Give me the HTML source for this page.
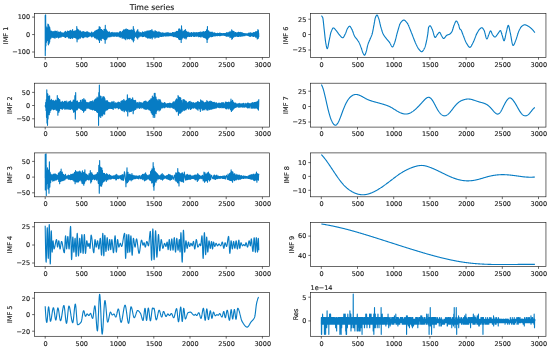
<!DOCTYPE html>
<html lang="en"><head><meta charset="utf-8"><title>Time series</title>
<style>html,body{margin:0;padding:0;background:#fff}body{width:550px;height:351px;overflow:hidden}svg{display:block;filter:blur(0.3px)}text{font-family:"DejaVu Sans","Liberation Sans",sans-serif;fill:#1c1c1c;stroke:#1c1c1c;stroke-width:0.15px}.t{font-size:6.5px}.ti{font-size:7.8px}.sp{fill:none;stroke:#1a1a1a;stroke-width:0.65}.tk{stroke:#1a1a1a;stroke-width:0.65;fill:none}.ln{fill:none;stroke:#077cc4;stroke-width:1.12;stroke-linejoin:round;stroke-linecap:butt}</style></head><body>
<svg width="550" height="351" viewBox="0 0 550 351">
<rect width="550" height="351" fill="#fff"/>
<g>
<clipPath id="c0"><rect x="34.4" y="13.5" width="235.2" height="43.9"/></clipPath>
<polyline class="ln" clip-path="url(#c0)" points="45.2,15.3 45.27,55.6 45.34,43.32 45.42,20 45.49,50 45.56,21.17 45.63,14.91 45.71,25.69 45.78,36.09 45.85,45.11 45.92,45.82 46,34.73 46.07,26.15 46.14,31.48 46.21,41.77 46.29,37.43 46.36,27.45 46.43,35.02 46.5,42.16 46.58,29.27 46.65,32.44 46.72,40.73 46.79,29.2 46.87,34.83 46.94,38.16 47.01,27.7 47.08,39.25 47.15,31.37 47.23,34.73 47.3,36.62 47.37,30.42 47.44,39.32 47.52,27.69 47.59,40.47 47.66,30.53 47.73,33.53 47.81,40.27 47.88,24.16 47.95,38.65 48.02,39.41 48.1,24.49 48.17,34.89 48.24,44.14 48.31,32.28 48.39,24.67 48.46,36.23 48.53,44.87 48.6,32.57 48.68,25.02 48.75,38.15 48.82,40.44 48.89,27.72 48.96,33.19 49.04,42.4 49.11,28.6 49.18,33.47 49.25,43.17 49.33,26.86 49.4,35.19 49.47,41.54 49.54,27.67 49.62,35.53 49.69,41.74 49.76,27.61 49.83,37.1 49.91,38.13 49.98,29.12 50.05,39.36 50.12,32.45 50.2,32.98 50.27,38.39 50.34,32.21 50.41,32.55 50.49,37.13 50.56,36.26 50.63,32.21 50.7,31.13 50.77,34.99 50.85,38.29 50.92,36.14 50.99,31.49 51.06,32.66 51.14,37.64 51.21,34.54 51.28,31 51.35,37.29 51.43,34.83 51.5,31.28 51.57,36.89 51.64,35.46 51.72,31.77 51.79,35.69 51.86,36.71 51.93,32.67 52.01,32.64 52.08,36.47 52.15,36.6 52.22,33.84 52.3,31.98 52.37,32.94 52.44,35.15 52.51,36.88 52.58,37.37 52.66,35.64 52.73,33.35 52.8,31.57 52.87,33.05 52.95,36.8 53.02,36.68 53.09,32.53 53.16,33.71 53.24,37.19 53.31,32.42 53.38,33.83 53.45,37.2 53.53,32.23 53.6,33.61 53.67,37.59 53.74,33.73 53.82,31.65 53.89,36.1 53.96,36.69 54.03,32.47 54.11,32.72 54.18,37.04 54.25,35.7 54.32,31.72 54.39,33.68 54.47,37.83 54.54,35.62 54.61,31.65 54.68,32.83 54.76,36.95 54.83,37.16 54.9,33.15 54.97,30.96 55.05,34.53 55.12,38.07 55.19,35.82 55.26,31.98 55.34,32.47 55.41,36.69 55.48,37.06 55.55,33.8 55.63,31.34 55.7,34.02 55.77,36.81 55.84,36.25 55.92,32.97 55.99,32.38 56.06,35.12 56.13,36.88 56.2,34.54 56.28,31.75 56.35,34.54 56.42,37.28 56.49,33.85 56.57,32.18 56.64,37.33 56.71,34.98 56.78,31.61 56.86,37.44 56.93,33.49 57,33.28 57.07,37.15 57.15,31.18 57.22,36.91 57.29,33.22 57.36,34.81 57.44,35.14 57.51,33.32 57.58,36.11 57.65,33.12 57.73,36.31 57.8,33.11 57.87,36.31 57.94,33.13 58.01,36.27 58.09,32.88 58.16,35.97 58.23,32.84 58.3,36.49 58.38,32.23 58.45,37.83 58.52,32.45 58.59,33.65 58.67,37.85 58.74,34.63 58.81,31.89 58.88,32.59 58.96,35.43 59.03,37.47 59.1,37.13 59.17,36.24 59.25,34.32 59.32,32.94 59.39,32.53 59.46,33.01 59.54,33.68 59.61,34.9 59.68,36.07 59.75,37.18 59.82,36.54 59.9,34.56 59.97,32.61 60.04,32.35 60.11,35.03 60.19,37.07 60.26,34.44 60.33,31.93 60.4,35.48 60.48,36.52 60.55,32.07 60.62,34.57 60.69,36.96 60.77,32.16 60.84,34.32 60.91,37.02 60.98,32.99 61.06,32.39 61.13,35.83 61.2,36.97 61.27,35.11 61.35,33.59 61.42,32.72 61.49,33.02 61.56,33.55 61.63,34.42 61.71,35.53 61.78,36.28 61.85,36.2 61.92,35.38 62,33.59 62.07,32.94 62.14,35.42 62.21,35.48 62.29,32.84 62.36,35.41 62.43,34.9 62.5,33.18 62.58,36.07 62.65,34.15 62.72,33.53 62.79,36.18 62.87,33.88 62.94,33.52 63.01,36.29 63.08,33.73 63.16,33.64 63.23,36.45 63.3,33.34 63.37,33.91 63.44,36.06 63.52,33.74 63.59,33.66 63.66,36.1 63.73,34.67 63.81,32.77 63.88,35.53 63.95,35.72 64.02,32.98 64.1,34.77 64.17,35.89 64.24,32.71 64.31,35.78 64.39,34.28 64.46,33.83 64.53,36.03 64.6,32.43 64.68,37.03 64.75,32.42 64.82,36.94 64.89,32.54 64.97,36.04 65.04,33.54 65.11,34.74 65.18,35.12 65.25,33.14 65.33,36.87 65.4,31.36 65.47,37.54 65.54,32.65 65.62,34.46 65.69,36.46 65.76,31.73 65.83,36.08 65.91,35.7 65.98,32.28 66.05,34.87 66.12,36.91 66.2,33.8 66.27,32.63 66.34,35.22 66.41,36.29 66.49,34.01 66.56,32.73 66.63,35.65 66.7,36.02 66.78,32.56 66.85,34.51 66.92,36.51 66.99,32.43 67.06,35.3 67.14,36.08 67.21,31.87 67.28,36.44 67.35,35.4 67.43,31.04 67.5,36.6 67.57,36.1 67.64,31.66 67.72,35.64 67.79,36.14 67.86,32.27 67.93,36.63 68.01,33.62 68.08,34.4 68.15,35.66 68.22,32.89 68.3,36.98 68.37,31.58 68.44,37.97 68.51,31.8 68.59,36.13 68.66,35.44 68.73,31.54 68.8,37.24 68.87,35.15 68.95,31.21 69.02,36.44 69.09,36.44 69.16,31.44 69.24,36.62 69.31,35.51 69.38,31.92 69.45,37.97 69.53,32.7 69.6,34 69.67,37.32 69.74,31.05 69.82,35.23 69.89,37.63 69.96,32.21 70.03,32.06 70.11,36.97 70.18,38.21 70.25,33.36 70.32,30.25 70.4,34.79 70.47,38.4 70.54,34.23 70.61,30.55 70.68,35.93 70.76,37.71 70.83,32.02 70.9,32.72 70.97,37.74 71.05,34.71 71.12,30.95 71.19,36.41 71.26,36.04 71.34,31.71 71.41,35.84 71.48,35.91 71.55,32.2 71.63,35.3 71.7,36.29 71.77,31.87 71.84,33.72 71.92,37.62 71.99,35.11 72.06,30.55 72.13,33.1 72.21,38.22 72.28,36.75 72.35,30.73 72.42,31.92 72.49,38.32 72.57,35.66 72.64,29.62 72.71,35.07 72.78,38.06 72.86,31.95 72.93,33.27 73,37.26 73.07,33.01 73.15,33.92 73.22,36.49 73.29,31.53 73.36,36.6 73.44,33.48 73.51,34.27 73.58,35.9 73.65,32.22 73.73,37.08 73.8,32.01 73.87,35.37 73.94,36 74.02,31.53 74.09,36.29 74.16,36.72 74.23,31 74.3,33.16 74.38,37.41 74.45,36.48 74.52,32.38 74.59,31.63 74.67,33.96 74.74,36.76 74.81,37.31 74.88,36.04 74.96,33.71 75.03,31.23 75.1,31.04 75.17,33.61 75.25,37.01 75.32,37.36 75.39,34.37 75.46,31.42 75.54,34.17 75.61,37.82 75.68,33.65 75.75,31.99 75.83,37.54 75.9,35.15 75.97,30.81 76.04,37.68 76.11,36.06 76.19,30.26 76.26,36.28 76.33,38.2 76.4,30.84 76.48,31.9 76.55,37.23 76.62,37.28 76.69,33.17 76.77,26.55 76.84,29.57 76.91,34.92 76.98,39.37 77.06,41.82 77.13,40 77.2,37.13 77.27,33.46 77.35,30.22 77.42,29.06 77.49,29.68 77.56,32.67 77.64,36.81 77.71,38.94 77.78,37.71 77.85,34.2 77.92,31.44 78,32.7 78.07,37.08 78.14,37.84 78.21,31.65 78.29,31.63 78.36,38.9 78.43,36.09 78.5,29.78 78.58,34.44 78.65,39.04 78.72,34.52 78.79,29.98 78.87,32.81 78.94,37.64 79.01,38.72 79.08,35.82 79.16,32.37 79.23,31.39 79.3,32.89 79.37,35.24 79.45,36.74 79.52,36.49 79.59,34.26 79.66,32.33 79.73,32.74 79.81,34.91 79.88,37.44 79.95,36.51 80.02,33.4 80.1,30.82 80.17,32.43 80.24,36.41 80.31,38.24 80.39,34.9 80.46,31.02 80.53,33.55 80.6,37.39 80.68,34.46 80.75,31.88 80.82,36.8 80.89,35.3 80.97,31.97 81.04,35.86 81.11,35.5 81.18,32.52 81.26,34.92 81.33,36.35 81.4,33.82 81.47,32.35 81.54,34.76 81.62,36.74 81.69,35.27 81.76,32.66 81.83,32.35 81.91,34.83 81.98,37.02 82.05,36.55 82.12,34.76 82.2,32.62 82.27,31.87 82.34,32.2 82.41,33.4 82.49,35.31 82.56,37.22 82.63,37.62 82.7,36.93 82.78,34.97 82.85,32.36 82.92,31.7 82.99,32.5 83.07,35.92 83.14,37.55 83.21,35.85 83.28,31.98 83.35,31.82 83.43,35.55 83.5,37.75 83.57,33.91 83.64,31.62 83.72,35.64 83.79,36.5 83.86,32.49 83.93,34.22 84.01,36.45 84.08,32.86 84.15,34.37 84.22,36.23 84.3,32.48 84.37,35.73 84.44,35.03 84.51,32.25 84.59,37 84.66,34.07 84.73,32.23 84.8,36.44 84.88,36.08 84.95,33.04 85.02,32.22 85.09,34.77 85.16,36.24 85.24,35.18 85.31,32.82 85.38,33.86 85.45,36.28 85.53,33.9 85.6,33.53 85.67,36.43 85.74,32.79 85.82,35.09 85.89,35.23 85.96,32.39 86.03,36.97 86.11,32.39 86.18,34.86 86.25,35.92 86.32,31.9 86.4,36.99 86.47,32.49 86.54,35.03 86.61,35.44 86.69,32.58 86.76,36.15 86.83,34.4 86.9,33.01 86.97,35.61 87.05,36.79 87.12,34.58 87.19,32.47 87.26,31.95 87.34,33.32 87.41,35.15 87.48,36.46 87.55,37.3 87.63,36.04 87.7,33.75 87.77,31.9 87.84,33.07 87.92,36.28 87.99,35.96 88.06,32.36 88.13,35.28 88.21,35.55 88.28,32.42 88.35,36.78 88.42,32.69 88.5,36.38 88.57,32.79 88.64,35.99 88.71,33.18 88.78,35.94 88.86,33.31 88.93,35.92 89,33.19 89.07,35.94 89.15,33.06 89.22,35.96 89.29,32.9 89.36,36.13 89.44,33.2 89.51,35.18 89.58,35.09 89.65,33.11 89.73,35.67 89.8,35.17 89.87,33.04 89.94,34.62 90.02,35.71 90.09,33.89 90.16,33.76 90.23,35.8 90.31,34.3 90.38,33.65 90.45,35.75 90.52,34.19 90.59,33.84 90.67,35.75 90.74,34.04 90.81,33.6 90.88,35.98 90.96,34.49 91.03,33.04 91.1,35.89 91.17,34.76 91.25,33.05 91.32,36.61 91.39,32.24 91.46,36.45 91.54,32.34 91.61,36.54 91.68,32.33 91.75,36.89 91.83,32.18 91.9,36.91 91.97,32.5 92.04,35.73 92.12,35.16 92.19,32.71 92.26,35.08 92.33,36.11 92.4,34.55 92.48,33.16 92.55,33.73 92.62,35.56 92.69,35.92 92.77,33.76 92.84,33.05 92.91,35.41 92.98,36.16 93.06,33.43 93.13,33.27 93.2,35.75 93.27,35.83 93.35,33.34 93.42,33.51 93.49,35.98 93.56,35.26 93.64,32.58 93.71,35.62 93.78,34.76 93.85,33.46 93.93,36 94,32.77 94.07,36.47 94.14,32.54 94.21,36.85 94.29,32.23 94.36,37.29 94.43,31.76 94.5,37.06 94.58,31.74 94.65,37.47 94.72,31.84 94.79,37.1 94.87,31.83 94.94,37.84 95.01,31.61 95.08,36.48 95.16,35.14 95.23,30.93 95.3,35.97 95.37,37.99 95.45,33.89 95.52,30.98 95.59,33.71 95.66,37.31 95.74,35.68 95.81,32.75 95.88,33.44 95.95,37.15 96.02,35.5 96.1,31.27 96.17,33.85 96.24,37.95 96.31,36.37 96.39,32.28 96.46,30.34 96.53,32.2 96.6,35.59 96.68,37.83 96.75,39.07 96.82,37.47 96.89,34.34 96.97,30.19 97.04,31.67 97.11,37.58 97.18,36.94 97.26,29.96 97.33,38.03 97.4,33.17 97.47,34.64 97.55,35.06 97.62,33.64 97.69,35.72 97.76,32.99 97.83,36.88 97.91,30.87 97.98,39.28 98.05,29.83 98.12,36.74 98.2,36.97 98.27,29.35 98.34,38.8 98.41,34.88 98.49,30.8 98.56,39.88 98.63,31.18 98.7,35.22 98.78,36.33 98.85,30.4 98.92,39.25 98.99,30.51 99.07,36.67 99.14,35.49 99.21,26.55 99.28,39.31 99.36,32.82 99.43,30.9 99.5,42.55 99.57,32.68 99.64,30.59 99.72,39.62 99.79,34.71 99.86,28.64 99.93,37.34 100.01,39.75 100.08,31.47 100.15,27.31 100.22,33.94 100.3,39.26 100.37,39.06 100.44,34.53 100.51,29.66 100.59,29.3 100.66,33.25 100.73,37.47 100.8,38.06 100.88,36.4 100.95,32.14 101.02,29.8 101.09,31.29 101.17,36.5 101.24,40.53 101.31,37.43 101.38,31.34 101.45,29.54 101.53,36.72 101.6,38.38 101.67,29.46 101.74,36.21 101.82,36.54 101.89,30.01 101.96,38.51 102.03,31.93 102.11,34.14 102.18,37.69 102.25,31.36 102.32,34.25 102.4,37.82 102.47,34.26 102.54,30.51 102.61,33.51 102.69,37.36 102.76,38.12 102.83,34.13 102.9,31.39 102.98,33.14 103.05,37.26 103.12,35.86 103.19,32.21 103.26,34.5 103.34,37 103.41,32.4 103.48,34.25 103.55,37.73 103.63,31.81 103.7,32.78 103.77,38.67 103.84,37.28 103.92,32.6 103.99,29.23 104.06,30.14 104.13,31.43 104.21,34.8 104.28,38.14 104.35,39.46 104.42,39.25 104.5,36.84 104.57,34.37 104.64,31.55 104.71,29.49 104.79,32.26 104.86,38.98 104.93,39.8 105,30.33 105.07,29.83 105.15,43.27 105.22,35.89 105.29,25.38 105.36,38.83 105.44,33.45 105.51,32.63 105.58,37.92 105.65,30.46 105.73,38.91 105.8,28.95 105.87,39.71 105.94,30.14 106.02,38.43 106.09,31.82 106.16,34.69 106.23,37.21 106.31,29.7 106.38,38.21 106.45,33.27 106.52,32.39 106.6,38.14 106.67,30.46 106.74,38.92 106.81,30.82 106.88,37.96 106.96,30.86 107.03,37.63 107.1,31.74 107.17,37.86 107.25,31.49 107.32,37.27 107.39,31.77 107.46,36.64 107.54,33.16 107.61,34.49 107.68,36.64 107.75,31.71 107.83,36.12 107.9,35.58 107.97,32.07 108.04,35.06 108.12,36.83 108.19,33.16 108.26,33.07 108.33,36.62 108.41,34.06 108.48,33.42 108.55,36.39 108.62,32.6 108.69,36.62 108.77,32.77 108.84,36.64 108.91,32.62 108.98,36.62 109.06,31.96 109.13,36.93 109.2,31.96 109.27,36.97 109.35,31.89 109.42,36.85 109.49,32.11 109.56,36.57 109.64,33.73 109.71,33.97 109.78,36.29 109.85,32.55 109.93,35.97 110,34.74 110.07,33.09 110.14,36.2 110.22,34.1 110.29,33.34 110.36,36.3 110.43,33.86 110.5,33.61 110.58,36.29 110.65,33.49 110.72,33.65 110.79,36.66 110.87,33.84 110.94,33.29 111.01,36.31 111.08,34.48 111.16,32.83 111.23,35.94 111.3,34.45 111.37,33.34 111.45,36.03 111.52,33.49 111.59,34.13 111.66,36.22 111.74,32.6 111.81,35.04 111.88,36.03 111.95,32.56 112.03,35.08 112.1,36.13 112.17,32.29 112.24,35.62 112.31,34.5 112.39,33.96 112.46,35.36 112.53,33.57 112.6,35.59 112.68,33.4 112.75,35.67 112.82,33.36 112.89,35.92 112.97,33.45 113.04,35.62 113.11,33.51 113.18,35.76 113.26,33.32 113.33,36.02 113.4,32.93 113.47,36.19 113.55,33.34 113.62,35.12 113.69,34.92 113.76,33.17 113.84,36 113.91,34.24 113.98,32.97 114.05,35.7 114.12,35.76 114.2,33.44 114.27,33.01 114.34,35.04 114.41,36.12 114.49,34.76 114.56,32.93 114.63,34.41 114.7,36.06 114.78,33.53 114.85,34.06 114.92,36.07 114.99,32.79 115.07,35.65 115.14,34.36 115.21,33.78 115.28,36 115.36,32.84 115.43,35.71 115.5,34.86 115.57,33.2 115.65,35.96 115.72,34.07 115.79,33.94 115.86,35.63 115.93,33.32 116.01,35.62 116.08,33.5 116.15,35.61 116.22,33.32 116.3,35.75 116.37,33.46 116.44,35.44 116.51,34.56 116.59,33.05 116.66,36.35 116.73,34.63 116.8,32.68 116.88,33.54 116.95,35.31 117.02,36.34 117.09,36.52 117.17,36.08 117.24,34.87 117.31,33.75 117.38,32.86 117.46,33.02 117.53,33.33 117.6,34.3 117.67,35.16 117.74,35.84 117.82,35.72 117.89,35.21 117.96,34.06 118.03,33.27 118.11,34.8 118.18,35.69 118.25,33.41 118.32,34.72 118.4,35.41 118.47,33.18 118.54,35.86 118.61,33.49 118.69,35 118.76,35.05 118.83,33.08 118.9,36.15 118.98,33.77 119.05,33.63 119.12,36.63 119.19,33.76 119.27,32.9 119.34,36.65 119.41,34.68 119.48,32.1 119.55,36.4 119.63,35.56 119.7,32.07 119.77,35.93 119.84,35.87 119.92,31.97 119.99,35.74 120.06,36.87 120.13,32.44 120.21,32.33 120.28,36.14 120.35,37.25 120.42,34.74 120.5,31.51 120.57,32.27 120.64,36.04 120.71,37.08 120.79,33.25 120.86,33.01 120.93,36.9 121,34.26 121.08,33.27 121.15,36.24 121.22,33.81 121.29,32.95 121.36,36.32 121.44,35.67 121.51,32.6 121.58,32.78 121.65,34.72 121.73,36.41 121.8,36.18 121.87,34.37 121.94,32.13 122.02,32.55 122.09,36.13 122.16,38.27 122.23,34.54 122.31,31.26 122.38,33.87 122.45,37.97 122.52,34.23 122.6,31.27 122.67,37.4 122.74,34.09 122.81,32.76 122.89,36.91 122.96,31.39 123.03,37.5 123.1,31.94 123.17,37.25 123.25,31.43 123.32,37.58 123.39,31.58 123.46,38.01 123.54,30.06 123.61,37.19 123.68,36 123.75,29.93 123.83,35.16 123.9,38.3 123.97,33.03 124.04,30.67 124.12,36.78 124.19,37.37 124.26,30.17 124.33,35.26 124.41,37.51 124.48,30.31 124.55,37.25 124.62,35.07 124.7,31.05 124.77,38.37 124.84,32.78 124.91,31.22 124.98,38.88 125.06,35.04 125.13,29.59 125.2,33.41 125.27,38.52 125.35,38.3 125.42,34.76 125.49,31.07 125.56,30.1 125.64,31.85 125.71,35.71 125.78,39.64 125.85,36.27 125.93,30.86 126,33.86 126.07,37.29 126.14,28.73 126.22,37.13 126.29,31.35 126.36,36.96 126.43,31.94 126.51,37.19 126.58,31.77 126.65,37.75 126.72,30.96 126.79,37.44 126.87,32.54 126.94,33.59 127.01,38.21 127.08,29.86 127.16,36.03 127.23,37.16 127.3,29.6 127.37,36.28 127.45,37.38 127.52,29.8 127.59,34.16 127.66,38.9 127.74,33.94 127.81,29.62 127.88,33.88 127.95,37.53 128.03,36.89 128.1,33.96 128.17,31.51 128.24,32.52 128.32,35.33 128.39,38.37 128.46,38.17 128.53,34.72 128.6,30.85 128.68,30.31 128.75,32.55 128.82,36.55 128.89,38.53 128.97,38.55 129.04,35 129.11,31.26 129.18,30.26 129.26,32.97 129.33,38.04 129.4,38.97 129.47,33.17 129.55,30.35 129.62,37.64 129.69,35.04 129.76,32.11 129.84,37.13 129.91,31.62 129.98,37.38 130.05,31.01 130.13,37.97 130.2,31.33 130.27,37.53 130.34,33.47 130.41,32.62 130.49,37.83 130.56,34.33 130.63,30.29 130.7,35.02 130.78,38.53 130.85,34.45 130.92,30.01 130.99,35.64 131.07,38.17 131.14,30.66 131.21,34.23 131.28,38.59 131.36,29.7 131.43,33.89 131.5,38.97 131.57,32.75 131.65,30.11 131.72,36.82 131.79,37.77 131.86,32.99 131.94,30.91 132.01,35.92 132.08,38.99 132.15,31.8 132.22,30.95 132.3,39.87 132.37,30.24 132.44,36.23 132.51,33.88 132.59,34.66 132.66,34.43 132.73,34.65 132.8,34.44 132.88,34.68 132.95,34.41 133.02,34.06 133.09,36.2 133.17,31.13 133.24,39.9 133.31,26.55 133.38,41.82 133.46,29.08 133.53,36.28 133.6,36.21 133.67,28.87 133.75,40.12 133.82,31.43 133.89,31.9 133.96,40.45 134.03,32.96 134.11,29.64 134.18,37.58 134.25,37.85 134.32,31.31 134.4,31.43 134.47,37.74 134.54,35.9 134.61,31.19 134.69,35.07 134.76,37.08 134.83,32.78 134.9,33.82 134.98,36.57 135.05,33.62 135.12,33.62 135.19,36.56 135.27,33.17 135.34,35.1 135.41,34.77 135.48,33.9 135.56,35.43 135.63,33.7 135.7,35.64 135.77,33.44 135.84,35.67 135.92,33.25 135.99,36.2 136.06,32.67 136.13,36.16 136.21,32.88 136.28,36.3 136.35,32.92 136.42,36.41 136.5,32.87 136.57,36.36 136.64,31.8 136.71,37.67 136.79,31.25 136.86,37.22 136.93,32.67 137,34.18 137.08,36.38 137.15,30.63 137.22,37.75 137.29,31.11 137.37,36.32 137.44,33.38 137.51,34.93 137.58,34.88 137.65,33.22 137.73,38.91 137.8,29.45 137.87,36.38 137.94,34.86 138.02,31.59 138.09,36.85 138.16,34.84 138.23,32.11 138.31,36.32 138.38,35.23 138.45,32.16 138.52,35.36 138.6,36.2 138.67,32.61 138.74,33.39 138.81,37.19 138.89,34.34 138.96,31.98 139.03,36.18 139.1,35.09 139.18,31.94 139.25,36.72 139.32,33.28 139.39,34.89 139.46,34.72 139.54,34.23 139.61,34.8 139.68,34.27 139.75,34.78 139.83,34.23 139.9,34.8 139.97,34.21 140.04,34.84 140.12,34.19 140.19,35.11 140.26,33.33 140.33,36.03 140.41,32.59 140.48,35.59 140.55,35.39 140.62,32.72 140.7,33.67 140.77,35.67 140.84,36.31 140.91,35.98 140.99,35.21 141.06,34.17 141.13,33.61 141.2,33.13 141.27,33.43 141.35,34.02 141.42,34.9 141.49,35.88 141.56,35.88 141.64,33.64 141.71,32.94 141.78,35.69 141.85,35.61 141.93,33.09 142,34.33 142.07,35.71 142.14,34.29 142.22,32.87 142.29,34.78 142.36,36.58 142.43,34.66 142.51,31.93 142.58,33.91 142.65,36.46 142.72,35.86 142.8,32.36 142.87,32.79 142.94,35.64 143.01,36.17 143.08,33.99 143.16,32.82 143.23,34.99 143.3,36.26 143.37,33.04 143.45,33.79 143.52,36.52 143.59,32.36 143.66,35.77 143.74,34.48 143.81,33.42 143.88,36.23 143.95,32.46 144.03,36.27 144.1,32.92 144.17,35.96 144.24,33.23 144.32,35.87 144.39,33.01 144.46,35.83 144.53,32.8 144.61,35.89 144.68,33.33 144.75,34.88 144.82,35.83 144.89,31.63 144.97,35.98 145.04,36.18 145.11,32.6 145.18,32.78 145.26,35.96 145.33,35.92 145.4,32.5 145.47,34.31 145.55,36.81 145.62,31.78 145.69,35.48 145.76,35.56 145.84,31.97 145.91,36.99 145.98,34.06 146.05,31.94 146.13,36.84 146.2,36.09 146.27,32.16 146.34,33.42 146.42,37 146.49,34.26 146.56,32.89 146.63,36.4 146.7,33.67 146.78,33.89 146.85,36.66 146.92,31.07 146.99,37.49 147.07,31.58 147.14,36.01 147.21,35.2 147.28,31.6 147.36,37.45 147.43,35.98 147.5,31.48 147.57,31.39 147.65,34.9 147.72,37.41 147.79,38.07 147.86,36.24 147.94,33.32 148.01,30.9 148.08,32.54 148.15,37.26 148.23,36.25 148.3,31.31 148.37,35.42 148.44,35.61 148.51,32.36 148.59,36.49 148.66,32.79 148.73,34.84 148.8,36.14 148.88,31.1 148.95,38.01 149.02,33.23 149.09,32.23 149.17,37.78 149.24,32.95 149.31,32.18 149.38,37.83 149.46,32.65 149.53,33.71 149.6,37.14 149.67,31.1 149.75,35.36 149.82,36.46 149.89,30.66 149.96,36.84 150.04,36.26 150.11,30.92 150.18,34.85 150.25,38.17 150.32,33.94 150.4,30.74 150.47,34.33 150.54,38.23 150.61,35.3 150.69,30.82 150.76,34.97 150.83,37.8 150.9,30.64 150.98,36.05 151.05,35.25 151.12,32.16 151.19,37.73 151.27,31.22 151.34,36.76 151.41,33.47 151.48,33.16 151.56,37 151.63,32.7 151.7,32.87 151.77,36.47 151.85,35.22 151.92,29.45 151.99,35.26 152.06,35.85 152.13,32.09 152.21,38.91 152.28,32.01 152.35,37.03 152.42,32.04 152.5,36.99 152.57,31.44 152.64,37.17 152.71,31.37 152.79,37.12 152.86,31.82 152.93,37.14 153,31.23 153.08,37.04 153.15,31.38 153.22,36.98 153.29,32.12 153.37,35.11 153.44,35.73 153.51,32.17 153.58,36.13 153.66,34.97 153.73,32.32 153.8,36.89 153.87,33.09 153.94,34.67 154.02,35.45 154.09,32.81 154.16,36.55 154.23,32.24 154.31,36.81 154.38,31.98 154.45,36.66 154.52,32.48 154.6,36.03 154.67,33.74 154.74,34.19 154.81,36.09 154.89,31.8 154.96,38.14 155.03,30.66 155.1,37.41 155.18,32.58 155.25,34.1 155.32,37.18 155.39,30.94 155.47,35.9 155.54,36.69 155.61,32.28 155.68,33.28 155.75,36.94 155.83,36.22 155.9,32.98 155.97,32.25 156.04,34.71 156.12,37.09 156.19,34.93 156.26,31.89 156.33,35.14 156.41,36.47 156.48,31.63 156.55,36.64 156.62,33.18 156.7,34.87 156.77,35.04 156.84,33.44 156.91,36.39 156.99,32.21 157.06,37.21 157.13,32.09 157.2,36.38 157.28,33.91 157.35,33.51 157.42,36.68 157.49,32.77 157.56,33.87 157.64,36.99 157.71,34.3 157.78,32.21 157.85,35.27 157.93,36.43 158,33.01 158.07,33.48 158.14,37.02 158.22,32.7 158.29,35.29 158.36,34.74 158.43,33.79 158.51,35.57 158.58,33.01 158.65,36.3 158.72,31.76 158.8,37.5 158.87,33 158.94,33.09 159.01,37.1 159.09,36.34 159.16,33.67 159.23,31.98 159.3,32.23 159.37,33.85 159.45,35.6 159.52,36.25 159.59,35.92 159.66,34.15 159.74,33.21 159.81,34.13 159.88,36.05 159.95,34.95 160.03,32.84 160.1,34.78 160.17,36.29 160.24,33.77 160.32,32.61 160.39,34.75 160.46,36.39 160.53,35.74 160.61,34.47 160.68,33.38 160.75,33.35 160.82,33.44 160.9,34.25 160.97,35.19 161.04,36.02 161.11,34.92 161.18,33.15 161.26,34.07 161.33,36.34 161.4,33.79 161.47,33.45 161.55,36.38 161.62,33.64 161.69,33.86 161.76,36.29 161.84,33.33 161.91,33.68 161.98,36.5 162.05,33.99 162.13,32.85 162.2,35.86 162.27,35.13 162.34,33.31 162.42,34.83 162.49,35.49 162.56,33.65 162.63,34.81 162.71,35.21 162.78,33.28 162.85,35.94 162.92,32.82 162.99,36.01 163.07,33.3 163.14,35.44 163.21,34.14 163.28,33.97 163.36,36.2 163.43,33.2 163.5,34.36 163.57,35.94 163.65,34.53 163.72,33.41 163.79,34.01 163.86,35.22 163.94,35.54 164.01,34.67 164.08,33.33 164.15,33.4 164.23,35.06 164.3,35.86 164.37,34.59 164.44,33.28 164.52,34.49 164.59,35.59 164.66,34.08 164.73,33.67 164.8,35.3 164.88,34.83 164.95,33.53 165.02,34.56 165.09,35.7 165.17,34.96 165.24,33.61 165.31,33.09 165.38,33.52 165.46,34.45 165.53,35.24 165.6,35.9 165.67,36.1 165.75,35.48 165.82,34.66 165.89,33.72 165.96,33.09 166.04,33.43 166.11,33.78 166.18,34.48 166.25,35 166.33,35.59 166.4,35.45 166.47,34.8 166.54,33.42 166.61,32.84 166.69,34.63 166.76,35.86 166.83,34.61 166.9,33.15 166.98,35.37 167.05,34.77 167.12,33.4 167.19,35.81 167.27,33.16 167.34,35.76 167.41,33.1 167.48,35.84 167.56,33.31 167.63,35.65 167.7,33.06 167.77,35.75 167.85,32.9 167.92,35.15 167.99,35.08 168.06,33.1 168.14,34.97 168.21,35.69 168.28,33.92 168.35,32.85 168.42,34.53 168.5,35.92 168.57,35.49 168.64,33.73 168.71,33.02 168.79,34.1 168.86,35.54 168.93,35.55 169,33.69 169.08,33.3 169.15,35.41 169.22,35.53 169.29,33.36 169.37,34.18 169.44,35.6 169.51,33.85 169.58,33.91 169.66,35.61 169.73,33.85 169.8,34.34 169.87,35.32 169.95,33.43 170.02,35.34 170.09,34.32 170.16,33.98 170.23,35.52 170.31,33.7 170.38,34.87 170.45,35.06 170.52,33.52 170.6,35.41 170.67,34.49 170.74,33.67 170.81,35.81 170.89,33.16 170.96,35.47 171.03,34.05 171.1,34.6 171.18,34.79 171.25,34.01 171.32,35.4 171.39,33.52 171.47,35.55 171.54,34.08 171.61,33.93 171.68,35.48 171.76,33.94 171.83,33.96 171.9,35.83 171.97,34.1 172.04,33.84 172.12,35.93 172.19,33.51 172.26,34.6 172.33,35.63 172.41,32.62 172.48,35.98 172.55,34.75 172.62,32.84 172.7,35.78 172.77,35.85 172.84,33.54 172.91,32.58 172.99,33.65 173.06,34.78 173.13,35.89 173.2,36.16 173.28,36.37 173.35,35.52 173.42,34.28 173.49,33.13 173.57,32.62 173.64,32.69 173.71,33.8 173.78,35.45 173.85,36.57 173.93,34.85 174,32.82 174.07,34.75 174.14,35.9 174.22,33.14 174.29,35.16 174.36,34.89 174.43,33.56 174.51,35.94 174.58,33.03 174.65,36.13 174.72,32.58 174.8,36.21 174.87,32.44 174.94,36.54 175.01,32.27 175.09,36.75 175.16,32.16 175.23,36.5 175.3,32.71 175.38,36.2 175.45,33.9 175.52,33.53 175.59,36.81 175.66,33.12 175.74,33.16 175.81,36.47 175.88,35.98 175.95,33.08 176.03,32.38 176.1,34.32 176.17,36.84 176.24,36.83 176.32,35.26 176.39,32.29 176.46,31.39 176.53,32.62 176.61,36.06 176.68,37.29 176.75,34.64 176.82,31.79 176.9,34.76 176.97,37.19 177.04,31.6 177.11,35.62 177.19,35.56 177.26,32.14 177.33,37.25 177.4,31.77 177.47,37.49 177.55,31.35 177.62,37.33 177.69,31.85 177.76,36.83 177.84,32.18 177.91,36.54 177.98,32.23 178.05,36.77 178.13,32.15 178.2,36.91 178.27,32.19 178.34,36.87 178.42,31.89 178.49,37.93 178.56,30.87 178.63,38.85 178.71,28.94 178.78,38.89 178.85,29.72 178.92,36.91 179,34.6 179.07,32.37 179.14,38.35 179.21,29.33 179.28,39.61 179.36,28.99 179.43,39.02 179.5,31.63 179.57,34.33 179.65,38.13 179.72,28.93 179.79,37.06 179.86,38.05 179.94,30.18 180.01,32.51 180.08,39.37 180.15,33.55 180.23,29.81 180.3,38.68 180.37,33.61 180.44,32.21 180.52,37.99 180.59,30.55 180.66,37.75 180.73,31.18 180.81,36.84 180.88,33.12 180.95,34.26 181.02,36.82 181.09,30.33 181.17,42.55 181.24,34.62 181.31,29.99 181.38,38.63 181.46,35.93 181.53,25.82 181.6,37.76 181.67,35.82 181.75,30.12 181.82,39.25 181.89,29.12 181.96,38.85 182.04,29.98 182.11,38.27 182.18,30.98 182.25,38.02 182.33,31.69 182.4,37.89 182.47,32 182.54,37.43 182.62,31.99 182.69,37.18 182.76,32.22 182.83,37.34 182.9,31.98 182.98,36.83 183.05,32.95 183.12,35.03 183.19,35.89 183.27,31.65 183.34,36.34 183.41,35.72 183.48,31.93 183.56,34.08 183.63,37.29 183.7,35.5 183.77,31.8 183.85,32.24 183.92,36.63 183.99,37.56 184.06,33.53 184.14,30.54 184.21,34.76 184.28,38.21 184.35,34.76 184.43,30.9 184.5,34.05 184.57,37.68 184.64,34.84 184.71,30.72 184.79,35.05 184.86,38.04 184.93,31.81 185,32.54 185.08,37.72 185.15,31.92 185.22,34.05 185.29,37.2 185.37,29.45 185.44,36.16 185.51,35.14 185.58,31.92 185.66,36 185.73,35.96 185.8,32.45 185.87,31.97 185.95,35.09 186.02,38.91 186.09,36.87 186.16,34.32 186.24,31.22 186.31,31.3 186.38,36.09 186.45,38 186.52,32.59 186.6,32.19 186.67,37.54 186.74,31.8 186.81,34.94 186.89,35.46 186.96,32.7 187.03,36.5 187.1,32.31 187.18,36.48 187.25,32.5 187.32,36.24 187.39,32.43 187.47,36.15 187.54,33.05 187.61,35.46 187.68,34.5 187.76,33.23 187.83,36.42 187.9,33.91 187.97,32.41 188.05,35.46 188.12,36.33 188.19,34.43 188.26,32.13 188.33,32.94 188.41,35.29 188.48,36.28 188.55,35.68 188.62,34.14 188.7,32.99 188.77,33.37 188.84,35.05 188.91,36.09 188.99,35.25 189.06,33.15 189.13,32.77 189.2,35.59 189.28,36.27 189.35,33.09 189.42,33.64 189.49,36.39 189.57,33.23 189.64,34.41 189.71,35.64 189.78,32.94 189.86,35.67 189.93,33.84 190,34.63 190.07,35.03 190.14,33.31 190.22,35.94 190.29,33.54 190.36,34.05 190.43,36.09 190.51,33.48 190.58,33.36 190.65,35.75 190.72,35.62 190.8,33.27 190.87,32.91 190.94,35.32 191.01,36.21 191.09,33.5 191.16,32.93 191.23,35.8 191.3,35.66 191.38,32.94 191.45,34.3 191.52,36.38 191.59,33.23 191.67,34.49 191.74,35.68 191.81,32.47 191.88,36.1 191.95,32.61 192.03,35.97 192.1,32.94 192.17,35.9 192.24,33.15 192.32,35.52 192.39,33.49 192.46,35.22 192.53,34.22 192.61,34.2 192.68,35.5 192.75,33.52 192.82,34.03 192.9,35.53 192.97,34.97 193.04,33.73 193.11,33.65 193.19,34.7 193.26,35.74 193.33,35.76 193.4,34.64 193.48,32.96 193.55,32.71 193.62,34.63 193.69,36.45 193.76,34.86 193.84,32.43 193.91,35.18 193.98,35.61 194.05,33.1 194.13,35.91 194.2,33.77 194.27,34.86 194.34,34.55 194.42,34.25 194.49,35.15 194.56,33.49 194.63,36.12 194.71,32.87 194.78,36.47 194.85,33.43 194.92,34.35 195,36 195.07,32.82 195.14,35.5 195.21,34.74 195.29,33.58 195.36,35.83 195.43,33.58 195.5,35.57 195.57,33.57 195.65,35.29 195.72,34.03 195.79,34.84 195.86,34.71 195.94,33.82 196.01,35.77 196.08,32.66 196.15,36.09 196.23,33.93 196.3,33.97 196.37,35.69 196.44,33.29 196.52,35.22 196.59,34.57 196.66,33.66 196.73,36.2 196.81,32.73 196.88,35.26 196.95,35.25 197.02,32.66 197.1,36.2 197.17,34.65 197.24,32.7 197.31,36.04 197.38,35.24 197.46,33.01 197.53,35.14 197.6,35.48 197.67,33.13 197.75,35.09 197.82,35.04 197.89,33.33 197.96,35.8 198.04,33.39 198.11,35.67 198.18,33.88 198.25,34.93 198.33,34.73 198.4,33.76 198.47,36.1 198.54,32.65 198.62,36.62 198.69,33.35 198.76,34.04 198.83,36.7 198.91,32.59 198.98,35.24 199.05,35.47 199.12,32.96 199.19,35.86 199.27,32.94 199.34,35.94 199.41,32.61 199.48,36.53 199.56,32.19 199.63,36.39 199.7,32.49 199.77,36.37 199.85,33.47 199.92,34.32 199.99,36.36 200.06,33.11 200.14,33.43 200.21,35.68 200.28,36.37 200.35,34.47 200.43,32.54 200.5,32.97 200.57,35.16 200.64,36.93 200.72,36.23 200.79,33.65 200.86,31.91 200.93,33.1 201,35.55 201.08,36.97 201.15,35.72 201.22,32.91 201.29,32.21 201.37,34.42 201.44,36.36 201.51,35.73 201.58,33.53 201.66,32.69 201.73,34.3 201.8,35.91 201.87,35.71 201.95,34.05 202.02,32.99 202.09,33.82 202.16,35.81 202.24,35.77 202.31,34 202.38,32.47 202.45,34.21 202.53,36.22 202.6,35.86 202.67,32.99 202.74,32.58 202.81,35.26 202.89,36.84 202.96,34.14 203.03,31.59 203.1,35.32 203.18,37.06 203.25,32.31 203.32,33.29 203.39,37.05 203.47,33.58 203.54,32.55 203.61,37.21 203.68,34.18 203.76,31.74 203.83,36.97 203.9,34.12 203.97,32.64 204.05,37.56 204.12,31.85 204.19,37.19 204.26,32.31 204.34,35.93 204.41,33.47 204.48,35.02 204.55,34.83 204.62,33.14 204.7,36.66 204.77,32.61 204.84,34.88 204.91,36.78 204.99,32.84 205.06,32.11 205.13,35.39 205.2,37.98 205.28,36.37 205.35,32.37 205.42,31.58 205.49,35.03 205.57,37.89 205.64,33.62 205.71,31.71 205.78,37.42 205.86,34.28 205.93,32.63 206,37.76 206.07,31.36 206.15,37.83 206.22,31.52 206.29,38.17 206.36,31.18 206.43,38.89 206.51,30.06 206.58,38.73 206.65,29.88 206.72,39.22 206.8,30.54 206.87,36.3 206.94,36.7 207.01,29.38 207.09,42.55 207.16,36.07 207.23,29.57 207.3,36.6 207.38,36.15 207.45,26.55 207.52,37.25 207.59,34.95 207.67,30.7 207.74,39.36 207.81,32.27 207.88,32.65 207.96,38.24 208.03,33.26 208.1,31.44 208.17,37.05 208.24,37.06 208.32,31.49 208.39,32.42 208.46,38.01 208.53,35.13 208.61,30.87 208.68,36.21 208.75,35.82 208.82,31.34 208.9,36.16 208.97,36.11 209.04,31.81 209.11,35.09 209.19,36.67 209.26,32.15 209.33,33.5 209.4,37.2 209.48,33.63 209.55,32.43 209.62,36.85 209.69,34.01 209.77,33 209.84,36.6 209.91,33 209.98,34.47 210.05,36.05 210.13,31.96 210.2,35.53 210.27,35.72 210.34,32.5 210.42,34.06 210.49,35.83 210.56,35.43 210.63,34.23 210.71,33.11 210.78,32.63 210.85,33.48 210.92,35.05 211,36.61 211.07,36.61 211.14,34.9 211.21,32.82 211.29,32.37 211.36,35.29 211.43,36.71 211.5,33.42 211.58,32.67 211.65,36.48 211.72,34.34 211.79,32.69 211.86,36.54 211.94,33.64 212.01,33.77 212.08,36.51 212.15,32.03 212.23,36.2 212.3,33.73 212.37,34.37 212.44,35.57 212.52,32.96 212.59,36.22 212.66,32.68 212.73,36.33 212.81,32.85 212.88,35.92 212.95,32.93 213.02,35.65 213.1,33.31 213.17,35.76 213.24,33.68 213.31,34.45 213.39,35.94 213.46,34.11 213.53,33.19 213.6,34.59 213.67,35.75 213.75,34.77 213.82,33.41 213.89,34.42 213.96,35.74 214.04,34.14 214.11,33.41 214.18,35.65 214.25,34.94 214.33,33.14 214.4,35.19 214.47,35.48 214.54,32.85 214.62,34.88 214.69,35.89 214.76,32.95 214.83,35.02 214.91,35.19 214.98,33.34 215.05,35.94 215.12,33.35 215.2,35.14 215.27,34.57 215.34,33.98 215.41,35.65 215.48,33.61 215.56,35.02 215.63,34.95 215.7,33.35 215.77,35.54 215.85,34.22 215.92,34.06 215.99,35.5 216.06,33.81 216.14,34.39 216.21,35.58 216.28,33.77 216.35,34.41 216.43,35.41 216.5,34.06 216.57,33.78 216.64,35.25 216.72,35.33 216.79,34.02 216.86,33.65 216.93,34.32 217.01,35.41 217.08,35.66 217.15,34.77 217.22,33.57 217.29,33.35 217.37,34.6 217.44,35.74 217.51,35.08 217.58,33.49 217.66,33.95 217.73,35.6 217.8,34.88 217.87,33.43 217.95,34.74 218.02,35.54 218.09,33.74 218.16,34.23 218.24,35.49 218.31,33.91 218.38,34.39 218.45,35.26 218.53,33.72 218.6,34.69 218.67,35.11 218.74,33.64 218.82,34.73 218.89,35.2 218.96,33.85 219.03,34 219.1,35.42 219.18,34.99 219.25,33.38 219.32,34.09 219.39,35.65 219.47,34.2 219.54,33.81 219.61,35.78 219.68,33.11 219.76,35.52 219.83,33.24 219.9,35.75 219.97,33.29 220.05,35.62 220.12,33.29 220.19,35.6 220.26,33.31 220.34,35.6 220.41,33.46 220.48,34.65 220.55,35.39 220.63,34.15 220.7,33.51 220.77,34.13 220.84,35.15 220.91,35.44 220.99,34.78 221.06,33.55 221.13,34.31 221.2,35.32 221.28,33.63 221.35,35.01 221.42,34.22 221.49,34.69 221.57,34.49 221.64,34.4 221.71,34.91 221.78,33.57 221.86,35.09 221.93,34.77 222,33.58 222.07,34.1 222.15,35.04 222.22,35.24 222.29,34.88 222.36,34.32 222.44,33.86 222.51,33.81 222.58,34.39 222.65,34.81 222.72,34.89 222.8,34.39 222.87,33.82 222.94,34.81 223.01,35.07 223.09,33.48 223.16,34.85 223.23,34.75 223.3,33.9 223.38,35.23 223.45,33.56 223.52,35.26 223.59,33.7 223.67,35.12 223.74,33.93 223.81,35.08 223.88,33.86 223.96,35.06 224.03,33.88 224.1,35.29 224.17,33.75 224.25,35.02 224.32,34.56 224.39,33.88 224.46,35.23 224.53,34.28 224.61,33.91 224.68,35.37 224.75,34.48 224.82,33.48 224.9,35.18 224.97,35.19 225.04,33.73 225.11,33.68 225.19,35.07 225.26,35.49 225.33,34.53 225.4,33.53 225.48,34.15 225.55,35.5 225.62,34.77 225.69,33.59 225.77,35.42 225.84,34.41 225.91,34.06 225.98,35.48 226.06,33.34 226.13,36.12 226.2,33.01 226.27,35.82 226.34,33.94 226.42,33.69 226.49,36.21 226.56,33.8 226.63,32.86 226.71,35.27 226.78,36.14 226.85,34.71 226.92,32.72 227,33.55 227.07,35.58 227.14,35.93 227.21,33.49 227.29,33.51 227.36,36 227.43,34.91 227.5,33.12 227.58,35.29 227.65,35.44 227.72,32.97 227.79,34.92 227.87,35.85 227.94,33.15 228.01,34.17 228.08,36.12 228.15,33.86 228.23,33.73 228.3,35.99 228.37,33.86 228.44,33.89 228.52,36.19 228.59,33.41 228.66,34.34 228.73,35.89 228.81,32.38 228.88,35.95 228.95,33.83 229.02,34.52 229.1,35.03 229.17,33.94 229.24,35.18 229.31,33.92 229.39,35.15 229.46,34.06 229.53,35.12 229.6,34 229.68,35.32 229.75,33.69 229.82,36.1 229.89,32.38 229.96,37.59 230.04,31.27 230.11,36.57 230.18,33.6 230.25,33.87 230.33,36.43 230.4,32.39 230.47,37.24 230.54,32.07 230.62,36.56 230.69,32.87 230.76,36.04 230.83,34.22 230.91,33.21 230.98,36.98 231.05,33.8 231.12,32.47 231.2,35.49 231.27,36.82 231.34,34.05 231.41,31.92 231.49,34.17 231.56,37.45 231.63,35.61 231.7,29.75 231.77,33.5 231.85,39.35 231.92,33.96 231.99,31.01 232.06,37.69 232.14,35.18 232.21,30.49 232.28,37.89 232.35,33.65 232.43,32.45 232.5,38.53 232.57,31.9 232.64,34.4 232.72,37.51 232.79,31.52 232.86,34.6 232.93,37.41 233.01,33.17 233.08,32.69 233.15,36.07 233.22,35.78 233.3,32.74 233.37,33.14 233.44,36.95 233.51,35.8 233.58,31.26 233.66,34.72 233.73,36.91 233.8,32.32 233.87,34.54 233.95,36.75 234.02,31.58 234.09,36.51 234.16,34.07 234.24,33.8 234.31,35.84 234.38,33.03 234.45,35.75 234.53,33.19 234.6,35.88 234.67,33.22 234.74,35.95 234.82,33.04 234.89,36.14 234.96,32.77 235.03,35.9 235.11,32.76 235.18,35.97 235.25,32.89 235.32,36.14 235.39,32.77 235.47,36.29 235.54,32.47 235.61,36.31 235.68,32.66 235.76,36.36 235.83,32.82 235.9,36.26 235.97,32.79 236.05,36.14 236.12,33.14 236.19,35.82 236.26,33.35 236.34,35.59 236.41,33.18 236.48,35.69 236.55,33.17 236.63,35.09 236.7,34.88 236.77,33.19 236.84,35.96 236.92,33.34 236.99,35.12 237.06,34.71 237.13,33.63 237.2,35.8 237.28,33.11 237.35,35.35 237.42,35.15 237.49,32.74 237.57,34.75 237.64,36.4 237.71,35.6 237.78,33.8 237.86,32.51 237.93,32.48 238,33.45 238.07,35.46 238.15,36.46 238.22,34.05 238.29,32.41 238.36,36.39 238.44,34.03 238.51,33.42 238.58,36.37 238.65,32.32 238.73,35.67 238.8,34.79 238.87,33.38 238.94,35.5 239.01,34.88 239.09,32.91 239.16,34.6 239.23,36.2 239.3,34.37 239.38,32.5 239.45,34.86 239.52,35.78 239.59,33.69 239.67,33.81 239.74,35.86 239.81,34.07 239.88,33.49 239.96,35.69 240.03,34.16 240.1,33.17 240.17,36.01 240.25,34.8 240.32,32.39 240.39,35.28 240.46,35.95 240.54,32.74 240.61,33.91 240.68,36.32 240.75,34.03 240.82,32.93 240.9,35.87 240.97,35.26 241.04,32.94 241.11,33.88 241.19,36.14 241.26,35.57 241.33,33.61 241.4,32.67 241.48,34.03 241.55,35.89 241.62,35.8 241.69,33.49 241.77,33.16 241.84,35.39 241.91,35.91 241.98,33.22 242.06,33.39 242.13,35.76 242.2,35.22 242.27,33.07 242.35,33.75 242.42,35.86 242.49,35.61 242.56,33.94 242.63,32.93 242.71,33.46 242.78,34.91 242.85,35.65 242.92,35.95 243,35.4 243.07,34.7 243.14,33.99 243.21,33.66 243.29,33.75 243.36,33.85 243.43,34.5 243.5,35.42 243.58,35.67 243.65,34.02 243.72,33.54 243.79,35.68 243.87,33.88 243.94,34.58 244.01,34.74 244.08,34.39 244.16,34.7 244.23,34.39 244.3,34.72 244.37,34.35 244.44,34.74 244.52,34.32 244.59,34.83 244.66,34.07 244.73,35.38 244.81,33.44 244.88,35.81 244.95,33.56 245.02,34.95 245.1,34.62 245.17,34.15 245.24,35.13 245.31,33.79 245.39,35.23 245.46,34.04 245.53,34.53 245.6,35.09 245.68,33.83 245.75,34.85 245.82,34.95 245.89,33.97 245.97,34.75 246.04,34.94 246.11,33.88 246.18,34.75 246.25,34.9 246.33,33.91 246.4,35.04 246.47,34.42 246.54,34.1 246.62,35.14 246.69,34.44 246.76,33.99 246.83,34.66 246.91,35.1 246.98,34.9 247.05,34.35 247.12,34.03 247.2,34.09 247.27,34.53 247.34,35.05 247.41,35.1 247.49,34.18 247.56,33.75 247.63,35.01 247.7,35.36 247.78,33.75 247.85,34.02 247.92,35.56 247.99,35.11 248.06,33.69 248.14,33.35 248.21,34.42 248.28,35.34 248.35,35.51 248.43,35.24 248.5,34.47 248.57,33.89 248.64,33.71 248.72,34.63 248.79,35.55 248.86,34.95 248.93,33.15 249.01,34.18 249.08,36.07 249.15,34.33 249.22,33.53 249.3,35.63 249.37,34.6 249.44,33.78 249.51,35.45 249.59,34.4 249.66,33.46 249.73,36.14 249.8,33.46 249.87,34.38 249.95,35.75 250.02,32.77 250.09,36.04 250.16,33.72 250.24,34.84 250.31,34.79 250.38,33.85 250.45,35.7 250.53,33.14 250.6,36.36 250.67,32.86 250.74,35.48 250.82,34.88 250.89,33.26 250.96,34.95 251.03,35.72 251.11,34.48 251.18,33.35 251.25,34 251.32,35.51 251.4,35.28 251.47,33.35 251.54,34.57 251.61,35.55 251.68,33.22 251.76,35.61 251.83,33.86 251.9,34.82 251.97,34.87 252.05,33.51 252.12,35.88 252.19,33.47 252.26,34.73 252.34,35.77 252.41,33.39 252.48,33.71 252.55,35.77 252.63,35.67 252.7,33.95 252.77,33 252.84,34.13 252.92,36.15 252.99,35.8 253.06,33.12 253.13,33.39 253.21,36.29 253.28,34.3 253.35,32.96 253.42,36.45 253.49,33.2 253.57,34.85 253.64,35.6 253.71,32.47 253.78,36.24 253.86,34.69 253.93,32.65 254,35.68 254.07,35.85 254.15,33.21 254.22,33.17 254.29,35.63 254.36,35.83 254.44,34.11 254.51,32.6 254.58,34.4 254.65,36.03 254.73,35.04 254.8,32.98 254.87,34.24 254.94,36.28 255.02,34.08 255.09,33.03 255.16,36.15 255.23,33.99 255.3,33.71 255.38,36.37 255.45,32.37 255.52,36.89 255.59,31.92 255.67,36.99 255.74,31.96 255.81,37.02 255.88,32.25 255.96,37.26 256.03,31.78 256.1,37.14 256.17,31.58 256.25,36.95 256.32,31.92 256.39,36.17 256.46,34.05 256.54,32.92 256.61,36.87 256.68,33.23 256.75,32.28 256.83,36.36 256.9,36.7 256.97,33.4 257.04,31.96 257.11,33.66 257.19,35.65 257.26,38.91 257.33,35.37 257.4,32.35 257.48,31.04 257.55,36.36 257.62,37.96 257.69,31.1 257.77,34.51 257.84,36.99 257.91,29.45 257.98,38.53 258.06,29.99 258.13,38.38 258.2,30.62 258.27,37.78 258.35,30.35 258.42,37.51 258.49,31.61 258.56,36.54 258.64,33.8 258.71,33.41 258.78,36.94"/>
<rect class="sp" x="34.4" y="13.5" width="235.2" height="43.9"/>
<path class="tk" d="M45.2 57.4v2.3M81.4 57.4v2.3M117.6 57.4v2.3M153.8 57.4v2.3M190 57.4v2.3M226.2 57.4v2.3M262.4 57.4v2.3M34.4 17.1h-2.3M34.4 34.55h-2.3M34.4 52h-2.3"/>
<text class="t" x="45.55" y="66.74" text-anchor="middle">0</text>
<text class="t" x="81.75" y="66.74" text-anchor="middle">500</text>
<text class="t" x="117.95" y="66.74" text-anchor="middle">1000</text>
<text class="t" x="154.15" y="66.74" text-anchor="middle">1500</text>
<text class="t" x="190.35" y="66.74" text-anchor="middle">2000</text>
<text class="t" x="226.55" y="66.74" text-anchor="middle">2500</text>
<text class="t" x="262.75" y="66.74" text-anchor="middle">3000</text>
<text class="t" x="30.1" y="19.47" text-anchor="end">100</text>
<text class="t" x="30.1" y="36.92" text-anchor="end">0</text>
<text class="t" x="30.1" y="54.37" text-anchor="end">−100</text>
<text class="t" text-anchor="middle" transform="translate(7.97 35.45) rotate(-90)">IMF 1</text>
<text class="ti" x="152" y="9.6" text-anchor="middle">Time series</text>
</g>
<g>
<clipPath id="c1"><rect x="34.4" y="83.2" width="235.2" height="43.9"/></clipPath>
<polyline class="ln" clip-path="url(#c1)" points="45.2,105.23 45.27,105.64 45.34,106.25 45.42,106.86 45.49,107.13 45.56,106.46 45.63,104.63 45.71,102.5 45.78,102.34 45.85,103.22 45.92,106.59 46,110.47 46.07,110.39 46.14,107.66 46.21,102.96 46.29,99.66 46.36,100.3 46.43,106.76 46.5,116.41 46.58,117.56 46.65,108.39 46.72,95.82 46.79,89.73 46.87,99.14 46.94,112.97 47.01,123.07 47.08,119.25 47.15,105 47.23,95.82 47.3,93.43 47.37,101.6 47.44,109.81 47.52,125.36 47.59,114.46 47.66,105.83 47.73,97.66 47.81,94 47.88,98.89 47.95,109.42 48.02,118.93 48.1,116.77 48.17,108.69 48.24,99.22 48.31,97.28 48.39,99.16 48.46,104.86 48.53,110.09 48.6,113.76 48.68,112.56 48.75,106.89 48.82,99.11 48.89,96.3 48.96,96.28 49.04,102.06 49.11,109.23 49.18,113.59 49.25,114.75 49.33,113.28 49.4,106.93 49.47,100.35 49.54,97.1 49.62,95.79 49.69,99.56 49.76,104.74 49.83,109.43 49.91,112.52 49.98,111.38 50.05,110.3 50.12,106.81 50.2,103.63 50.27,102.04 50.34,100.64 50.41,101.32 50.49,102.57 50.56,104.62 50.63,106.71 50.7,108.5 50.77,109.51 50.85,110.44 50.92,109.68 50.99,108.62 51.06,107.42 51.14,105.35 51.21,103.05 51.28,101.25 51.35,99.33 51.43,100.2 51.5,100.27 51.57,100.89 51.64,103.27 51.72,105.54 51.79,107.53 51.86,108.71 51.93,109.25 52.01,108.65 52.08,108.08 52.15,107.18 52.22,104.87 52.3,102.16 52.37,100.85 52.44,100.94 52.51,102.5 52.58,104.65 52.66,107.24 52.73,108.97 52.8,109 52.87,108.23 52.95,106.18 53.02,102.89 53.09,100.51 53.16,100.2 53.24,101.57 53.31,104.97 53.38,107.79 53.45,109.61 53.53,109.5 53.6,108.19 53.67,106.14 53.74,103.67 53.82,101.88 53.89,101.11 53.96,101.26 54.03,103.31 54.11,106.13 54.18,108.58 54.25,109.33 54.32,109.17 54.39,107.73 54.47,105.47 54.54,102.8 54.61,101.38 54.68,101.53 54.76,103.19 54.83,106.29 54.9,108.71 54.97,109.26 55.05,107.92 55.12,105.64 55.19,102.44 55.26,100.8 55.34,102.38 55.41,104.91 55.48,107.89 55.55,108.96 55.63,108.61 55.7,106.33 55.77,102.86 55.84,100.02 55.92,100.51 55.99,103.61 56.06,107.36 56.13,109.72 56.2,110.28 56.28,108.23 56.35,105.44 56.42,102.56 56.49,100.96 56.57,101.02 56.64,103.16 56.71,105.99 56.78,108.64 56.86,109.73 56.93,110.13 57,108.8 57.07,106.39 57.15,103.14 57.22,99.8 57.29,95.55 57.36,97.76 57.44,99.54 57.51,102.68 57.58,105.83 57.65,108.83 57.73,110.2 57.8,111.18 57.87,115.18 57.94,110.21 58.01,110.18 58.09,108 58.16,105.96 58.23,103.08 58.3,100.79 58.38,98.32 58.45,98.83 58.52,99.42 58.59,99.93 58.67,103.3 58.74,106.38 58.81,109.17 58.88,111.31 58.96,112.09 59.03,109.46 59.1,105.94 59.17,102.32 59.25,99.67 59.32,100.68 59.39,103.81 59.46,107.81 59.54,110.44 59.61,110.27 59.68,106.46 59.75,102.55 59.82,99.75 59.9,102.04 59.97,105.77 60.04,108.51 60.11,107.99 60.19,106.72 60.26,104.55 60.33,102.49 60.4,102.39 60.48,104.15 60.55,106.56 60.62,108.4 60.69,108.1 60.77,107.01 60.84,105.11 60.91,103.19 60.98,102.08 61.06,103.03 61.13,104.43 61.2,106.43 61.27,107.68 61.35,108.41 61.42,107.9 61.49,106.03 61.56,104.07 61.63,102.57 61.71,102.48 61.78,103.72 61.85,105.91 61.92,108.07 62,109.16 62.07,107.72 62.14,105.34 62.21,102.32 62.29,101.32 62.36,103.2 62.43,106.54 62.5,109.18 62.58,108.2 62.65,105.29 62.72,101.84 62.79,101.91 62.87,105.75 62.94,108.64 63.01,108.04 63.08,104.01 63.16,102.04 63.23,104.62 63.3,108.13 63.37,107.99 63.44,104.33 63.52,102.42 63.59,105.45 63.66,107.97 63.73,106.63 63.81,103.31 63.88,103.43 63.95,106.76 64.02,107.46 64.1,105.17 64.17,103.03 64.24,104.57 64.31,107.54 64.39,107.72 64.46,104.4 64.53,101.41 64.6,104 64.68,108.15 64.75,109.15 64.82,105.78 64.89,102.16 64.97,101.89 65.04,105.6 65.11,109.08 65.18,108.87 65.25,105.57 65.33,101.62 65.4,101.36 65.47,104.96 65.54,108.63 65.62,108.85 65.69,106.66 65.76,103.16 65.83,102.59 65.91,104.31 65.98,106.91 66.05,107.98 66.12,106.82 66.2,104.48 66.27,102.24 66.34,102.82 66.41,105.99 66.49,108.77 66.56,109.01 66.63,106.48 66.7,103.16 66.78,101.06 66.85,102.49 66.92,105.98 66.99,108.46 67.06,108.85 67.14,107.1 67.21,104.8 67.28,103.07 67.35,103.08 67.43,103.92 67.5,106.09 67.57,108.14 67.64,108.92 67.72,107.53 67.79,105.11 67.86,103.06 67.93,102.74 68.01,103.73 68.08,105.92 68.15,107.48 68.22,107.89 68.3,106.38 68.37,103.48 68.44,102.11 68.51,103.98 68.59,107.5 68.66,108.99 68.73,106.24 68.8,101.96 68.87,102.56 68.95,107.36 69.02,109.33 69.09,105.07 69.16,101.6 69.24,105 69.31,108.78 69.38,106.5 69.45,102.44 69.53,104.38 69.6,107.86 69.67,106.62 69.74,102.94 69.82,103.93 69.89,108.57 69.96,108.15 70.03,102.85 70.11,101.18 70.18,106.53 70.25,109.43 70.32,107.48 70.4,102.45 70.47,100.71 70.54,104.66 70.61,108.35 70.68,109.21 70.76,106.95 70.83,104.07 70.9,102.53 70.97,102.34 71.05,104.19 71.12,106.18 71.19,107.7 71.26,108.66 71.34,107.98 71.41,106.41 71.48,104.32 71.55,102.74 71.63,102.32 71.7,103.52 71.77,105.18 71.84,107.18 71.92,108.61 71.99,108.07 72.06,106.39 72.13,103.8 72.21,101.97 72.28,102.56 72.35,104.78 72.42,108.06 72.49,109.21 72.57,108.29 72.64,104.86 72.71,102.04 72.78,101.82 72.86,104.11 72.93,107.54 73,110.09 73.07,108.69 73.15,105.76 73.22,102.03 73.29,100.1 73.36,101.01 73.44,105.01 73.51,109.01 73.58,112.17 73.65,111.29 73.73,108.94 73.8,105.4 73.87,102.82 73.94,101.17 74.02,100.36 74.09,100.87 74.16,103.14 74.23,105.7 74.3,108.3 74.38,110.75 74.45,111.16 74.52,111.75 74.59,110.04 74.67,106.92 74.74,103.29 74.81,99.4 74.88,96.09 74.96,95.62 75.03,96.86 75.1,101.93 75.17,108.63 75.25,114.36 75.32,119.11 75.39,116.1 75.46,110.32 75.54,102.68 75.61,97.24 75.68,92.64 75.75,101.21 75.83,106.51 75.9,110.35 75.97,110.33 76.04,107.85 76.11,103.67 76.19,100.95 76.26,101.61 76.33,105.65 76.4,109 76.48,109.72 76.55,106.34 76.62,102.39 76.69,101.96 76.77,104.46 76.84,108.18 76.91,108.99 76.98,106.44 77.06,102.48 77.13,101.16 77.2,105.51 77.27,109.81 77.35,108.64 77.42,103.75 77.49,101.02 77.56,104.84 77.64,108.66 77.71,107.72 77.78,103.57 77.85,102.91 77.92,105.48 78,107.68 78.07,106.69 78.14,103.95 78.21,102.84 78.29,105.87 78.36,107.94 78.43,106.7 78.5,103.54 78.58,103.26 78.65,105.79 78.72,107.5 78.79,106.84 78.87,103.78 78.94,102.64 79.01,104.64 79.08,107.78 79.16,107.98 79.23,105.84 79.3,103.21 79.37,102.59 79.45,104.88 79.52,107.02 79.59,108.07 79.66,106.9 79.73,104.46 79.81,102.45 79.88,102.95 79.95,104.9 80.02,107.14 80.1,108.24 80.17,108.46 80.24,106.6 80.31,103.85 80.39,101 80.46,100.31 80.53,102.69 80.6,105.22 80.68,107.93 80.75,108.93 80.82,109.49 80.89,108.43 80.97,106.32 81.04,104.12 81.11,102.81 81.18,102.38 81.26,102.26 81.33,103.51 81.4,105.6 81.47,107.58 81.54,109.26 81.62,109.33 81.69,108.45 81.76,106.35 81.83,103.35 81.91,101.52 81.98,99.96 82.05,101.14 82.12,103.97 82.2,107.61 82.27,110.33 82.34,110.38 82.41,108.99 82.49,106.16 82.56,102.39 82.63,99.48 82.7,100.66 82.78,102.92 82.85,107.03 82.92,110.5 82.99,110.42 83.07,108.59 83.14,104.9 83.21,102.55 83.28,100.82 83.35,101.18 83.43,105.49 83.5,109.55 83.57,112.27 83.64,109.57 83.72,106.51 83.79,101.92 83.86,98.45 83.93,100.56 84.01,103.72 84.08,107.8 84.15,111.27 84.22,110.76 84.3,107.65 84.37,103.05 84.44,101.21 84.51,100.89 84.59,104.14 84.66,107.13 84.73,108.48 84.8,108.62 84.88,106.17 84.95,102.66 85.02,99.93 85.09,101.81 85.16,106.25 85.24,109.97 85.31,110.36 85.38,106.29 85.45,102.09 85.53,100.63 85.6,104.24 85.67,108.82 85.74,109.98 85.82,106.15 85.89,102.37 85.96,102.88 86.03,105.91 86.11,108.19 86.18,107.18 86.25,103.48 86.32,102.21 86.4,105.3 86.47,108.09 86.54,107.21 86.61,104.36 86.69,103.46 86.76,105.1 86.83,107.11 86.9,107.36 86.97,104.73 87.05,102.83 87.12,104.2 87.19,107.67 87.26,108.24 87.34,105.29 87.41,102.52 87.48,103.63 87.55,106.54 87.63,107.8 87.7,106.45 87.77,104.22 87.84,103 87.92,104.6 87.99,106.89 88.06,108.04 88.13,106.82 88.21,104.51 88.28,102.89 88.35,103.13 88.42,105.4 88.5,107.42 88.57,108.13 88.64,107 88.71,104.79 88.78,102.92 88.86,102.9 88.93,104.58 89,106.81 89.07,107.36 89.15,107.04 89.22,105.42 89.29,103.66 89.36,103.08 89.44,104.63 89.51,107.4 89.58,108.57 89.65,106.63 89.73,102.86 89.8,102.15 89.87,105.07 89.94,108.5 90.02,108.37 90.09,104.08 90.16,101.67 90.23,105.13 90.31,109.28 90.38,107.22 90.45,102.42 90.52,103.04 90.59,107.08 90.67,107.59 90.74,104.78 90.81,102.97 90.88,105.67 90.96,108.71 91.03,106.21 91.1,101.68 91.17,103.48 91.25,108.92 91.32,108.76 91.39,102.97 91.46,101.56 91.54,105.83 91.61,109.36 91.68,107.44 91.75,102.8 91.83,101.72 91.9,105.56 91.97,108.39 92.04,108.25 92.12,104.69 92.19,102.16 92.26,102.2 92.33,105.83 92.4,109.57 92.48,109.91 92.55,107.1 92.62,102.63 92.69,100.7 92.77,101.2 92.84,104.47 92.91,108.44 92.98,109.69 93.06,108.96 93.13,106.54 93.2,103.08 93.27,101.94 93.35,102.42 93.42,104.13 93.49,106.7 93.56,108.27 93.64,108.57 93.71,106.55 93.78,104.13 93.85,102.03 93.93,101.85 94,104.6 94.07,107.76 94.14,109.82 94.21,108.68 94.29,105.38 94.36,101.34 94.43,100.06 94.5,102.87 94.58,108.04 94.65,110.32 94.72,109.95 94.79,104.6 94.87,100.39 94.94,100.63 95.01,105.46 95.08,109.8 95.16,110 95.23,105.44 95.3,99.31 95.37,100.21 95.45,106.67 95.52,110.53 95.59,108.73 95.66,102.52 95.74,98.92 95.81,104.54 95.88,110.14 95.95,110.2 96.02,102.73 96.1,98.69 96.17,105.29 96.24,110.27 96.31,107.65 96.39,101.45 96.46,101.05 96.53,107.67 96.6,111.56 96.68,105.52 96.75,99.43 96.82,102.13 96.89,111.22 96.97,111.05 97.04,101.5 97.11,97.05 97.18,105.09 97.26,112.39 97.33,110.57 97.4,101.51 97.47,98.31 97.55,104.6 97.62,110.55 97.69,110.7 97.76,104.59 97.83,98.82 97.91,100.5 97.98,106.98 98.05,112.08 98.12,110.81 98.2,104.56 98.27,97.8 98.34,98.12 98.41,103.98 98.49,112.67 98.56,125.36 98.63,112.02 98.7,101.36 98.78,92.62 98.85,92.95 98.92,101.76 98.99,111.56 99.07,116.84 99.14,113.56 99.21,106.6 99.28,98.25 99.36,85.07 99.43,98.13 99.5,106.39 99.57,113.77 99.64,115.97 99.72,110.8 99.79,102.18 99.86,97.34 99.93,96.95 100.01,103.84 100.08,110.19 100.15,113.69 100.22,110.67 100.3,105.23 100.37,100.1 100.44,96.11 100.51,100.16 100.59,107.2 100.66,114.03 100.73,117.49 100.8,111.93 100.88,105.14 100.95,97.68 101.02,96.56 101.09,96.4 101.17,102.33 101.24,108.69 101.31,113.43 101.38,115.07 101.45,114.13 101.53,108.44 101.6,103.74 101.67,99.93 101.74,99.4 101.82,99.76 101.89,102.3 101.96,106.45 102.03,110.59 102.11,115.1 102.18,115.99 102.25,111.27 102.32,104.91 102.4,99.9 102.47,97.69 102.54,98.39 102.61,102.53 102.69,109.89 102.76,114.03 102.83,115.09 102.9,108.85 102.98,101.65 103.05,96.63 103.12,99.3 103.19,105.94 103.26,113.45 103.34,113.69 103.41,107.67 103.48,99.63 103.55,98.77 103.63,102.8 103.7,110.61 103.77,113.57 103.84,109.25 103.92,101.08 103.99,96.71 104.06,101.9 104.13,110.59 104.21,113.65 104.28,109.07 104.35,101.66 104.42,97.58 104.5,101.06 104.57,108.52 104.64,114.29 104.71,111.35 104.79,103.79 104.86,98.57 104.93,99.4 105,105.37 105.07,110.55 105.15,111.19 105.22,106.63 105.29,102.5 105.36,100.62 105.44,103.81 105.51,107.99 105.58,109.77 105.65,107.47 105.73,103.39 105.8,101.25 105.87,103.5 105.94,107.69 106.02,110.22 106.09,108.72 106.16,103.88 106.23,101.39 106.31,102.01 106.38,105.83 106.45,108.64 106.52,109.54 106.6,106.66 106.67,102.88 106.74,100.53 106.81,102.57 106.88,106.47 106.96,109.87 107.03,109.82 107.1,106.98 107.17,102.63 107.25,100.45 107.32,101.29 107.39,106.05 107.46,109.79 107.54,109.76 107.61,107.53 107.68,103.21 107.75,101.25 107.83,102.02 107.9,105.59 107.97,108.51 108.04,108.96 108.12,106.7 108.19,103.51 108.26,102.39 108.33,103.41 108.41,106.03 108.48,108.41 108.55,108.49 108.62,106.11 108.69,103.28 108.77,102.52 108.84,103.56 108.91,105.87 108.98,107.93 109.06,108.36 109.13,107.15 109.2,104.73 109.27,102.93 109.35,102.61 109.42,103.97 109.49,105.99 109.56,107.38 109.64,107.9 109.71,106.74 109.78,105.1 109.85,103.55 109.93,102.99 110,104.46 110.07,106.44 110.14,108.54 110.22,108.22 110.29,105.65 110.36,103.45 110.43,102.73 110.5,104.74 110.58,107.5 110.65,108.28 110.72,106.2 110.79,103.78 110.87,103.67 110.94,105.19 111.01,107.08 111.08,108 111.16,105.72 111.23,103.1 111.3,102.65 111.37,105.18 111.45,108.18 111.52,108.55 111.59,106.57 111.66,103.43 111.74,101.71 111.81,103.07 111.88,105.86 111.95,108.19 112.03,108.49 112.1,107.89 112.17,105.38 112.24,103.38 112.31,101.82 112.39,102.28 112.46,104.59 112.53,106.95 112.6,108.6 112.68,108.55 112.75,106.79 112.82,104.11 112.89,102.35 112.97,102.99 113.04,104.77 113.11,106.77 113.18,109.36 113.26,107.06 113.33,105.07 113.4,103.31 113.47,103.19 113.55,105.22 113.62,107.51 113.69,108.05 113.76,106.31 113.84,103.74 113.91,101.36 113.98,104.01 114.05,106.31 114.12,107.6 114.2,107.71 114.27,105.69 114.34,103.86 114.41,103.12 114.49,104.22 114.56,105.96 114.63,107.26 114.7,107.63 114.78,106.3 114.85,104.54 114.92,103.04 114.99,103.19 115.07,105.11 115.14,107.07 115.21,108.15 115.28,106.79 115.36,104.7 115.43,102.86 115.5,103.63 115.57,105.65 115.65,107.3 115.72,106.74 115.79,105.56 115.86,104.41 115.93,104.09 116.01,105.23 116.08,107.06 116.15,107.66 116.22,106.14 116.3,103.84 116.37,103.1 116.44,103.97 116.51,105.94 116.59,107.78 116.66,107.57 116.73,106.49 116.8,105.04 116.88,104.01 116.95,103.42 117.02,104.16 117.09,105.03 117.17,105.96 117.24,106.88 117.31,107.25 117.38,107.47 117.46,107.03 117.53,106.41 117.6,105.07 117.67,103.9 117.74,102.84 117.82,102.3 117.89,102.45 117.96,103.38 118.03,104.98 118.11,106.71 118.18,107.96 118.25,108.85 118.32,108.88 118.4,107.74 118.47,105.99 118.54,103.95 118.61,102.4 118.69,102.03 118.76,102.69 118.83,103.68 118.9,105.74 118.98,107.56 119.05,108.44 119.12,108 119.19,107.7 119.27,106.55 119.34,105.5 119.41,104.37 119.48,103.83 119.55,103.19 119.63,102.64 119.7,103.04 119.77,103.78 119.84,104.35 119.92,105.17 119.99,105.87 120.06,106.45 120.13,107.25 120.21,107.97 120.28,108.16 120.35,108.37 120.42,108.86 120.5,108.42 120.57,108.08 120.64,107.12 120.71,105.89 120.79,104.6 120.86,103.49 120.93,102.44 121,101.36 121.08,102.08 121.15,103 121.22,104.99 121.29,107.57 121.36,109.9 121.44,110.25 121.51,108.26 121.58,104.81 121.65,101.81 121.73,100.99 121.8,102.82 121.87,107.32 121.94,109.96 122.02,109.22 122.09,104.6 122.16,100.51 122.23,100.9 122.31,106.26 122.38,110.69 122.45,109.34 122.52,104.07 122.6,100.93 122.67,103.17 122.74,107.46 122.81,108.91 122.89,106.4 122.96,102.89 123.03,102.63 123.1,106.12 123.17,109.45 123.25,107.48 123.32,102.91 123.39,101.2 123.46,105.47 123.54,110.03 123.61,109.23 123.68,102.84 123.75,99.55 123.83,103.66 123.9,110.27 123.97,111.16 124.04,104.76 124.12,99.78 124.19,100.79 124.26,107.58 124.33,111.74 124.41,109.13 124.48,103.54 124.55,101.07 124.62,102.71 124.7,106.48 124.77,109.78 124.84,108.51 124.91,105.38 124.98,102.28 125.06,100.94 125.13,103.99 125.2,108 125.27,110.24 125.35,108.69 125.42,105.11 125.49,101.34 125.56,101.41 125.64,103.45 125.71,107.07 125.78,109.89 125.85,109.64 125.93,107.38 126,103.42 126.07,100.95 126.14,101.29 126.22,103.23 126.29,107.41 126.36,109.88 126.43,111.15 126.51,108.51 126.58,104.22 126.65,100.37 126.72,100.35 126.79,101.41 126.87,105.24 126.94,108.98 127.01,110.39 127.08,110.36 127.16,108.06 127.23,103.95 127.3,99.47 127.37,94.82 127.45,99.77 127.52,103.48 127.59,108.08 127.66,111.84 127.74,115.91 127.81,111.14 127.88,107.18 127.95,102.74 128.03,99.66 128.1,99.33 128.17,100.73 128.24,103.64 128.32,107.07 128.39,109.1 128.46,109.86 128.53,109.88 128.6,107.68 128.68,104.86 128.75,101.54 128.82,98.41 128.89,99.24 128.97,100.98 129.04,105.01 129.11,109.12 129.18,111.56 129.26,112 129.33,109.67 129.4,106.04 129.47,101.14 129.55,98.21 129.62,99.62 129.69,102.21 129.76,107.59 129.84,111.01 129.91,111.22 129.98,108.34 130.05,102.74 130.13,98.2 130.2,100.39 130.27,105.84 130.34,110.91 130.41,111.54 130.49,106.3 130.56,101.32 130.63,99.77 130.7,104.18 130.78,107.99 130.85,108.96 130.92,107.16 130.99,103.09 131.07,101.17 131.14,101.68 131.21,106.22 131.28,109.52 131.36,111.32 131.43,108.55 131.5,104.38 131.57,101.49 131.65,99.31 131.72,100.81 131.79,104.08 131.86,106.53 131.94,108.05 132.01,109.06 132.08,110.22 132.15,110.34 132.22,108.88 132.3,106.79 132.37,104.63 132.44,102.52 132.51,100.5 132.59,99.35 132.66,97.73 132.73,98.87 132.8,99.78 132.88,101.98 132.95,105.1 133.02,108.48 133.09,110.63 133.17,113.73 133.24,112.42 133.31,109.59 133.38,105.49 133.46,101.99 133.53,100.26 133.6,100.54 133.67,103.46 133.75,108.02 133.82,110.69 133.89,110.49 133.96,107.01 134.03,103.07 134.11,100.58 134.18,102.16 134.25,105.67 134.32,109.25 134.4,109.89 134.47,107 134.54,103.59 134.61,102 134.69,102.69 134.76,105.85 134.83,109.02 134.9,109.27 134.98,106.88 135.05,102.91 135.12,100.43 135.19,101.77 135.27,105.85 135.34,109.19 135.41,109.52 135.48,107.41 135.56,103.88 135.63,100.92 135.7,101.62 135.77,104.29 135.84,107.71 135.92,109.27 135.99,108.49 136.06,106.51 136.13,104.16 136.21,102.67 136.28,103.23 136.35,104.61 136.42,106.31 136.5,107.3 136.57,107.4 136.64,106.58 136.71,105.32 136.79,103.82 136.86,103.16 136.93,103.11 137,104.58 137.08,106.39 137.15,107.7 137.22,108.15 137.29,107.63 137.37,106.35 137.44,104.73 137.51,103.05 137.58,102.64 137.65,102.71 137.73,103.89 137.8,105.58 137.87,106.71 137.94,107.25 138.02,107.21 138.09,106.73 138.16,106.05 138.23,105.09 138.31,104.17 138.38,103.76 138.45,103.76 138.52,104.28 138.6,105.48 138.67,106.7 138.74,107.72 138.81,107.84 138.89,106.58 138.96,104.28 139.03,102.44 139.1,102.13 139.18,104.49 139.25,106.93 139.32,108.49 139.39,107.48 139.46,104.99 139.54,103.32 139.61,103.45 139.68,105.56 139.75,106.95 139.83,106.96 139.9,105.25 139.97,102.81 140.04,103.56 140.12,106.13 140.19,107.85 140.26,106.93 140.33,104.4 140.41,102.5 140.48,104.1 140.55,106.24 140.62,107.51 140.7,106.71 140.77,105.01 140.84,103.46 140.91,103.05 140.99,104.83 141.06,106.31 141.13,107.01 141.2,106.85 141.27,106.1 141.35,104.76 141.42,103.12 141.49,102.7 141.56,103.48 141.64,104.62 141.71,106.24 141.78,107.19 141.85,108.09 141.93,107.74 142,106.74 142.07,105.53 142.14,104.1 142.22,103.09 142.29,103.19 142.36,103.53 142.43,104.7 142.51,105.87 142.58,106.91 142.65,107.47 142.72,107.05 142.8,106.41 142.87,105.36 142.94,104.19 143.01,103.3 143.08,103.27 143.16,104.28 143.23,105.96 143.3,107.62 143.37,108.06 143.45,108.05 143.52,105.87 143.59,103.41 143.66,102.02 143.74,102.46 143.81,104.54 143.88,107.32 143.95,108.67 144.03,108.58 144.1,106.17 144.17,102.99 144.24,101.35 144.32,103.06 144.39,105.45 144.46,107.18 144.53,107.52 144.61,107 144.68,104.45 144.75,102.1 144.82,101.55 144.89,104.53 144.97,107.75 145.04,109.25 145.11,108.37 145.18,105.36 145.26,102.29 145.33,101.36 145.4,103.21 145.47,106.15 145.55,108.28 145.62,109.27 145.69,108.08 145.76,105.14 145.84,102.16 145.91,100.98 145.98,101.72 146.05,104.54 146.13,106.98 146.2,108.22 146.27,107.64 146.34,106.92 146.42,105.1 146.49,102.71 146.56,102.16 146.63,102.89 146.7,105.21 146.78,108 146.85,109.44 146.92,108.51 146.99,105.84 147.07,103.01 147.14,101.97 147.21,103.24 147.28,105.6 147.36,107.82 147.43,108.35 147.5,106.91 147.57,104.68 147.65,103.1 147.72,102.61 147.79,104.9 147.86,107.33 147.94,108.35 148.01,107.37 148.08,104.55 148.15,102.13 148.23,101.99 148.3,105.12 148.37,107.82 148.44,109.16 148.51,106.63 148.59,103.24 148.66,101.25 148.73,103.97 148.8,107.77 148.88,109.25 148.95,106.87 149.02,101.89 149.09,100.86 149.17,105.49 149.24,110.07 149.31,108.56 149.38,103.6 149.46,100.25 149.53,104 149.6,108.7 149.67,109.43 149.75,104.72 149.82,100.26 149.89,102.23 149.96,107.16 150.04,109.4 150.11,107.73 150.18,103.63 150.25,100.22 150.32,101.71 150.4,105.96 150.47,109.96 150.54,110.71 150.61,108.51 150.69,105.03 150.76,100.75 150.83,99.71 150.9,98.89 150.98,102.32 151.05,105.65 151.12,108.85 151.19,111.7 151.27,112.76 151.34,110.46 151.41,108.42 151.48,104.86 151.56,101.18 151.63,98.92 151.7,98.88 151.77,101.89 151.85,104.44 151.92,107.83 151.99,111.9 152.06,114.07 152.13,110.54 152.21,105.89 152.28,99.94 152.35,96.18 152.42,98.27 152.5,103.79 152.57,111.06 152.64,114.56 152.71,112.51 152.79,106.94 152.86,101.69 152.93,99.05 153,99.81 153.08,104.36 153.15,108.6 153.22,117.36 153.29,110.96 153.37,107.13 153.44,102.22 153.51,97.4 153.58,97.4 153.66,100.32 153.73,106.37 153.8,112.15 153.87,114.91 153.94,115.14 154.02,111.48 154.09,106.33 154.16,101.12 154.23,96.58 154.31,93.36 154.38,95.36 154.45,99.76 154.52,104.58 154.6,109.67 154.67,115.13 154.74,117.36 154.81,113.97 154.89,110.53 154.96,103.6 155.03,97 155.1,93.36 155.18,98.82 155.25,105.62 155.32,111.93 155.39,113.24 155.47,108.2 155.54,101.03 155.61,99.77 155.68,103.95 155.75,110.5 155.83,111.95 155.9,103.64 155.97,97.13 156.04,103.17 156.12,113.58 156.19,110.31 156.26,99.58 156.33,99.05 156.41,109.32 156.48,111.3 156.55,103.06 156.62,99.91 156.7,107.15 156.77,110.81 156.84,104 156.91,100.69 156.99,106.65 157.06,110.54 157.13,105.08 157.2,99.91 157.28,104.79 157.35,109.27 157.42,107.26 157.49,101.85 157.56,101.65 157.64,107.22 157.71,109.64 157.78,106.63 157.85,101.25 157.93,101.02 158,105.59 158.07,108.65 158.14,108.47 158.22,105.55 158.29,102.02 158.36,101.44 158.43,104.27 158.51,108.02 158.58,109.75 158.65,108.68 158.72,104.61 158.8,99.73 158.87,99.38 158.94,102.81 159.01,107.74 159.09,110.93 159.16,109.42 159.23,105.85 159.3,101.04 159.37,99.9 159.45,103.07 159.52,108.28 159.59,110.03 159.66,107.32 159.74,103.17 159.81,102.23 159.88,104.74 159.95,108.1 160.03,109.3 160.1,104.87 160.17,99.88 160.24,102.08 160.32,107 160.39,109.99 160.46,107.61 160.53,103.32 160.61,100.91 160.68,101.33 160.75,105.82 160.82,107.91 160.9,108.74 160.97,107.15 161.04,105.48 161.11,103.61 161.18,102.71 161.26,102.63 161.33,103.52 161.4,104.73 161.47,105.92 161.55,106.85 161.62,107.42 161.69,107.61 161.76,107.31 161.84,106.52 161.91,105.6 161.98,104.4 162.05,103.45 162.13,103.31 162.2,103.53 162.27,104.48 162.34,106.04 162.42,107.49 162.49,107.95 162.56,107 162.63,105.28 162.71,103.4 162.78,103.12 162.85,104.21 162.92,106.27 162.99,106.96 163.07,106.56 163.14,105.34 163.21,103.45 163.28,103.7 163.36,105.19 163.43,106.6 163.5,106.89 163.57,106.12 163.65,104.38 163.72,103.21 163.79,103.66 163.86,105.79 163.94,107.81 164.01,107.61 164.08,106.22 164.15,103.94 164.23,102.77 164.3,103.6 164.37,105.79 164.44,107.39 164.52,107.71 164.59,106.17 164.66,103.77 164.73,102.58 164.8,103.29 164.88,105.67 164.95,107.46 165.02,107.57 165.09,106.37 165.17,104.23 165.24,103.06 165.31,103.66 165.38,105.18 165.46,106.44 165.53,106.75 165.6,106.41 165.67,105.54 165.75,104.52 165.82,104.13 165.89,104.31 165.96,105.44 166.04,106.24 166.11,106.8 166.18,106.48 166.25,105.69 166.33,104.62 166.4,103.98 166.47,104.17 166.54,105.08 166.61,106.04 166.69,106.5 166.76,106.42 166.83,105.95 166.9,104.91 166.98,103.77 167.05,103.89 167.12,104.92 167.19,106.51 167.27,107.33 167.34,106.54 167.41,105.12 167.48,103.6 167.56,103.93 167.63,105.51 167.7,106.78 167.77,106.81 167.85,105.6 167.92,104.37 167.99,104.48 168.06,105.34 168.14,106.21 168.21,106.54 168.28,105.94 168.35,104.4 168.42,103.49 168.5,104.3 168.57,105.96 168.64,107.16 168.71,106.88 168.79,105.96 168.86,104.47 168.93,103.56 169,103.95 169.08,105.04 169.15,106.09 169.22,106.78 169.29,107.18 169.37,106.72 169.44,105.72 169.51,104.65 169.58,103.41 169.66,103.06 169.73,103.37 169.8,104.34 169.87,105.55 169.95,106.51 170.02,107.17 170.09,107.81 170.16,107.48 170.23,106.44 170.31,105.29 170.38,104.19 170.45,103.61 170.52,103.39 170.6,104.32 170.67,105.52 170.74,106.44 170.81,106.93 170.89,106.71 170.96,105.88 171.03,104.71 171.1,104.14 171.18,103.9 171.25,105.18 171.32,106.58 171.39,107.16 171.47,106.5 171.54,104.88 171.61,103.8 171.68,104.01 171.76,105.72 171.83,106.92 171.9,106.73 171.97,105.23 172.04,103.47 172.12,103.78 172.19,106.01 172.26,107.37 172.33,106.85 172.41,104.81 172.48,103.41 172.55,104.39 172.62,106.36 172.7,107.65 172.77,107.08 172.84,104.45 172.91,102.19 172.99,102.76 173.06,105.69 173.13,108.05 173.2,108.5 173.28,106.71 173.35,104.23 173.42,101.91 173.49,102.13 173.57,104.16 173.64,106.55 173.71,107.85 173.78,108.13 173.85,107.15 173.93,105.73 174,104.35 174.07,103.31 174.14,103.5 174.22,103.98 174.29,105.31 174.36,107.04 174.43,108.22 174.51,108.21 174.58,106.99 174.65,104.93 174.72,102.78 174.8,101.6 174.87,102.9 174.94,105.93 175.01,108.61 175.09,109.55 175.16,107.27 175.23,103.68 175.3,101.05 175.38,102.07 175.45,106.56 175.52,109.43 175.59,109.33 175.66,104.67 175.74,100.31 175.81,101.21 175.88,106.46 175.95,110.46 176.03,109.34 176.1,103.45 176.17,99.26 176.24,102.13 176.32,108.08 176.39,111.7 176.46,108.06 176.53,102 176.61,98.9 176.68,103.53 176.75,109.69 176.82,110.49 176.9,107.01 176.97,101.74 177.04,99.67 177.11,103.58 177.19,108.71 177.26,110.47 177.33,107.92 177.4,104.2 177.47,100.24 177.55,101.03 177.62,104.45 177.69,109.11 177.76,111.4 177.84,110.46 177.91,106.35 177.98,101.23 178.05,95.55 178.13,100.23 178.2,103.6 178.27,106.76 178.34,110.15 178.42,115.18 178.49,111.62 178.56,107.68 178.63,102.58 178.71,99.08 178.78,96.93 178.85,99.18 178.92,104.48 179,109.72 179.07,113.54 179.14,112.97 179.21,107.18 179.28,100.46 179.36,97.45 179.43,100.94 179.5,106.61 179.57,111.31 179.65,111.74 179.72,105.52 179.79,99 179.86,99.8 179.94,105.79 180.01,112.88 180.08,111.13 180.15,104.21 180.23,97.6 180.3,100.33 180.37,106.99 180.44,113.09 180.52,111.75 180.59,105.34 180.66,99.85 180.73,98.13 180.81,101.71 180.88,107.84 180.95,112.28 181.02,112.63 181.09,109.48 181.17,106.11 181.24,103.22 181.31,101.56 181.38,101.21 181.46,100.63 181.53,102.18 181.6,103.22 181.67,104.73 181.75,105.99 181.82,107.31 181.89,108.46 181.96,109.29 182.04,110.69 182.11,110.31 182.18,111.47 182.25,110.66 182.33,110.86 182.4,109.51 182.47,108.43 182.54,107.27 182.62,105.17 182.69,103.49 182.76,102 182.83,101.05 182.9,99.89 182.98,100.98 183.05,102.16 183.12,104.45 183.19,106.78 183.27,108.31 183.34,109.82 183.41,109.04 183.48,107.38 183.56,104.34 183.63,101.33 183.7,99.46 183.77,102.12 183.85,106.02 183.92,109.69 183.99,110.58 184.06,108.57 184.14,103.43 184.21,99.75 184.28,101.05 184.35,105.53 184.43,109.89 184.5,110.31 184.57,106.12 184.64,100.9 184.71,100.63 184.79,105.19 184.86,109.84 184.93,109.54 185,104.89 185.08,101.1 185.15,102.49 185.22,107.25 185.29,109.58 185.37,107.28 185.44,102.43 185.51,101.16 185.58,105.26 185.66,109.33 185.73,108.32 185.8,104.46 185.87,101.46 185.95,102.73 186.02,107.44 186.09,109.8 186.16,107.17 186.24,103.24 186.31,101.27 186.38,103.85 186.45,107.47 186.52,108.52 186.6,106.6 186.67,104.03 186.74,102.86 186.81,104.22 186.89,106.8 186.96,108.1 187.03,106.83 187.1,104.51 187.18,102.88 187.25,103.57 187.32,106.16 187.39,107.98 187.47,107.17 187.54,105.09 187.61,103.25 187.68,103.84 187.76,105.66 187.83,107.45 187.9,107.69 187.97,105.64 188.05,103.38 188.12,102.66 188.19,104.46 188.26,107.56 188.33,108.98 188.41,107.94 188.48,105.09 188.55,102.46 188.62,102.16 188.7,103.55 188.77,105.96 188.84,107.83 188.91,109.14 188.99,108.52 189.06,106.44 189.13,104.49 189.2,102.95 189.28,101.5 189.35,102.18 189.42,103.58 189.49,105.12 189.57,106.85 189.64,108.02 189.71,107.8 189.78,107.74 189.86,107.01 189.93,105.97 190,104.89 190.07,103.98 190.14,101.36 190.22,103.17 190.29,103.78 190.36,105.15 190.43,106.46 190.51,107.71 190.58,109.36 190.65,107.13 190.72,105.85 190.8,104.25 190.87,103.06 190.94,103.29 191.01,104.62 191.09,106.4 191.16,107.63 191.23,107.78 191.3,105.83 191.38,103.18 191.45,102.38 191.52,103.98 191.59,107.16 191.67,108.81 191.74,107.03 191.81,103.53 191.88,102.31 191.95,104.49 192.03,108 192.1,108.35 192.17,105.37 192.24,102.8 192.32,104.08 192.39,106.54 192.46,107.2 192.53,105.64 192.61,103.58 192.68,103.97 192.75,106.34 192.82,107.46 192.9,105.84 192.97,103.85 193.04,103.65 193.11,105.98 193.19,107.54 193.26,107.19 193.33,104.11 193.4,102.63 193.48,103.84 193.55,106.7 193.62,108.29 193.69,107.63 193.76,105.23 193.84,103.04 193.91,103.06 193.98,104.18 194.05,105.9 194.13,107.12 194.2,107.11 194.27,106.7 194.34,106.07 194.42,104.95 194.49,103.96 194.56,103.3 194.63,103.52 194.71,103.89 194.78,105.03 194.85,106.27 194.92,107.45 195,107.81 195.07,108.05 195.14,107.47 195.21,106.56 195.29,105.45 195.36,104.26 195.43,103.54 195.5,102.72 195.57,102.84 195.65,103.72 195.72,104.76 195.79,106.01 195.86,107.05 195.94,108.33 196.01,108.61 196.08,107.9 196.15,107.07 196.23,105.65 196.3,104.21 196.37,103.29 196.44,102.63 196.52,102.9 196.59,103.5 196.66,104.39 196.73,105.38 196.81,106.3 196.88,107.5 196.95,108.41 197.02,109.15 197.1,108.54 197.17,107.99 197.24,106.44 197.31,104.73 197.38,103.43 197.46,101.66 197.53,101.73 197.6,101.71 197.67,103.02 197.75,104.43 197.82,106.67 197.89,108.8 197.96,110 198.04,110.19 198.11,108.64 198.18,106.19 198.25,103.94 198.33,101.85 198.4,101.96 198.47,102.73 198.54,104.84 198.62,106.95 198.69,107.97 198.76,107.93 198.83,107.28 198.91,105.09 198.98,103.22 199.05,102.33 199.12,103.78 199.19,105.96 199.27,107.65 199.34,108.54 199.41,107.04 199.48,104.28 199.56,102.7 199.63,103.11 199.7,105.3 199.77,108.3 199.85,109.17 199.92,107.27 199.99,104.18 200.06,102.24 200.14,102.86 200.21,105.3 200.28,107.94 200.35,111.55 200.43,107.99 200.5,105.33 200.57,103.3 200.64,99.91 200.72,102.92 200.79,104.69 200.86,106.49 200.93,108.08 201,108.46 201.08,108.46 201.15,108.06 201.22,106.65 201.29,105.27 201.37,103.63 201.44,102.47 201.51,101.39 201.58,100.94 201.66,100.98 201.73,100.72 201.8,102.18 201.87,103.28 201.95,104.46 202.02,105.97 202.09,107.41 202.16,109.26 202.24,110.25 202.31,110.12 202.38,109.65 202.45,108.42 202.53,107.34 202.6,106.36 202.67,104.96 202.74,103.58 202.81,102.17 202.89,100.97 202.96,101.55 203.03,102.68 203.1,105.3 203.18,107.71 203.25,109.63 203.32,110.02 203.39,108.87 203.47,106.67 203.54,103.83 203.61,102.3 203.68,102.38 203.76,103 203.83,104.9 203.9,106.73 203.97,108.39 204.05,109.25 204.12,108.49 204.19,106.6 204.26,104.6 204.34,103.21 204.41,102.7 204.48,102.97 204.55,103.37 204.62,104.45 204.7,106.14 204.77,107.89 204.84,109.47 204.91,109.97 204.99,109.4 205.06,108.64 205.13,107.93 205.2,106.3 205.28,105.03 205.35,103.88 205.42,103.05 205.49,102.74 205.57,102.21 205.64,102.66 205.71,103.56 205.78,104.79 205.86,106.28 205.93,107.56 206,108.53 206.07,108.5 206.15,107.21 206.22,105.03 206.29,102.92 206.36,102.12 206.43,103.35 206.51,106.18 206.58,108.48 206.65,109.54 206.72,106.56 206.8,102.59 206.87,100.46 206.94,103.47 207.01,107.84 207.09,110.27 207.16,108.75 207.23,104.26 207.3,101.31 207.38,101.38 207.45,104.74 207.52,108.23 207.59,110.05 207.67,107.73 207.74,105.03 207.81,102.61 207.88,102.15 207.96,103.57 208.03,105.65 208.1,107.36 208.17,108.19 208.24,107.9 208.32,106.44 208.39,104.86 208.46,103.16 208.53,102.21 208.61,102.3 208.68,103.49 208.75,105.68 208.82,108.05 208.9,110 208.97,109.37 209.04,108.08 209.11,106.1 209.19,103.48 209.26,101.44 209.33,101.34 209.4,102.43 209.48,105.59 209.55,108.17 209.62,109.34 209.69,108.83 209.77,105.48 209.84,102.81 209.91,102.91 209.98,104.43 210.05,106.97 210.13,109.23 210.2,107.98 210.27,103.76 210.34,101.85 210.42,104.08 210.49,108 210.56,109.14 210.63,104.64 210.71,101.16 210.78,104.78 210.85,108.67 210.92,107.01 211,101.99 211.07,103.21 211.14,108.68 211.21,107.48 211.29,102.25 211.36,103.68 211.43,108.95 211.5,106.86 211.58,101.62 211.65,104.47 211.72,109.15 211.79,106.38 211.86,101.79 211.94,104.51 212.01,108.59 212.08,107.37 212.15,102.58 212.23,102.75 212.3,106.95 212.37,108.61 212.44,106.23 212.52,103.28 212.59,103.18 212.66,105.36 212.73,107.02 212.81,107.6 212.88,106.21 212.95,103.82 213.02,102.25 213.1,103.05 213.17,104.95 213.24,107.4 213.31,108.58 213.39,108.02 213.46,106.9 213.53,104.88 213.6,103.03 213.67,102.5 213.75,102.64 213.82,104.67 213.89,106.81 213.96,108.06 214.04,108.02 214.11,107.01 214.18,104.77 214.25,102.54 214.33,102.2 214.4,104.14 214.47,106.52 214.54,108.32 214.62,107.64 214.69,106.17 214.76,104.04 214.83,102.8 214.91,103.52 214.98,105.63 215.05,106.99 215.12,107.33 215.2,106.29 215.27,104.87 215.34,103.99 215.41,103.72 215.48,104.83 215.56,106.31 215.63,107.81 215.7,108.14 215.77,106.83 215.85,105.07 215.92,103.69 215.99,102.7 216.06,103.14 216.14,104.59 216.21,106.2 216.28,107.25 216.35,107.95 216.43,107.25 216.5,106.21 216.57,104.51 216.64,102.92 216.72,103.01 216.79,103.93 216.86,105.85 216.93,107.14 217.01,107.56 217.08,106.67 217.15,104.92 217.22,103.88 217.29,103.77 217.37,105.07 217.44,106.41 217.51,106.88 217.58,106.19 217.66,104.9 217.73,104.14 217.8,104.29 217.87,105.65 217.95,106.7 218.02,106.97 218.09,105.87 218.16,104.59 218.24,103.58 218.31,104.01 218.38,105.59 218.45,106.86 218.53,107.36 218.6,107.11 218.67,105.67 218.74,104.19 218.82,103.04 218.89,103.09 218.96,103.84 219.03,105.09 219.1,106.41 219.18,107.11 219.25,107.49 219.32,107.81 219.39,107.07 219.47,106.45 219.54,105.61 219.61,104.61 219.68,103.66 219.76,103.2 219.83,103.37 219.9,103.16 219.97,103.58 220.05,104.42 220.12,104.92 220.19,105.68 220.26,106.33 220.34,106.86 220.41,107.23 220.48,107.66 220.55,107.26 220.63,107.33 220.7,106.93 220.77,106.2 220.84,105.58 220.91,104.82 220.99,104.16 221.06,103.65 221.13,103.13 221.2,103.95 221.28,104.7 221.35,105.69 221.42,106.42 221.49,107.01 221.57,107.19 221.64,106.29 221.71,104.67 221.78,102.81 221.86,102.78 221.93,104.84 222,106.93 222.07,107.95 222.15,106.94 222.22,104.11 222.29,102.68 222.36,104.12 222.44,106.65 222.51,107.53 222.58,106.04 222.65,103.95 222.72,103.8 222.8,105.63 222.87,107.23 222.94,106.71 223.01,104.54 223.09,103.25 223.16,104.72 223.23,107.46 223.3,107.7 223.38,105.75 223.45,102.96 223.52,102.68 223.59,105.12 223.67,107.22 223.74,107.72 223.81,106.35 223.88,104.68 223.96,103.98 224.03,103.94 224.1,105.07 224.17,106.59 224.25,107.29 224.32,107.3 224.39,106.17 224.46,104.92 224.53,103.9 224.61,103.89 224.68,104.23 224.75,105.08 224.82,106.51 224.9,107.47 224.97,107.97 225.04,107.72 225.11,106.4 225.19,104.65 225.26,103.28 225.33,102.15 225.4,102.75 225.48,103.65 225.55,105.6 225.62,107.15 225.69,108.42 225.77,108.59 225.84,107.34 225.91,105.78 225.98,103.78 226.06,102.37 226.13,102.34 226.2,103.46 226.27,105.52 226.34,107.74 226.42,108.97 226.49,108.57 226.56,106.86 226.63,104.21 226.71,102.39 226.78,102.71 226.85,103.59 226.92,106.02 227,107.76 227.07,108.25 227.14,107.26 227.21,105.08 227.29,103.05 227.36,102.6 227.43,103.88 227.5,105.89 227.58,107.43 227.65,107.95 227.72,107.11 227.79,105.32 227.87,103.74 227.94,102.68 228.01,103.23 228.08,104.89 228.15,107.22 228.23,109.02 228.3,108.74 228.37,107.79 228.44,105.39 228.52,103.11 228.59,102 228.66,102.58 228.73,104.07 228.81,106.06 228.88,107.57 228.95,107.85 229.02,107.7 229.1,106.1 229.17,104.3 229.24,103.05 229.31,102.83 229.39,104.12 229.46,105.76 229.53,107.46 229.6,108.27 229.68,107.73 229.75,106.52 229.82,104.65 229.89,103.12 229.96,102.41 230.04,102.02 230.11,103.71 230.18,105.68 230.25,107.57 230.33,108.5 230.4,109.71 230.47,109.5 230.54,108 230.62,106.77 230.69,105.39 230.76,103.92 230.83,102.88 230.91,101.33 230.98,99.18 231.05,101.79 231.12,102.7 231.2,104.63 231.27,106.91 231.34,109.09 231.41,111.55 231.49,109.22 231.56,105.96 231.63,102.62 231.7,101.69 231.77,103.34 231.85,107.32 231.92,109.38 231.99,106.75 232.06,101.72 232.14,102.08 232.21,107.86 232.28,109.48 232.35,104.42 232.43,100.31 232.5,105.82 232.57,110.28 232.64,105.7 232.72,100.88 232.79,104.63 232.86,109.19 232.93,107.07 233.01,102.02 233.08,102.9 233.15,107.68 233.22,108.89 233.3,105.18 233.37,102.23 233.44,103.34 233.51,107.17 233.58,108.92 233.66,107 233.73,103.75 233.8,102.32 233.87,103.06 233.95,106.06 234.02,108.22 234.09,108.35 234.16,106.61 234.24,104.77 234.31,103.47 234.38,103.74 234.45,104.27 234.53,105.86 234.6,107.41 234.67,107.73 234.74,107.47 234.82,105.86 234.89,104.4 234.96,103.22 235.03,103.57 235.11,104.48 235.18,105.48 235.25,106.43 235.32,107.25 235.39,107.46 235.47,107.02 235.54,105.9 235.61,104.51 235.68,103.04 235.76,103.12 235.83,103.47 235.9,104.3 235.97,105.48 236.05,106.27 236.12,106.96 236.19,107.04 236.26,106.71 236.34,106.44 236.41,105.65 236.48,104.88 236.55,104.2 236.63,104.01 236.7,103.97 236.77,104.24 236.84,104.7 236.92,105.47 236.99,106.12 237.06,106.54 237.13,106.81 237.2,106.9 237.28,106.8 237.35,106.61 237.42,106.37 237.49,106.06 237.57,105.72 237.64,105.25 237.71,104.75 237.78,104.51 237.86,104.05 237.93,103.99 238,103.6 238.07,103.81 238.15,104.16 238.22,104.12 238.29,104.4 238.36,104.72 238.44,104.92 238.51,105.48 238.58,106.14 238.65,106.89 238.73,107.18 238.8,107.49 238.87,107.33 238.94,106.96 239.01,106.3 239.09,105.29 239.16,104.32 239.23,103.43 239.3,103.51 239.38,103.78 239.45,104.94 239.52,106.1 239.59,106.76 239.67,107.04 239.74,106.53 239.81,105.76 239.88,104.82 239.96,104.25 240.03,104.18 240.1,104.73 240.17,105.79 240.25,106.62 240.32,106.81 240.39,106.47 240.46,105.42 240.54,104.27 240.61,103.77 240.68,104.3 240.75,105.62 240.82,106.68 240.9,106.99 240.97,106.21 241.04,105.03 241.11,104.4 241.19,104.67 241.26,105.33 241.33,106.17 241.4,106.75 241.48,106.26 241.55,105.11 241.62,103.98 241.69,103.89 241.77,104.88 241.84,106.19 241.91,106.93 241.98,106.94 242.06,106.19 242.13,105.07 242.2,104.14 242.27,103.7 242.35,103.73 242.42,104.63 242.49,105.55 242.56,106.32 242.63,106.82 242.71,107.04 242.78,107.11 242.85,106.61 242.92,106.3 243,105.79 243.07,105.23 243.14,104.5 243.21,104.01 243.29,103.42 243.36,103.3 243.43,103.57 243.5,103.7 243.58,103.76 243.65,104.21 243.72,104.99 243.79,105.57 243.87,106.13 243.94,106.48 244.01,106.88 244.08,107.33 244.16,107.42 244.23,107.26 244.3,107.12 244.37,106.71 244.44,106.3 244.52,105.79 244.59,105.38 244.66,105.01 244.73,104.74 244.81,104.51 244.88,104.26 244.95,103.66 245.02,103.55 245.1,103.29 245.17,103.78 245.24,103.88 245.31,104.48 245.39,105.14 245.46,105.85 245.53,106.56 245.6,106.98 245.68,106.92 245.75,106.88 245.82,106.34 245.89,105.66 245.97,104.78 246.04,103.81 246.11,104.04 246.18,104.76 246.25,106.05 246.33,107.02 246.4,106.75 246.47,105.25 246.54,103.73 246.62,104.24 246.69,105.92 246.76,107.24 246.83,106.27 246.91,104.17 246.98,103.87 247.05,105.75 247.12,107.09 247.2,106.18 247.27,103.93 247.34,103.61 247.41,106.13 247.49,107.56 247.56,106.09 247.63,103.16 247.7,103.52 247.78,106.67 247.85,108.08 247.92,106.05 247.99,102.9 248.06,103.17 248.14,106.04 248.21,107.67 248.28,106.69 248.35,104.6 248.43,103.48 248.5,104.66 248.57,106.21 248.64,107.08 248.72,106.83 248.79,105.39 248.86,104.2 248.93,103.66 249.01,104 249.08,105.42 249.15,106.76 249.22,107.28 249.3,107.93 249.37,107.6 249.44,107.05 249.51,106.11 249.59,105.5 249.66,104.87 249.73,104.34 249.8,104.09 249.87,103.7 249.95,103.62 250.02,103.56 250.09,103.46 250.16,103.66 250.24,103.46 250.31,103.73 250.38,104.23 250.45,104.73 250.53,105.32 250.6,105.79 250.67,106.28 250.74,106.44 250.82,106.9 250.89,107.29 250.96,107.89 251.03,108.08 251.11,108.24 251.18,107.99 251.25,107.54 251.32,106.51 251.4,105.54 251.47,104.35 251.54,103.39 251.61,103.03 251.68,103.37 251.76,103.67 251.83,104.81 251.9,106.06 251.97,107 252.05,107.83 252.12,107.49 252.19,107.1 252.26,105.74 252.34,104.23 252.41,102.99 252.48,102.46 252.55,103.07 252.63,104.31 252.7,105.83 252.77,107.08 252.84,108.11 252.92,108.11 252.99,106.9 253.06,105.53 253.13,104.02 253.21,103.09 253.28,102.96 253.35,104.43 253.42,106.38 253.49,107.81 253.57,107.26 253.64,106.13 253.71,104.4 253.78,103.64 253.86,104.26 253.93,106.24 254,108.04 254.07,107.24 254.15,104.65 254.22,102.46 254.29,102.88 254.36,106.3 254.44,108.25 254.51,107.44 254.58,104.58 254.65,102.44 254.73,103.54 254.8,106.1 254.87,107.89 254.94,107.8 255.02,105.44 255.09,103.15 255.16,102.95 255.23,104.15 255.3,106.8 255.38,107.91 255.45,107.9 255.52,106.37 255.59,104.08 255.67,103.06 255.74,102.3 255.81,103.8 255.88,105.68 255.96,107.17 256.03,108.12 256.1,107.79 256.17,106.84 256.25,105.31 256.32,103.62 256.39,102.16 256.46,102.47 256.54,103.28 256.61,105.14 256.68,106.64 256.75,107.54 256.83,107.88 256.9,107.25 256.97,106.14 257.04,104.56 257.11,102.63 257.19,101.77 257.26,102.42 257.33,103.91 257.4,106.03 257.48,107.66 257.55,108.84 257.62,108.71 257.69,107.5 257.77,106.1 257.84,103.92 257.91,102.56 257.98,101.15 258.06,101.86 258.13,103.24 258.2,105.05 258.27,106.56 258.35,107.52 258.42,110.09 258.49,107.53 258.56,106.97 258.64,105.84 258.71,103.85 258.78,99.18"/>
<rect class="sp" x="34.4" y="83.2" width="235.2" height="43.9"/>
<path class="tk" d="M45.2 127.1v2.3M81.4 127.1v2.3M117.6 127.1v2.3M153.8 127.1v2.3M190 127.1v2.3M226.2 127.1v2.3M262.4 127.1v2.3M34.4 92.4h-2.3M34.4 105.5h-2.3M34.4 118.8h-2.3"/>
<text class="t" x="45.55" y="136.44" text-anchor="middle">0</text>
<text class="t" x="81.75" y="136.44" text-anchor="middle">500</text>
<text class="t" x="117.95" y="136.44" text-anchor="middle">1000</text>
<text class="t" x="154.15" y="136.44" text-anchor="middle">1500</text>
<text class="t" x="190.35" y="136.44" text-anchor="middle">2000</text>
<text class="t" x="226.55" y="136.44" text-anchor="middle">2500</text>
<text class="t" x="262.75" y="136.44" text-anchor="middle">3000</text>
<text class="t" x="30.1" y="94.77" text-anchor="end">50</text>
<text class="t" x="30.1" y="107.87" text-anchor="end">0</text>
<text class="t" x="30.1" y="121.17" text-anchor="end">−50</text>
<text class="t" text-anchor="middle" transform="translate(12.1 105.15) rotate(-90)">IMF 2</text>
</g>
<g>
<clipPath id="c2"><rect x="34.4" y="152.9" width="235.2" height="43.9"/></clipPath>
<polyline class="ln" clip-path="url(#c2)" points="45.2,178.02 45.27,154.2 45.34,190 45.42,161.31 45.49,159.54 45.56,171.42 45.63,179.87 45.71,183.42 45.78,184.08 45.85,180.71 45.92,174.83 46,170.12 46.07,153.91 46.14,173.56 46.21,165 46.29,195.4 46.36,184.45 46.43,185.11 46.5,178.87 46.58,173.9 46.65,171.8 46.72,170.88 46.79,173.39 46.87,177.53 46.94,182.09 47.01,183.55 47.08,183.24 47.15,181.57 47.23,178.53 47.3,175.14 47.37,172.05 47.44,169.23 47.52,167.78 47.59,170.91 47.66,173.64 47.73,178.6 47.81,183.83 47.88,186.24 47.95,188.05 48.02,188.96 48.1,185.88 48.17,181 48.24,176.68 48.31,173.48 48.39,171.58 48.46,170.28 48.53,170.03 48.6,171.02 48.68,173.36 48.75,177.56 48.82,182.1 48.89,186.26 48.96,193.18 49.04,186.96 49.11,183.58 49.18,178.7 49.25,174.56 49.33,172.42 49.4,161.91 49.47,170.21 49.54,172.48 49.62,177.1 49.69,183.01 49.76,186.56 49.83,187.11 49.91,183.99 49.98,179.33 50.05,175.08 50.12,172.29 50.2,172.57 50.27,173.84 50.34,175.18 50.41,177.38 50.49,179.74 50.56,182.51 50.63,182.67 50.7,180.82 50.77,179.71 50.85,177.45 50.92,175.78 50.99,174.34 51.06,174.24 51.14,174.24 51.21,175.06 51.28,176.32 51.35,177.1 51.43,178.02 51.5,179.22 51.57,179.73 51.64,179.78 51.72,179.9 51.79,179.4 51.86,178.83 51.93,177.9 52.01,177.01 52.08,176.2 52.15,175.85 52.22,175.27 52.3,175.06 52.37,175.03 52.44,175.33 52.51,176.2 52.58,177.45 52.66,179.19 52.73,180.56 52.8,181.16 52.87,181.08 52.95,179.64 53.02,178.15 53.09,176.31 53.16,174.73 53.24,174.07 53.31,174.43 53.38,175.66 53.45,177.75 53.53,179.46 53.6,180.52 53.67,179.67 53.74,178.06 53.82,175.64 53.89,174.45 53.96,174.69 54.03,176.36 54.11,179.11 54.18,180.81 54.25,179.57 54.32,177.45 54.39,174.67 54.47,174.05 54.54,175.61 54.61,178.13 54.68,179.98 54.76,179.9 54.83,177.95 54.9,175.64 54.97,174.3 55.05,175.64 55.12,177.57 55.19,179.29 55.26,179.44 55.34,178.46 55.41,176.23 55.48,174.17 55.55,174.24 55.63,176.21 55.7,178.41 55.77,180.1 55.84,179.6 55.92,178.52 55.99,176.5 56.06,174.74 56.13,174.57 56.2,175.41 56.28,177.14 56.35,178.71 56.42,179.88 56.49,179.34 56.57,178.38 56.64,177.13 56.71,176.24 56.78,175.38 56.86,175.52 56.93,176.21 57,177.33 57.07,178.29 57.15,179 57.22,179.11 57.29,178.38 57.36,177.58 57.44,176.61 57.51,175.72 57.58,175.31 57.65,175.54 57.73,176.48 57.8,177.51 57.87,178.54 57.94,179.2 58.01,179.25 58.09,178.72 58.16,177.84 58.23,176.09 58.3,174.25 58.38,173.67 58.45,173.17 58.52,174.88 58.59,177.1 58.67,178.92 58.74,180.66 58.81,181.43 58.88,180.35 58.96,179.04 59.03,177.04 59.1,174.62 59.17,172.69 59.25,172.76 59.32,174.17 59.39,175.82 59.46,177.36 59.54,178.85 59.61,180.56 59.68,183.73 59.75,181.58 59.82,180.32 59.9,178.06 59.97,175.24 60.04,172.35 60.11,171.57 60.19,171.68 60.26,171.62 60.33,174.81 60.4,177.46 60.48,179.48 60.55,180.62 60.62,181.37 60.69,181.15 60.77,179.93 60.84,178.79 60.91,176.96 60.98,175.18 61.06,173.98 61.13,169.18 61.2,173.63 61.27,174.03 61.35,175.62 61.42,177.14 61.49,178.51 61.56,179.64 61.63,180.82 61.71,180.59 61.78,180.74 61.85,180.17 61.92,178.79 62,177.2 62.07,175.08 62.14,174.15 62.21,172.31 62.29,172.05 62.36,173.36 62.43,173.87 62.5,175.66 62.58,177.23 62.65,178.6 62.72,179.4 62.79,180.47 62.87,180.75 62.94,179.93 63.01,179.59 63.08,178.44 63.16,177.15 63.23,175.93 63.3,174.8 63.37,174.57 63.44,174.33 63.52,174.53 63.59,175.71 63.66,177.16 63.73,178.53 63.81,180.04 63.88,180.24 63.95,179.95 64.02,179.15 64.1,178.33 64.17,177.18 64.24,176.12 64.31,175.4 64.39,175.43 64.46,175.54 64.53,175.9 64.6,176.74 64.68,177.69 64.75,178.61 64.82,179.29 64.89,179.88 64.97,179.63 65.04,178.91 65.11,177.95 65.18,176.84 65.25,175.7 65.33,174.75 65.4,174.49 65.47,174.36 65.54,174.9 65.62,175.68 65.69,176.48 65.76,177.4 65.83,177.93 65.91,178.44 65.98,178.64 66.05,178.65 66.12,178.55 66.2,178.56 66.27,178.44 66.34,178.34 66.41,178.05 66.49,177.72 66.56,177.35 66.63,176.97 66.7,176.66 66.78,176.39 66.85,176.17 66.92,175.95 66.99,175.91 67.06,175.98 67.14,175.9 67.21,175.88 67.28,175.83 67.35,176.11 67.43,176.57 67.5,177.08 67.57,177.59 67.64,178.12 67.72,178.43 67.79,178.58 67.86,178.76 67.93,178.6 68.01,178.32 68.08,178.14 68.15,177.55 68.22,176.72 68.3,176 68.37,175.12 68.44,175.11 68.51,175.67 68.59,176.78 68.66,178.09 68.73,179.12 68.8,179.53 68.87,178.79 68.95,177.53 69.02,176.3 69.09,175.52 69.16,175.8 69.24,176.81 69.31,178.24 69.38,179.09 69.45,178.79 69.53,177.74 69.6,176.28 69.67,175.57 69.74,176 69.82,177.31 69.89,178.68 69.96,179.25 70.03,178.25 70.11,176.72 70.18,175.61 70.25,175.48 70.32,176.59 70.4,178.41 70.47,179.6 70.54,179.24 70.61,177.75 70.68,175.85 70.76,174.41 70.83,175.17 70.9,176.76 70.97,178.39 71.05,179.37 71.12,179.51 71.19,178.25 71.26,176.79 71.34,175.36 71.41,174.92 71.48,175.28 71.55,176.63 71.63,177.92 71.7,178.84 71.77,179.36 71.84,179.44 71.92,178.7 71.99,177.25 72.06,175.91 72.13,174.33 72.21,174.17 72.28,174.79 72.35,175.43 72.42,176.98 72.49,178.38 72.57,179.58 72.64,179.73 72.71,179.83 72.78,179.89 72.86,178.75 72.93,177.79 73,176.7 73.07,175.79 73.15,174.88 73.22,174.37 73.29,173.77 73.36,173.94 73.44,175.16 73.51,176.03 73.58,177.57 73.65,178.99 73.73,179.85 73.8,180.83 73.87,180.92 73.94,181.23 74.02,180.36 74.09,179.73 74.16,178.22 74.23,177.15 74.3,175.91 74.38,174.95 74.45,173.33 74.52,172.31 74.59,173.14 74.67,173.28 74.74,174.88 74.81,176.95 74.88,179.31 74.96,181.31 75.03,181.85 75.1,183.73 75.17,181.76 75.25,179.4 75.32,177.38 75.39,175.29 75.46,174.04 75.54,170.64 75.61,174.08 75.68,175.26 75.75,177.46 75.83,179.42 75.9,181.21 75.97,181.6 76.04,180.57 76.11,177.84 76.19,174.7 76.26,172.25 76.33,171.94 76.4,174.23 76.48,177.24 76.55,180.57 76.62,182.02 76.69,181.89 76.77,179.24 76.84,175.55 76.91,172.69 76.98,171.79 77.06,174.04 77.13,177.36 77.2,180.41 77.27,181.52 77.35,181.07 77.42,178.28 77.49,174.89 77.56,172.61 77.64,172.34 77.71,174.74 77.78,178.32 77.85,180.85 77.92,182.13 78,180.78 78.07,177.77 78.14,174.51 78.21,172.68 78.29,171.74 78.36,174.76 78.43,177.73 78.5,180.4 78.58,181.26 78.65,181.68 78.72,179.2 78.79,176.55 78.87,173.8 78.94,171.95 79.01,173.01 79.08,175.17 79.16,177.37 79.23,178.88 79.3,180.38 79.37,180.77 79.45,180.14 79.52,178.32 79.59,175.57 79.66,172.65 79.73,170.95 79.81,172.43 79.88,173.69 79.95,176.84 80.02,178.69 80.1,179.63 80.17,179.81 80.24,179.44 80.31,178.94 80.39,177.61 80.46,175.24 80.53,172.91 80.6,172.38 80.68,171.98 80.75,173.94 80.82,176.42 80.89,178.66 80.97,179.88 81.04,180.99 81.11,180.24 81.18,179.17 81.26,178.03 81.33,176.4 81.4,174.78 81.47,173.84 81.54,173.28 81.62,174.25 81.69,175.66 81.76,177.95 81.83,180.17 81.91,182.12 81.98,183.27 82.05,181.66 82.12,180.23 82.2,177.46 82.27,174.43 82.34,171.63 82.41,171.21 82.49,170.91 82.56,173.09 82.63,175.73 82.7,178.45 82.78,181.51 82.85,183.55 82.92,183.79 82.99,182.04 83.07,180.29 83.14,177.38 83.21,174.92 83.28,172.82 83.35,173.12 83.43,172.86 83.5,174.74 83.57,176.89 83.64,179.12 83.72,180.57 83.79,185.18 83.86,180.84 83.93,179.07 84.01,176.87 84.08,174.2 84.15,173.18 84.22,172.4 84.3,174.37 84.37,177.32 84.44,181.18 84.51,183.3 84.59,182.76 84.66,180.07 84.73,176.53 84.8,173.69 84.88,169.91 84.95,174.2 85.02,176.86 85.09,179.03 85.16,180.5 85.24,179.94 85.31,178.3 85.38,175.5 85.45,174.19 85.53,173.73 85.6,176.19 85.67,179.06 85.74,180.92 85.82,180.73 85.89,178.44 85.96,175.74 86.03,174.32 86.11,174.34 86.18,176.2 86.25,178.4 86.32,180.13 86.4,179.7 86.47,178.59 86.54,177.01 86.61,175.32 86.69,174.35 86.76,175.08 86.83,176.3 86.9,177.66 86.97,178.92 87.05,179.08 87.12,179.35 87.19,178.81 87.26,178.01 87.34,177.06 87.41,176.26 87.48,175.49 87.55,175.6 87.63,175.37 87.7,175.75 87.77,176.12 87.84,176.64 87.92,177.34 87.99,177.93 88.06,178.41 88.13,178.96 88.21,179.28 88.28,179.6 88.35,180 88.42,179.79 88.5,179.61 88.57,179.02 88.64,178.33 88.71,177.56 88.78,176.66 88.86,175.57 88.93,174.81 89,174.44 89.07,173.77 89.15,173.62 89.22,174.43 89.29,174.93 89.36,175.68 89.44,176.73 89.51,177.69 89.58,178.63 89.65,179.23 89.73,179.49 89.8,179.83 89.87,179.81 89.94,179 90.02,177.85 90.09,176.37 90.16,174.72 90.23,173.96 90.31,170.64 90.38,174.03 90.45,175.73 90.52,177.37 90.59,178.96 90.67,179.81 90.74,183 90.81,179.72 90.88,178.68 90.96,177.02 91.03,175.16 91.1,173.69 91.17,172.85 91.25,174.11 91.32,175.85 91.39,178.4 91.46,180.27 91.54,181.76 91.61,180.83 91.68,179.74 91.75,177.28 91.83,174.63 91.9,172.93 91.97,173.63 92.04,174.95 92.12,176.96 92.19,178.32 92.26,178.95 92.33,179.44 92.4,179.25 92.48,177.82 92.55,176.01 92.62,174.78 92.69,174.49 92.77,174.96 92.84,176.78 92.91,178.17 92.98,178.85 93.06,179.11 93.13,178.51 93.2,177.58 93.27,176.55 93.35,175.96 93.42,175.82 93.49,176.13 93.56,177.05 93.64,177.84 93.71,178.53 93.78,178.43 93.85,178.16 93.93,177.43 94,176.46 94.07,175.53 94.14,175.09 94.21,175.92 94.29,177.39 94.36,178.8 94.43,179.74 94.5,179.37 94.58,178.25 94.65,176.58 94.72,175.22 94.79,175.26 94.87,176.11 94.94,177.23 95.01,178.36 95.08,179.29 95.16,179.02 95.23,178.2 95.3,176.5 95.37,175.45 95.45,175.13 95.52,175.65 95.59,176.97 95.66,178.2 95.74,179.16 95.81,179.06 95.88,178.83 95.95,177.74 96.02,176.27 96.1,175.05 96.17,174.29 96.24,174.55 96.31,175.75 96.39,176.92 96.46,178.14 96.53,178.97 96.6,179.99 96.68,180.19 96.75,179.89 96.82,178.91 96.89,178.5 96.97,177.46 97.04,176.44 97.11,175.34 97.18,174.11 97.26,173.43 97.33,173.23 97.4,172.52 97.47,172.75 97.55,173.82 97.62,174.28 97.69,174.95 97.76,176.2 97.83,177.14 97.91,178.38 97.98,179.89 98.05,180.94 98.12,181.52 98.2,182.21 98.27,182.88 98.34,183.37 98.41,181.75 98.49,181.21 98.56,179.24 98.63,176.15 98.7,171.88 98.78,167.95 98.85,165.28 98.92,166.33 98.99,168.2 99.07,174.35 99.14,181.2 99.21,186.89 99.28,193.18 99.36,187.96 99.43,183.4 99.5,174.71 99.57,167.45 99.64,160.45 99.72,168.38 99.79,174.46 99.86,181.23 99.93,185.51 100.01,185.26 100.08,181.17 100.15,174.23 100.22,168.75 100.3,167.32 100.37,172.28 100.44,180.37 100.51,185.94 100.59,185.52 100.66,180.67 100.73,172.3 100.8,167.25 100.88,169.77 100.95,176.45 101.02,182.63 101.09,183.18 101.17,180.51 101.24,175.89 101.31,170.78 101.38,169.27 101.45,174.42 101.53,181.33 101.6,186.19 101.67,183.66 101.74,177.13 101.82,170.2 101.89,168.18 101.96,173.07 102.03,180.72 102.11,184.47 102.18,183.77 102.25,177.94 102.32,172.51 102.4,170.3 102.47,174.35 102.54,179.57 102.61,182.77 102.69,182.02 102.76,177.35 102.83,173.45 102.9,173 102.98,175.49 103.05,179.31 103.12,181.38 103.19,179.93 103.26,176.63 103.34,173.97 103.41,173.6 103.48,176.43 103.55,179.51 103.63,181.66 103.7,179.79 103.77,176.53 103.84,174.09 103.92,173.38 103.99,175.64 104.06,178.96 104.13,181.15 104.21,181.15 104.28,178.47 104.35,175.69 104.42,173.79 104.5,173.62 104.57,175.7 104.64,178.13 104.71,180.36 104.79,180.39 104.86,179.66 104.93,177.86 105,176.23 105.07,174.92 105.15,175.05 105.22,175.33 105.29,176.64 105.36,178.2 105.44,179.42 105.51,179.79 105.58,179.67 105.65,178.63 105.73,177.21 105.8,175.71 105.87,174.92 105.94,174.2 106.02,174.78 106.09,176.29 106.16,178.5 106.23,180.04 106.31,181.48 106.38,181.05 106.45,179.1 106.52,176.78 106.6,174.58 106.67,174.2 106.74,173.66 106.81,175.66 106.88,177.61 106.96,179.37 107.03,179.47 107.1,179.04 107.17,178.36 107.25,177.04 107.32,175.45 107.39,174.48 107.46,174.67 107.54,175.76 107.61,177.4 107.68,178.9 107.75,179.95 107.83,180.01 107.9,178.98 107.97,177.94 108.04,176.81 108.12,175.86 108.19,175.29 108.26,175.5 108.33,175.84 108.41,176.53 108.48,177.33 108.55,178.02 108.62,178.51 108.69,178.91 108.77,179 108.84,178.95 108.91,178.3 108.98,177.6 109.06,176.75 109.13,175.66 109.2,175.12 109.27,174.55 109.35,174.67 109.42,174.91 109.49,176.06 109.56,176.87 109.64,177.82 109.71,178.6 109.78,179.06 109.85,179.03 109.93,179.03 110,178.54 110.07,178.18 110.14,177.58 110.22,176.89 110.29,176.33 110.36,175.44 110.43,175.48 110.5,175.45 110.58,176.15 110.65,176.8 110.72,177.66 110.79,178.68 110.87,179.06 110.94,179.28 111.01,178.8 111.08,178.24 111.16,177.55 111.23,176.81 111.3,176.37 111.37,176.13 111.45,176.02 111.52,176.47 111.59,176.98 111.66,177.73 111.74,178.31 111.81,178.42 111.88,178.36 111.95,177.89 112.03,177.28 112.1,176.72 112.17,176.25 112.24,176.35 112.31,176.57 112.39,177.24 112.46,177.76 112.53,178.13 112.6,178.12 112.68,177.81 112.75,177.25 112.82,176.61 112.89,176.07 112.97,176.23 113.04,176.85 113.11,177.78 113.18,178.45 113.26,178.57 113.33,178.01 113.4,177.17 113.47,176.18 113.55,175.91 113.62,176.47 113.69,177.15 113.76,177.77 113.84,178.18 113.91,178.05 113.98,177.62 114.05,176.75 114.12,175.97 114.2,175.93 114.27,176.69 114.34,177.79 114.41,178.54 114.49,178.52 114.56,177.97 114.63,176.79 114.7,176.16 114.78,176.21 114.85,176.92 114.92,177.96 114.99,178.76 115.07,178.71 115.14,177.33 115.21,175.9 115.28,175.04 115.36,176.42 115.43,178.18 115.5,178.99 115.57,178.78 115.65,177.13 115.72,175.9 115.79,175.86 115.86,176.95 115.93,178.31 116.01,180.09 116.08,178.05 116.15,176.27 116.22,174.9 116.3,175.75 116.37,177.71 116.44,179.49 116.51,179.26 116.59,177.68 116.66,175.76 116.73,174.27 116.8,176.19 116.88,177.69 116.95,178.7 117.02,178.65 117.09,177.89 117.17,176.81 117.24,176.11 117.31,175.93 117.38,176.67 117.46,177.47 117.53,178.19 117.6,178.39 117.67,178.4 117.74,177.94 117.82,177.17 117.89,176.41 117.96,175.76 118.03,175.47 118.11,175.63 118.18,176.28 118.25,176.98 118.32,177.65 118.4,178.15 118.47,178.46 118.54,178.49 118.61,178.57 118.69,178.24 118.76,178.13 118.83,177.82 118.9,177.56 118.98,177.31 119.05,176.99 119.12,176.64 119.19,176.37 119.27,176.14 119.34,176.06 119.41,176.01 119.48,175.94 119.55,176.05 119.63,176.44 119.7,176.76 119.77,177.1 119.84,177.46 119.92,177.85 119.99,178.13 120.06,178.35 120.13,178.51 120.21,178.51 120.28,178.26 120.35,178.07 120.42,177.71 120.5,177.07 120.57,176.41 120.64,175.57 120.71,175.52 120.79,175.55 120.86,175.52 120.93,176.49 121,177.43 121.08,178.45 121.15,178.97 121.22,179.58 121.29,179.43 121.36,178.46 121.44,177.56 121.51,176.57 121.58,176.01 121.65,175.44 121.73,175.16 121.8,175.81 121.87,176.34 121.94,177.55 122.02,178.63 122.09,179.32 122.16,180.03 122.23,179.68 122.31,179.02 122.38,178.07 122.45,176.99 122.52,175.79 122.6,175.36 122.67,174.64 122.74,174.55 122.81,174.78 122.89,175.3 122.96,176.11 123.03,177.18 123.1,178.13 123.17,178.93 123.25,180.03 123.32,180.52 123.39,180.1 123.46,180.07 123.54,179.94 123.61,179.69 123.68,179.23 123.75,178.83 123.83,178.18 123.9,177.72 123.97,176.96 124.04,176.06 124.12,175.04 124.19,174.19 124.26,173.3 124.33,173.13 124.41,171.8 124.48,172.11 124.55,171.93 124.62,172.39 124.7,172.83 124.77,173.19 124.84,173.5 124.91,174.29 124.98,174.45 125.06,175.33 125.13,175.73 125.2,176.55 125.27,177.39 125.35,178.18 125.42,178.94 125.49,179.5 125.56,179.81 125.64,180.79 125.71,181.33 125.78,181.74 125.85,182.83 125.93,186.64 126,183.33 126.07,183.4 126.14,183.94 126.22,183.16 126.29,183.26 126.36,181.99 126.43,180.06 126.51,178.72 126.58,177.07 126.65,175.31 126.72,173.2 126.79,171.54 126.87,171.7 126.94,169.5 127.01,167.73 127.08,171.47 127.16,172.13 127.23,174.38 127.3,176.99 127.37,179.62 127.45,181.37 127.52,182.77 127.59,182.25 127.66,181.89 127.74,179.4 127.81,176.44 127.88,173.79 127.95,172.93 128.03,172.37 128.1,175.06 128.17,177.91 128.24,180.17 128.32,181.47 128.39,180.83 128.46,177.87 128.53,175.64 128.6,174.66 128.68,175.22 128.75,176.82 128.82,178.34 128.89,179.32 128.97,179.22 129.04,177.91 129.11,175.91 129.18,174.48 129.26,174.97 129.33,176.42 129.4,178.4 129.47,179.91 129.55,179.77 129.62,178.86 129.69,176.99 129.76,175.45 129.84,174.17 129.91,175 129.98,176.02 130.05,177.88 130.13,179.09 130.2,179.43 130.27,179.65 130.34,178.58 130.41,177.5 130.49,176.5 130.56,175.47 130.63,174.91 130.7,174.88 130.78,175.22 130.85,176.23 130.92,177.37 130.99,178.54 131.07,179.27 131.14,179.87 131.21,180.82 131.28,179.81 131.36,179.39 131.43,178.49 131.5,177.83 131.57,177.02 131.65,176.31 131.72,175.76 131.79,175.3 131.86,175.15 131.94,173.55 132.01,175 132.08,175.45 132.15,176.15 132.22,177.08 132.3,178.06 132.37,178.85 132.44,179.59 132.51,179.47 132.59,179.77 132.66,178.89 132.73,178.11 132.8,177.13 132.88,176.05 132.95,175.39 133.02,175.24 133.09,175.67 133.17,176.37 133.24,177.23 133.31,178.02 133.38,178.67 133.46,178.88 133.53,178.54 133.6,177.79 133.67,176.98 133.75,176.13 133.82,175.85 133.89,176.1 133.96,176.54 134.03,177.39 134.11,178.17 134.18,178.55 134.25,178.33 134.32,177.87 134.4,177.19 134.47,176.29 134.54,175.74 134.61,175.97 134.69,176.72 134.76,177.67 134.83,178.63 134.9,178.85 134.98,178.27 135.05,177.42 135.12,176.18 135.19,175.88 135.27,176.07 135.34,176.88 135.41,177.85 135.48,178.37 135.56,178.06 135.63,177.59 135.7,176.86 135.77,176.24 135.84,176.35 135.92,176.93 135.99,177.93 136.06,178.37 136.13,178.33 136.21,177.42 136.28,176.33 136.35,175.9 136.42,176.42 136.5,177.5 136.57,178.17 136.64,178.15 136.71,177.62 136.79,176.87 136.86,176.47 136.93,176.45 137,177.19 137.08,177.79 137.15,178.06 137.22,177.84 137.29,177.32 137.37,176.56 137.44,176.33 137.51,176.39 137.58,177.12 137.65,177.82 137.73,178.23 137.8,178.49 137.87,177.96 137.94,177.4 138.02,176.62 138.09,176.2 138.16,175.85 138.23,176.01 138.31,176.46 138.38,177.13 138.45,177.71 138.52,178.19 138.6,178.57 138.67,178.81 138.74,178.86 138.81,178.61 138.89,178.2 138.96,177.63 139.03,177.19 139.1,176.71 139.18,176.47 139.25,176.28 139.32,176.23 139.39,176.19 139.46,175.8 139.54,175.72 139.61,175.6 139.68,175.64 139.75,176.14 139.83,176.32 139.9,176.74 139.97,177.16 140.04,177.49 140.12,177.86 140.19,178.23 140.26,178.6 140.33,178.61 140.41,178.6 140.48,178.63 140.55,178.27 140.62,178.5 140.7,178.62 140.77,178.41 140.84,178.35 140.91,177.94 140.99,177.44 141.06,176.87 141.13,176.29 141.2,176.01 141.27,175.66 141.35,175.63 141.42,175.69 141.49,175.72 141.56,176.25 141.64,176.82 141.71,177.4 141.78,177.91 141.85,178.43 141.93,179 142,179 142.07,178.66 142.14,178.11 142.22,177.13 142.29,175.79 142.36,174.63 142.43,174.28 142.51,174.93 142.58,175.89 142.65,177.57 142.72,178.76 142.8,179.42 142.87,179.76 142.94,179.08 143.01,177.73 143.08,175.93 143.16,174.6 143.23,174.29 143.3,175.25 143.37,176.41 143.45,177.72 143.52,178.36 143.59,178.92 143.66,179.03 143.74,178.24 143.81,177.22 143.88,175.69 143.95,174.77 144.03,174.84 144.1,175.33 144.17,176.71 144.24,178.13 144.32,178.97 144.39,180.82 144.46,179.3 144.53,178.48 144.61,176.92 144.68,174.81 144.75,173.78 144.82,173.9 144.89,174.29 144.97,176.46 145.04,178.3 145.11,179.57 145.18,180.28 145.26,180.31 145.33,178.86 145.4,177.56 145.47,175.79 145.55,174.11 145.62,172.82 145.69,174 145.76,175.2 145.84,176.79 145.91,178.35 145.98,179.37 146.05,180.02 146.13,179.71 146.2,179.1 146.27,178.3 146.34,177.1 146.42,175.9 146.49,174.8 146.56,174.73 146.63,174.83 146.7,175.11 146.78,176.16 146.85,177.28 146.92,178.2 146.99,179 147.07,179.32 147.14,179.24 147.21,179.08 147.28,178.7 147.36,177.87 147.43,177.34 147.5,176.81 147.57,176.49 147.65,176.13 147.72,175.65 147.79,175.68 147.86,175.81 147.94,176.24 148.01,176.79 148.08,177.37 148.15,177.84 148.23,178.37 148.3,178.73 148.37,178.87 148.44,178.66 148.51,178.49 148.59,177.97 148.66,177.32 148.73,176.56 148.8,175.53 148.88,175.12 148.95,174.98 149.02,175.56 149.09,176.09 149.17,177.24 149.24,178.17 149.31,179.04 149.38,179.57 149.46,179.46 149.53,178.48 149.6,177.54 149.67,176.17 149.75,174.89 149.82,174.87 149.89,175 149.96,175.8 150.04,177.35 150.11,179 150.18,180.24 150.25,180.7 150.32,180.02 150.4,178.27 150.47,175.47 150.54,173.03 150.61,171.61 150.69,172.34 150.76,175.31 150.83,177.84 150.9,179 150.98,179.55 151.05,180 151.12,179.02 151.19,176.17 151.27,172.53 151.34,170.62 151.41,171.93 151.48,175.15 151.56,178.85 151.63,181.18 151.7,182.86 151.77,180.82 151.85,177.28 151.92,172.29 151.99,168.92 152.06,170.88 152.13,175.57 152.21,179.41 152.28,180.86 152.35,181.24 152.42,178.87 152.5,175.24 152.57,172.42 152.64,172.66 152.71,175.79 152.79,180.11 152.86,182.71 152.93,182.05 153,178.1 153.08,170.37 153.15,162.64 153.22,170.27 153.29,178.87 153.37,185.25 153.44,186.6 153.51,182.05 153.58,173.18 153.66,166.66 153.73,166.86 153.8,174.66 153.87,181.71 153.94,190.27 154.02,183.33 154.09,178.57 154.16,171.84 154.23,168.36 154.31,169.82 154.38,175.67 154.45,181.39 154.52,185.23 154.6,183.15 154.67,180.08 154.74,174.86 154.81,170.97 154.89,171.19 154.96,172.89 155.03,177.13 155.1,180.1 155.18,181.84 155.25,181.41 155.32,179.64 155.39,177.15 155.47,174.12 155.54,172.25 155.61,172.11 155.68,173.84 155.75,176.34 155.83,179.13 155.9,180.98 155.97,182.09 156.04,182.13 156.12,179.89 156.19,177.91 156.26,175.69 156.33,173.71 156.41,173.13 156.48,172.75 156.55,174.41 156.62,175.63 156.7,177.23 156.77,178.6 156.84,179.71 156.91,180.13 156.99,179.88 157.06,179.42 157.13,178.86 157.2,177.6 157.28,176.12 157.35,174.72 157.42,174.21 157.49,173.88 157.56,175.01 157.64,176.05 157.71,177.21 157.78,178.05 157.85,178.58 157.93,178.59 158,178.65 158.07,178.18 158.14,177.38 158.22,176.31 158.29,175.13 158.36,174.96 158.43,175.67 158.51,177.08 158.58,178.31 158.65,178.91 158.72,178.75 158.8,177.98 158.87,176.57 158.94,175.51 159.01,175.68 159.09,176.78 159.16,178.14 159.23,178.7 159.3,178.22 159.37,177.12 159.45,175.9 159.52,176.1 159.59,177.14 159.66,178.26 159.74,178.33 159.81,177.57 159.88,176.41 159.95,176.04 160.03,176.94 160.1,178.2 160.17,178.63 160.24,177.51 160.32,176.03 160.39,176.07 160.46,177.25 160.53,178.51 160.61,178.68 160.68,177.12 160.75,174.96 160.82,175.13 160.9,177.63 160.97,179.46 161.04,179.15 161.11,176.92 161.18,174.45 161.26,175.02 161.33,177.38 161.4,179.19 161.47,179.27 161.55,177.64 161.62,175.89 161.69,175.21 161.76,176.44 161.84,177.98 161.91,179.24 161.98,179.19 162.05,177.56 162.13,175.55 162.2,173.55 162.27,175.03 162.34,177.35 162.42,178.77 162.49,180.09 162.56,178.5 162.63,177.43 162.71,176.27 162.78,175.32 162.85,175.38 162.92,176.44 162.99,177.62 163.07,178.6 163.14,179.28 163.21,179.01 163.28,178.04 163.36,176.96 163.43,175.56 163.5,174.93 163.57,174.99 163.65,175.85 163.72,176.78 163.79,177.68 163.86,178.17 163.94,178.69 164.01,178.39 164.08,178.11 164.15,177.82 164.23,177.3 164.3,176.66 164.37,176.28 164.44,175.98 164.52,176.03 164.59,176.22 164.66,176.65 164.73,177.09 164.8,177.5 164.88,177.85 164.95,178.14 165.02,178.16 165.09,178.18 165.17,177.97 165.24,177.66 165.31,177.29 165.38,176.84 165.46,176.48 165.53,176.24 165.6,176.34 165.67,176.7 165.75,177.16 165.82,177.6 165.89,177.98 165.96,178.04 166.04,178.01 166.11,177.59 166.18,176.96 166.25,176.35 166.33,175.94 166.4,176.13 166.47,177.14 166.54,178.07 166.61,178.81 166.69,178.45 166.76,177.66 166.83,176.48 166.9,175.47 166.98,175.96 167.05,176.98 167.12,178.26 167.19,178.72 167.27,178.63 167.34,177.38 167.41,175.85 167.48,175.48 167.56,175.96 167.63,177.45 167.7,178.8 167.77,179.01 167.85,178.33 167.92,177.09 167.99,175.85 168.06,175.08 168.14,175.88 168.21,177.19 168.28,178.48 168.35,179.43 168.42,178.93 168.5,178.06 168.57,176.56 168.64,175.3 168.71,174.27 168.79,175.8 168.86,176.98 168.93,178.46 169,179.27 169.08,179.24 169.15,178.84 169.22,177.3 169.29,175.56 169.37,174.75 169.44,174.91 169.51,175.83 169.58,177.5 169.66,178.8 169.73,180 169.8,179.47 169.87,178.53 169.95,177.04 170.02,175.72 170.09,174.9 170.16,174.96 170.23,175.91 170.31,177.3 170.38,178.69 170.45,179.67 170.52,180.09 170.6,178.64 170.67,177.89 170.74,176.95 170.81,176.36 170.89,175.79 170.96,175.68 171.03,175.79 171.1,176.53 171.18,177.26 171.25,178.07 171.32,178.69 171.39,179.28 171.47,179.45 171.54,179.14 171.61,178.52 171.68,177.93 171.76,177.27 171.83,176.66 171.9,176.03 171.97,175.64 172.04,175.79 172.12,175.53 172.19,175.71 172.26,175.89 172.33,176.3 172.41,176.45 172.48,176.83 172.55,177.11 172.62,177.44 172.7,177.76 172.77,178.03 172.84,178.46 172.91,178.5 172.99,178.72 173.06,179.17 173.13,179.09 173.2,179.3 173.28,178.89 173.35,178.74 173.42,178.65 173.49,178.32 173.57,178.05 173.64,177.7 173.71,177.43 173.78,177.18 173.85,176.97 173.93,176.71 174,176.59 174.07,176.13 174.14,175.9 174.22,175.73 174.29,175.39 174.36,175.33 174.43,175.05 174.51,175.15 174.58,175.28 174.65,175.49 174.72,175.73 174.8,176.5 174.87,177.22 174.94,178.1 175.01,178.73 175.09,179.73 175.16,180.02 175.23,180.26 175.3,180.17 175.38,179.47 175.45,178.67 175.52,177.76 175.59,176.57 175.66,174.91 175.74,173.44 175.81,172.86 175.88,173.36 175.95,175.43 176.03,178.13 176.1,180.66 176.17,181.33 176.24,181.21 176.32,179.1 176.39,176.32 176.46,174.31 176.53,173.02 176.61,174.07 176.68,176.91 176.75,179.79 176.82,180.74 176.9,180.13 176.97,178.02 177.04,175.26 177.11,173.39 177.19,173.34 177.26,175.82 177.33,179.25 177.4,181.46 177.47,182.78 177.55,180.39 177.62,176.12 177.69,172.19 177.76,168.45 177.84,173.07 177.91,175.92 177.98,179.72 178.05,182.57 178.13,182.91 178.2,181.12 178.27,179.15 178.34,176.06 178.42,173.7 178.49,172.22 178.56,172.97 178.63,173.26 178.71,175.69 178.78,178.04 178.85,180.74 178.92,181.85 179,185.91 179.07,181.63 179.14,179.79 179.21,177.62 179.28,175.49 179.36,173.64 179.43,172.85 179.5,173.09 179.57,174.9 179.65,176.85 179.72,178.7 179.79,180.07 179.86,180.5 179.94,180.02 180.01,178.3 180.08,176.37 180.15,174.63 180.23,174.38 180.3,174.98 180.37,176.9 180.44,179.35 180.52,180.69 180.59,180.1 180.66,178.17 180.73,175.29 180.81,173.62 180.88,174.14 180.95,176.87 181.02,180.63 181.09,181.36 181.17,179.94 181.24,176.64 181.31,174.15 181.38,174.33 181.46,176.57 181.53,178.84 181.6,180.08 181.67,179.76 181.75,176.85 181.82,173.78 181.89,173.16 181.96,175.58 182.04,179.43 182.11,181.8 182.18,180.52 182.25,177.85 182.33,174.45 182.4,172.72 182.47,174.34 182.54,176.79 182.62,179.77 182.69,181.14 182.76,180.57 182.83,178.88 182.9,176.34 182.98,174.43 183.05,174.03 183.12,174.09 183.19,175.36 183.27,177.1 183.34,178.83 183.41,179.82 183.48,180.75 183.56,182.27 183.63,179.72 183.7,179.23 183.77,178.23 183.85,177.32 183.92,176.55 183.99,175.78 184.06,175.3 184.14,174.51 184.21,174.54 184.28,173.67 184.35,172.09 184.43,173.59 184.5,173.73 184.57,174.33 184.64,174.42 184.71,175.02 184.79,175.29 184.86,176.07 184.93,176.65 185,177.22 185.08,177.68 185.15,177.99 185.22,178.45 185.29,178.87 185.37,178.96 185.44,179.36 185.51,179.54 185.58,180.14 185.66,179.92 185.73,179.27 185.8,179.06 185.87,178.35 185.95,177.4 186.02,176.52 186.09,175.73 186.16,175.21 186.24,175.03 186.31,174.9 186.38,175.68 186.45,176.27 186.52,177.17 186.6,177.89 186.67,178.71 186.74,179.54 186.81,179.89 186.89,179.78 186.96,178.87 187.03,177.67 187.1,176.53 187.18,175.24 187.25,174.65 187.32,174.24 187.39,174.73 187.47,175.84 187.54,176.88 187.61,177.68 187.68,178.3 187.76,178.8 187.83,179.25 187.9,179.45 187.97,178.74 188.05,177.76 188.12,176.8 188.19,176 188.26,175.1 188.33,175.39 188.41,175.33 188.48,175.95 188.55,176.85 188.62,177.66 188.7,178.44 188.77,179.09 188.84,179.11 188.91,179.04 188.99,178.52 189.06,177.82 189.13,177.04 189.2,176.16 189.28,175.58 189.35,175.09 189.42,175.09 189.49,175.88 189.57,176.47 189.64,177.26 189.71,178.04 189.78,178.52 189.86,178.99 189.93,179.36 190,179.05 190.07,178.22 190.14,177.61 190.22,176.69 190.29,176.04 190.36,175.46 190.43,175 190.51,175.37 190.58,176.21 190.65,176.96 190.72,177.78 190.8,178.59 190.87,179.07 190.94,178.82 191.01,178.64 191.09,177.95 191.16,177.11 191.23,176.37 191.3,176.18 191.38,176.26 191.45,176.52 191.52,177.05 191.59,177.69 191.67,178.3 191.74,178.46 191.81,178.49 191.88,177.73 191.95,176.72 192.03,175.89 192.1,175.9 192.17,176.24 192.24,177.15 192.32,177.89 192.39,178.24 192.46,178.35 192.53,177.85 192.61,177.19 192.68,176.71 192.75,176.45 192.82,176.33 192.9,176.92 192.97,177.59 193.04,178.28 193.11,178.34 193.19,178.31 193.26,177.66 193.33,176.85 193.4,176.07 193.48,175.75 193.55,176.28 193.62,176.94 193.69,177.72 193.76,178.41 193.84,178.73 193.91,178.53 193.98,177.74 194.05,176.75 194.13,175.92 194.2,175.58 194.27,176 194.34,176.88 194.42,177.96 194.49,178.97 194.56,178.91 194.63,178.45 194.71,177.39 194.78,176 194.85,175.1 194.92,175.25 195,176.35 195.07,177.84 195.14,178.96 195.21,179.68 195.29,179.17 195.36,177.55 195.43,175.95 195.5,175.06 195.57,175.16 195.65,176.37 195.72,178.15 195.79,179.83 195.86,179.77 195.94,178.92 196.01,177.33 196.08,176.06 196.15,175.23 196.23,175.48 196.3,176.41 196.37,177.77 196.44,178.65 196.52,179.15 196.59,178.74 196.66,178.15 196.73,176.91 196.81,175.78 196.88,174.93 196.95,174.9 197.02,175.92 197.1,177.09 197.17,178.62 197.24,180.04 197.31,181.55 197.38,179.48 197.46,178.68 197.53,177.34 197.6,176.27 197.67,175.76 197.75,173.55 197.82,175.46 197.89,176.19 197.96,176.91 198.04,177.91 198.11,179.02 198.18,179.59 198.25,180.23 198.33,179.99 198.4,179.17 198.47,177.78 198.54,176.65 198.62,175.7 198.69,174.75 198.76,174.76 198.83,175.16 198.91,176.07 198.98,176.91 199.05,177.72 199.12,178.46 199.19,178.72 199.27,178.71 199.34,178.69 199.41,177.99 199.48,177.18 199.56,176.29 199.63,175.68 199.7,175.45 199.77,175.92 199.85,176.82 199.92,177.62 199.99,178.2 200.06,178.65 200.14,178.43 200.21,177.95 200.28,177.27 200.35,176.69 200.43,176.35 200.5,176.41 200.57,176.64 200.64,177.13 200.72,177.66 200.79,178.06 200.86,178.07 200.93,178.01 201,177.7 201.08,177.23 201.15,176.65 201.22,176.23 201.29,176.15 201.37,176.38 201.44,176.73 201.51,177.24 201.58,177.74 201.66,178.15 201.73,178.58 201.8,178.47 201.87,178.28 201.95,177.96 202.02,177.57 202.09,177.07 202.16,176.43 202.24,176.12 202.31,175.76 202.38,175.37 202.45,175.22 202.53,175.37 202.6,175.7 202.67,176.12 202.74,176.8 202.81,177.48 202.89,178.15 202.96,178.94 203.03,179.53 203.1,179.99 203.18,180.16 203.25,180.84 203.32,180.4 203.39,180.05 203.47,179.25 203.54,178.41 203.61,177.66 203.68,176.88 203.76,176.24 203.83,175.84 203.9,174.97 203.97,172.09 204.05,174.25 204.12,174.46 204.19,175.07 204.26,176.43 204.34,177.72 204.41,179.37 204.48,180.39 204.55,182.27 204.62,181.96 204.7,180.83 204.77,179 204.84,176.51 204.91,174.63 204.99,172.87 205.06,172.86 205.13,173.93 205.2,176.53 205.28,179.26 205.35,181.15 205.42,180.78 205.49,179.46 205.57,177.11 205.64,175.11 205.71,174.76 205.78,175.22 205.86,177.26 205.93,179.06 206,180.01 206.07,179.01 206.15,176.78 206.22,174.69 206.29,174.15 206.36,176.4 206.43,179.07 206.51,180.6 206.58,179.49 206.65,176.82 206.72,174.79 206.8,174.69 206.87,176.55 206.94,179.27 207.01,180.79 207.09,179.84 207.16,176.6 207.23,173.32 207.3,172.78 207.38,175.69 207.45,179.1 207.52,182.27 207.59,180.76 207.67,178.04 207.74,175.37 207.81,173.83 207.88,174.85 207.96,176.61 208.03,178.56 208.1,180.03 208.17,179.36 208.24,178.41 208.32,176.49 208.39,175.17 208.46,172.09 208.53,175.39 208.61,177.14 208.68,178.56 208.75,179.55 208.82,179.43 208.9,178.76 208.97,177.16 209.04,175.23 209.11,174.01 209.19,173.85 209.26,174.64 209.33,176.97 209.4,178.76 209.48,180.2 209.55,180.9 209.62,180.05 209.69,179.12 209.77,177.36 209.84,175.87 209.91,174.26 209.98,174.22 210.05,174.41 210.13,174.76 210.2,175.94 210.27,177.29 210.34,178.27 210.42,179.2 210.49,179.16 210.56,179.59 210.63,179.27 210.71,179.13 210.78,178.75 210.85,178.3 210.92,177.8 211,177.32 211.07,176.79 211.14,176.25 211.21,175.88 211.29,175.71 211.36,175.48 211.43,175.28 211.5,175.61 211.58,175.74 211.65,175.65 211.72,175.84 211.79,175.99 211.86,176.17 211.94,176.42 212.01,176.45 212.08,176.66 212.15,176.95 212.23,177.13 212.3,177.33 212.37,177.53 212.44,177.74 212.52,178 212.59,178.09 212.66,178.26 212.73,178.55 212.81,178.59 212.88,178.59 212.95,178.58 213.02,178.57 213.1,178.74 213.17,178.46 213.24,178.22 213.31,178.01 213.39,177.66 213.46,177.21 213.53,176.65 213.6,176.01 213.67,175.53 213.75,175.51 213.82,175.34 213.89,175.97 213.96,176.73 214.04,177.75 214.11,178.56 214.18,178.97 214.25,178.98 214.33,178.38 214.4,177.1 214.47,175.9 214.54,175.11 214.62,175.71 214.69,176.74 214.76,178.19 214.83,178.88 214.91,178.8 214.98,177.77 215.05,176.58 215.12,175.83 215.2,175.9 215.27,177.02 215.34,177.97 215.41,179.36 215.48,178.23 215.56,177.32 215.63,176.39 215.7,176.08 215.77,176.63 215.85,177.5 215.92,178.19 215.99,178.41 216.06,177.87 216.14,176.64 216.21,175.62 216.28,175.9 216.35,176.94 216.43,178.1 216.5,178.78 216.57,178.42 216.64,177.43 216.72,176.46 216.79,175 216.86,176.36 216.93,177.2 217.01,177.92 217.08,178.37 217.15,178.11 217.22,177.51 217.29,176.72 217.37,176.07 217.44,176.28 217.51,176.77 217.58,177.75 217.66,178.62 217.73,178.68 217.8,178.15 217.87,177.22 217.95,176.2 218.02,176.03 218.09,176.22 218.16,176.88 218.24,177.65 218.31,178.24 218.38,178.27 218.45,177.85 218.53,177.41 218.6,176.88 218.67,176.42 218.74,176.33 218.82,176.71 218.89,177.12 218.96,177.64 219.03,178.13 219.1,178.17 219.18,178.08 219.25,177.61 219.32,177.19 219.39,176.79 219.47,176.62 219.54,176.46 219.61,176.58 219.68,177.03 219.76,177.6 219.83,178.05 219.9,178.43 219.97,178.45 220.05,177.98 220.12,177.56 220.19,176.97 220.26,176.58 220.34,176.42 220.41,176.35 220.48,176.63 220.55,177.12 220.63,177.56 220.7,178 220.77,178.11 220.84,178.12 220.91,177.92 220.99,177.47 221.06,177.07 221.13,176.78 221.2,176.53 221.28,176.58 221.35,176.7 221.42,177.07 221.49,177.39 221.57,177.59 221.64,177.76 221.71,177.82 221.78,177.94 221.86,177.81 221.93,177.46 222,177.03 222.07,176.57 222.15,176.32 222.22,176.22 222.29,176.44 222.36,176.77 222.44,177.29 222.51,177.76 222.58,178.27 222.65,178.48 222.72,178.26 222.8,177.93 222.87,177.47 222.94,176.88 223.01,176.54 223.09,176.16 223.16,176.31 223.23,176.63 223.3,177.27 223.38,177.86 223.45,178.19 223.52,178.37 223.59,178 223.67,177.61 223.74,176.91 223.81,176.44 223.88,176.19 223.96,176.23 224.03,176.78 224.1,177.44 224.17,177.92 224.25,178.25 224.32,178.35 224.39,178.1 224.46,177.52 224.53,176.93 224.61,176.4 224.68,175.89 224.75,176.05 224.82,176.28 224.9,176.61 224.97,177.29 225.04,177.97 225.11,178.56 225.19,178.85 225.26,179.08 225.33,178.91 225.4,178.77 225.48,178.41 225.55,177.84 225.62,177.47 225.69,177.09 225.77,176.67 225.84,176.35 225.91,176.24 225.98,176.39 226.06,176.11 226.13,175.86 226.2,175.88 226.27,175.65 226.34,175.62 226.42,175.3 226.49,175.33 226.56,175.8 226.63,175.8 226.71,176.3 226.78,176.61 226.85,177.03 226.92,177.38 227,177.67 227.07,177.83 227.14,178.33 227.21,178.65 227.29,179.11 227.36,179.24 227.43,179.42 227.5,179.34 227.58,178.93 227.65,178.55 227.72,177.83 227.79,176.94 227.87,175.83 227.94,175.21 228.01,174.07 228.08,174.4 228.15,174.62 228.23,175.61 228.3,176.92 228.37,178.26 228.44,179.12 228.52,179.53 228.59,179.59 228.66,178.55 228.73,177.37 228.81,175.79 228.88,175.17 228.95,174.86 229.02,176.14 229.1,177.42 229.17,178.66 229.24,179.46 229.31,179.22 229.39,177.7 229.46,174.67 229.53,173.45 229.6,173.87 229.68,176.9 229.75,179.23 229.82,180.51 229.89,179.49 229.96,176.74 230.04,173.23 230.11,173.15 230.18,175.39 230.25,178.52 230.33,180.54 230.4,179.59 230.47,177.41 230.54,174.09 230.62,172.46 230.69,175.29 230.76,178.41 230.83,180.21 230.91,180.31 230.98,177.84 231.05,173.8 231.12,169.91 231.2,173.2 231.27,177.74 231.34,180.44 231.41,180.81 231.49,179.71 231.56,175.95 231.63,172.36 231.7,171.67 231.77,173.96 231.85,178.1 231.92,180.26 231.99,179.98 232.06,179.11 232.14,176.92 232.21,173.44 232.28,171.89 232.35,173.35 232.43,177 232.5,180.12 232.57,182.27 232.64,180.57 232.72,178.09 232.79,174.86 232.86,172.05 232.93,173.07 233.01,175.6 233.08,178.35 233.15,180.17 233.22,179.92 233.3,178.75 233.37,176.99 233.44,175.34 233.51,174.84 233.58,175.14 233.66,176.93 233.73,178.52 233.8,179.31 233.87,179.48 233.95,178.51 234.02,176.68 234.09,174.61 234.16,173.81 234.24,174.46 234.31,176.44 234.38,178.7 234.45,180.25 234.53,180.69 234.6,179.42 234.67,177.57 234.74,175.39 234.82,174 234.89,173.89 234.96,175.17 235.03,176.56 235.11,178.44 235.18,179.94 235.25,179.88 235.32,179.78 235.39,178.62 235.47,177.59 235.54,176.59 235.61,175.76 235.68,175.4 235.76,175.18 235.83,175.56 235.9,176.18 235.97,177.14 236.05,178.16 236.12,178.84 236.19,179.78 236.26,179.89 236.34,179.74 236.41,179.37 236.48,178.28 236.55,177.26 236.63,176.13 236.7,175.32 236.77,174.63 236.84,174.36 236.92,175.06 236.99,175.66 237.06,176.31 237.13,177.15 237.2,177.74 237.28,178.31 237.35,178.76 237.42,179.04 237.49,179.14 237.57,178.67 237.64,178.33 237.71,177.94 237.78,177.3 237.86,176.8 237.93,176.22 238,175.96 238.07,175.58 238.15,175.14 238.22,175.28 238.29,175.85 238.36,176.29 238.44,177.29 238.51,178.12 238.58,178.62 238.65,179.27 238.73,179.66 238.8,179.11 238.87,178.59 238.94,178.15 239.01,177.67 239.09,177.19 239.16,176.64 239.23,175.9 239.3,175.17 239.38,175.18 239.45,175.33 239.52,175.64 239.59,175.96 239.67,176.74 239.74,177.43 239.81,178.03 239.88,178.51 239.96,178.89 240.03,179.22 240.1,179.3 240.17,178.82 240.25,178.23 240.32,177.74 240.39,177.01 240.46,176.47 240.54,176.13 240.61,176 240.68,175.68 240.75,175.95 240.82,176.52 240.9,177.13 240.97,177.76 241.04,178.22 241.11,178.65 241.19,178.63 241.26,178.44 241.33,177.71 241.4,176.91 241.48,176.08 241.55,175.56 241.62,175.88 241.69,176.59 241.77,177.47 241.84,178.22 241.91,178.37 241.98,178.13 242.06,177.45 242.13,176.63 242.2,176.31 242.27,176.39 242.35,177.17 242.42,177.8 242.49,178.19 242.56,177.71 242.63,177.02 242.71,176.46 242.78,176.55 242.85,177.34 242.92,178.1 243,178.1 243.07,177.37 243.14,176.24 243.21,176.11 243.29,177.15 243.36,178.26 243.43,178.45 243.5,177.41 243.58,176.14 243.65,176.06 243.72,177.14 243.79,178.2 243.87,178.39 243.94,177.52 244.01,176.13 244.08,176.07 244.16,176.92 244.23,178.04 244.3,178.12 244.37,177.65 244.44,176.95 244.52,176.41 244.59,176.62 244.66,177.4 244.73,178.02 244.81,178.04 244.88,177.52 244.95,176.74 245.02,176.45 245.1,176.67 245.17,177.39 245.24,177.92 245.31,178.04 245.39,177.72 245.46,176.83 245.53,176.31 245.6,176.28 245.68,177.01 245.75,177.77 245.82,178.18 245.89,178.04 245.97,177.51 246.04,176.93 246.11,176.54 246.18,176.6 246.25,176.95 246.33,177.5 246.4,177.95 246.47,178.04 246.54,177.83 246.62,177.43 246.69,176.88 246.76,176.45 246.83,176.46 246.91,176.58 246.98,176.94 247.05,177.45 247.12,177.91 247.2,178.19 247.27,178.19 247.34,178.17 247.41,177.8 247.49,177.32 247.56,176.93 247.63,176.61 247.7,176.45 247.78,176.37 247.85,176.24 247.92,176.57 247.99,177.11 248.06,177.68 248.14,178.1 248.21,178.48 248.28,178.47 248.35,178.44 248.43,177.93 248.5,177.4 248.57,176.63 248.64,175.9 248.72,175.91 248.79,175.73 248.86,176.57 248.93,177.36 249.01,178.09 249.08,178.51 249.15,178.53 249.22,178.03 249.3,177.06 249.37,175.77 249.44,175.46 249.51,175.94 249.59,177.17 249.66,178.33 249.73,178.68 249.8,178.43 249.87,177.4 249.95,176.05 250.02,175.18 250.09,175.9 250.16,177.37 250.24,178.31 250.31,178.68 250.38,178.09 250.45,176.96 250.53,175.8 250.6,175.6 250.67,176.31 250.74,177.69 250.82,178.64 250.89,179.17 250.96,178.34 251.03,176.73 251.11,175.04 251.18,174.47 251.25,175.35 251.32,177.31 251.4,178.63 251.47,179.2 251.54,179.21 251.61,178.03 251.68,176.49 251.76,175.28 251.83,175.06 251.9,175.9 251.97,176.91 252.05,177.94 252.12,178.82 252.19,179.12 252.26,178.7 252.34,177.73 252.41,176.28 252.48,175.28 252.55,174.78 252.63,175.4 252.7,176.65 252.77,177.71 252.84,178.48 252.92,179.2 252.99,179.08 253.06,178.34 253.13,176.92 253.21,174.93 253.28,174.14 253.35,174.36 253.42,175.01 253.49,176.85 253.57,178.73 253.64,180 253.71,180.28 253.78,180.01 253.86,178.72 253.93,177.02 254,175.38 254.07,174.73 254.15,174.91 254.22,175.07 254.29,175.95 254.36,177.15 254.44,178.46 254.51,179.9 254.58,180.14 254.65,180.68 254.73,180.25 254.8,179.34 254.87,177.96 254.94,176.61 255.02,175.28 255.09,174.69 255.16,174.01 255.23,173.98 255.3,174.56 255.38,175.15 255.45,175.9 255.52,177 255.59,177.79 255.67,178.62 255.74,179.01 255.81,179.86 255.88,180.17 255.96,179.89 256.03,179.51 256.1,178.87 256.17,177.53 256.25,175.99 256.32,174.78 256.39,174.52 256.46,172.09 256.54,174.43 256.61,175.62 256.68,176.89 256.75,178.21 256.83,179.48 256.9,182.27 256.97,180.5 257.04,179.7 257.11,177.59 257.19,175.52 257.26,174.04 257.33,173.54 257.4,175.06 257.48,176.9 257.55,178.37 257.62,179.46 257.69,179.44 257.77,179.04 257.84,177.26 257.91,175.54 257.98,174.86 258.06,175.03 258.13,176.33 258.2,177.94 258.27,179.34 258.35,180.29 258.42,180.1 258.49,177.94 258.56,175.71 258.64,174.32 258.71,174.02 258.78,175.03"/>
<rect class="sp" x="34.4" y="152.9" width="235.2" height="43.9"/>
<path class="tk" d="M45.2 196.8v2.3M81.4 196.8v2.3M117.6 196.8v2.3M153.8 196.8v2.3M190 196.8v2.3M226.2 196.8v2.3M262.4 196.8v2.3M34.4 161.4h-2.3M34.4 177.1h-2.3M34.4 192.8h-2.3"/>
<text class="t" x="45.55" y="206.14" text-anchor="middle">0</text>
<text class="t" x="81.75" y="206.14" text-anchor="middle">500</text>
<text class="t" x="117.95" y="206.14" text-anchor="middle">1000</text>
<text class="t" x="154.15" y="206.14" text-anchor="middle">1500</text>
<text class="t" x="190.35" y="206.14" text-anchor="middle">2000</text>
<text class="t" x="226.55" y="206.14" text-anchor="middle">2500</text>
<text class="t" x="262.75" y="206.14" text-anchor="middle">3000</text>
<text class="t" x="30.1" y="163.77" text-anchor="end">50</text>
<text class="t" x="30.1" y="179.47" text-anchor="end">0</text>
<text class="t" x="30.1" y="195.17" text-anchor="end">−50</text>
<text class="t" text-anchor="middle" transform="translate(12.1 174.85) rotate(-90)">IMF 3</text>
</g>
<g>
<clipPath id="c3"><rect x="34.4" y="222.65" width="235.2" height="43.9"/></clipPath>
<polyline class="ln" clip-path="url(#c3)" points="45.2,225.76 45.27,230.73 45.34,235.41 45.42,239.77 45.49,243.81 45.56,247.51 45.63,250.83 45.71,253.77 45.78,256.29 45.85,258.39 45.92,260.05 46,261.23 46.07,261.93 46.14,262.12 46.21,261.61 46.29,260.37 46.36,258.51 46.43,256.14 46.5,253.37 46.58,250.32 46.65,247.08 46.72,243.76 46.79,240.49 46.87,237.36 46.94,234.48 47.01,231.98 47.08,229.94 47.15,228.49 47.23,227.73 47.3,227.78 47.37,228.7 47.44,230.37 47.52,232.65 47.59,235.39 47.66,238.46 47.73,241.73 47.81,245.05 47.88,248.28 47.95,251.29 48.02,253.94 48.1,256.08 48.17,257.59 48.24,258.32 48.31,258.12 48.39,256.98 48.46,255.03 48.53,252.44 48.6,249.36 48.68,245.93 48.75,242.31 48.82,238.66 48.89,235.12 48.96,231.85 49.04,229 49.11,226.73 49.18,225.19 49.25,224.52 49.33,224.92 49.4,226.4 49.47,228.79 49.54,231.91 49.62,235.57 49.69,239.62 49.76,243.85 49.83,248.11 49.91,252.2 49.98,255.95 50.05,259.19 50.12,261.73 50.2,263.39 50.27,264.01 50.34,263.53 50.41,262.17 50.49,260.06 50.56,257.36 50.63,254.22 50.7,250.79 50.77,247.21 50.85,243.64 50.92,240.23 50.99,237.13 51.06,234.48 51.14,232.44 51.21,231.16 51.28,230.78 51.35,231.29 51.43,232.51 51.5,234.29 51.57,236.5 51.64,238.98 51.72,241.6 51.79,244.2 51.86,246.66 51.93,248.82 52.01,250.54 52.08,251.68 52.15,252.09 52.22,251.88 52.3,251.27 52.37,250.36 52.44,249.22 52.51,247.92 52.58,246.54 52.66,245.15 52.73,243.84 52.8,242.67 52.87,241.73 52.95,241.08 53.02,240.81 53.09,240.9 53.16,241.22 53.24,241.72 53.31,242.37 53.38,243.13 53.45,243.96 53.53,244.84 53.6,245.72 53.67,246.56 53.74,247.33 53.82,247.99 53.89,248.51 53.96,248.84 54.03,248.96 54.11,248.94 54.18,248.87 54.25,248.76 54.32,248.61 54.39,248.42 54.47,248.21 54.54,247.96 54.61,247.68 54.68,247.38 54.76,247.05 54.83,246.71 54.9,246.35 54.97,245.97 55.05,245.58 55.12,245.19 55.19,244.79 55.26,244.38 55.34,243.97 55.41,243.57 55.48,243.17 55.55,242.77 55.63,242.39 55.7,242.02 55.77,241.66 55.84,241.33 55.92,241.01 55.99,240.72 56.06,240.45 56.13,240.22 56.2,240.01 56.28,239.84 56.35,239.71 56.42,239.61 56.49,239.56 56.57,239.57 56.64,239.76 56.71,240.15 56.78,240.68 56.86,241.34 56.93,242.08 57,242.87 57.07,243.69 57.15,244.48 57.22,245.23 57.29,245.9 57.36,246.44 57.44,246.84 57.51,247.05 57.58,247.06 57.65,246.94 57.73,246.72 57.8,246.4 57.87,246.02 57.94,245.57 58.01,245.08 58.09,244.56 58.16,244.02 58.23,243.47 58.3,242.95 58.38,242.44 58.45,241.98 58.52,241.58 58.59,241.25 58.67,241 58.74,240.85 58.81,240.81 58.88,240.92 58.96,241.17 59.03,241.54 59.1,242.02 59.17,242.58 59.25,243.2 59.32,243.87 59.39,244.56 59.46,245.27 59.54,245.96 59.61,246.63 59.68,247.25 59.75,247.8 59.82,248.26 59.9,248.63 59.97,248.86 60.04,248.96 60.11,248.92 60.19,248.78 60.26,248.56 60.33,248.27 60.4,247.91 60.48,247.49 60.55,247.03 60.62,246.53 60.69,246.01 60.77,245.47 60.84,244.93 60.91,244.39 60.98,243.87 61.06,243.37 61.13,242.91 61.2,242.49 61.27,242.13 61.35,241.83 61.42,241.61 61.49,241.48 61.56,241.44 61.63,241.46 61.71,241.54 61.78,241.65 61.85,241.8 61.92,241.99 62,242.21 62.07,242.47 62.14,242.75 62.21,243.06 62.29,243.4 62.36,243.75 62.43,244.13 62.5,244.52 62.58,244.93 62.65,245.35 62.72,245.78 62.79,246.22 62.87,246.66 62.94,247.1 63.01,247.55 63.08,247.99 63.16,248.42 63.23,248.85 63.3,249.27 63.37,249.68 63.44,250.07 63.52,250.44 63.59,250.8 63.66,251.13 63.73,251.44 63.81,251.72 63.88,251.97 63.95,252.19 64.02,252.37 64.1,252.52 64.17,252.63 64.24,252.7 64.31,252.72 64.39,252.56 64.46,252.09 64.53,251.37 64.6,250.43 64.68,249.3 64.75,248.03 64.82,246.66 64.89,245.22 64.97,243.76 65.04,242.31 65.11,240.91 65.18,239.6 65.25,238.42 65.33,237.42 65.4,236.62 65.47,236.07 65.54,235.81 65.62,235.89 65.69,236.33 65.76,237.08 65.83,238.09 65.91,239.29 65.98,240.62 66.05,242.03 66.12,243.45 66.2,244.82 66.27,246.1 66.34,247.2 66.41,248.09 66.49,248.69 66.56,248.95 66.63,248.88 66.7,248.57 66.78,248.07 66.85,247.39 66.92,246.58 66.99,245.66 67.06,244.65 67.14,243.59 67.21,242.51 67.28,241.43 67.35,240.39 67.43,239.4 67.5,238.51 67.57,237.74 67.64,237.12 67.72,236.68 67.79,236.45 67.86,236.45 67.93,236.69 68.01,237.13 68.08,237.75 68.15,238.53 68.22,239.42 68.3,240.4 68.37,241.45 68.44,242.52 68.51,243.61 68.59,244.67 68.66,245.67 68.73,246.59 68.8,247.4 68.87,248.08 68.95,248.58 69.02,248.88 69.09,248.95 69.16,248.75 69.24,248.26 69.31,247.53 69.38,246.58 69.45,245.44 69.53,244.15 69.6,242.73 69.67,241.21 69.74,239.63 69.82,238.01 69.89,236.38 69.96,234.78 70.03,233.23 70.11,231.76 70.18,230.42 70.25,229.21 70.32,228.18 70.4,227.36 70.47,226.77 70.54,226.44 70.61,226.47 70.68,227.34 70.76,229.04 70.83,231.42 70.9,234.33 70.97,237.61 71.05,241.13 71.12,244.72 71.19,248.24 71.26,251.54 71.34,254.46 71.41,256.87 71.48,258.6 71.55,259.51 71.63,259.55 71.7,259.11 71.77,258.29 71.84,257.16 71.92,255.76 71.99,254.15 72.06,252.38 72.13,250.49 72.21,248.55 72.28,246.6 72.35,244.7 72.42,242.89 72.49,241.24 72.57,239.79 72.64,238.59 72.71,237.71 72.78,237.18 72.86,237.06 72.93,237.38 73,238.09 73.07,239.12 73.15,240.4 73.22,241.86 73.29,243.44 73.36,245.06 73.44,246.67 73.51,248.18 73.58,249.54 73.65,250.68 73.73,251.52 73.8,252 73.87,252.07 73.94,251.85 74.02,251.39 74.09,250.73 74.16,249.9 74.23,248.93 74.3,247.86 74.38,246.72 74.45,245.54 74.52,244.35 74.59,243.18 74.67,242.06 74.74,241.03 74.81,240.12 74.88,239.36 74.96,238.78 75.03,238.42 75.1,238.3 75.17,238.6 75.25,239.38 75.32,240.56 75.39,242.06 75.46,243.8 75.54,245.68 75.61,247.64 75.68,249.59 75.75,251.45 75.83,253.13 75.9,254.56 75.97,255.64 76.04,256.31 76.11,256.47 76.19,256.09 76.26,255.23 76.33,253.95 76.4,252.34 76.48,250.46 76.55,248.39 76.62,246.21 76.69,243.98 76.77,241.78 76.84,239.68 76.91,237.76 76.98,236.1 77.06,234.75 77.13,233.8 77.2,233.33 77.27,233.37 77.35,233.84 77.42,234.67 77.49,235.82 77.56,237.24 77.64,238.86 77.71,240.64 77.78,242.53 77.85,244.48 77.92,246.43 78,248.32 78.07,250.12 78.14,251.76 78.21,253.2 78.29,254.37 78.36,255.24 78.43,255.75 78.5,255.84 78.58,255.58 78.65,255.01 78.72,254.19 78.79,253.15 78.87,251.94 78.94,250.59 79.01,249.14 79.08,247.63 79.16,246.12 79.23,244.62 79.3,243.2 79.37,241.88 79.45,240.71 79.52,239.72 79.59,238.97 79.66,238.48 79.73,238.3 79.81,238.5 79.88,239.1 79.95,240.01 80.02,241.18 80.1,242.54 80.17,244.03 80.24,245.58 80.31,247.13 80.39,248.61 80.46,249.96 80.53,251.11 80.6,252 80.68,252.55 80.75,252.72 80.82,252.45 80.89,251.8 80.97,250.83 81.04,249.58 81.11,248.13 81.18,246.52 81.26,244.81 81.33,243.06 81.4,241.33 81.47,239.68 81.54,238.17 81.62,236.84 81.69,235.76 81.76,234.99 81.83,234.59 81.91,234.59 81.98,234.95 82.05,235.63 82.12,236.57 82.2,237.73 82.27,239.07 82.34,240.55 82.41,242.12 82.49,243.73 82.56,245.36 82.63,246.94 82.7,248.45 82.78,249.83 82.85,251.04 82.92,252.04 82.99,252.79 83.07,253.23 83.14,253.34 83.21,253.08 83.28,252.51 83.35,251.65 83.43,250.55 83.5,249.26 83.57,247.82 83.64,246.28 83.72,244.67 83.79,243.05 83.86,241.44 83.93,239.91 84.01,238.48 84.08,237.21 84.15,236.14 84.22,235.31 84.3,234.76 84.37,234.54 84.44,234.72 84.51,235.3 84.59,236.24 84.66,237.47 84.73,238.94 84.8,240.57 84.88,242.32 84.95,244.12 85.02,245.92 85.09,247.65 85.16,249.26 85.24,250.68 85.31,251.86 85.38,252.73 85.45,253.24 85.53,253.34 85.6,253.15 85.67,252.74 85.74,252.15 85.82,251.41 85.89,250.54 85.96,249.57 86.03,248.54 86.11,247.46 86.18,246.38 86.25,245.31 86.32,244.29 86.4,243.35 86.47,242.52 86.54,241.82 86.61,241.28 86.69,240.93 86.76,240.81 86.83,240.86 86.9,241.01 86.97,241.25 87.05,241.57 87.12,241.94 87.19,242.36 87.26,242.82 87.34,243.3 87.41,243.79 87.48,244.27 87.55,244.74 87.63,245.18 87.7,245.57 87.77,245.9 87.84,246.17 87.92,246.36 87.99,246.45 88.06,246.43 88.13,246.33 88.21,246.15 88.28,245.91 88.35,245.62 88.42,245.31 88.5,244.97 88.57,244.63 88.64,244.31 88.71,244 88.78,243.74 88.86,243.53 88.93,243.38 89,243.32 89.07,243.37 89.15,243.55 89.22,243.85 89.29,244.25 89.36,244.71 89.44,245.22 89.51,245.76 89.58,246.3 89.65,246.82 89.73,247.3 89.8,247.71 89.87,248.04 89.94,248.25 90.02,248.33 90.09,248.19 90.16,247.76 90.23,247.09 90.31,246.22 90.38,245.19 90.45,244.03 90.52,242.81 90.59,241.54 90.67,240.29 90.74,239.08 90.81,237.96 90.88,236.98 90.96,236.17 91.03,235.57 91.1,235.23 91.17,235.17 91.25,235.24 91.32,235.38 91.39,235.59 91.46,235.87 91.54,236.2 91.61,236.59 91.68,237.04 91.75,237.53 91.83,238.06 91.9,238.63 91.97,239.24 92.04,239.88 92.12,240.54 92.19,241.22 92.26,241.92 92.33,242.63 92.4,243.35 92.48,244.08 92.55,244.8 92.62,245.52 92.69,246.22 92.77,246.92 92.84,247.59 92.91,248.25 92.98,248.87 93.06,249.47 93.13,250.03 93.2,250.55 93.27,251.02 93.35,251.44 93.42,251.82 93.49,252.13 93.56,252.38 93.64,252.57 93.71,252.68 93.78,252.72 93.85,252.59 93.93,252.24 94,251.67 94.07,250.94 94.14,250.06 94.21,249.08 94.29,248.01 94.36,246.89 94.43,245.75 94.5,244.62 94.58,243.54 94.65,242.52 94.72,241.61 94.79,240.82 94.87,240.2 94.94,239.77 95.01,239.57 95.08,239.6 95.16,239.8 95.23,240.14 95.3,240.61 95.37,241.18 95.45,241.82 95.52,242.51 95.59,243.23 95.66,243.95 95.74,244.65 95.81,245.31 95.88,245.9 95.95,246.39 96.02,246.77 96.1,247 96.17,247.08 96.24,247.02 96.31,246.87 96.39,246.64 96.46,246.34 96.53,245.97 96.6,245.57 96.68,245.12 96.75,244.65 96.82,244.16 96.89,243.66 96.97,243.18 97.04,242.71 97.11,242.27 97.18,241.86 97.26,241.51 97.33,241.22 97.4,240.99 97.47,240.85 97.55,240.81 97.62,240.89 97.69,241.12 97.76,241.47 97.83,241.93 97.91,242.48 97.98,243.09 98.05,243.75 98.12,244.45 98.2,245.15 98.27,245.85 98.34,246.52 98.41,247.15 98.49,247.71 98.56,248.19 98.63,248.57 98.7,248.83 98.78,248.95 98.85,248.92 98.92,248.75 98.99,248.46 99.07,248.06 99.14,247.56 99.21,246.98 99.28,246.34 99.36,245.64 99.43,244.9 99.5,244.15 99.57,243.38 99.64,242.61 99.72,241.87 99.79,241.16 99.86,240.49 99.93,239.89 100.01,239.36 100.08,238.93 100.15,238.6 100.22,238.38 100.3,238.3 100.37,238.44 100.44,238.89 100.51,239.6 100.59,240.53 100.66,241.64 100.73,242.91 100.8,244.27 100.88,245.71 100.95,247.17 101.02,248.62 101.09,250.03 101.17,251.34 101.24,252.53 101.31,253.54 101.38,254.36 101.45,254.92 101.53,255.2 101.6,255.15 101.67,254.69 101.74,253.88 101.82,252.76 101.89,251.38 101.96,249.8 102.03,248.07 102.11,246.23 102.18,244.34 102.25,242.44 102.32,240.6 102.4,238.85 102.47,237.26 102.54,235.86 102.61,234.72 102.69,233.88 102.76,233.39 102.83,233.32 102.9,233.84 102.98,234.94 103.05,236.51 103.12,238.45 103.19,240.66 103.26,243.04 103.34,245.48 103.41,247.88 103.48,250.14 103.55,252.16 103.63,253.83 103.7,255.06 103.77,255.75 103.84,255.79 103.92,255.23 103.99,254.15 104.06,252.66 104.13,250.84 104.21,248.79 104.28,246.59 104.35,244.36 104.42,242.17 104.5,240.12 104.57,238.31 104.64,236.83 104.71,235.77 104.79,235.22 104.86,235.23 104.93,235.64 105,236.36 105.07,237.36 105.15,238.57 105.22,239.95 105.29,241.44 105.36,242.99 105.44,244.56 105.51,246.08 105.58,247.51 105.65,248.8 105.73,249.89 105.8,250.73 105.87,251.27 105.94,251.47 106.02,251.33 106.09,250.96 106.16,250.37 106.23,249.6 106.31,248.68 106.38,247.65 106.45,246.53 106.52,245.36 106.6,244.16 106.67,242.98 106.74,241.84 106.81,240.78 106.88,239.82 106.96,239 107.03,238.35 107.1,237.9 107.17,237.69 107.25,237.73 107.32,238.01 107.39,238.48 107.46,239.13 107.54,239.93 107.61,240.84 107.68,241.83 107.75,242.89 107.83,243.97 107.9,245.05 107.97,246.1 108.04,247.09 108.12,248 108.19,248.79 108.26,249.43 108.33,249.9 108.41,250.16 108.48,250.2 108.55,250.03 108.62,249.67 108.69,249.16 108.77,248.53 108.84,247.78 108.91,246.96 108.98,246.07 109.06,245.16 109.13,244.24 109.2,243.33 109.27,242.47 109.35,241.67 109.42,240.97 109.49,240.38 109.56,239.93 109.64,239.65 109.71,239.56 109.78,239.72 109.85,240.14 109.93,240.79 110,241.62 110.07,242.57 110.14,243.61 110.22,244.7 110.29,245.77 110.36,246.8 110.43,247.73 110.5,248.51 110.58,249.12 110.65,249.49 110.72,249.58 110.79,249.42 110.87,249.05 110.94,248.5 111.01,247.8 111.08,246.99 111.16,246.1 111.23,245.16 111.3,244.19 111.37,243.24 111.45,242.33 111.52,241.5 111.59,240.78 111.66,240.2 111.74,239.78 111.81,239.57 111.88,239.58 111.95,239.74 112.03,240.04 112.1,240.46 112.17,240.98 112.24,241.59 112.31,242.29 112.39,243.04 112.46,243.85 112.53,244.69 112.6,245.56 112.68,246.44 112.75,247.31 112.82,248.16 112.89,248.98 112.97,249.76 113.04,250.47 113.11,251.11 113.18,251.66 113.26,252.12 113.33,252.45 113.4,252.66 113.47,252.72 113.55,252.61 113.62,252.31 113.69,251.85 113.76,251.25 113.84,250.52 113.91,249.68 113.98,248.75 114.05,247.74 114.12,246.68 114.2,245.58 114.27,244.45 114.34,243.33 114.41,242.21 114.49,241.14 114.56,240.11 114.63,239.15 114.7,238.27 114.78,237.5 114.85,236.85 114.92,236.34 114.99,235.99 115.07,235.81 115.14,235.84 115.21,236.17 115.28,236.76 115.36,237.58 115.43,238.6 115.5,239.77 115.57,241.05 115.65,242.41 115.72,243.82 115.79,245.22 115.86,246.6 115.93,247.9 116.01,249.09 116.08,250.13 116.15,250.99 116.22,251.63 116.3,252 116.37,252.09 116.44,251.91 116.51,251.51 116.59,250.94 116.66,250.2 116.73,249.34 116.8,248.37 116.88,247.34 116.95,246.27 117.02,245.18 117.09,244.12 117.17,243.1 117.24,242.15 117.31,241.31 117.38,240.6 117.46,240.05 117.53,239.69 117.6,239.56 117.67,239.62 117.74,239.81 117.82,240.13 117.89,240.54 117.96,241.04 118.03,241.6 118.11,242.21 118.18,242.84 118.25,243.49 118.32,244.14 118.4,244.76 118.47,245.35 118.54,245.87 118.61,246.33 118.69,246.69 118.76,246.94 118.83,247.07 118.9,247.07 118.98,247.01 119.05,246.92 119.12,246.78 119.19,246.6 119.27,246.4 119.34,246.18 119.41,245.93 119.48,245.68 119.55,245.41 119.63,245.14 119.7,244.87 119.77,244.6 119.84,244.35 119.92,244.11 119.99,243.9 120.06,243.71 120.13,243.55 120.21,243.43 120.28,243.35 120.35,243.32 120.42,243.34 120.5,243.41 120.57,243.54 120.64,243.71 120.71,243.91 120.79,244.14 120.86,244.39 120.93,244.66 121,244.93 121.08,245.2 121.15,245.46 121.22,245.71 121.29,245.93 121.36,246.12 121.44,246.28 121.51,246.39 121.58,246.44 121.65,246.45 121.73,246.4 121.8,246.31 121.87,246.19 121.94,246.02 122.02,245.82 122.09,245.58 122.16,245.32 122.23,245.02 122.31,244.7 122.38,244.35 122.45,243.98 122.52,243.59 122.6,243.18 122.67,242.76 122.74,242.32 122.81,241.87 122.89,241.41 122.96,240.94 123.03,240.47 123.1,240 123.17,239.52 123.25,239.05 123.32,238.58 123.39,238.12 123.46,237.66 123.54,237.22 123.61,236.78 123.68,236.37 123.75,235.97 123.83,235.58 123.9,235.22 123.97,234.89 124.04,234.58 124.12,234.3 124.19,234.04 124.26,233.82 124.33,233.64 124.41,233.49 124.48,233.38 124.55,233.31 124.62,233.29 124.7,233.62 124.77,234.63 124.84,236.2 124.91,238.22 124.98,240.58 125.06,243.17 125.13,245.86 125.2,248.56 125.27,251.14 125.35,253.49 125.42,255.5 125.49,257.06 125.56,258.05 125.64,258.36 125.71,258.03 125.78,257.2 125.85,255.93 125.93,254.31 126,252.41 126.07,250.3 126.14,248.07 126.22,245.78 126.29,243.51 126.36,241.35 126.43,239.35 126.51,237.6 126.58,236.18 126.65,235.16 126.72,234.61 126.79,234.61 126.87,235.13 126.94,236.1 127.01,237.43 127.08,239.05 127.16,240.86 127.23,242.79 127.3,244.75 127.37,246.67 127.45,248.46 127.52,250.04 127.59,251.32 127.66,252.23 127.74,252.69 127.81,252.61 127.88,252.01 127.95,250.99 128.03,249.61 128.1,247.96 128.17,246.13 128.24,244.19 128.32,242.22 128.39,240.32 128.46,238.56 128.53,237.02 128.6,235.78 128.68,234.93 128.75,234.55 128.82,234.7 128.89,235.34 128.97,236.39 129.04,237.76 129.11,239.38 129.18,241.17 129.26,243.05 129.33,244.94 129.4,246.77 129.47,248.44 129.55,249.89 129.62,251.04 129.69,251.8 129.76,252.09 129.84,251.93 129.91,251.4 129.98,250.58 130.05,249.5 130.13,248.23 130.2,246.81 130.27,245.29 130.34,243.72 130.41,242.17 130.49,240.67 130.56,239.28 130.63,238.06 130.7,237.05 130.78,236.3 130.85,235.88 130.92,235.82 130.99,236.13 131.07,236.77 131.14,237.69 131.21,238.85 131.28,240.21 131.36,241.71 131.43,243.32 131.5,244.98 131.57,246.66 131.65,248.31 131.72,249.89 131.79,251.34 131.86,252.63 131.94,253.71 132.01,254.53 132.08,255.05 132.15,255.23 132.22,255.06 132.3,254.59 132.37,253.86 132.44,252.91 132.51,251.78 132.59,250.51 132.66,249.13 132.73,247.69 132.8,246.23 132.88,244.78 132.95,243.38 133.02,242.08 133.09,240.91 133.17,239.9 133.24,239.11 133.31,238.57 133.38,238.32 133.46,238.33 133.53,238.44 133.6,238.65 133.67,238.94 133.75,239.29 133.82,239.71 133.89,240.17 133.96,240.68 134.03,241.22 134.11,241.79 134.18,242.37 134.25,242.95 134.32,243.53 134.4,244.1 134.47,244.64 134.54,245.16 134.61,245.63 134.69,246.05 134.76,246.41 134.83,246.7 134.9,246.92 134.98,247.05 135.05,247.08 135.12,247 135.19,246.83 135.27,246.56 135.34,246.22 135.41,245.81 135.48,245.34 135.56,244.83 135.63,244.28 135.7,243.71 135.77,243.12 135.84,242.53 135.92,241.95 135.99,241.4 136.06,240.87 136.13,240.38 136.21,239.95 136.28,239.57 136.35,239.28 136.42,239.06 136.5,238.95 136.57,238.93 136.64,239 136.71,239.13 136.79,239.32 136.86,239.57 136.93,239.87 137,240.23 137.08,240.62 137.15,241.06 137.22,241.54 137.29,242.05 137.37,242.59 137.44,243.15 137.51,243.74 137.58,244.34 137.65,244.95 137.73,245.57 137.8,246.19 137.87,246.82 137.94,247.44 138.02,248.05 138.09,248.64 138.16,249.22 138.23,249.78 138.31,250.32 138.38,250.82 138.45,251.29 138.52,251.73 138.6,252.12 138.67,252.46 138.74,252.76 138.81,253 138.89,253.18 138.96,253.29 139.03,253.35 139.1,253.33 139.18,253.25 139.25,253.11 139.32,252.91 139.39,252.67 139.46,252.37 139.54,252.04 139.61,251.66 139.68,251.24 139.75,250.8 139.83,250.32 139.9,249.82 139.97,249.3 140.04,248.76 140.12,248.21 140.19,247.65 140.26,247.08 140.33,246.51 140.41,245.94 140.48,245.38 140.55,244.82 140.62,244.28 140.7,243.76 140.77,243.26 140.84,242.78 140.91,242.33 140.99,241.91 141.06,241.53 141.13,241.19 141.2,240.89 141.27,240.64 141.35,240.44 141.42,240.29 141.49,240.21 141.56,240.18 141.64,240.22 141.71,240.33 141.78,240.49 141.85,240.7 141.93,240.95 142,241.23 142.07,241.55 142.14,241.88 142.22,242.24 142.29,242.6 142.36,242.96 142.43,243.31 142.51,243.66 142.58,243.99 142.65,244.29 142.72,244.56 142.8,244.79 142.87,244.97 142.94,245.11 143.01,245.18 143.08,245.19 143.16,245.13 143.23,245.01 143.3,244.83 143.37,244.61 143.45,244.36 143.52,244.1 143.59,243.83 143.66,243.56 143.74,243.31 143.81,243.09 143.88,242.91 143.95,242.77 144.03,242.7 144.1,242.7 144.17,242.78 144.24,242.94 144.32,243.15 144.39,243.42 144.46,243.73 144.53,244.08 144.61,244.44 144.68,244.82 144.75,245.2 144.82,245.57 144.89,245.92 144.97,246.25 145.04,246.53 145.11,246.77 145.18,246.94 145.26,247.05 145.33,247.08 145.4,247.03 145.47,246.91 145.55,246.72 145.62,246.49 145.69,246.2 145.76,245.88 145.84,245.53 145.91,245.15 145.98,244.75 146.05,244.35 146.13,243.94 146.2,243.54 146.27,243.15 146.34,242.78 146.42,242.45 146.49,242.15 146.56,241.89 146.63,241.68 146.7,241.53 146.78,241.45 146.85,241.44 146.92,241.48 146.99,241.57 147.07,241.7 147.14,241.87 147.21,242.07 147.28,242.3 147.36,242.54 147.43,242.81 147.5,243.09 147.57,243.38 147.65,243.67 147.72,243.96 147.79,244.25 147.86,244.52 147.94,244.78 148.01,245.03 148.08,245.25 148.15,245.44 148.23,245.59 148.3,245.71 148.37,245.79 148.44,245.82 148.51,245.78 148.59,245.61 148.66,245.33 148.73,244.96 148.8,244.49 148.88,243.95 148.95,243.33 149.02,242.65 149.09,241.93 149.17,241.16 149.24,240.36 149.31,239.54 149.38,238.71 149.46,237.88 149.53,237.06 149.6,236.25 149.67,235.48 149.75,234.74 149.82,234.05 149.89,233.42 149.96,232.86 150.04,232.37 150.11,231.97 150.18,231.67 150.25,231.48 150.32,231.41 150.4,231.63 150.47,232.37 150.54,233.55 150.61,235.13 150.69,237.02 150.76,239.16 150.83,241.48 150.9,243.92 150.98,246.42 151.05,248.89 151.12,251.29 151.19,253.53 151.27,255.56 151.34,257.31 151.41,258.71 151.48,259.69 151.56,260.19 151.63,260.14 151.7,259.51 151.77,258.37 151.85,256.78 151.92,254.83 151.99,252.59 152.06,250.12 152.13,247.49 152.21,244.79 152.28,242.09 152.35,239.45 152.42,236.95 152.5,234.66 152.57,232.65 152.64,231.01 152.71,229.78 152.79,229.06 152.86,228.92 152.93,229.36 153,230.33 153.08,231.75 153.15,233.55 153.22,235.67 153.29,238.03 153.37,240.56 153.44,243.19 153.51,245.85 153.58,248.46 153.66,250.96 153.73,253.28 153.8,255.34 153.87,257.08 153.94,258.42 154.02,259.29 154.09,259.62 154.16,259.45 154.23,258.91 154.31,258.05 154.38,256.9 154.45,255.51 154.52,253.9 154.6,252.12 154.67,250.21 154.74,248.2 154.81,246.14 154.89,244.06 154.96,242 155.03,240 155.1,238.1 155.18,236.34 155.25,234.75 155.32,233.37 155.39,232.25 155.47,231.42 155.54,230.92 155.61,230.78 155.68,231.11 155.75,231.9 155.83,233.08 155.9,234.6 155.97,236.39 156.04,238.39 156.12,240.55 156.19,242.79 156.26,245.07 156.33,247.32 156.41,249.48 156.48,251.48 156.55,253.28 156.62,254.79 156.7,255.98 156.77,256.77 156.84,257.1 156.91,257.02 156.99,256.68 157.06,256.13 157.13,255.37 157.2,254.43 157.28,253.35 157.35,252.13 157.42,250.81 157.49,249.41 157.56,247.95 157.64,246.46 157.71,244.96 157.78,243.47 157.85,242.01 157.93,240.62 158,239.32 158.07,238.12 158.14,237.06 158.22,236.15 158.29,235.42 158.36,234.9 158.43,234.6 158.51,234.56 158.58,234.81 158.65,235.34 158.72,236.11 158.8,237.08 158.87,238.21 158.94,239.47 159.01,240.81 159.09,242.21 159.16,243.62 159.23,245.01 159.3,246.33 159.37,247.55 159.45,248.63 159.52,249.54 159.59,250.24 159.66,250.68 159.74,250.84 159.81,250.76 159.88,250.55 159.95,250.2 160.03,249.75 160.1,249.19 160.17,248.56 160.24,247.86 160.32,247.11 160.39,246.32 160.46,245.51 160.53,244.7 160.61,243.9 160.68,243.12 160.75,242.38 160.82,241.69 160.9,241.07 160.97,240.54 161.04,240.11 161.11,239.79 161.18,239.6 161.26,239.56 161.33,239.63 161.4,239.79 161.47,240.04 161.55,240.36 161.62,240.75 161.69,241.19 161.76,241.68 161.84,242.21 161.91,242.76 161.98,243.34 162.05,243.92 162.13,244.5 162.2,245.08 162.27,245.64 162.34,246.16 162.42,246.66 162.49,247.1 162.56,247.5 162.63,247.82 162.71,248.08 162.78,248.25 162.85,248.33 162.92,248.32 162.99,248.26 163.07,248.16 163.14,248.02 163.21,247.84 163.28,247.63 163.36,247.39 163.43,247.14 163.5,246.86 163.57,246.57 163.65,246.26 163.72,245.95 163.79,245.64 163.86,245.34 163.94,245.04 164.01,244.75 164.08,244.47 164.15,244.22 164.23,243.98 164.3,243.78 164.37,243.61 164.44,243.47 164.52,243.38 164.59,243.32 164.66,243.32 164.73,243.38 164.8,243.49 164.88,243.64 164.95,243.83 165.02,244.05 165.09,244.3 165.17,244.56 165.24,244.83 165.31,245.1 165.38,245.36 165.46,245.62 165.53,245.85 165.6,246.05 165.67,246.22 165.75,246.35 165.82,246.43 165.89,246.45 165.96,246.4 166.04,246.27 166.11,246.07 166.18,245.82 166.25,245.52 166.33,245.19 166.4,244.83 166.47,244.46 166.54,244.08 166.61,243.7 166.69,243.34 166.76,243.01 166.83,242.71 166.9,242.45 166.98,242.25 167.05,242.12 167.12,242.06 167.19,242.14 167.27,242.42 167.34,242.87 167.41,243.46 167.48,244.16 167.56,244.93 167.63,245.73 167.7,246.55 167.77,247.33 167.85,248.04 167.92,248.66 167.99,249.15 168.06,249.47 168.14,249.59 168.21,249.48 168.28,249.15 168.35,248.64 168.42,247.97 168.5,247.18 168.57,246.31 168.64,245.37 168.71,244.41 168.79,243.45 168.86,242.53 168.93,241.68 169,240.93 169.08,240.31 169.15,239.86 169.22,239.6 169.29,239.57 169.37,239.75 169.44,240.1 169.51,240.61 169.58,241.25 169.66,242 169.73,242.82 169.8,243.71 169.87,244.62 169.95,245.54 170.02,246.45 170.09,247.31 170.16,248.1 170.23,248.81 170.31,249.39 170.38,249.84 170.45,250.12 170.52,250.21 170.6,250.09 170.67,249.77 170.74,249.28 170.81,248.65 170.89,247.89 170.96,247.04 171.03,246.12 171.1,245.16 171.18,244.18 171.25,243.22 171.32,242.29 171.39,241.42 171.47,240.64 171.54,239.98 171.61,239.46 171.68,239.1 171.76,238.94 171.83,238.99 171.9,239.25 171.97,239.68 172.04,240.28 172.12,241 172.19,241.82 172.26,242.72 172.33,243.67 172.41,244.65 172.48,245.62 172.55,246.56 172.62,247.45 172.7,248.26 172.77,248.96 172.84,249.53 172.91,249.95 172.99,250.18 173.06,250.19 173.13,249.98 173.2,249.55 173.28,248.94 173.35,248.18 173.42,247.3 173.49,246.32 173.57,245.28 173.64,244.21 173.71,243.12 173.78,242.06 173.85,241.05 173.93,240.12 174,239.3 174.07,238.61 174.14,238.09 174.22,237.77 174.29,237.68 174.36,237.84 174.43,238.26 174.51,238.89 174.58,239.71 174.65,240.69 174.72,241.78 174.8,242.95 174.87,244.18 174.94,245.43 175.01,246.66 175.09,247.85 175.16,248.95 175.23,249.94 175.3,250.78 175.38,251.44 175.45,251.89 175.52,252.09 175.59,252.01 175.66,251.69 175.74,251.14 175.81,250.41 175.88,249.52 175.95,248.51 176.03,247.41 176.1,246.25 176.17,245.06 176.24,243.87 176.32,242.72 176.39,241.63 176.46,240.65 176.53,239.79 176.61,239.1 176.68,238.61 176.75,238.34 176.82,238.33 176.9,238.54 176.97,238.95 177.04,239.54 177.11,240.26 177.19,241.11 177.26,242.04 177.33,243.03 177.4,244.05 177.47,245.08 177.55,246.09 177.62,247.04 177.69,247.93 177.76,248.7 177.84,249.35 177.91,249.83 177.98,250.13 178.05,250.21 178.13,250.08 178.2,249.77 178.27,249.29 178.34,248.68 178.42,247.95 178.49,247.14 178.56,246.27 178.63,245.36 178.71,244.44 178.78,243.53 178.85,242.66 178.92,241.84 179,241.12 179.07,240.5 179.14,240.02 179.21,239.7 179.28,239.56 179.36,239.78 179.43,240.57 179.5,241.82 179.57,243.39 179.65,245.15 179.72,246.95 179.79,248.67 179.86,250.17 179.94,251.32 180.01,251.98 180.08,252.02 180.15,251.35 180.23,250.07 180.3,248.31 180.37,246.21 180.44,243.89 180.52,241.49 180.59,239.14 180.66,236.97 180.73,235.11 180.81,233.69 180.88,232.84 180.95,232.69 181.02,233.14 181.09,234.09 181.17,235.47 181.24,237.22 181.31,239.26 181.38,241.53 181.46,243.96 181.53,246.49 181.6,249.04 181.67,251.54 181.75,253.93 181.82,256.15 181.89,258.11 181.96,259.76 182.04,261.02 182.11,261.83 182.18,262.13 182.25,261.83 182.33,260.96 182.4,259.6 182.47,257.82 182.54,255.7 182.62,253.31 182.69,250.72 182.76,248 182.83,245.23 182.9,242.49 182.98,239.85 183.05,237.38 183.12,235.15 183.19,233.25 183.27,231.74 183.34,230.69 183.41,230.19 183.48,230.25 183.56,230.72 183.63,231.55 183.7,232.68 183.77,234.07 183.85,235.66 183.92,237.4 183.99,239.24 184.06,241.14 184.14,243.03 184.21,244.87 184.28,246.61 184.35,248.19 184.43,249.58 184.5,250.71 184.57,251.53 184.64,252 184.71,252.08 184.79,251.9 184.86,251.53 184.93,250.99 185,250.32 185.08,249.53 185.15,248.66 185.22,247.72 185.29,246.76 185.37,245.78 185.44,244.82 185.51,243.91 185.58,243.06 185.66,242.32 185.73,241.69 185.8,241.21 185.87,240.91 185.95,240.81 186.02,240.89 186.09,241.09 186.16,241.42 186.24,241.84 186.31,242.34 186.38,242.91 186.45,243.52 186.52,244.16 186.6,244.81 186.67,245.45 186.74,246.08 186.81,246.65 186.89,247.18 186.96,247.62 187.03,247.97 187.1,248.21 187.18,248.33 187.25,248.3 187.32,248.16 187.39,247.92 187.47,247.59 187.54,247.19 187.61,246.74 187.68,246.24 187.76,245.71 187.83,245.17 187.9,244.63 187.97,244.11 188.05,243.61 188.12,243.16 188.19,242.77 188.26,242.45 188.33,242.22 188.41,242.09 188.48,242.07 188.55,242.14 188.62,242.29 188.7,242.5 188.77,242.77 188.84,243.07 188.91,243.41 188.99,243.78 189.06,244.15 189.13,244.53 189.2,244.91 189.28,245.26 189.35,245.59 189.42,245.88 189.49,246.12 189.57,246.3 189.64,246.41 189.71,246.45 189.78,246.42 189.86,246.33 189.93,246.19 190,246.01 190.07,245.8 190.14,245.57 190.22,245.31 190.29,245.04 190.36,244.77 190.43,244.5 190.51,244.25 190.58,244.01 190.65,243.79 190.72,243.61 190.8,243.46 190.87,243.36 190.94,243.32 191.01,243.33 191.09,243.39 191.16,243.49 191.23,243.62 191.3,243.78 191.38,243.96 191.45,244.16 191.52,244.37 191.59,244.59 191.67,244.81 191.74,245.02 191.81,245.21 191.88,245.39 191.95,245.55 192.03,245.68 192.1,245.77 192.17,245.82 192.24,245.82 192.32,245.74 192.39,245.59 192.46,245.38 192.53,245.11 192.61,244.8 192.68,244.46 192.75,244.09 192.82,243.72 192.9,243.34 192.97,242.97 193.04,242.61 193.11,242.29 193.19,242 193.26,241.76 193.33,241.58 193.4,241.47 193.48,241.44 193.55,241.52 193.62,241.74 193.69,242.08 193.76,242.51 193.84,243.02 193.91,243.59 193.98,244.2 194.05,244.84 194.13,245.49 194.2,246.14 194.27,246.75 194.34,247.33 194.42,247.84 194.49,248.28 194.56,248.62 194.63,248.85 194.71,248.96 194.78,248.93 194.85,248.79 194.92,248.56 195,248.25 195.07,247.86 195.14,247.41 195.21,246.91 195.29,246.36 195.36,245.78 195.43,245.17 195.5,244.55 195.57,243.92 195.65,243.3 195.72,242.7 195.79,242.11 195.86,241.57 195.94,241.07 196.01,240.62 196.08,240.24 196.15,239.93 196.23,239.71 196.3,239.58 196.37,239.56 196.44,239.64 196.52,239.81 196.59,240.06 196.66,240.38 196.73,240.76 196.81,241.2 196.88,241.68 196.95,242.18 197.02,242.71 197.1,243.25 197.17,243.8 197.24,244.33 197.31,244.84 197.38,245.33 197.46,245.77 197.53,246.17 197.6,246.51 197.67,246.78 197.75,246.97 197.82,247.07 197.89,247.08 197.96,247.05 198.04,247 198.11,246.92 198.18,246.83 198.25,246.72 198.33,246.59 198.4,246.45 198.47,246.29 198.54,246.13 198.62,245.96 198.69,245.78 198.76,245.6 198.83,245.42 198.91,245.24 198.98,245.06 199.05,244.89 199.12,244.73 199.19,244.57 199.27,244.43 199.34,244.3 199.41,244.19 199.48,244.1 199.56,244.02 199.63,243.97 199.7,243.95 199.77,243.95 199.85,244.02 199.92,244.15 199.99,244.33 200.06,244.53 200.14,244.76 200.21,244.99 200.28,245.22 200.35,245.42 200.43,245.6 200.5,245.73 200.57,245.81 200.64,245.81 200.72,245.67 200.79,245.39 200.86,244.98 200.93,244.47 201,243.87 201.08,243.19 201.15,242.47 201.22,241.7 201.29,240.91 201.37,240.13 201.44,239.35 201.51,238.61 201.58,237.92 201.66,237.3 201.73,236.76 201.8,236.32 201.87,236.01 201.95,235.83 202.02,235.82 202.09,236.27 202.16,237.17 202.24,238.46 202.31,240.07 202.38,241.93 202.45,243.96 202.53,246.1 202.6,248.26 202.67,250.39 202.74,252.41 202.81,254.25 202.89,255.83 202.96,257.09 203.03,257.95 203.1,258.35 203.18,258.22 203.25,257.64 203.32,256.65 203.39,255.32 203.47,253.7 203.54,251.85 203.61,249.83 203.68,247.69 203.76,245.5 203.83,243.3 203.9,241.16 203.97,239.14 204.05,237.3 204.12,235.68 204.19,234.35 204.26,233.37 204.34,232.79 204.41,232.67 204.48,232.99 204.55,233.68 204.62,234.7 204.7,235.99 204.77,237.5 204.84,239.19 204.91,240.99 204.99,242.87 205.06,244.77 205.13,246.64 205.2,248.42 205.28,250.08 205.35,251.55 205.42,252.79 205.49,253.75 205.57,254.37 205.64,254.6 205.71,254.37 205.78,253.66 205.86,252.56 205.93,251.15 206,249.5 206.07,247.69 206.15,245.8 206.22,243.91 206.29,242.11 206.36,240.46 206.43,239.05 206.51,237.96 206.58,237.27 206.65,237.05 206.72,237.26 206.8,237.78 206.87,238.58 206.94,239.61 207.01,240.81 207.09,242.14 207.16,243.55 207.23,244.99 207.3,246.42 207.38,247.79 207.45,249.05 207.52,250.16 207.59,251.06 207.67,251.7 207.74,252.05 207.81,252.07 207.88,251.86 207.96,251.46 208.03,250.9 208.1,250.21 208.17,249.4 208.24,248.52 208.32,247.58 208.39,246.61 208.46,245.63 208.53,244.68 208.61,243.78 208.68,242.94 208.75,242.21 208.82,241.61 208.9,241.16 208.97,240.88 209.04,240.81 209.11,240.91 209.19,241.14 209.26,241.48 209.33,241.91 209.4,242.42 209.48,243 209.55,243.62 209.62,244.26 209.69,244.91 209.77,245.55 209.84,246.17 209.91,246.74 209.98,247.25 210.05,247.68 210.13,248.02 210.2,248.24 210.27,248.33 210.34,248.28 210.42,248.11 210.49,247.83 210.56,247.46 210.63,247.01 210.71,246.5 210.78,245.94 210.85,245.36 210.92,244.76 211,244.17 211.07,243.6 211.14,243.06 211.21,242.57 211.29,242.15 211.36,241.81 211.43,241.57 211.5,241.45 211.58,241.47 211.65,241.69 211.72,242.1 211.79,242.66 211.86,243.33 211.94,244.08 212.01,244.88 212.08,245.7 212.15,246.49 212.23,247.22 212.3,247.87 212.37,248.4 212.44,248.77 212.52,248.95 212.59,248.91 212.66,248.68 212.73,248.28 212.81,247.76 212.88,247.13 212.95,246.43 213.02,245.69 213.1,244.95 213.17,244.23 213.24,243.56 213.31,242.98 213.39,242.52 213.46,242.2 213.53,242.07 213.6,242.09 213.67,242.2 213.75,242.38 213.82,242.61 213.89,242.9 213.96,243.22 214.04,243.57 214.11,243.94 214.18,244.32 214.25,244.7 214.33,245.06 214.4,245.41 214.47,245.72 214.54,245.99 214.62,246.21 214.69,246.36 214.76,246.44 214.83,246.44 214.91,246.38 214.98,246.27 215.05,246.12 215.12,245.92 215.2,245.7 215.27,245.46 215.34,245.19 215.41,244.92 215.48,244.65 215.56,244.39 215.63,244.14 215.7,243.91 215.77,243.7 215.85,243.54 215.92,243.41 215.99,243.34 216.06,243.32 216.14,243.34 216.21,243.39 216.28,243.48 216.35,243.58 216.43,243.71 216.5,243.85 216.57,244.01 216.64,244.18 216.72,244.35 216.79,244.53 216.86,244.71 216.93,244.89 217.01,245.07 217.08,245.23 217.15,245.38 217.22,245.51 217.29,245.63 217.37,245.72 217.44,245.78 217.51,245.82 217.58,245.82 217.66,245.8 217.73,245.75 217.8,245.69 217.87,245.61 217.95,245.51 218.02,245.4 218.09,245.28 218.16,245.15 218.24,245.02 218.31,244.88 218.38,244.75 218.45,244.61 218.53,244.49 218.6,244.37 218.67,244.26 218.74,244.16 218.82,244.08 218.89,244.01 218.96,243.97 219.03,243.95 219.1,243.95 219.18,243.97 219.25,244.01 219.32,244.07 219.39,244.15 219.47,244.24 219.54,244.34 219.61,244.44 219.68,244.56 219.76,244.68 219.83,244.8 219.9,244.93 219.97,245.05 220.05,245.18 220.12,245.29 220.19,245.4 220.26,245.51 220.34,245.6 220.41,245.68 220.48,245.74 220.55,245.79 220.63,245.82 220.7,245.82 220.77,245.8 220.84,245.73 220.91,245.63 220.99,245.49 221.06,245.33 221.13,245.14 221.2,244.94 221.28,244.71 221.35,244.48 221.42,244.23 221.49,243.98 221.57,243.73 221.64,243.48 221.71,243.24 221.78,243.02 221.86,242.8 221.93,242.61 222,242.44 222.07,242.29 222.15,242.18 222.22,242.1 222.29,242.07 222.36,242.08 222.44,242.17 222.51,242.33 222.58,242.56 222.65,242.85 222.72,243.18 222.8,243.56 222.87,243.96 222.94,244.39 223.01,244.84 223.09,245.29 223.16,245.74 223.23,246.18 223.3,246.6 223.38,247 223.45,247.36 223.52,247.67 223.59,247.93 223.67,248.14 223.74,248.27 223.81,248.33 223.88,248.3 223.96,248.16 224.03,247.93 224.1,247.63 224.17,247.27 224.25,246.85 224.32,246.4 224.39,245.92 224.46,245.44 224.53,244.95 224.61,244.48 224.68,244.04 224.75,243.64 224.82,243.29 224.9,243.01 224.97,242.81 225.04,242.7 225.11,242.7 225.19,242.75 225.26,242.84 225.33,242.97 225.4,243.14 225.48,243.34 225.55,243.56 225.62,243.8 225.69,244.06 225.77,244.33 225.84,244.6 225.91,244.87 225.98,245.13 226.06,245.39 226.13,245.63 226.2,245.84 226.27,246.04 226.34,246.2 226.42,246.32 226.49,246.41 226.56,246.45 226.63,246.43 226.71,246.34 226.78,246.18 226.85,245.96 226.92,245.68 227,245.35 227.07,244.97 227.14,244.55 227.21,244.1 227.29,243.62 227.36,243.11 227.43,242.59 227.5,242.06 227.58,241.52 227.65,240.97 227.72,240.44 227.79,239.91 227.87,239.4 227.94,238.91 228.01,238.45 228.08,238.02 228.15,237.63 228.23,237.28 228.3,236.99 228.37,236.75 228.44,236.57 228.52,236.46 228.59,236.42 228.66,236.58 228.73,237.04 228.81,237.77 228.88,238.71 228.95,239.84 229.02,241.1 229.1,242.48 229.17,243.92 229.24,245.38 229.31,246.83 229.39,248.23 229.46,249.54 229.53,250.71 229.6,251.72 229.68,252.52 229.75,253.07 229.82,253.33 229.89,253.29 229.96,253.02 230.04,252.54 230.11,251.89 230.18,251.1 230.25,250.19 230.33,249.19 230.4,248.14 230.47,247.06 230.54,245.98 230.62,244.93 230.69,243.93 230.76,243.03 230.83,242.24 230.91,241.59 230.98,241.13 231.05,240.86 231.12,240.82 231.2,240.95 231.27,241.22 231.34,241.61 231.41,242.1 231.49,242.67 231.56,243.3 231.63,243.97 231.7,244.67 231.77,245.38 231.85,246.07 231.92,246.73 231.99,247.34 232.06,247.88 232.14,248.33 232.21,248.67 232.28,248.89 232.35,248.96 232.43,248.88 232.5,248.67 232.57,248.35 232.64,247.92 232.72,247.42 232.79,246.85 232.86,246.24 232.93,245.6 233.01,244.95 233.08,244.31 233.15,243.69 233.22,243.11 233.3,242.59 233.37,242.14 233.44,241.79 233.51,241.55 233.58,241.44 233.66,241.47 233.73,241.63 233.8,241.89 233.87,242.25 233.95,242.69 234.02,243.2 234.09,243.75 234.16,244.33 234.24,244.92 234.31,245.51 234.38,246.09 234.45,246.64 234.53,247.13 234.6,247.56 234.67,247.91 234.74,248.17 234.82,248.31 234.89,248.32 234.96,248.19 235.03,247.94 235.11,247.58 235.18,247.12 235.25,246.59 235.32,246.01 235.39,245.38 235.47,244.74 235.54,244.09 235.61,243.45 235.68,242.84 235.76,242.28 235.83,241.79 235.9,241.38 235.97,241.07 236.05,240.87 236.12,240.81 236.19,240.9 236.26,241.13 236.34,241.49 236.41,241.95 236.48,242.5 236.55,243.12 236.63,243.78 236.7,244.48 236.77,245.18 236.84,245.88 236.92,246.55 236.99,247.17 237.06,247.73 237.13,248.21 237.2,248.59 237.28,248.84 237.35,248.95 237.42,248.92 237.49,248.78 237.57,248.54 237.64,248.2 237.71,247.79 237.78,247.31 237.86,246.78 237.93,246.2 238,245.59 238.07,244.97 238.15,244.34 238.22,243.71 238.29,243.09 238.36,242.51 238.44,241.96 238.51,241.47 238.58,241.04 238.65,240.68 238.73,240.41 238.8,240.24 238.87,240.18 238.94,240.33 239.01,240.75 239.09,241.39 239.16,242.19 239.23,243.11 239.3,244.09 239.38,245.08 239.45,246.02 239.52,246.87 239.59,247.57 239.67,248.07 239.74,248.32 239.81,248.31 239.88,248.18 239.96,247.97 240.03,247.68 240.1,247.32 240.17,246.91 240.25,246.46 240.32,245.99 240.39,245.5 240.46,245.01 240.54,244.54 240.61,244.09 240.68,243.69 240.75,243.33 240.82,243.04 240.9,242.83 240.97,242.71 241.04,242.69 241.11,242.73 241.19,242.8 241.26,242.91 241.33,243.05 241.4,243.21 241.48,243.39 241.55,243.59 241.62,243.8 241.69,244.03 241.77,244.25 241.84,244.48 241.91,244.7 241.98,244.91 242.06,245.11 242.13,245.3 242.2,245.46 242.27,245.6 242.35,245.71 242.42,245.78 242.49,245.82 242.56,245.82 242.63,245.8 242.71,245.75 242.78,245.69 242.85,245.61 242.92,245.52 243,245.42 243.07,245.31 243.14,245.21 243.21,245.1 243.29,244.99 243.36,244.89 243.43,244.8 243.5,244.72 243.58,244.65 243.65,244.61 243.72,244.58 243.79,244.57 243.87,244.59 243.94,244.63 244.01,244.69 244.08,244.76 244.16,244.85 244.23,244.94 244.3,245.05 244.37,245.15 244.44,245.26 244.52,245.37 244.59,245.47 244.66,245.57 244.73,245.65 244.81,245.72 244.88,245.78 244.95,245.81 245.02,245.82 245.1,245.78 245.17,245.66 245.24,245.46 245.31,245.21 245.39,244.91 245.46,244.59 245.53,244.25 245.6,243.92 245.68,243.59 245.75,243.3 245.82,243.05 245.89,242.85 245.97,242.73 246.04,242.69 246.11,242.72 246.18,242.81 246.25,242.95 246.33,243.13 246.4,243.35 246.47,243.6 246.54,243.87 246.62,244.17 246.69,244.47 246.76,244.79 246.83,245.1 246.91,245.42 246.98,245.72 247.05,246.01 247.12,246.27 247.2,246.51 247.27,246.71 247.34,246.88 247.41,247 247.49,247.06 247.56,247.07 247.63,247.02 247.7,246.89 247.78,246.71 247.85,246.48 247.92,246.2 247.99,245.88 248.06,245.53 248.14,245.15 248.21,244.75 248.28,244.34 248.35,243.92 248.43,243.51 248.5,243.1 248.57,242.7 248.64,242.33 248.72,241.98 248.79,241.66 248.86,241.38 248.93,241.16 249.01,240.98 249.08,240.86 249.15,240.81 249.22,240.84 249.3,240.96 249.37,241.16 249.44,241.42 249.51,241.75 249.59,242.11 249.66,242.52 249.73,242.94 249.8,243.37 249.87,243.8 249.95,244.22 250.02,244.62 250.09,244.97 250.16,245.28 250.24,245.53 250.31,245.71 250.38,245.81 250.45,245.79 250.53,245.55 250.6,245.08 250.67,244.45 250.74,243.7 250.82,242.88 250.89,242.03 250.96,241.2 251.03,240.43 251.11,239.78 251.18,239.28 251.25,238.99 251.32,238.94 251.4,239.06 251.47,239.31 251.54,239.68 251.61,240.15 251.68,240.71 251.76,241.35 251.83,242.06 251.9,242.82 251.97,243.62 252.05,244.44 252.12,245.27 252.19,246.1 252.26,246.92 252.34,247.71 252.41,248.46 252.48,249.16 252.55,249.79 252.63,250.34 252.7,250.79 252.77,251.14 252.84,251.37 252.92,251.46 252.99,251.38 253.06,251.04 253.13,250.48 253.21,249.74 253.28,248.85 253.35,247.83 253.42,246.72 253.49,245.56 253.57,244.37 253.64,243.18 253.71,242.03 253.78,240.95 253.86,239.97 253.93,239.13 254,238.45 254.07,237.96 254.15,237.71 254.22,237.71 254.29,237.98 254.36,238.5 254.44,239.21 254.51,240.1 254.58,241.12 254.65,242.26 254.73,243.46 254.8,244.7 254.87,245.94 254.94,247.16 255.02,248.32 255.09,249.38 255.16,250.31 255.23,251.08 255.3,251.66 255.38,252 255.45,252.08 255.52,251.7 255.59,250.85 255.67,249.62 255.74,248.11 255.81,246.43 255.88,244.65 255.96,242.89 256.03,241.24 256.1,239.8 256.17,238.66 256.25,237.92 256.32,237.67 256.39,237.83 256.46,238.24 256.54,238.87 256.61,239.69 256.68,240.66 256.75,241.74 256.83,242.92 256.9,244.15 256.97,245.39 257.04,246.63 257.11,247.81 257.19,248.92 257.26,249.91 257.33,250.76 257.4,251.43 257.48,251.88 257.55,252.09 257.62,251.89 257.69,251.05 257.77,249.71 257.84,248 257.91,246.09 257.98,244.1 258.06,242.2 258.13,240.52 258.2,239.23 258.27,238.45 258.35,238.35 258.42,238.99 258.49,240.3 258.56,242.17 258.64,244.52 258.71,247.23 258.78,250.21"/>
<rect class="sp" x="34.4" y="222.65" width="235.2" height="43.9"/>
<path class="tk" d="M45.2 266.55v2.3M81.4 266.55v2.3M117.6 266.55v2.3M153.8 266.55v2.3M190 266.55v2.3M226.2 266.55v2.3M262.4 266.55v2.3M34.4 226.8h-2.3M34.4 245h-2.3M34.4 263h-2.3"/>
<text class="t" x="45.55" y="275.89" text-anchor="middle">0</text>
<text class="t" x="81.75" y="275.89" text-anchor="middle">500</text>
<text class="t" x="117.95" y="275.89" text-anchor="middle">1000</text>
<text class="t" x="154.15" y="275.89" text-anchor="middle">1500</text>
<text class="t" x="190.35" y="275.89" text-anchor="middle">2000</text>
<text class="t" x="226.55" y="275.89" text-anchor="middle">2500</text>
<text class="t" x="262.75" y="275.89" text-anchor="middle">3000</text>
<text class="t" x="30.1" y="229.17" text-anchor="end">25</text>
<text class="t" x="30.1" y="247.37" text-anchor="end">0</text>
<text class="t" x="30.1" y="265.37" text-anchor="end">−25</text>
<text class="t" text-anchor="middle" transform="translate(12.1 244.6) rotate(-90)">IMF 4</text>
</g>
<g>
<clipPath id="c4"><rect x="34.4" y="292.4" width="235.2" height="43.9"/></clipPath>
<polyline class="ln" clip-path="url(#c4)" points="45.2,306.25 45.27,307.59 45.34,308.89 45.42,310.13 45.49,311.33 45.56,312.46 45.63,313.55 45.71,314.58 45.78,315.55 45.85,316.46 45.92,317.31 46,318.1 46.07,318.83 46.14,319.5 46.21,320.1 46.29,320.63 46.36,321.1 46.43,321.5 46.5,321.83 46.58,322.08 46.65,322.27 46.72,322.38 46.79,322.42 46.87,322.35 46.94,322.14 47.01,321.8 47.08,321.36 47.15,320.81 47.23,320.17 47.3,319.45 47.37,318.67 47.44,317.84 47.52,316.96 47.59,316.05 47.66,315.13 47.73,314.2 47.81,313.28 47.88,312.37 47.95,311.49 48.02,310.66 48.1,309.88 48.17,309.16 48.24,308.52 48.31,307.97 48.39,307.53 48.46,307.19 48.53,306.98 48.6,306.91 48.68,306.97 48.75,307.15 48.82,307.44 48.89,307.82 48.96,308.3 49.04,308.85 49.11,309.47 49.18,310.15 49.25,310.88 49.33,311.65 49.4,312.44 49.47,313.26 49.54,314.09 49.62,314.91 49.69,315.73 49.76,316.53 49.83,317.3 49.91,318.02 49.98,318.7 50.05,319.32 50.12,319.88 50.2,320.35 50.27,320.74 50.34,321.02 50.41,321.2 50.49,321.26 50.56,321.24 50.63,321.17 50.7,321.05 50.77,320.89 50.85,320.68 50.92,320.44 50.99,320.17 51.06,319.86 51.14,319.52 51.21,319.15 51.28,318.76 51.35,318.34 51.43,317.91 51.5,317.45 51.57,316.98 51.64,316.5 51.72,316.01 51.79,315.51 51.86,315.01 51.93,314.5 52.01,313.99 52.08,313.49 52.15,312.99 52.22,312.5 52.3,312.02 52.37,311.55 52.44,311.09 52.51,310.66 52.58,310.24 52.66,309.85 52.73,309.48 52.8,309.14 52.87,308.83 52.95,308.56 53.02,308.32 53.09,308.11 53.16,307.95 53.24,307.83 53.31,307.76 53.38,307.74 53.45,307.77 53.53,307.86 53.6,308.01 53.67,308.21 53.74,308.46 53.82,308.76 53.89,309.09 53.96,309.47 54.03,309.88 54.11,310.32 54.18,310.78 54.25,311.27 54.32,311.78 54.39,312.3 54.47,312.84 54.54,313.38 54.61,313.92 54.68,314.47 54.76,315.01 54.83,315.54 54.9,316.07 54.97,316.57 55.05,317.06 55.12,317.53 55.19,317.97 55.26,318.38 55.34,318.75 55.41,319.09 55.48,319.39 55.55,319.64 55.63,319.84 55.7,319.99 55.77,320.08 55.84,320.11 55.92,320.06 55.99,319.93 56.06,319.72 56.13,319.43 56.2,319.08 56.28,318.67 56.35,318.2 56.42,317.69 56.49,317.14 56.57,316.55 56.64,315.94 56.71,315.3 56.78,314.66 56.86,314 56.93,313.35 57,312.71 57.07,312.07 57.15,311.46 57.22,310.87 57.29,310.32 57.36,309.81 57.44,309.34 57.51,308.93 57.58,308.58 57.65,308.29 57.73,308.08 57.8,307.95 57.87,307.9 57.94,307.93 58.01,308.01 58.09,308.14 58.16,308.32 58.23,308.54 58.3,308.8 58.38,309.1 58.45,309.43 58.52,309.8 58.59,310.2 58.67,310.62 58.74,311.06 58.81,311.53 58.88,312.01 58.96,312.5 59.03,313.01 59.1,313.52 59.17,314.03 59.25,314.55 59.32,315.07 59.39,315.58 59.46,316.09 59.54,316.58 59.61,317.06 59.68,317.52 59.75,317.97 59.82,318.39 59.9,318.79 59.97,319.15 60.04,319.49 60.11,319.79 60.19,320.05 60.26,320.27 60.33,320.45 60.4,320.58 60.48,320.66 60.55,320.69 60.62,320.67 60.69,320.6 60.77,320.5 60.84,320.36 60.91,320.19 60.98,319.98 61.06,319.74 61.13,319.47 61.2,319.17 61.27,318.85 61.35,318.5 61.42,318.13 61.49,317.74 61.56,317.33 61.63,316.9 61.71,316.46 61.78,316 61.85,315.53 61.92,315.06 62,314.57 62.07,314.09 62.14,313.59 62.21,313.1 62.29,312.6 62.36,312.11 62.43,311.62 62.5,311.14 62.58,310.66 62.65,310.19 62.72,309.74 62.79,309.3 62.87,308.87 62.94,308.46 63.01,308.07 63.08,307.7 63.16,307.35 63.23,307.02 63.3,306.73 63.37,306.46 63.44,306.21 63.52,306.01 63.59,305.83 63.66,305.69 63.73,305.59 63.81,305.53 63.88,305.51 63.95,305.55 64.02,305.67 64.1,305.86 64.17,306.12 64.24,306.44 64.31,306.83 64.39,307.27 64.46,307.76 64.53,308.29 64.6,308.87 64.68,309.48 64.75,310.13 64.82,310.8 64.89,311.5 64.97,312.21 65.04,312.94 65.11,313.68 65.18,314.42 65.25,315.16 65.33,315.9 65.4,316.62 65.47,317.34 65.54,318.03 65.62,318.71 65.69,319.35 65.76,319.97 65.83,320.54 65.91,321.08 65.98,321.57 66.05,322.01 66.12,322.39 66.2,322.72 66.27,322.98 66.34,323.17 66.41,323.29 66.49,323.33 66.56,323.28 66.63,323.16 66.7,322.95 66.78,322.67 66.85,322.32 66.92,321.91 66.99,321.44 67.06,320.91 67.14,320.34 67.21,319.73 67.28,319.08 67.35,318.4 67.43,317.69 67.5,316.96 67.57,316.22 67.64,315.47 67.72,314.71 67.79,313.95 67.86,313.19 67.93,312.45 68.01,311.72 68.08,311.01 68.15,310.33 68.22,309.68 68.3,309.07 68.37,308.5 68.44,307.98 68.51,307.51 68.59,307.09 68.66,306.74 68.73,306.46 68.8,306.26 68.87,306.13 68.95,306.08 69.02,306.1 69.09,306.16 69.16,306.25 69.24,306.37 69.31,306.52 69.38,306.7 69.45,306.91 69.53,307.15 69.6,307.41 69.67,307.7 69.74,308.01 69.82,308.34 69.89,308.69 69.96,309.06 70.03,309.45 70.11,309.85 70.18,310.26 70.25,310.69 70.32,311.13 70.4,311.58 70.47,312.04 70.54,312.51 70.61,312.98 70.68,313.46 70.76,313.94 70.83,314.42 70.9,314.9 70.97,315.38 71.05,315.85 71.12,316.33 71.19,316.79 71.26,317.25 71.34,317.7 71.41,318.14 71.48,318.57 71.55,318.99 71.63,319.39 71.7,319.78 71.77,320.15 71.84,320.5 71.92,320.83 71.99,321.14 72.06,321.43 72.13,321.69 72.21,321.93 72.28,322.14 72.35,322.32 72.42,322.47 72.49,322.59 72.57,322.68 72.64,322.73 72.71,322.75 72.78,322.71 72.86,322.58 72.93,322.38 73,322.11 73.07,321.77 73.15,321.37 73.22,320.91 73.29,320.4 73.36,319.84 73.44,319.23 73.51,318.59 73.58,317.92 73.65,317.21 73.73,316.48 73.8,315.74 73.87,314.97 73.94,314.2 74.02,313.43 74.09,312.65 74.16,311.88 74.23,311.12 74.3,310.37 74.38,309.64 74.45,308.94 74.52,308.26 74.59,307.62 74.67,307.02 74.74,306.46 74.81,305.95 74.88,305.49 74.96,305.08 75.03,304.74 75.1,304.47 75.17,304.27 75.25,304.15 75.32,304.11 75.39,304.16 75.46,304.34 75.54,304.61 75.61,304.99 75.68,305.46 75.75,306.01 75.83,306.63 75.9,307.33 75.97,308.08 76.04,308.89 76.11,309.74 76.19,310.63 76.26,311.55 76.33,312.49 76.4,313.45 76.48,314.42 76.55,315.38 76.62,316.34 76.69,317.28 76.77,318.2 76.84,319.09 76.91,319.95 76.98,320.75 77.06,321.51 77.13,322.2 77.2,322.83 77.27,323.38 77.35,323.84 77.42,324.22 77.49,324.5 77.56,324.67 77.64,324.73 77.71,324.73 77.78,324.72 77.85,324.72 77.92,324.71 78,324.7 78.07,324.68 78.14,324.66 78.21,324.64 78.29,324.62 78.36,324.6 78.43,324.57 78.5,324.54 78.58,324.5 78.65,324.47 78.72,324.43 78.79,324.39 78.87,324.35 78.94,324.31 79.01,324.26 79.08,324.21 79.16,324.16 79.23,324.11 79.3,324.05 79.37,324 79.45,323.94 79.52,323.88 79.59,323.81 79.66,323.75 79.73,323.68 79.81,323.61 79.88,323.54 79.95,323.47 80.02,323.4 80.1,323.32 80.17,323.24 80.24,323.16 80.31,323.08 80.39,323 80.46,322.91 80.53,322.83 80.6,322.74 80.68,322.65 80.75,322.56 80.82,322.47 80.89,322.38 80.97,322.28 81.04,322.19 81.11,322.09 81.18,321.97 81.26,321.81 81.33,321.61 81.4,321.37 81.47,321.1 81.54,320.8 81.62,320.47 81.69,320.11 81.76,319.73 81.83,319.33 81.91,318.92 81.98,318.49 82.05,318.04 82.12,317.59 82.2,317.13 82.27,316.67 82.34,316.2 82.41,315.74 82.49,315.28 82.56,314.83 82.63,314.38 82.7,313.95 82.78,313.54 82.85,313.14 82.92,312.76 82.99,312.41 83.07,312.08 83.14,311.78 83.21,311.51 83.28,311.28 83.35,311.08 83.43,310.92 83.5,310.8 83.57,310.73 83.64,310.7 83.72,310.73 83.79,310.8 83.86,310.91 83.93,311.06 84.01,311.25 84.08,311.46 84.15,311.71 84.22,311.97 84.3,312.26 84.37,312.56 84.44,312.87 84.51,313.19 84.59,313.51 84.66,313.83 84.73,314.15 84.8,314.46 84.88,314.76 84.95,315.05 85.02,315.31 85.09,315.56 85.16,315.77 85.24,315.96 85.31,316.11 85.38,316.22 85.45,316.29 85.53,316.31 85.6,316.3 85.67,316.26 85.74,316.19 85.82,316.11 85.89,316 85.96,315.88 86.03,315.74 86.11,315.6 86.18,315.44 86.25,315.28 86.32,315.12 86.4,314.96 86.47,314.8 86.54,314.64 86.61,314.5 86.69,314.36 86.76,314.24 86.83,314.13 86.9,314.04 86.97,313.98 87.05,313.94 87.12,313.92 87.19,313.93 87.26,313.95 87.34,313.99 87.41,314.04 87.48,314.11 87.55,314.18 87.63,314.26 87.7,314.35 87.77,314.44 87.84,314.54 87.92,314.64 87.99,314.75 88.06,314.85 88.13,314.95 88.21,315.05 88.28,315.14 88.35,315.23 88.42,315.31 88.5,315.39 88.57,315.45 88.64,315.5 88.71,315.54 88.78,315.56 88.86,315.57 88.93,315.56 89,315.52 89.07,315.47 89.15,315.39 89.22,315.3 89.29,315.2 89.36,315.08 89.44,314.95 89.51,314.82 89.58,314.68 89.65,314.53 89.73,314.39 89.8,314.24 89.87,314.1 89.94,313.97 90.02,313.84 90.09,313.72 90.16,313.62 90.23,313.52 90.31,313.45 90.38,313.39 90.45,313.36 90.52,313.35 90.59,313.36 90.67,313.41 90.74,313.5 90.81,313.61 90.88,313.74 90.96,313.9 91.03,314.08 91.1,314.28 91.17,314.5 91.25,314.73 91.32,314.97 91.39,315.22 91.46,315.47 91.54,315.73 91.61,315.99 91.68,316.25 91.75,316.51 91.83,316.75 91.9,317 91.97,317.22 92.04,317.44 92.12,317.64 92.19,317.82 92.26,317.98 92.33,318.12 92.4,318.23 92.48,318.31 92.55,318.36 92.62,318.38 92.69,318.34 92.77,318.23 92.84,318.05 92.91,317.81 92.98,317.5 93.06,317.15 93.13,316.75 93.2,316.3 93.27,315.82 93.35,315.3 93.42,314.76 93.49,314.2 93.56,313.61 93.64,313.01 93.71,312.41 93.78,311.8 93.85,311.2 93.93,310.6 94,310.02 94.07,309.45 94.14,308.91 94.21,308.39 94.29,307.91 94.36,307.47 94.43,307.06 94.5,306.71 94.58,306.41 94.65,306.17 94.72,305.99 94.79,305.88 94.87,305.84 94.94,305.9 95.01,306.07 95.08,306.36 95.16,306.75 95.23,307.23 95.3,307.8 95.37,308.45 95.45,309.17 95.52,309.96 95.59,310.81 95.66,311.71 95.74,312.66 95.81,313.65 95.88,314.67 95.95,315.71 96.02,316.77 96.1,317.84 96.17,318.91 96.24,319.99 96.31,321.05 96.39,322.09 96.46,323.11 96.53,324.09 96.6,325.04 96.68,325.95 96.75,326.8 96.82,327.59 96.89,328.31 96.97,328.96 97.04,329.53 97.11,330.01 97.18,330.4 97.26,330.68 97.33,330.86 97.4,330.92 97.47,330.81 97.55,330.48 97.62,329.95 97.69,329.25 97.76,328.37 97.83,327.33 97.91,326.16 97.98,324.86 98.05,323.45 98.12,321.94 98.2,320.35 98.27,318.7 98.34,317 98.41,315.25 98.49,313.49 98.56,311.72 98.63,309.95 98.7,308.21 98.78,306.5 98.85,304.85 98.92,303.26 98.99,301.76 99.07,300.35 99.14,299.05 99.21,297.87 99.28,296.84 99.36,295.96 99.43,295.25 99.5,294.73 99.57,294.4 99.64,294.29 99.72,294.38 99.79,294.66 99.86,295.11 99.93,295.73 100.01,296.49 100.08,297.39 100.15,298.42 100.22,299.57 100.3,300.82 100.37,302.17 100.44,303.6 100.51,305.11 100.59,306.67 100.66,308.28 100.73,309.94 100.8,311.62 100.88,313.32 100.95,315.02 101.02,316.72 101.09,318.4 101.17,320.06 101.24,321.67 101.31,323.23 101.38,324.74 101.45,326.17 101.53,327.52 101.6,328.77 101.67,329.92 101.74,330.95 101.82,331.85 101.89,332.61 101.96,333.23 102.03,333.68 102.11,333.96 102.18,334.05 102.25,333.98 102.32,333.78 102.4,333.46 102.47,333.02 102.54,332.47 102.61,331.81 102.69,331.06 102.76,330.22 102.83,329.31 102.9,328.31 102.98,327.26 103.05,326.14 103.12,324.97 103.19,323.76 103.26,322.52 103.34,321.24 103.41,319.94 103.48,318.63 103.55,317.31 103.63,315.98 103.7,314.67 103.77,313.37 103.84,312.09 103.92,310.85 103.99,309.64 104.06,308.47 104.13,307.35 104.21,306.3 104.28,305.3 104.35,304.39 104.42,303.55 104.5,302.8 104.57,302.14 104.64,301.59 104.71,301.15 104.79,300.83 104.86,300.63 104.93,300.56 105,300.6 105.07,300.73 105.15,300.94 105.22,301.22 105.29,301.58 105.36,302 105.44,302.48 105.51,303.02 105.58,303.61 105.65,304.25 105.73,304.93 105.8,305.64 105.87,306.39 105.94,307.17 106.02,307.97 106.09,308.8 106.16,309.63 106.23,310.47 106.31,311.32 106.38,312.17 106.45,313.02 106.52,313.85 106.6,314.67 106.67,315.48 106.74,316.25 106.81,317 106.88,317.72 106.96,318.4 107.03,319.04 107.1,319.63 107.17,320.17 107.25,320.65 107.32,321.07 107.39,321.42 107.46,321.71 107.54,321.92 107.61,322.05 107.68,322.09 107.75,322.07 107.83,322.01 107.9,321.92 107.97,321.8 108.04,321.64 108.12,321.45 108.19,321.24 108.26,321 108.33,320.74 108.41,320.46 108.48,320.16 108.55,319.84 108.62,319.5 108.69,319.15 108.77,318.8 108.84,318.43 108.91,318.05 108.98,317.67 109.06,317.29 109.13,316.91 109.2,316.52 109.27,316.14 109.35,315.77 109.42,315.4 109.49,315.04 109.56,314.7 109.64,314.36 109.71,314.04 109.78,313.74 109.85,313.46 109.93,313.2 110,312.96 110.07,312.74 110.14,312.56 110.22,312.4 110.29,312.28 110.36,312.18 110.43,312.13 110.5,312.11 110.58,312.12 110.65,312.16 110.72,312.22 110.79,312.31 110.87,312.41 110.94,312.53 111.01,312.66 111.08,312.81 111.16,312.96 111.23,313.12 111.3,313.29 111.37,313.46 111.45,313.64 111.52,313.81 111.59,313.98 111.66,314.14 111.74,314.3 111.81,314.44 111.88,314.58 111.95,314.69 112.03,314.8 112.1,314.88 112.17,314.94 112.24,314.98 112.31,315 112.39,314.99 112.46,314.97 112.53,314.95 112.6,314.92 112.68,314.87 112.75,314.83 112.82,314.78 112.89,314.72 112.97,314.66 113.04,314.6 113.11,314.53 113.18,314.47 113.26,314.4 113.33,314.34 113.4,314.28 113.47,314.22 113.55,314.17 113.62,314.13 113.69,314.08 113.76,314.05 113.84,314.03 113.91,314.01 113.98,314 114.05,314.02 114.12,314.06 114.2,314.13 114.27,314.21 114.34,314.32 114.41,314.45 114.49,314.59 114.56,314.74 114.63,314.91 114.7,315.08 114.78,315.26 114.85,315.44 114.92,315.62 114.99,315.8 115.07,315.98 115.14,316.16 115.21,316.32 115.28,316.47 115.36,316.61 115.43,316.74 115.5,316.85 115.57,316.94 115.65,317 115.72,317.04 115.79,317.06 115.86,317.04 115.93,316.98 116.01,316.89 116.08,316.76 116.15,316.61 116.22,316.43 116.3,316.22 116.37,315.98 116.44,315.73 116.51,315.45 116.59,315.16 116.66,314.86 116.73,314.54 116.8,314.21 116.88,313.88 116.95,313.53 117.02,313.19 117.09,312.84 117.17,312.5 117.24,312.15 117.31,311.82 117.38,311.49 117.46,311.17 117.53,310.87 117.6,310.58 117.67,310.3 117.74,310.05 117.82,309.81 117.89,309.6 117.96,309.42 118.03,309.27 118.11,309.14 118.18,309.05 118.25,308.99 118.32,308.97 118.4,309 118.47,309.08 118.54,309.21 118.61,309.39 118.69,309.61 118.76,309.87 118.83,310.17 118.9,310.5 118.98,310.87 119.05,311.26 119.12,311.68 119.19,312.13 119.27,312.59 119.34,313.08 119.41,313.58 119.48,314.09 119.55,314.6 119.63,315.13 119.7,315.65 119.77,316.18 119.84,316.71 119.92,317.22 119.99,317.73 120.06,318.23 120.13,318.72 120.21,319.18 120.28,319.63 120.35,320.05 120.42,320.44 120.5,320.81 120.57,321.14 120.64,321.44 120.71,321.7 120.79,321.92 120.86,322.1 120.93,322.23 121,322.31 121.08,322.34 121.15,322.32 121.22,322.27 121.29,322.19 121.36,322.08 121.44,321.94 121.51,321.77 121.58,321.57 121.65,321.35 121.73,321.11 121.8,320.84 121.87,320.55 121.94,320.24 122.02,319.91 122.09,319.57 122.16,319.2 122.23,318.83 122.31,318.43 122.38,318.03 122.45,317.61 122.52,317.18 122.6,316.74 122.67,316.3 122.74,315.84 122.81,315.39 122.89,314.92 122.96,314.46 123.03,313.99 123.1,313.52 123.17,313.06 123.25,312.59 123.32,312.13 123.39,311.67 123.46,311.22 123.54,310.77 123.61,310.33 123.68,309.91 123.75,309.49 123.83,309.08 123.9,308.69 123.97,308.31 124.04,307.95 124.12,307.6 124.19,307.27 124.26,306.96 124.33,306.67 124.41,306.41 124.48,306.16 124.55,305.94 124.62,305.75 124.7,305.58 124.77,305.44 124.84,305.33 124.91,305.24 124.98,305.19 125.06,305.18 125.13,305.2 125.2,305.27 125.27,305.37 125.35,305.52 125.42,305.71 125.49,305.93 125.56,306.18 125.64,306.47 125.71,306.79 125.78,307.14 125.85,307.51 125.93,307.91 126,308.33 126.07,308.78 126.14,309.24 126.22,309.72 126.29,310.22 126.36,310.73 126.43,311.25 126.51,311.78 126.58,312.32 126.65,312.87 126.72,313.42 126.79,313.97 126.87,314.53 126.94,315.08 127.01,315.64 127.08,316.18 127.16,316.72 127.23,317.26 127.3,317.78 127.37,318.29 127.45,318.79 127.52,319.27 127.59,319.73 127.66,320.17 127.74,320.6 127.81,320.99 127.88,321.37 127.95,321.72 128.03,322.03 128.1,322.32 128.17,322.58 128.24,322.8 128.32,322.98 128.39,323.13 128.46,323.24 128.53,323.31 128.6,323.33 128.68,323.29 128.75,323.16 128.82,322.96 128.89,322.7 128.97,322.36 129.04,321.97 129.11,321.52 129.18,321.02 129.26,320.47 129.33,319.89 129.4,319.26 129.47,318.61 129.55,317.94 129.62,317.24 129.69,316.53 129.76,315.8 129.84,315.08 129.91,314.35 129.98,313.63 130.05,312.92 130.13,312.22 130.2,311.54 130.27,310.89 130.34,310.27 130.41,309.68 130.49,309.14 130.56,308.64 130.63,308.19 130.7,307.79 130.78,307.46 130.85,307.19 130.92,306.99 130.99,306.87 131.07,306.83 131.14,306.84 131.21,306.89 131.28,306.97 131.36,307.08 131.43,307.22 131.5,307.38 131.57,307.57 131.65,307.78 131.72,308.01 131.79,308.26 131.86,308.53 131.94,308.82 132.01,309.12 132.08,309.43 132.15,309.76 132.22,310.1 132.3,310.45 132.37,310.8 132.44,311.17 132.51,311.53 132.59,311.9 132.66,312.27 132.73,312.64 132.8,313.01 132.88,313.38 132.95,313.74 133.02,314.1 133.09,314.44 133.17,314.78 133.24,315.11 133.31,315.43 133.38,315.73 133.46,316.02 133.53,316.29 133.6,316.54 133.67,316.77 133.75,316.98 133.82,317.17 133.89,317.33 133.96,317.46 134.03,317.57 134.11,317.65 134.18,317.7 134.25,317.72 134.32,317.71 134.4,317.68 134.47,317.63 134.54,317.56 134.61,317.48 134.69,317.38 134.76,317.27 134.83,317.14 134.9,317 134.98,316.85 135.05,316.68 135.12,316.51 135.19,316.32 135.27,316.13 135.34,315.93 135.41,315.72 135.48,315.5 135.56,315.28 135.63,315.06 135.7,314.83 135.77,314.6 135.84,314.36 135.92,314.13 135.99,313.89 136.06,313.66 136.13,313.43 136.21,313.2 136.28,312.98 136.35,312.76 136.42,312.54 136.5,312.33 136.57,312.13 136.64,311.94 136.71,311.75 136.79,311.58 136.86,311.41 136.93,311.26 137,311.12 137.08,310.99 137.15,310.87 137.22,310.78 137.29,310.69 137.37,310.63 137.44,310.58 137.51,310.55 137.58,310.54 137.65,310.54 137.73,310.55 137.8,310.56 137.87,310.58 137.94,310.6 138.02,310.63 138.09,310.66 138.16,310.7 138.23,310.74 138.31,310.78 138.38,310.83 138.45,310.88 138.52,310.94 138.6,310.99 138.67,311.06 138.74,311.12 138.81,311.19 138.89,311.26 138.96,311.34 139.03,311.42 139.1,311.5 139.18,311.58 139.25,311.66 139.32,311.75 139.39,311.84 139.46,311.93 139.54,312.02 139.61,312.12 139.68,312.22 139.75,312.31 139.83,312.41 139.9,312.51 139.97,312.62 140.04,312.72 140.12,312.82 140.19,312.93 140.26,313.03 140.33,313.13 140.41,313.24 140.48,313.35 140.55,313.46 140.62,313.6 140.7,313.76 140.77,313.93 140.84,314.12 140.91,314.33 140.99,314.55 141.06,314.79 141.13,315.03 141.2,315.29 141.27,315.55 141.35,315.82 141.42,316.1 141.49,316.37 141.56,316.65 141.64,316.93 141.71,317.21 141.78,317.49 141.85,317.77 141.93,318.03 142,318.3 142.07,318.55 142.14,318.79 142.22,319.03 142.29,319.25 142.36,319.45 142.43,319.65 142.51,319.82 142.58,319.98 142.65,320.11 142.72,320.23 142.8,320.32 142.87,320.38 142.94,320.43 143.01,320.44 143.08,320.39 143.16,320.26 143.23,320.05 143.3,319.77 143.37,319.42 143.45,319.01 143.52,318.55 143.59,318.04 143.66,317.49 143.74,316.9 143.81,316.3 143.88,315.67 143.95,315.02 144.03,314.38 144.1,313.73 144.17,313.09 144.24,312.46 144.32,311.85 144.39,311.27 144.46,310.72 144.53,310.21 144.61,309.74 144.68,309.33 144.75,308.98 144.82,308.7 144.89,308.49 144.97,308.36 145.04,308.31 145.11,308.39 145.18,308.62 145.26,308.98 145.33,309.46 145.4,310.05 145.47,310.72 145.55,311.46 145.62,312.25 145.69,313.09 145.76,313.94 145.84,314.81 145.91,315.67 145.98,316.5 146.05,317.3 146.13,318.04 146.2,318.7 146.27,319.29 146.34,319.77 146.42,320.13 146.49,320.36 146.56,320.44 146.63,320.38 146.7,320.2 146.78,319.91 146.85,319.52 146.92,319.05 146.99,318.51 147.07,317.9 147.14,317.23 147.21,316.52 147.28,315.79 147.36,315.02 147.43,314.25 147.5,313.48 147.57,312.72 147.65,311.98 147.72,311.27 147.79,310.61 147.86,310 147.94,309.45 148.01,308.98 148.08,308.6 148.15,308.31 148.23,308.13 148.3,308.06 148.37,308.11 148.44,308.24 148.51,308.45 148.59,308.73 148.66,309.07 148.73,309.48 148.8,309.94 148.88,310.45 148.95,311 149.02,311.58 149.09,312.19 149.17,312.82 149.24,313.47 149.31,314.13 149.38,314.79 149.46,315.45 149.53,316.1 149.6,316.73 149.67,317.34 149.75,317.92 149.82,318.47 149.89,318.98 149.96,319.44 150.04,319.84 150.11,320.19 150.18,320.47 150.25,320.68 150.32,320.81 150.4,320.85 150.47,320.81 150.54,320.69 150.61,320.49 150.69,320.23 150.76,319.91 150.83,319.52 150.9,319.09 150.98,318.61 151.05,318.09 151.12,317.54 151.19,316.96 151.27,316.35 151.34,315.73 151.41,315.1 151.48,314.46 151.56,313.82 151.63,313.19 151.7,312.57 151.77,311.96 151.85,311.38 151.92,310.83 151.99,310.31 152.06,309.83 152.13,309.39 152.21,309.01 152.28,308.69 152.35,308.42 152.42,308.23 152.5,308.11 152.57,308.06 152.64,308.09 152.71,308.16 152.79,308.26 152.86,308.37 152.93,308.5 153,308.62 153.08,308.71 153.15,308.78 153.22,308.81 153.29,308.78 153.37,308.72 153.44,308.64 153.51,308.53 153.58,308.42 153.66,308.32 153.73,308.23 153.8,308.17 153.87,308.15 153.94,308.18 154.02,308.27 154.09,308.42 154.16,308.62 154.23,308.87 154.31,309.17 154.38,309.51 154.45,309.88 154.52,310.29 154.6,310.72 154.67,311.18 154.74,311.67 154.81,312.17 154.89,312.68 154.96,313.21 155.03,313.74 155.1,314.27 155.18,314.8 155.25,315.33 155.32,315.84 155.39,316.34 155.47,316.83 155.54,317.29 155.61,317.72 155.68,318.13 155.75,318.5 155.83,318.84 155.9,319.14 155.97,319.39 156.04,319.59 156.12,319.74 156.19,319.83 156.26,319.86 156.33,319.84 156.41,319.79 156.48,319.71 156.55,319.59 156.62,319.45 156.7,319.28 156.77,319.08 156.84,318.86 156.91,318.62 156.99,318.35 157.06,318.07 157.13,317.78 157.2,317.47 157.28,317.14 157.35,316.81 157.42,316.46 157.49,316.11 157.56,315.76 157.64,315.4 157.71,315.04 157.78,314.67 157.85,314.31 157.93,313.96 158,313.61 158.07,313.26 158.14,312.93 158.22,312.61 158.29,312.29 158.36,312 158.43,311.72 158.51,311.46 158.58,311.21 158.65,310.99 158.72,310.8 158.8,310.62 158.87,310.48 158.94,310.36 159.01,310.28 159.09,310.23 159.16,310.21 159.23,310.23 159.3,310.27 159.37,310.35 159.45,310.46 159.52,310.59 159.59,310.74 159.66,310.92 159.74,311.12 159.81,311.34 159.88,311.57 159.95,311.81 160.03,312.07 160.1,312.34 160.17,312.62 160.24,312.91 160.32,313.19 160.39,313.49 160.46,313.78 160.53,314.07 160.61,314.36 160.68,314.65 160.75,314.93 160.82,315.19 160.9,315.45 160.97,315.7 161.04,315.93 161.11,316.15 161.18,316.35 161.26,316.52 161.33,316.68 161.4,316.81 161.47,316.92 161.55,316.99 161.62,317.04 161.69,317.06 161.76,317.03 161.84,316.96 161.91,316.85 161.98,316.7 162.05,316.51 162.13,316.3 162.2,316.06 162.27,315.79 162.34,315.51 162.42,315.21 162.49,314.89 162.56,314.58 162.63,314.25 162.71,313.93 162.78,313.61 162.85,313.3 162.92,313 162.99,312.71 163.07,312.45 163.14,312.21 163.21,311.99 163.28,311.8 163.36,311.65 163.43,311.54 163.5,311.47 163.57,311.45 163.65,311.46 163.72,311.5 163.79,311.56 163.86,311.64 163.94,311.74 164.01,311.86 164.08,312 164.15,312.15 164.23,312.32 164.3,312.5 164.37,312.69 164.44,312.89 164.52,313.09 164.59,313.3 164.66,313.52 164.73,313.74 164.8,313.96 164.88,314.19 164.95,314.41 165.02,314.62 165.09,314.84 165.17,315.04 165.24,315.24 165.31,315.43 165.38,315.61 165.46,315.78 165.53,315.93 165.6,316.07 165.67,316.19 165.75,316.29 165.82,316.37 165.89,316.43 165.96,316.47 166.04,316.48 166.11,316.47 166.18,316.44 166.25,316.39 166.33,316.32 166.4,316.23 166.47,316.13 166.54,316.02 166.61,315.9 166.69,315.77 166.76,315.64 166.83,315.49 166.9,315.35 166.98,315.2 167.05,315.05 167.12,314.91 167.19,314.77 167.27,314.63 167.34,314.5 167.41,314.38 167.48,314.27 167.56,314.17 167.63,314.09 167.7,314.02 167.77,313.97 167.85,313.93 167.92,313.92 167.99,313.93 168.06,313.96 168.14,314 168.21,314.05 168.28,314.12 168.35,314.2 168.42,314.29 168.5,314.38 168.57,314.48 168.64,314.59 168.71,314.69 168.79,314.8 168.86,314.91 168.93,315.01 169,315.11 169.08,315.21 169.15,315.29 169.22,315.37 169.29,315.44 169.37,315.5 169.44,315.54 169.51,315.56 169.58,315.57 169.66,315.56 169.73,315.53 169.8,315.48 169.87,315.41 169.95,315.33 170.02,315.24 170.09,315.13 170.16,315.02 170.23,314.89 170.31,314.77 170.38,314.63 170.45,314.5 170.52,314.37 170.6,314.23 170.67,314.11 170.74,313.98 170.81,313.87 170.89,313.76 170.96,313.67 171.03,313.59 171.1,313.52 171.18,313.47 171.25,313.44 171.32,313.43 171.39,313.44 171.47,313.47 171.54,313.53 171.61,313.6 171.68,313.69 171.76,313.8 171.83,313.92 171.9,314.06 171.97,314.21 172.04,314.37 172.12,314.54 172.19,314.72 172.26,314.9 172.33,315.09 172.41,315.28 172.48,315.48 172.55,315.67 172.62,315.86 172.7,316.06 172.77,316.24 172.84,316.43 172.91,316.61 172.99,316.77 173.06,316.93 173.13,317.08 173.2,317.22 173.28,317.34 173.35,317.45 173.42,317.54 173.49,317.62 173.57,317.67 173.64,317.71 173.71,317.72 173.78,317.7 173.85,317.65 173.93,317.57 174,317.46 174.07,317.33 174.14,317.17 174.22,316.98 174.29,316.77 174.36,316.55 174.43,316.3 174.51,316.04 174.58,315.76 174.65,315.46 174.72,315.16 174.8,314.85 174.87,314.52 174.94,314.19 175.01,313.86 175.09,313.52 175.16,313.18 175.23,312.84 175.3,312.5 175.38,312.17 175.45,311.84 175.52,311.51 175.59,311.2 175.66,310.9 175.74,310.6 175.81,310.32 175.88,310.06 175.95,309.81 176.03,309.59 176.1,309.38 176.17,309.19 176.24,309.03 176.32,308.9 176.39,308.79 176.46,308.71 176.53,308.66 176.61,308.64 176.68,308.7 176.75,308.86 176.82,309.13 176.9,309.48 176.97,309.91 177.04,310.42 177.11,310.98 177.19,311.6 177.26,312.27 177.33,312.97 177.4,313.7 177.47,314.45 177.55,315.2 177.62,315.96 177.69,316.7 177.76,317.43 177.84,318.13 177.91,318.8 177.98,319.42 178.05,319.99 178.13,320.49 178.2,320.92 178.27,321.28 178.34,321.54 178.42,321.7 178.49,321.76 178.56,321.72 178.63,321.58 178.71,321.37 178.78,321.09 178.85,320.74 178.92,320.32 179,319.85 179.07,319.33 179.14,318.77 179.21,318.16 179.28,317.53 179.36,316.86 179.43,316.18 179.5,315.48 179.57,314.77 179.65,314.06 179.72,313.35 179.79,312.66 179.86,311.97 179.94,311.31 180.01,310.67 180.08,310.07 180.15,309.5 180.23,308.98 180.3,308.51 180.37,308.1 180.44,307.75 180.52,307.46 180.59,307.25 180.66,307.12 180.73,307.07 180.81,307.17 180.88,307.44 180.95,307.87 181.02,308.45 181.09,309.14 181.17,309.94 181.24,310.82 181.31,311.76 181.38,312.76 181.46,313.78 181.53,314.81 181.6,315.83 181.67,316.82 181.75,317.77 181.82,318.65 181.89,319.45 181.96,320.14 182.04,320.71 182.11,321.14 182.18,321.42 182.25,321.51 182.33,321.42 182.4,321.14 182.47,320.71 182.54,320.14 182.62,319.45 182.69,318.66 182.76,317.79 182.83,316.87 182.9,315.9 182.98,314.91 183.05,313.93 183.12,312.96 183.19,312.03 183.27,311.16 183.34,310.38 183.41,309.69 183.48,309.11 183.56,308.68 183.63,308.41 183.7,308.31 183.77,308.37 183.85,308.54 183.92,308.81 183.99,309.17 184.06,309.6 184.14,310.11 184.21,310.67 184.28,311.28 184.35,311.93 184.43,312.6 184.5,313.29 184.57,313.98 184.64,314.67 184.71,315.34 184.79,315.99 184.86,316.6 184.93,317.16 185,317.66 185.08,318.1 185.15,318.46 185.22,318.73 185.29,318.9 185.37,318.95 185.44,318.94 185.51,318.9 185.58,318.84 185.66,318.75 185.73,318.64 185.8,318.51 185.87,318.36 185.95,318.2 186.02,318.02 186.09,317.82 186.16,317.62 186.24,317.4 186.31,317.17 186.38,316.94 186.45,316.69 186.52,316.45 186.6,316.2 186.67,315.95 186.74,315.69 186.81,315.44 186.89,315.19 186.96,314.95 187.03,314.71 187.1,314.48 187.18,314.26 187.25,314.05 187.32,313.85 187.39,313.66 187.47,313.49 187.54,313.33 187.61,313.19 187.68,313.07 187.76,312.98 187.83,312.9 187.9,312.85 187.97,312.81 188.05,312.77 188.12,312.74 188.19,312.7 188.26,312.67 188.33,312.63 188.41,312.6 188.48,312.57 188.55,312.53 188.62,312.5 188.7,312.47 188.77,312.44 188.84,312.42 188.91,312.39 188.99,312.36 189.06,312.34 189.13,312.31 189.2,312.29 189.28,312.27 189.35,312.25 189.42,312.23 189.49,312.21 189.57,312.2 189.64,312.18 189.71,312.17 189.78,312.16 189.86,312.14 189.93,312.13 190,312.13 190.07,312.12 190.14,312.11 190.22,312.11 190.29,312.11 190.36,312.11 190.43,312.11 190.51,312.12 190.58,312.14 190.65,312.16 190.72,312.19 190.8,312.22 190.87,312.26 190.94,312.31 191.01,312.36 191.09,312.41 191.16,312.47 191.23,312.53 191.3,312.6 191.38,312.67 191.45,312.74 191.52,312.82 191.59,312.89 191.67,312.97 191.74,313.06 191.81,313.14 191.88,313.23 191.95,313.32 192.03,313.4 192.1,313.49 192.17,313.58 192.24,313.68 192.32,313.77 192.39,313.86 192.46,313.95 192.53,314.03 192.61,314.12 192.68,314.21 192.75,314.29 192.82,314.38 192.9,314.46 192.97,314.53 193.04,314.61 193.11,314.68 193.19,314.75 193.26,314.82 193.33,314.88 193.4,314.94 193.48,314.99 193.55,315.04 193.62,315.09 193.69,315.13 193.76,315.16 193.84,315.19 193.91,315.21 193.98,315.23 194.05,315.24 194.13,315.24 194.2,315.23 194.27,315.21 194.34,315.18 194.42,315.13 194.49,315.07 194.56,315.01 194.63,314.94 194.71,314.86 194.78,314.79 194.85,314.71 194.92,314.64 195,314.57 195.07,314.51 195.14,314.45 195.21,314.4 195.29,314.37 195.36,314.34 195.43,314.33 195.5,314.35 195.57,314.38 195.65,314.44 195.72,314.51 195.79,314.59 195.86,314.69 195.94,314.79 196.01,314.9 196.08,315.01 196.15,315.12 196.23,315.22 196.3,315.31 196.37,315.4 196.44,315.47 196.52,315.53 196.59,315.56 196.66,315.57 196.73,315.56 196.81,315.53 196.88,315.49 196.95,315.42 197.02,315.34 197.1,315.25 197.17,315.15 197.24,315.03 197.31,314.91 197.38,314.78 197.46,314.64 197.53,314.5 197.6,314.35 197.67,314.2 197.75,314.05 197.82,313.91 197.89,313.76 197.96,313.62 198.04,313.48 198.11,313.35 198.18,313.22 198.25,313.11 198.33,313 198.4,312.91 198.47,312.83 198.54,312.77 198.62,312.72 198.69,312.7 198.76,312.69 198.83,312.7 198.91,312.75 198.98,312.83 199.05,312.94 199.12,313.08 199.19,313.24 199.27,313.42 199.34,313.63 199.41,313.85 199.48,314.08 199.56,314.33 199.63,314.58 199.7,314.85 199.77,315.12 199.85,315.39 199.92,315.67 199.99,315.94 200.06,316.21 200.14,316.48 200.21,316.74 200.28,316.98 200.35,317.22 200.43,317.44 200.5,317.64 200.57,317.82 200.64,317.98 200.72,318.12 200.79,318.23 200.86,318.31 200.93,318.36 201,318.38 201.08,318.35 201.15,318.27 201.22,318.14 201.29,317.97 201.37,317.75 201.44,317.5 201.51,317.21 201.58,316.89 201.66,316.54 201.73,316.16 201.8,315.77 201.87,315.35 201.95,314.92 202.02,314.48 202.09,314.03 202.16,313.57 202.24,313.12 202.31,312.66 202.38,312.21 202.45,311.77 202.53,311.34 202.6,310.92 202.67,310.53 202.74,310.15 202.81,309.8 202.89,309.48 202.96,309.19 203.03,308.94 203.1,308.72 203.18,308.55 203.25,308.42 203.32,308.34 203.39,308.31 203.47,308.37 203.54,308.53 203.61,308.79 203.68,309.13 203.76,309.56 203.83,310.05 203.9,310.6 203.97,311.2 204.05,311.85 204.12,312.52 204.19,313.22 204.26,313.94 204.34,314.65 204.41,315.37 204.48,316.06 204.55,316.74 204.62,317.38 204.7,317.99 204.77,318.54 204.84,319.03 204.91,319.45 204.99,319.8 205.06,320.06 205.13,320.22 205.2,320.27 205.28,320.21 205.35,320.01 205.42,319.7 205.49,319.28 205.57,318.78 205.64,318.2 205.71,317.55 205.78,316.85 205.86,316.12 205.93,315.36 206,314.58 206.07,313.81 206.15,313.05 206.22,312.31 206.29,311.61 206.36,310.97 206.43,310.39 206.51,309.88 206.58,309.47 206.65,309.16 206.72,308.96 206.8,308.89 206.87,308.95 206.94,309.12 207.01,309.39 207.09,309.75 207.16,310.19 207.23,310.7 207.3,311.27 207.38,311.88 207.45,312.53 207.52,313.21 207.59,313.9 207.67,314.6 207.74,315.3 207.81,315.97 207.88,316.63 207.96,317.24 208.03,317.81 208.1,318.31 208.17,318.75 208.24,319.12 208.32,319.39 208.39,319.56 208.46,319.62 208.53,319.58 208.61,319.47 208.68,319.29 208.75,319.05 208.82,318.76 208.9,318.42 208.97,318.04 209.04,317.62 209.11,317.17 209.19,316.7 209.26,316.21 209.33,315.71 209.4,315.2 209.48,314.69 209.55,314.19 209.62,313.7 209.69,313.23 209.77,312.78 209.84,312.36 209.91,311.98 209.98,311.64 210.05,311.35 210.13,311.11 210.2,310.94 210.27,310.83 210.34,310.79 210.42,310.83 210.49,310.96 210.56,311.17 210.63,311.45 210.71,311.79 210.78,312.17 210.85,312.6 210.92,313.07 211,313.56 211.07,314.07 211.14,314.58 211.21,315.1 211.29,315.61 211.36,316.1 211.43,316.56 211.5,316.99 211.58,317.38 211.65,317.72 211.72,317.99 211.79,318.2 211.86,318.33 211.94,318.38 212.01,318.34 212.08,318.22 212.15,318.03 212.23,317.78 212.3,317.48 212.37,317.13 212.44,316.75 212.52,316.34 212.59,315.91 212.66,315.47 212.73,315.02 212.81,314.58 212.88,314.14 212.95,313.73 213.02,313.35 213.1,313 213.17,312.7 213.24,312.45 213.31,312.27 213.39,312.15 213.46,312.11 213.53,312.12 213.6,312.17 213.67,312.24 213.75,312.34 213.82,312.47 213.89,312.61 213.96,312.77 214.04,312.95 214.11,313.13 214.18,313.33 214.25,313.54 214.33,313.75 214.4,313.96 214.47,314.18 214.54,314.39 214.62,314.59 214.69,314.79 214.76,314.98 214.83,315.16 214.91,315.32 214.98,315.46 215.05,315.58 215.12,315.68 215.2,315.76 215.27,315.8 215.34,315.82 215.41,315.81 215.48,315.79 215.56,315.76 215.63,315.72 215.7,315.67 215.77,315.61 215.85,315.54 215.92,315.47 215.99,315.4 216.06,315.32 216.14,315.24 216.21,315.16 216.28,315.09 216.35,315.01 216.43,314.94 216.5,314.88 216.57,314.82 216.64,314.77 216.72,314.72 216.79,314.69 216.86,314.67 216.93,314.67 217.01,314.67 217.08,314.68 217.15,314.71 217.22,314.74 217.29,314.77 217.37,314.81 217.44,314.86 217.51,314.91 217.58,314.95 217.66,315 217.73,315.05 217.8,315.09 217.87,315.13 217.95,315.17 218.02,315.2 218.09,315.22 218.16,315.24 218.24,315.24 218.31,315.23 218.38,315.2 218.45,315.14 218.53,315.07 218.6,314.98 218.67,314.89 218.74,314.78 218.82,314.66 218.89,314.54 218.96,314.42 219.03,314.29 219.1,314.17 219.18,314.06 219.25,313.95 219.32,313.85 219.39,313.76 219.47,313.69 219.54,313.64 219.61,313.6 219.68,313.59 219.76,313.6 219.83,313.63 219.9,313.68 219.97,313.74 220.05,313.82 220.12,313.91 220.19,314.02 220.26,314.13 220.34,314.26 220.41,314.4 220.48,314.54 220.55,314.69 220.63,314.84 220.7,315 220.77,315.16 220.84,315.32 220.91,315.49 220.99,315.65 221.06,315.81 221.13,315.96 221.2,316.11 221.28,316.25 221.35,316.39 221.42,316.52 221.49,316.63 221.57,316.74 221.64,316.83 221.71,316.91 221.78,316.97 221.86,317.02 221.93,317.05 222,317.06 222.07,317.03 222.15,316.95 222.22,316.82 222.29,316.64 222.36,316.43 222.44,316.18 222.51,315.9 222.58,315.6 222.65,315.28 222.72,314.95 222.8,314.6 222.87,314.25 222.94,313.9 223.01,313.56 223.09,313.22 223.16,312.9 223.23,312.6 223.3,312.32 223.38,312.08 223.45,311.86 223.52,311.69 223.59,311.56 223.67,311.48 223.74,311.45 223.81,311.49 223.88,311.59 223.96,311.77 224.03,311.99 224.1,312.27 224.17,312.59 224.25,312.95 224.32,313.33 224.39,313.74 224.46,314.16 224.53,314.58 224.61,315.01 224.68,315.43 224.75,315.83 224.82,316.22 224.9,316.57 224.97,316.89 225.04,317.17 225.11,317.4 225.19,317.57 225.26,317.68 225.33,317.72 225.4,317.69 225.48,317.59 225.55,317.44 225.62,317.24 225.69,316.99 225.77,316.7 225.84,316.38 225.91,316.02 225.98,315.64 226.06,315.24 226.13,314.82 226.2,314.4 226.27,313.96 226.34,313.53 226.42,313.1 226.49,312.69 226.56,312.29 226.63,311.9 226.71,311.55 226.78,311.22 226.85,310.94 226.92,310.69 227,310.49 227.07,310.34 227.14,310.24 227.21,310.21 227.29,310.24 227.36,310.33 227.43,310.47 227.5,310.67 227.58,310.91 227.65,311.2 227.72,311.52 227.79,311.87 227.87,312.26 227.94,312.68 228.01,313.11 228.08,313.57 228.15,314.04 228.23,314.51 228.3,315 228.37,315.49 228.44,315.97 228.52,316.45 228.59,316.92 228.66,317.37 228.73,317.81 228.81,318.22 228.88,318.61 228.95,318.97 229.02,319.29 229.1,319.57 229.17,319.82 229.24,320.01 229.31,320.15 229.39,320.24 229.46,320.27 229.53,320.22 229.6,320.06 229.68,319.81 229.75,319.48 229.82,319.07 229.89,318.6 229.96,318.07 230.04,317.49 230.11,316.88 230.18,316.24 230.25,315.58 230.33,314.91 230.4,314.24 230.47,313.58 230.54,312.94 230.62,312.33 230.69,311.75 230.76,311.23 230.83,310.75 230.91,310.34 230.98,310.01 231.05,309.76 231.12,309.6 231.2,309.55 231.27,309.62 231.34,309.81 231.41,310.12 231.49,310.53 231.56,311.02 231.63,311.58 231.7,312.2 231.77,312.86 231.85,313.55 231.92,314.25 231.99,314.96 232.06,315.64 232.14,316.31 232.21,316.92 232.28,317.49 232.35,317.98 232.43,318.38 232.5,318.69 232.57,318.89 232.64,318.95 232.72,318.91 232.79,318.77 232.86,318.55 232.93,318.26 233.01,317.9 233.08,317.49 233.15,317.02 233.22,316.52 233.3,315.98 233.37,315.42 233.44,314.84 233.51,314.25 233.58,313.67 233.66,313.09 233.73,312.53 233.8,311.99 233.87,311.48 233.95,311.02 234.02,310.6 234.09,310.25 234.16,309.95 234.24,309.74 234.31,309.6 234.38,309.55 234.45,309.61 234.53,309.78 234.6,310.04 234.67,310.4 234.74,310.83 234.82,311.33 234.89,311.88 234.96,312.48 235.03,313.1 235.11,313.76 235.18,314.42 235.25,315.08 235.32,315.73 235.39,316.36 235.47,316.96 235.54,317.51 235.61,318.01 235.68,318.44 235.76,318.79 235.83,319.06 235.9,319.23 235.97,319.29 236.05,319.23 236.12,319.09 236.19,318.85 236.26,318.53 236.34,318.14 236.41,317.69 236.48,317.19 236.55,316.63 236.63,316.04 236.7,315.42 236.77,314.78 236.84,314.13 236.92,313.47 236.99,312.82 237.06,312.17 237.13,311.55 237.2,310.96 237.28,310.41 237.35,309.91 237.42,309.45 237.49,309.07 237.57,308.75 237.64,308.51 237.71,308.36 237.78,308.31 237.86,308.32 237.93,308.35 238,308.39 238.07,308.45 238.15,308.53 238.22,308.62 238.29,308.72 238.36,308.84 238.44,308.98 238.51,309.13 238.58,309.28 238.65,309.46 238.73,309.64 238.8,309.84 238.87,310.04 238.94,310.26 239.01,310.48 239.09,310.71 239.16,310.96 239.23,311.21 239.3,311.46 239.38,311.73 239.45,312 239.52,312.27 239.59,312.56 239.67,312.84 239.74,313.13 239.81,313.42 239.88,313.72 239.96,314.02 240.03,314.32 240.1,314.62 240.17,314.93 240.25,315.23 240.32,315.54 240.39,315.84 240.46,316.14 240.54,316.44 240.61,316.74 240.68,317.03 240.75,317.32 240.82,317.61 240.9,317.9 240.97,318.17 241.04,318.45 241.11,318.71 241.19,318.97 241.26,319.23 241.33,319.47 241.4,319.71 241.48,319.94 241.55,320.16 241.62,320.37 241.69,320.57 241.77,320.75 241.84,320.93 241.91,321.09 241.98,321.25 242.06,321.39 242.13,321.51 242.2,321.63 242.27,321.75 242.35,321.87 242.42,321.99 242.49,322.11 242.56,322.23 242.63,322.34 242.71,322.46 242.78,322.58 242.85,322.7 242.92,322.81 243,322.93 243.07,323.05 243.14,323.16 243.21,323.28 243.29,323.39 243.36,323.5 243.43,323.62 243.5,323.73 243.58,323.84 243.65,323.95 243.72,324.06 243.79,324.16 243.87,324.27 243.94,324.38 244.01,324.48 244.08,324.58 244.16,324.69 244.23,324.79 244.3,324.89 244.37,324.98 244.44,325.08 244.52,325.17 244.59,325.27 244.66,325.36 244.73,325.45 244.81,325.54 244.88,325.62 244.95,325.71 245.02,325.79 245.1,325.87 245.17,325.95 245.24,326.02 245.31,326.1 245.39,326.17 245.46,326.24 245.53,326.31 245.6,326.37 245.68,326.44 245.75,326.5 245.82,326.55 245.89,326.61 245.97,326.66 246.04,326.71 246.11,326.76 246.18,326.81 246.25,326.85 246.33,326.89 246.4,326.92 246.47,326.96 246.54,326.99 246.62,327.02 246.69,327.04 246.76,327.06 246.83,327.08 246.91,327.1 246.98,327.11 247.05,327.12 247.12,327.12 247.2,327.12 247.27,327.12 247.34,327.11 247.41,327.09 247.49,327.07 247.56,327.03 247.63,327 247.7,326.95 247.78,326.9 247.85,326.85 247.92,326.79 247.99,326.72 248.06,326.65 248.14,326.57 248.21,326.49 248.28,326.41 248.35,326.32 248.43,326.23 248.5,326.13 248.57,326.03 248.64,325.92 248.72,325.82 248.79,325.71 248.86,325.59 248.93,325.48 249.01,325.36 249.08,325.24 249.15,325.12 249.22,325 249.3,324.87 249.37,324.75 249.44,324.62 249.51,324.49 249.59,324.36 249.66,324.23 249.73,324.1 249.8,323.98 249.87,323.85 249.95,323.72 250.02,323.59 250.09,323.46 250.16,323.34 250.24,323.21 250.31,323.09 250.38,322.97 250.45,322.85 250.53,322.73 250.6,322.62 250.67,322.51 250.74,322.4 250.82,322.29 250.89,322.19 250.96,322.09 251.03,321.99 251.11,321.9 251.18,321.81 251.25,321.72 251.32,321.64 251.4,321.55 251.47,321.47 251.54,321.39 251.61,321.31 251.68,321.23 251.76,321.16 251.83,321.08 251.9,321.01 251.97,320.94 252.05,320.86 252.12,320.79 252.19,320.72 252.26,320.65 252.34,320.57 252.41,320.5 252.48,320.43 252.55,320.35 252.63,320.28 252.7,320.2 252.77,320.12 252.84,320.04 252.92,319.96 252.99,319.88 253.06,319.8 253.13,319.71 253.21,319.62 253.28,319.53 253.35,319.43 253.42,319.34 253.49,319.24 253.57,319.13 253.64,319.02 253.71,318.91 253.78,318.8 253.86,318.68 253.93,318.56 254,318.43 254.07,318.3 254.15,318.16 254.22,318.02 254.29,317.87 254.36,317.72 254.44,317.56 254.51,317.4 254.58,317.23 254.65,317.06 254.73,316.85 254.8,316.58 254.87,316.26 254.94,315.88 255.02,315.46 255.09,315 255.16,314.5 255.23,313.97 255.3,313.41 255.38,312.82 255.45,312.21 255.52,311.59 255.59,310.96 255.67,310.32 255.74,309.67 255.81,309.03 255.88,308.39 255.96,307.76 256.03,307.15 256.1,306.55 256.17,305.98 256.25,305.44 256.32,304.93 256.39,304.45 256.46,304.01 256.54,303.62 256.61,303.28 256.68,302.97 256.75,302.65 256.83,302.35 256.9,302.04 256.97,301.74 257.04,301.45 257.11,301.16 257.19,300.88 257.26,300.61 257.33,300.34 257.4,300.08 257.48,299.83 257.55,299.59 257.62,299.35 257.69,299.13 257.77,298.91 257.84,298.71 257.91,298.51 257.98,298.33 258.06,298.16 258.13,298 258.2,297.86 258.27,297.73 258.35,297.61 258.42,297.5 258.49,297.42 258.56,297.34 258.64,297.28 258.71,297.24 258.78,297.21"/>
<rect class="sp" x="34.4" y="292.4" width="235.2" height="43.9"/>
<path class="tk" d="M45.2 336.3v2.3M81.4 336.3v2.3M117.6 336.3v2.3M153.8 336.3v2.3M190 336.3v2.3M226.2 336.3v2.3M262.4 336.3v2.3M34.4 298.2h-2.3M34.4 314.6h-2.3M34.4 331.2h-2.3"/>
<text class="t" x="45.55" y="345.64" text-anchor="middle">0</text>
<text class="t" x="81.75" y="345.64" text-anchor="middle">500</text>
<text class="t" x="117.95" y="345.64" text-anchor="middle">1000</text>
<text class="t" x="154.15" y="345.64" text-anchor="middle">1500</text>
<text class="t" x="190.35" y="345.64" text-anchor="middle">2000</text>
<text class="t" x="226.55" y="345.64" text-anchor="middle">2500</text>
<text class="t" x="262.75" y="345.64" text-anchor="middle">3000</text>
<text class="t" x="30.1" y="300.57" text-anchor="end">20</text>
<text class="t" x="30.1" y="316.97" text-anchor="end">0</text>
<text class="t" x="30.1" y="333.57" text-anchor="end">−20</text>
<text class="t" text-anchor="middle" transform="translate(12.1 314.35) rotate(-90)">IMF 5</text>
</g>
<g>
<clipPath id="c5"><rect x="310.6" y="13.5" width="235.35" height="43.9"/></clipPath>
<polyline class="ln" clip-path="url(#c5)" points="321.3,15.93 321.37,15.93 321.44,15.95 321.52,15.98 321.59,16.01 321.66,16.06 321.73,16.11 321.81,16.18 321.88,16.25 321.95,16.33 322.02,16.42 322.1,16.51 322.17,16.62 322.24,16.73 322.31,16.84 322.39,16.96 322.46,17.09 322.53,17.22 322.6,17.35 322.68,17.5 322.75,17.7 322.82,17.97 322.89,18.31 322.97,18.71 323.04,19.16 323.11,19.67 323.18,20.22 323.25,20.81 323.33,21.43 323.4,22.08 323.47,22.76 323.54,23.45 323.62,24.15 323.69,24.86 323.76,25.57 323.83,26.28 323.91,26.98 323.98,27.66 324.05,28.32 324.12,28.96 324.2,29.56 324.27,30.17 324.34,30.81 324.41,31.46 324.49,32.13 324.56,32.81 324.63,33.5 324.7,34.19 324.78,34.89 324.85,35.58 324.92,36.27 324.99,36.96 325.06,37.63 325.14,38.28 325.21,38.92 325.28,39.54 325.35,40.13 325.43,40.69 325.5,41.22 325.57,41.71 325.64,42.17 325.72,42.58 325.79,42.98 325.86,43.38 325.93,43.79 326.01,44.2 326.08,44.6 326.15,45 326.22,45.39 326.3,45.77 326.37,46.13 326.44,46.49 326.51,46.82 326.59,47.14 326.66,47.43 326.73,47.7 326.8,47.94 326.87,48.15 326.95,48.32 327.02,48.46 327.09,48.57 327.16,48.63 327.24,48.66 327.31,48.64 327.38,48.57 327.45,48.47 327.53,48.33 327.6,48.15 327.67,47.95 327.74,47.71 327.82,47.44 327.89,47.15 327.96,46.84 328.03,46.51 328.11,46.16 328.18,45.79 328.25,45.41 328.32,45.02 328.4,44.62 328.47,44.22 328.54,43.81 328.61,43.41 328.68,43 328.76,42.6 328.83,42.2 328.9,41.82 328.97,41.44 329.05,41.08 329.12,40.73 329.19,40.41 329.26,40.09 329.34,39.76 329.41,39.42 329.48,39.08 329.55,38.73 329.63,38.37 329.7,38 329.77,37.64 329.84,37.27 329.92,36.9 329.99,36.53 330.06,36.16 330.13,35.8 330.21,35.44 330.28,35.08 330.35,34.74 330.42,34.39 330.49,34.06 330.57,33.74 330.64,33.43 330.71,33.13 330.78,32.85 330.86,32.58 330.93,32.33 331,32.1 331.07,31.88 331.15,31.69 331.22,31.5 331.29,31.32 331.36,31.14 331.44,30.97 331.51,30.79 331.58,30.61 331.65,30.44 331.73,30.26 331.8,30.09 331.87,29.93 331.94,29.76 332.02,29.6 332.09,29.45 332.16,29.3 332.23,29.15 332.3,29.01 332.38,28.88 332.45,28.76 332.52,28.64 332.59,28.53 332.67,28.42 332.74,28.33 332.81,28.24 332.88,28.17 332.96,28.1 333.03,28.04 333.1,28 333.17,27.96 333.25,27.94 333.32,27.93 333.39,27.93 333.46,27.94 333.54,27.95 333.61,27.97 333.68,27.99 333.75,28.02 333.83,28.05 333.9,28.09 333.97,28.14 334.04,28.18 334.11,28.24 334.19,28.29 334.26,28.35 334.33,28.41 334.4,28.48 334.48,28.55 334.55,28.62 334.62,28.7 334.69,28.77 334.77,28.85 334.84,28.94 334.91,29.02 334.98,29.1 335.06,29.19 335.13,29.28 335.2,29.37 335.27,29.45 335.35,29.54 335.42,29.63 335.49,29.72 335.56,29.81 335.64,29.9 335.71,29.99 335.78,30.08 335.85,30.17 335.92,30.25 336,30.34 336.07,30.42 336.14,30.5 336.21,30.58 336.29,30.66 336.36,30.74 336.43,30.83 336.5,30.92 336.58,31.01 336.65,31.1 336.72,31.19 336.79,31.29 336.87,31.38 336.94,31.48 337.01,31.58 337.08,31.68 337.16,31.78 337.23,31.88 337.3,31.99 337.37,32.09 337.45,32.2 337.52,32.3 337.59,32.41 337.66,32.51 337.73,32.62 337.81,32.72 337.88,32.83 337.95,32.94 338.02,33.04 338.1,33.15 338.17,33.25 338.24,33.36 338.31,33.46 338.39,33.56 338.46,33.66 338.53,33.77 338.6,33.86 338.68,33.96 338.75,34.06 338.82,34.16 338.89,34.25 338.97,34.34 339.04,34.43 339.11,34.52 339.18,34.61 339.26,34.69 339.33,34.77 339.4,34.85 339.47,34.93 339.54,35 339.62,35.08 339.69,35.16 339.76,35.24 339.83,35.33 339.91,35.41 339.98,35.49 340.05,35.58 340.12,35.66 340.2,35.75 340.27,35.83 340.34,35.92 340.41,36 340.49,36.08 340.56,36.17 340.63,36.25 340.7,36.33 340.78,36.42 340.85,36.5 340.92,36.58 340.99,36.65 341.07,36.73 341.14,36.8 341.21,36.88 341.28,36.95 341.35,37.02 341.43,37.09 341.5,37.15 341.57,37.21 341.64,37.27 341.72,37.33 341.79,37.38 341.86,37.43 341.93,37.48 342.01,37.52 342.08,37.56 342.15,37.6 342.22,37.63 342.3,37.66 342.37,37.69 342.44,37.71 342.51,37.73 342.59,37.74 342.66,37.74 342.73,37.75 342.8,37.74 342.88,37.73 342.95,37.7 343.02,37.67 343.09,37.62 343.16,37.57 343.24,37.51 343.31,37.44 343.38,37.37 343.45,37.29 343.53,37.2 343.6,37.1 343.67,37 343.74,36.89 343.82,36.78 343.89,36.66 343.96,36.54 344.03,36.41 344.11,36.28 344.18,36.15 344.25,36.01 344.32,35.87 344.4,35.73 344.47,35.59 344.54,35.44 344.61,35.29 344.69,35.15 344.76,35 344.83,34.85 344.9,34.7 344.97,34.55 345.05,34.41 345.12,34.26 345.19,34.12 345.26,33.98 345.34,33.84 345.41,33.7 345.48,33.55 345.55,33.39 345.63,33.22 345.7,33.04 345.77,32.86 345.84,32.67 345.92,32.47 345.99,32.27 346.06,32.07 346.13,31.86 346.21,31.65 346.28,31.44 346.35,31.23 346.42,31.01 346.5,30.8 346.57,30.59 346.64,30.39 346.71,30.18 346.78,29.98 346.86,29.79 346.93,29.6 347,29.42 347.07,29.24 347.15,29.08 347.22,28.92 347.29,28.77 347.36,28.64 347.44,28.51 347.51,28.4 347.58,28.29 347.65,28.19 347.73,28.08 347.8,27.98 347.87,27.88 347.94,27.77 348.02,27.67 348.09,27.57 348.16,27.47 348.23,27.37 348.31,27.27 348.38,27.18 348.45,27.09 348.52,27 348.59,26.91 348.67,26.83 348.74,26.75 348.81,26.68 348.88,26.61 348.96,26.54 349.03,26.48 349.1,26.42 349.17,26.37 349.25,26.33 349.32,26.29 349.39,26.25 349.46,26.23 349.54,26.2 349.61,26.19 349.68,26.18 349.75,26.18 349.83,26.2 349.9,26.22 349.97,26.26 350.04,26.31 350.12,26.36 350.19,26.43 350.26,26.51 350.33,26.59 350.4,26.69 350.48,26.79 350.55,26.89 350.62,27.01 350.69,27.13 350.77,27.25 350.84,27.38 350.91,27.52 350.98,27.65 351.06,27.79 351.13,27.94 351.2,28.08 351.27,28.23 351.35,28.37 351.42,28.52 351.49,28.67 351.56,28.81 351.64,28.96 351.71,29.1 351.78,29.24 351.85,29.38 351.93,29.51 352,29.65 352.07,29.8 352.14,29.96 352.21,30.12 352.29,30.28 352.36,30.45 352.43,30.63 352.5,30.81 352.58,30.99 352.65,31.18 352.72,31.37 352.79,31.57 352.87,31.76 352.94,31.96 353.01,32.16 353.08,32.36 353.16,32.57 353.23,32.77 353.3,32.97 353.37,33.18 353.45,33.38 353.52,33.58 353.59,33.78 353.66,33.98 353.74,34.18 353.81,34.37 353.88,34.56 353.95,34.75 354.02,34.93 354.1,35.11 354.17,35.29 354.24,35.45 354.31,35.62 354.39,35.78 354.46,35.93 354.53,36.08 354.6,36.21 354.68,36.35 354.75,36.47 354.82,36.59 354.89,36.7 354.97,36.81 355.04,36.92 355.11,37.03 355.18,37.13 355.26,37.23 355.33,37.32 355.4,37.42 355.47,37.51 355.55,37.6 355.62,37.69 355.69,37.78 355.76,37.86 355.83,37.95 355.91,38.04 355.98,38.12 356.05,38.2 356.12,38.29 356.2,38.37 356.27,38.46 356.34,38.55 356.41,38.63 356.49,38.72 356.56,38.81 356.63,38.9 356.7,38.99 356.78,39.09 356.85,39.19 356.92,39.29 356.99,39.39 357.07,39.49 357.14,39.59 357.21,39.68 357.28,39.78 357.36,39.88 357.43,39.98 357.5,40.08 357.57,40.18 357.64,40.28 357.72,40.38 357.79,40.48 357.86,40.58 357.93,40.68 358.01,40.78 358.08,40.89 358.15,40.99 358.22,41.1 358.3,41.21 358.37,41.32 358.44,41.43 358.51,41.55 358.59,41.66 358.66,41.78 358.73,41.9 358.8,42.03 358.88,42.15 358.95,42.28 359.02,42.41 359.09,42.54 359.17,42.68 359.24,42.83 359.31,42.97 359.38,43.13 359.45,43.28 359.53,43.44 359.6,43.61 359.67,43.78 359.74,43.95 359.82,44.12 359.89,44.3 359.96,44.48 360.03,44.66 360.11,44.85 360.18,45.04 360.25,45.23 360.32,45.42 360.4,45.61 360.47,45.81 360.54,46 360.61,46.2 360.69,46.4 360.76,46.59 360.83,46.79 360.9,46.99 360.98,47.19 361.05,47.38 361.12,47.58 361.19,47.78 361.26,47.97 361.34,48.17 361.41,48.37 361.48,48.58 361.55,48.8 361.63,49.02 361.7,49.25 361.77,49.48 361.84,49.71 361.92,49.94 361.99,50.17 362.06,50.4 362.13,50.63 362.21,50.86 362.28,51.09 362.35,51.31 362.42,51.53 362.5,51.74 362.57,51.94 362.64,52.14 362.71,52.33 362.79,52.51 362.86,52.68 362.93,52.84 363,52.98 363.07,53.12 363.15,53.26 363.22,53.4 363.29,53.55 363.36,53.69 363.44,53.83 363.51,53.97 363.58,54.11 363.65,54.24 363.73,54.37 363.8,54.5 363.87,54.61 363.94,54.72 364.02,54.82 364.09,54.91 364.16,54.99 364.23,55.06 364.31,55.12 364.38,55.16 364.45,55.19 364.52,55.2 364.6,55.2 364.67,55.17 364.74,55.13 364.81,55.06 364.88,54.98 364.96,54.88 365.03,54.76 365.1,54.63 365.17,54.48 365.25,54.32 365.32,54.15 365.39,53.97 365.46,53.78 365.54,53.58 365.61,53.37 365.68,53.16 365.75,52.94 365.83,52.72 365.9,52.5 365.97,52.27 366.04,52.05 366.12,51.82 366.19,51.6 366.26,51.38 366.33,51.16 366.41,50.92 366.48,50.66 366.55,50.38 366.62,50.08 366.69,49.77 366.77,49.44 366.84,49.1 366.91,48.76 366.98,48.41 367.06,48.06 367.13,47.7 367.2,47.35 367.27,47 367.35,46.66 367.42,46.33 367.49,46 367.56,45.69 367.64,45.4 367.71,45.12 367.78,44.87 367.85,44.63 367.93,44.41 368,44.19 368.07,43.97 368.14,43.76 368.22,43.56 368.29,43.36 368.36,43.17 368.43,42.98 368.5,42.8 368.58,42.61 368.65,42.44 368.72,42.26 368.79,42.09 368.87,41.92 368.94,41.75 369.01,41.58 369.08,41.42 369.16,41.25 369.23,41.09 369.3,40.92 369.37,40.76 369.45,40.6 369.52,40.43 369.59,40.26 369.66,40.1 369.74,39.93 369.81,39.75 369.88,39.58 369.95,39.4 370.03,39.22 370.1,39.04 370.17,38.87 370.24,38.7 370.31,38.53 370.39,38.37 370.46,38.2 370.53,38.04 370.6,37.88 370.68,37.72 370.75,37.56 370.82,37.4 370.89,37.24 370.97,37.08 371.04,36.91 371.11,36.75 371.18,36.58 371.26,36.41 371.33,36.24 371.4,36.07 371.47,35.89 371.55,35.7 371.62,35.51 371.69,35.32 371.76,35.12 371.84,34.91 371.91,34.7 371.98,34.48 372.05,34.26 372.12,34.02 372.2,33.78 372.27,33.53 372.34,33.25 372.41,32.96 372.49,32.65 372.56,32.33 372.63,31.99 372.7,31.65 372.78,31.29 372.85,30.92 372.92,30.55 372.99,30.16 373.07,29.77 373.14,29.38 373.21,28.98 373.28,28.58 373.36,28.18 373.43,27.78 373.5,27.38 373.57,26.98 373.65,26.59 373.72,26.2 373.79,25.82 373.86,25.44 373.93,25.08 374.01,24.71 374.08,24.32 374.15,23.92 374.22,23.51 374.3,23.09 374.37,22.67 374.44,22.25 374.51,21.82 374.59,21.4 374.66,20.98 374.73,20.58 374.8,20.18 374.88,19.79 374.95,19.42 375.02,19.07 375.09,18.73 375.17,18.42 375.24,18.14 375.31,17.88 375.38,17.66 375.46,17.46 375.53,17.29 375.6,17.12 375.67,16.95 375.74,16.78 375.82,16.62 375.89,16.46 375.96,16.31 376.03,16.16 376.11,16.01 376.18,15.88 376.25,15.75 376.32,15.63 376.4,15.52 376.47,15.42 376.54,15.33 376.61,15.25 376.69,15.18 376.76,15.13 376.83,15.09 376.9,15.07 376.98,15.05 377.05,15.06 377.12,15.09 377.19,15.13 377.27,15.19 377.34,15.27 377.41,15.37 377.48,15.47 377.55,15.59 377.63,15.73 377.7,15.87 377.77,16.03 377.84,16.19 377.92,16.36 377.99,16.54 378.06,16.73 378.13,16.92 378.21,17.11 378.28,17.31 378.35,17.51 378.42,17.71 378.5,17.91 378.57,18.1 378.64,18.3 378.71,18.5 378.79,18.69 378.86,18.9 378.93,19.12 379,19.36 379.08,19.61 379.15,19.87 379.22,20.14 379.29,20.42 379.36,20.71 379.44,21.01 379.51,21.32 379.58,21.63 379.65,21.94 379.73,22.26 379.8,22.59 379.87,22.91 379.94,23.24 380.02,23.56 380.09,23.89 380.16,24.21 380.23,24.54 380.31,24.85 380.38,25.17 380.45,25.48 380.52,25.78 380.6,26.08 380.67,26.37 380.74,26.65 380.81,26.91 380.89,27.17 380.96,27.42 381.03,27.67 381.1,27.92 381.17,28.17 381.25,28.42 381.32,28.67 381.39,28.91 381.46,29.16 381.54,29.4 381.61,29.65 381.68,29.89 381.75,30.12 381.83,30.36 381.9,30.59 381.97,30.82 382.04,31.05 382.12,31.28 382.19,31.5 382.26,31.71 382.33,31.92 382.41,32.13 382.48,32.33 382.55,32.53 382.62,32.72 382.7,32.91 382.77,33.09 382.84,33.26 382.91,33.43 382.98,33.59 383.06,33.74 383.13,33.89 383.2,34.03 383.27,34.17 383.35,34.31 383.42,34.44 383.49,34.57 383.56,34.7 383.64,34.83 383.71,34.95 383.78,35.08 383.85,35.2 383.93,35.31 384,35.43 384.07,35.54 384.14,35.65 384.22,35.76 384.29,35.87 384.36,35.98 384.43,36.08 384.51,36.19 384.58,36.29 384.65,36.39 384.72,36.49 384.79,36.59 384.87,36.69 384.94,36.78 385.01,36.88 385.08,36.97 385.16,37.07 385.23,37.16 385.3,37.25 385.37,37.35 385.45,37.44 385.52,37.53 385.59,37.62 385.66,37.71 385.74,37.81 385.81,37.9 385.88,37.99 385.95,38.08 386.03,38.17 386.1,38.27 386.17,38.36 386.24,38.45 386.32,38.55 386.39,38.64 386.46,38.74 386.53,38.83 386.6,38.92 386.68,39.02 386.75,39.11 386.82,39.2 386.89,39.28 386.97,39.37 387.04,39.46 387.11,39.54 387.18,39.63 387.26,39.71 387.33,39.8 387.4,39.88 387.47,39.97 387.55,40.05 387.62,40.13 387.69,40.21 387.76,40.3 387.84,40.38 387.91,40.46 387.98,40.54 388.05,40.62 388.13,40.71 388.2,40.79 388.27,40.87 388.34,40.95 388.41,41.04 388.49,41.12 388.56,41.2 388.63,41.29 388.7,41.37 388.78,41.46 388.85,41.54 388.92,41.63 388.99,41.72 389.07,41.81 389.14,41.9 389.21,41.99 389.28,42.08 389.36,42.17 389.43,42.26 389.5,42.36 389.57,42.46 389.65,42.55 389.72,42.65 389.79,42.76 389.86,42.88 389.94,43 390.01,43.12 390.08,43.25 390.15,43.38 390.22,43.52 390.3,43.66 390.37,43.81 390.44,43.95 390.51,44.1 390.59,44.25 390.66,44.39 390.73,44.54 390.8,44.69 390.88,44.84 390.95,44.99 391.02,45.13 391.09,45.27 391.17,45.41 391.24,45.55 391.31,45.68 391.38,45.81 391.46,45.94 391.53,46.06 391.6,46.17 391.67,46.28 391.75,46.38 391.82,46.47 391.89,46.56 391.96,46.63 392.03,46.7 392.11,46.76 392.18,46.81 392.25,46.85 392.32,46.89 392.4,46.9 392.47,46.91 392.54,46.91 392.61,46.88 392.69,46.85 392.76,46.8 392.83,46.73 392.9,46.65 392.98,46.56 393.05,46.46 393.12,46.35 393.19,46.22 393.27,46.09 393.34,45.94 393.41,45.79 393.48,45.63 393.56,45.47 393.63,45.3 393.7,45.12 393.77,44.94 393.84,44.75 393.92,44.56 393.99,44.36 394.06,44.17 394.13,43.97 394.21,43.77 394.28,43.57 394.35,43.37 394.42,43.18 394.5,42.98 394.57,42.79 394.64,42.6 394.71,42.41 394.79,42.21 394.86,42 394.93,41.78 395,41.55 395.08,41.31 395.15,41.07 395.22,40.81 395.29,40.55 395.37,40.29 395.44,40.02 395.51,39.74 395.58,39.46 395.65,39.17 395.73,38.88 395.8,38.59 395.87,38.29 395.94,37.99 396.02,37.69 396.09,37.39 396.16,37.09 396.23,36.79 396.31,36.49 396.38,36.19 396.45,35.89 396.52,35.59 396.6,35.29 396.67,35 396.74,34.71 396.81,34.43 396.89,34.15 396.96,33.87 397.03,33.6 397.1,33.34 397.18,33.08 397.25,32.83 397.32,32.59 397.39,32.35 397.46,32.1 397.54,31.85 397.61,31.59 397.68,31.34 397.75,31.08 397.83,30.83 397.9,30.57 397.97,30.31 398.04,30.05 398.12,29.79 398.19,29.53 398.26,29.27 398.33,29.02 398.41,28.76 398.48,28.5 398.55,28.25 398.62,28 398.7,27.75 398.77,27.5 398.84,27.25 398.91,27.01 398.99,26.77 399.06,26.53 399.13,26.3 399.2,26.07 399.27,25.85 399.35,25.63 399.42,25.42 399.49,25.21 399.56,25 399.64,24.81 399.71,24.61 399.78,24.43 399.85,24.25 399.93,24.08 400,23.91 400.07,23.75 400.14,23.6 400.22,23.46 400.29,23.33 400.36,23.2 400.43,23.08 400.51,22.97 400.58,22.87 400.65,22.78 400.72,22.68 400.8,22.59 400.87,22.49 400.94,22.39 401.01,22.3 401.08,22.21 401.16,22.11 401.23,22.02 401.3,21.93 401.37,21.84 401.45,21.75 401.52,21.67 401.59,21.58 401.66,21.5 401.74,21.42 401.81,21.34 401.88,21.26 401.95,21.18 402.03,21.1 402.1,21.03 402.17,20.96 402.24,20.89 402.32,20.82 402.39,20.76 402.46,20.7 402.53,20.64 402.61,20.58 402.68,20.52 402.75,20.47 402.82,20.42 402.89,20.38 402.97,20.33 403.04,20.29 403.11,20.26 403.18,20.22 403.26,20.19 403.33,20.16 403.4,20.14 403.47,20.12 403.55,20.1 403.62,20.09 403.69,20.08 403.76,20.07 403.84,20.07 403.91,20.08 403.98,20.08 404.05,20.09 404.13,20.11 404.2,20.13 404.27,20.15 404.34,20.18 404.42,20.21 404.49,20.24 404.56,20.28 404.63,20.32 404.7,20.37 404.78,20.41 404.85,20.46 404.92,20.52 404.99,20.57 405.07,20.63 405.14,20.69 405.21,20.75 405.28,20.82 405.36,20.89 405.43,20.96 405.5,21.03 405.57,21.1 405.65,21.18 405.72,21.26 405.79,21.34 405.86,21.42 405.94,21.5 406.01,21.58 406.08,21.67 406.15,21.75 406.23,21.84 406.3,21.92 406.37,22.01 406.44,22.1 406.51,22.19 406.59,22.28 406.66,22.37 406.73,22.46 406.8,22.55 406.88,22.64 406.95,22.73 407.02,22.82 407.09,22.91 407.17,23 407.24,23.09 407.31,23.19 407.38,23.29 407.46,23.4 407.53,23.52 407.6,23.63 407.67,23.75 407.75,23.88 407.82,24 407.89,24.14 407.96,24.27 408.04,24.41 408.11,24.55 408.18,24.69 408.25,24.84 408.32,24.99 408.4,25.14 408.47,25.3 408.54,25.46 408.61,25.62 408.69,25.78 408.76,25.95 408.83,26.12 408.9,26.29 408.98,26.46 409.05,26.63 409.12,26.81 409.19,26.98 409.27,27.16 409.34,27.34 409.41,27.52 409.48,27.7 409.56,27.89 409.63,28.07 409.7,28.26 409.77,28.44 409.85,28.63 409.92,28.82 409.99,29 410.06,29.19 410.13,29.38 410.21,29.57 410.28,29.75 410.35,29.94 410.42,30.13 410.5,30.32 410.57,30.5 410.64,30.69 410.71,30.88 410.79,31.06 410.86,31.25 410.93,31.43 411,31.61 411.08,31.79 411.15,31.97 411.22,32.15 411.29,32.32 411.37,32.5 411.44,32.67 411.51,32.84 411.58,33.02 411.66,33.19 411.73,33.37 411.8,33.55 411.87,33.73 411.94,33.91 412.02,34.09 412.09,34.27 412.16,34.45 412.23,34.64 412.31,34.82 412.38,35.01 412.45,35.2 412.52,35.39 412.6,35.58 412.67,35.77 412.74,35.96 412.81,36.15 412.89,36.34 412.96,36.53 413.03,36.72 413.1,36.91 413.18,37.1 413.25,37.29 413.32,37.49 413.39,37.68 413.47,37.87 413.54,38.06 413.61,38.25 413.68,38.44 413.75,38.63 413.83,38.83 413.9,39.01 413.97,39.2 414.04,39.39 414.12,39.58 414.19,39.77 414.26,39.95 414.33,40.14 414.41,40.32 414.48,40.51 414.55,40.69 414.62,40.87 414.7,41.05 414.77,41.23 414.84,41.4 414.91,41.58 414.99,41.75 415.06,41.92 415.13,42.1 415.2,42.26 415.28,42.43 415.35,42.6 415.42,42.76 415.49,42.92 415.56,43.08 415.64,43.24 415.71,43.39 415.78,43.55 415.85,43.7 415.93,43.85 416,44 416.07,44.15 416.14,44.3 416.22,44.45 416.29,44.6 416.36,44.76 416.43,44.91 416.51,45.06 416.58,45.21 416.65,45.36 416.72,45.51 416.8,45.65 416.87,45.8 416.94,45.95 417.01,46.09 417.09,46.24 417.16,46.38 417.23,46.53 417.3,46.67 417.37,46.81 417.45,46.95 417.52,47.08 417.59,47.22 417.66,47.35 417.74,47.48 417.81,47.61 417.88,47.74 417.95,47.87 418.03,47.99 418.1,48.11 418.17,48.23 418.24,48.35 418.32,48.47 418.39,48.58 418.46,48.69 418.53,48.8 418.61,48.9 418.68,49 418.75,49.1 418.82,49.2 418.9,49.29 418.97,49.38 419.04,49.46 419.11,49.55 419.18,49.63 419.26,49.71 419.33,49.79 419.4,49.88 419.47,49.96 419.55,50.05 419.62,50.13 419.69,50.21 419.76,50.3 419.84,50.38 419.91,50.46 419.98,50.54 420.05,50.62 420.13,50.7 420.2,50.78 420.27,50.85 420.34,50.93 420.42,51 420.49,51.06 420.56,51.13 420.63,51.19 420.71,51.26 420.78,51.31 420.85,51.37 420.92,51.42 420.99,51.47 421.07,51.51 421.14,51.55 421.21,51.59 421.28,51.62 421.36,51.65 421.43,51.67 421.5,51.69 421.57,51.7 421.65,51.71 421.72,51.71 421.79,51.71 421.86,51.7 421.94,51.68 422.01,51.66 422.08,51.63 422.15,51.59 422.23,51.55 422.3,51.5 422.37,51.44 422.44,51.38 422.52,51.32 422.59,51.25 422.66,51.17 422.73,51.09 422.8,51 422.88,50.91 422.95,50.82 423.02,50.72 423.09,50.62 423.17,50.51 423.24,50.41 423.31,50.29 423.38,50.18 423.46,50.06 423.53,49.93 423.6,49.81 423.67,49.68 423.75,49.55 423.82,49.42 423.89,49.29 423.96,49.15 424.04,49.02 424.11,48.88 424.18,48.74 424.25,48.6 424.33,48.45 424.4,48.31 424.47,48.17 424.54,48.03 424.61,47.88 424.69,47.72 424.76,47.56 424.83,47.38 424.9,47.2 424.98,47 425.05,46.8 425.12,46.59 425.19,46.37 425.27,46.14 425.34,45.91 425.41,45.66 425.48,45.41 425.56,45.15 425.63,44.88 425.7,44.61 425.77,44.32 425.85,44.03 425.92,43.74 425.99,43.43 426.06,43.12 426.14,42.8 426.21,42.48 426.28,42.15 426.35,41.81 426.42,41.47 426.5,41.12 426.57,40.76 426.64,40.4 426.71,40.04 426.79,39.67 426.86,39.29 426.93,38.91 427,38.52 427.08,38.13 427.15,37.73 427.22,37.33 427.29,36.93 427.37,36.52 427.44,36.1 427.51,35.69 427.58,35.26 427.66,34.84 427.73,34.41 427.8,33.98 427.87,33.52 427.95,32.95 428.02,32.3 428.09,31.58 428.16,30.84 428.23,30.1 428.31,29.39 428.38,28.73 428.45,28.15 428.52,27.69 428.6,27.38 428.67,27.21 428.74,27.08 428.81,26.95 428.89,26.83 428.96,26.71 429.03,26.61 429.1,26.51 429.18,26.41 429.25,26.32 429.32,26.24 429.39,26.17 429.47,26.1 429.54,26.04 429.61,25.99 429.68,25.94 429.76,25.9 429.83,25.87 429.9,25.84 429.97,25.83 430.04,25.82 430.12,25.82 430.19,25.83 430.26,25.86 430.33,25.89 430.41,25.94 430.48,26.01 430.55,26.08 430.62,26.16 430.7,26.25 430.77,26.36 430.84,26.47 430.91,26.58 430.99,26.71 431.06,26.84 431.13,26.98 431.2,27.12 431.28,27.27 431.35,27.42 431.42,27.57 431.49,27.73 431.57,27.89 431.64,28.05 431.71,28.22 431.78,28.38 431.85,28.55 431.93,28.71 432,28.87 432.07,29.03 432.14,29.19 432.22,29.34 432.29,29.49 432.36,29.65 432.43,29.82 432.51,30.01 432.58,30.2 432.65,30.41 432.72,30.63 432.8,30.86 432.87,31.1 432.94,31.34 433.01,31.59 433.09,31.85 433.16,32.11 433.23,32.37 433.3,32.63 433.38,32.9 433.45,33.17 433.52,33.44 433.59,33.71 433.66,33.97 433.74,34.24 433.81,34.5 433.88,34.75 433.95,35 434.03,35.24 434.1,35.47 434.17,35.7 434.24,35.92 434.32,36.12 434.39,36.32 434.46,36.5 434.53,36.67 434.61,36.83 434.68,36.97 434.75,37.09 434.82,37.2 434.9,37.29 434.97,37.36 435.04,37.41 435.11,37.44 435.19,37.45 435.26,37.45 435.33,37.43 435.4,37.39 435.47,37.35 435.55,37.3 435.62,37.23 435.69,37.16 435.76,37.07 435.84,36.98 435.91,36.88 435.98,36.78 436.05,36.67 436.13,36.56 436.2,36.44 436.27,36.31 436.34,36.19 436.42,36.06 436.49,35.93 436.56,35.8 436.63,35.67 436.71,35.55 436.78,35.42 436.85,35.3 436.92,35.17 437,35.06 437.07,34.94 437.14,34.84 437.21,34.74 437.28,34.64 437.36,34.55 437.43,34.47 437.5,34.38 437.57,34.29 437.65,34.2 437.72,34.11 437.79,34.01 437.86,33.91 437.94,33.82 438.01,33.72 438.08,33.62 438.15,33.53 438.23,33.43 438.3,33.34 438.37,33.25 438.44,33.16 438.52,33.07 438.59,32.99 438.66,32.91 438.73,32.83 438.81,32.76 438.88,32.69 438.95,32.63 439.02,32.57 439.09,32.52 439.17,32.48 439.24,32.44 439.31,32.41 439.38,32.38 439.46,32.37 439.53,32.36 439.6,32.37 439.67,32.39 439.75,32.43 439.82,32.48 439.89,32.54 439.96,32.62 440.04,32.71 440.11,32.81 440.18,32.92 440.25,33.04 440.33,33.16 440.4,33.3 440.47,33.44 440.54,33.59 440.62,33.74 440.69,33.89 440.76,34.05 440.83,34.21 440.9,34.37 440.98,34.53 441.05,34.69 441.12,34.85 441.19,35.01 441.27,35.16 441.34,35.31 441.41,35.46 441.48,35.59 441.56,35.72 441.63,35.85 441.7,35.96 441.77,36.07 441.85,36.18 441.92,36.3 441.99,36.42 442.06,36.54 442.14,36.66 442.21,36.79 442.28,36.92 442.35,37.04 442.43,37.17 442.5,37.29 442.57,37.41 442.64,37.53 442.71,37.65 442.79,37.76 442.86,37.86 442.93,37.96 443,38.06 443.08,38.14 443.15,38.22 443.22,38.29 443.29,38.35 443.37,38.4 443.44,38.43 443.51,38.46 443.58,38.47 443.66,38.47 443.73,38.46 443.8,38.45 443.87,38.43 443.95,38.4 444.02,38.36 444.09,38.32 444.16,38.27 444.24,38.22 444.31,38.16 444.38,38.09 444.45,38.02 444.52,37.95 444.6,37.88 444.67,37.8 444.74,37.71 444.81,37.62 444.89,37.53 444.96,37.44 445.03,37.35 445.1,37.25 445.18,37.16 445.25,37.06 445.32,36.96 445.39,36.86 445.47,36.76 445.54,36.66 445.61,36.56 445.68,36.46 445.76,36.37 445.83,36.27 445.9,36.18 445.97,36.08 446.05,36 446.12,35.91 446.19,35.82 446.26,35.74 446.33,35.67 446.41,35.59 446.48,35.53 446.55,35.46 446.62,35.4 446.7,35.35 446.77,35.3 446.84,35.26 446.91,35.22 446.99,35.18 447.06,35.15 447.13,35.11 447.2,35.08 447.28,35.05 447.35,35.02 447.42,34.99 447.49,34.96 447.57,34.93 447.64,34.91 447.71,34.88 447.78,34.86 447.86,34.83 447.93,34.81 448,34.79 448.07,34.77 448.14,34.74 448.22,34.72 448.29,34.7 448.36,34.68 448.43,34.65 448.51,34.63 448.58,34.61 448.65,34.58 448.72,34.56 448.8,34.54 448.87,34.51 448.94,34.48 449.01,34.46 449.09,34.43 449.16,34.4 449.23,34.37 449.3,34.33 449.38,34.3 449.45,34.26 449.52,34.23 449.59,34.19 449.67,34.15 449.74,34.1 449.81,34.06 449.88,34.01 449.95,33.96 450.03,33.91 450.1,33.85 450.17,33.79 450.24,33.73 450.32,33.67 450.39,33.6 450.46,33.53 450.53,33.46 450.61,33.39 450.68,33.31 450.75,33.23 450.82,33.15 450.9,33.07 450.97,32.98 451.04,32.89 451.11,32.8 451.19,32.71 451.26,32.61 451.33,32.51 451.4,32.41 451.48,32.31 451.55,32.2 451.62,32.09 451.69,31.98 451.76,31.87 451.84,31.75 451.91,31.64 451.98,31.51 452.05,31.37 452.13,31.21 452.2,31.04 452.27,30.86 452.34,30.66 452.42,30.46 452.49,30.24 452.56,30.02 452.63,29.79 452.71,29.55 452.78,29.31 452.85,29.06 452.92,28.81 453,28.56 453.07,28.3 453.14,28.05 453.21,27.79 453.29,27.54 453.36,27.29 453.43,27.04 453.5,26.79 453.57,26.56 453.65,26.32 453.72,26.1 453.79,25.88 453.86,25.67 453.94,25.47 454.01,25.29 454.08,25.11 454.15,24.94 454.23,24.77 454.3,24.6 454.37,24.42 454.44,24.24 454.52,24.05 454.59,23.87 454.66,23.69 454.73,23.5 454.81,23.32 454.88,23.14 454.95,22.97 455.02,22.79 455.1,22.62 455.17,22.46 455.24,22.3 455.31,22.15 455.38,22 455.46,21.86 455.53,21.73 455.6,21.61 455.67,21.49 455.75,21.39 455.82,21.3 455.89,21.22 455.96,21.15 456.04,21.1 456.11,21.06 456.18,21.03 456.25,21.02 456.33,21.02 456.4,21.04 456.47,21.06 456.54,21.1 456.62,21.14 456.69,21.2 456.76,21.27 456.83,21.34 456.91,21.43 456.98,21.52 457.05,21.62 457.12,21.72 457.19,21.83 457.27,21.95 457.34,22.08 457.41,22.21 457.48,22.34 457.56,22.48 457.63,22.62 457.7,22.77 457.77,22.92 457.85,23.07 457.92,23.22 457.99,23.37 458.06,23.53 458.14,23.68 458.21,23.84 458.28,24 458.35,24.15 458.43,24.3 458.5,24.46 458.57,24.64 458.64,24.85 458.72,25.08 458.79,25.32 458.86,25.59 458.93,25.86 459,26.14 459.08,26.43 459.15,26.72 459.22,27.01 459.29,27.29 459.37,27.57 459.44,27.83 459.51,28.08 459.58,28.32 459.66,28.53 459.73,28.72 459.8,28.88 459.87,29.02 459.95,29.11 460.02,29.18 460.09,29.22 460.16,29.26 460.24,29.28 460.31,29.31 460.38,29.33 460.45,29.36 460.53,29.39 460.6,29.43 460.67,29.48 460.74,29.54 460.81,29.62 460.89,29.7 460.96,29.8 461.03,29.91 461.1,30.04 461.18,30.17 461.25,30.31 461.32,30.46 461.39,30.61 461.47,30.78 461.54,30.95 461.61,31.12 461.68,31.31 461.76,31.49 461.83,31.68 461.9,31.88 461.97,32.07 462.05,32.27 462.12,32.47 462.19,32.67 462.26,32.87 462.34,33.07 462.41,33.27 462.48,33.46 462.55,33.65 462.62,33.84 462.7,34.03 462.77,34.21 462.84,34.39 462.91,34.56 462.99,34.73 463.06,34.9 463.13,35.07 463.2,35.25 463.28,35.43 463.35,35.61 463.42,35.79 463.49,35.97 463.57,36.16 463.64,36.35 463.71,36.54 463.78,36.72 463.86,36.92 463.93,37.11 464,37.3 464.07,37.49 464.15,37.68 464.22,37.88 464.29,38.07 464.36,38.26 464.43,38.46 464.51,38.65 464.58,38.84 464.65,39.03 464.72,39.22 464.8,39.41 464.87,39.6 464.94,39.79 465.01,39.97 465.09,40.15 465.16,40.34 465.23,40.52 465.3,40.69 465.38,40.87 465.45,41.04 465.52,41.21 465.59,41.38 465.67,41.55 465.74,41.71 465.81,41.87 465.88,42.02 465.96,42.18 466.03,42.33 466.1,42.47 466.17,42.61 466.24,42.75 466.32,42.88 466.39,43.01 466.46,43.14 466.53,43.25 466.61,43.37 466.68,43.49 466.75,43.61 466.82,43.73 466.9,43.85 466.97,43.97 467.04,44.09 467.11,44.21 467.19,44.34 467.26,44.46 467.33,44.58 467.4,44.7 467.48,44.82 467.55,44.94 467.62,45.06 467.69,45.18 467.77,45.29 467.84,45.41 467.91,45.52 467.98,45.63 468.05,45.74 468.13,45.85 468.2,45.96 468.27,46.06 468.34,46.16 468.42,46.25 468.49,46.35 468.56,46.44 468.63,46.53 468.71,46.61 468.78,46.69 468.85,46.77 468.92,46.84 469,46.91 469.07,46.97 469.14,47.03 469.21,47.09 469.29,47.14 469.36,47.18 469.43,47.22 469.5,47.26 469.58,47.29 469.65,47.31 469.72,47.33 469.79,47.34 469.86,47.35 469.94,47.34 470.01,47.33 470.08,47.32 470.15,47.29 470.23,47.26 470.3,47.21 470.37,47.17 470.44,47.11 470.52,47.05 470.59,46.98 470.66,46.9 470.73,46.82 470.81,46.74 470.88,46.64 470.95,46.55 471.02,46.44 471.1,46.34 471.17,46.22 471.24,46.11 471.31,45.99 471.39,45.87 471.46,45.74 471.53,45.61 471.6,45.48 471.67,45.34 471.75,45.2 471.82,45.06 471.89,44.92 471.96,44.78 472.04,44.64 472.11,44.49 472.18,44.34 472.25,44.2 472.33,44.05 472.4,43.9 472.47,43.76 472.54,43.61 472.62,43.46 472.69,43.32 472.76,43.18 472.83,43.03 472.91,42.89 472.98,42.76 473.05,42.62 473.12,42.49 473.2,42.35 473.27,42.21 473.34,42.06 473.41,41.91 473.48,41.76 473.56,41.6 473.63,41.44 473.7,41.27 473.77,41.11 473.85,40.94 473.92,40.76 473.99,40.59 474.06,40.41 474.14,40.23 474.21,40.05 474.28,39.86 474.35,39.68 474.43,39.49 474.5,39.3 474.57,39.11 474.64,38.92 474.72,38.73 474.79,38.54 474.86,38.34 474.93,38.15 475.01,37.96 475.08,37.76 475.15,37.57 475.22,37.38 475.29,37.19 475.37,37 475.44,36.81 475.51,36.62 475.58,36.43 475.66,36.25 475.73,36.07 475.8,35.88 475.87,35.71 475.95,35.53 476.02,35.35 476.09,35.18 476.16,35.01 476.24,34.85 476.31,34.69 476.38,34.53 476.45,34.37 476.53,34.22 476.6,34.07 476.67,33.93 476.74,33.79 476.82,33.65 476.89,33.51 476.96,33.37 477.03,33.24 477.1,33.1 477.18,32.96 477.25,32.82 477.32,32.69 477.39,32.55 477.47,32.41 477.54,32.28 477.61,32.15 477.68,32.01 477.76,31.88 477.83,31.75 477.9,31.62 477.97,31.49 478.05,31.37 478.12,31.24 478.19,31.12 478.26,31 478.34,30.88 478.41,30.76 478.48,30.64 478.55,30.53 478.63,30.42 478.7,30.31 478.77,30.21 478.84,30.1 478.91,30 478.99,29.9 479.06,29.81 479.13,29.72 479.2,29.63 479.28,29.54 479.35,29.46 479.42,29.38 479.49,29.3 479.57,29.23 479.64,29.16 479.71,29.09 479.78,29.03 479.86,28.96 479.93,28.89 480,28.82 480.07,28.75 480.15,28.69 480.22,28.62 480.29,28.55 480.36,28.49 480.44,28.43 480.51,28.36 480.58,28.3 480.65,28.24 480.72,28.19 480.8,28.13 480.87,28.08 480.94,28.03 481.01,27.98 481.09,27.94 481.16,27.9 481.23,27.86 481.3,27.83 481.38,27.8 481.45,27.77 481.52,27.75 481.59,27.73 481.67,27.72 481.74,27.71 481.81,27.71 481.88,27.71 481.96,27.72 482.03,27.74 482.1,27.77 482.17,27.81 482.25,27.85 482.32,27.9 482.39,27.95 482.46,28.01 482.53,28.08 482.61,28.15 482.68,28.23 482.75,28.31 482.82,28.4 482.9,28.49 482.97,28.59 483.04,28.68 483.11,28.79 483.19,28.89 483.26,29 483.33,29.11 483.4,29.22 483.48,29.34 483.55,29.45 483.62,29.57 483.69,29.68 483.77,29.8 483.84,29.92 483.91,30.04 483.98,30.15 484.06,30.28 484.13,30.42 484.2,30.58 484.27,30.76 484.34,30.95 484.42,31.16 484.49,31.39 484.56,31.62 484.63,31.87 484.71,32.13 484.78,32.4 484.85,32.67 484.92,32.96 485,33.25 485.07,33.54 485.14,33.84 485.21,34.14 485.29,34.44 485.36,34.74 485.43,35.03 485.5,35.33 485.58,35.62 485.65,35.91 485.72,36.19 485.79,36.47 485.87,36.73 485.94,36.99 486.01,37.23 486.08,37.47 486.15,37.69 486.23,37.89 486.3,38.08 486.37,38.26 486.44,38.41 486.52,38.55 486.59,38.67 486.66,38.76 486.73,38.83 486.81,38.88 486.88,38.91 486.95,38.9 487.02,38.88 487.1,38.83 487.17,38.75 487.24,38.66 487.31,38.54 487.39,38.41 487.46,38.27 487.53,38.11 487.6,37.93 487.68,37.74 487.75,37.55 487.82,37.34 487.89,37.13 487.96,36.92 488.04,36.7 488.11,36.47 488.18,36.25 488.25,36.03 488.33,35.81 488.4,35.6 488.47,35.39 488.54,35.18 488.62,34.99 488.69,34.8 488.76,34.63 488.83,34.47 488.91,34.3 488.98,34.12 489.05,33.94 489.12,33.75 489.2,33.55 489.27,33.35 489.34,33.15 489.41,32.95 489.49,32.75 489.56,32.55 489.63,32.36 489.7,32.17 489.77,31.99 489.85,31.82 489.92,31.66 489.99,31.51 490.06,31.38 490.14,31.25 490.21,31.15 490.28,31.06 490.35,30.99 490.43,30.94 490.5,30.91 490.57,30.91 490.64,30.93 490.72,30.96 490.79,31.02 490.86,31.09 490.93,31.18 491.01,31.28 491.08,31.4 491.15,31.52 491.22,31.66 491.3,31.81 491.37,31.97 491.44,32.13 491.51,32.3 491.58,32.48 491.66,32.66 491.73,32.84 491.8,33.02 491.87,33.21 491.95,33.39 492.02,33.57 492.09,33.75 492.16,33.92 492.24,34.09 492.31,34.25 492.38,34.4 492.45,34.55 492.53,34.68 492.6,34.8 492.67,34.91 492.74,35 492.82,35.09 492.89,35.18 492.96,35.28 493.03,35.37 493.11,35.47 493.18,35.56 493.25,35.65 493.32,35.75 493.39,35.84 493.47,35.93 493.54,36.02 493.61,36.1 493.68,36.19 493.76,36.27 493.83,36.35 493.9,36.43 493.97,36.5 494.05,36.57 494.12,36.64 494.19,36.7 494.26,36.76 494.34,36.81 494.41,36.86 494.48,36.9 494.55,36.93 494.63,36.96 494.7,36.99 494.77,37 494.84,37.02 494.92,37.02 494.99,37.01 495.06,37 495.13,36.98 495.2,36.96 495.28,36.92 495.35,36.89 495.42,36.84 495.49,36.79 495.57,36.73 495.64,36.67 495.71,36.61 495.78,36.54 495.86,36.46 495.93,36.38 496,36.3 496.07,36.21 496.15,36.12 496.22,36.03 496.29,35.94 496.36,35.84 496.44,35.74 496.51,35.64 496.58,35.54 496.65,35.43 496.73,35.33 496.8,35.22 496.87,35.12 496.94,35.01 497.01,34.9 497.09,34.8 497.16,34.69 497.23,34.59 497.3,34.49 497.38,34.38 497.45,34.29 497.52,34.19 497.59,34.09 497.67,34 497.74,33.91 497.81,33.83 497.88,33.74 497.96,33.65 498.03,33.55 498.1,33.45 498.17,33.35 498.25,33.24 498.32,33.13 498.39,33.02 498.46,32.91 498.54,32.79 498.61,32.67 498.68,32.56 498.75,32.44 498.82,32.32 498.9,32.2 498.97,32.09 499.04,31.97 499.11,31.86 499.19,31.75 499.26,31.64 499.33,31.53 499.4,31.43 499.48,31.33 499.55,31.24 499.62,31.15 499.69,31.07 499.77,30.99 499.84,30.92 499.91,30.86 499.98,30.8 500.06,30.75 500.13,30.7 500.2,30.67 500.27,30.64 500.35,30.63 500.42,30.62 500.49,30.63 500.56,30.66 500.63,30.73 500.71,30.82 500.78,30.94 500.85,31.07 500.92,31.23 501,31.41 501.07,31.6 501.14,31.81 501.21,32.03 501.29,32.26 501.36,32.5 501.43,32.75 501.5,33 501.58,33.26 501.65,33.52 501.72,33.77 501.79,34.03 501.87,34.28 501.94,34.52 502.01,34.76 502.08,34.98 502.16,35.2 502.23,35.4 502.3,35.62 502.37,35.86 502.44,36.11 502.52,36.37 502.59,36.63 502.66,36.91 502.73,37.18 502.81,37.47 502.88,37.75 502.95,38.03 503.02,38.31 503.1,38.58 503.17,38.85 503.24,39.1 503.31,39.35 503.39,39.59 503.46,39.8 503.53,40.01 503.6,40.19 503.68,40.35 503.75,40.5 503.82,40.61 503.89,40.7 503.97,40.76 504.04,40.8 504.11,40.79 504.18,40.76 504.25,40.68 504.33,40.58 504.4,40.44 504.47,40.27 504.54,40.08 504.62,39.86 504.69,39.61 504.76,39.35 504.83,39.06 504.91,38.76 504.98,38.44 505.05,38.11 505.12,37.77 505.2,37.41 505.27,37.05 505.34,36.68 505.41,36.31 505.49,35.94 505.56,35.57 505.63,35.2 505.7,34.83 505.78,34.47 505.85,34.11 505.92,33.77 505.99,33.44 506.06,33.12 506.14,32.82 506.21,32.53 506.28,32.26 506.35,31.99 506.43,31.7 506.5,31.4 506.57,31.09 506.64,30.77 506.72,30.45 506.79,30.12 506.86,29.79 506.93,29.46 507.01,29.13 507.08,28.8 507.15,28.48 507.22,28.16 507.3,27.85 507.37,27.55 507.44,27.27 507.51,26.99 507.59,26.74 507.66,26.49 507.73,26.27 507.8,26.07 507.87,25.89 507.95,25.74 508.02,25.61 508.09,25.5 508.16,25.43 508.24,25.39 508.31,25.38 508.38,25.41 508.45,25.48 508.53,25.58 508.6,25.71 508.67,25.87 508.74,26.06 508.82,26.27 508.89,26.51 508.96,26.77 509.03,27.05 509.11,27.35 509.18,27.66 509.25,27.98 509.32,28.32 509.4,28.66 509.47,29.01 509.54,29.37 509.61,29.73 509.68,30.08 509.76,30.44 509.83,30.79 509.9,31.13 509.97,31.47 510.05,31.79 510.12,32.11 510.19,32.4 510.26,32.71 510.34,33.03 510.41,33.37 510.48,33.72 510.55,34.09 510.63,34.47 510.7,34.86 510.77,35.27 510.84,35.68 510.92,36.09 510.99,36.52 511.06,36.95 511.13,37.38 511.21,37.82 511.28,38.25 511.35,38.69 511.42,39.12 511.49,39.55 511.57,39.97 511.64,40.39 511.71,40.8 511.78,41.21 511.86,41.6 511.93,41.98 512,42.35 512.07,42.71 512.15,43.04 512.22,43.37 512.29,43.67 512.36,43.96 512.44,44.22 512.51,44.47 512.58,44.69 512.65,44.88 512.73,45.05 512.8,45.19 512.87,45.3 512.94,45.39 513.02,45.44 513.09,45.45 513.16,45.45 513.23,45.43 513.3,45.4 513.38,45.36 513.45,45.3 513.52,45.24 513.59,45.16 513.67,45.08 513.74,44.99 513.81,44.88 513.88,44.77 513.96,44.65 514.03,44.52 514.1,44.39 514.17,44.24 514.25,44.09 514.32,43.94 514.39,43.78 514.46,43.61 514.54,43.44 514.61,43.27 514.68,43.09 514.75,42.9 514.83,42.72 514.9,42.53 514.97,42.34 515.04,42.15 515.11,41.95 515.19,41.76 515.26,41.56 515.33,41.37 515.4,41.17 515.48,40.98 515.55,40.78 515.62,40.59 515.69,40.4 515.77,40.22 515.84,40.03 515.91,39.85 515.98,39.68 516.06,39.5 516.13,39.32 516.2,39.13 516.27,38.93 516.35,38.73 516.42,38.52 516.49,38.31 516.56,38.09 516.64,37.86 516.71,37.64 516.78,37.41 516.85,37.17 516.92,36.94 517,36.7 517.07,36.46 517.14,36.21 517.21,35.97 517.29,35.73 517.36,35.48 517.43,35.24 517.5,34.99 517.58,34.75 517.65,34.51 517.72,34.27 517.79,34.03 517.87,33.79 517.94,33.56 518.01,33.33 518.08,33.1 518.16,32.88 518.23,32.66 518.3,32.45 518.37,32.24 518.45,32.04 518.52,31.84 518.59,31.65 518.66,31.47 518.73,31.3 518.81,31.13 518.88,30.97 518.95,30.82 519.02,30.67 519.1,30.52 519.17,30.37 519.24,30.22 519.31,30.07 519.39,29.93 519.46,29.78 519.53,29.64 519.6,29.5 519.68,29.35 519.75,29.21 519.82,29.08 519.89,28.94 519.97,28.81 520.04,28.67 520.11,28.54 520.18,28.41 520.26,28.29 520.33,28.16 520.4,28.04 520.47,27.92 520.54,27.8 520.62,27.69 520.69,27.58 520.76,27.47 520.83,27.36 520.91,27.26 520.98,27.16 521.05,27.06 521.12,26.97 521.2,26.88 521.27,26.79 521.34,26.71 521.41,26.63 521.49,26.55 521.56,26.48 521.63,26.41 521.7,26.35 521.78,26.29 521.85,26.23 521.92,26.18 521.99,26.12 522.07,26.07 522.14,26.01 522.21,25.96 522.28,25.91 522.35,25.85 522.43,25.8 522.5,25.75 522.57,25.7 522.64,25.65 522.72,25.6 522.79,25.55 522.86,25.5 522.93,25.45 523.01,25.41 523.08,25.36 523.15,25.32 523.22,25.28 523.3,25.24 523.37,25.2 523.44,25.16 523.51,25.12 523.59,25.09 523.66,25.06 523.73,25.02 523.8,24.99 523.88,24.97 523.95,24.94 524.02,24.92 524.09,24.9 524.16,24.88 524.24,24.86 524.31,24.84 524.38,24.83 524.45,24.82 524.53,24.81 524.6,24.8 524.67,24.8 524.74,24.8 524.82,24.8 524.89,24.8 524.96,24.81 525.03,24.82 525.11,24.83 525.18,24.84 525.25,24.85 525.32,24.86 525.4,24.88 525.47,24.89 525.54,24.91 525.61,24.93 525.69,24.95 525.76,24.97 525.83,25 525.9,25.02 525.97,25.05 526.05,25.07 526.12,25.1 526.19,25.13 526.26,25.16 526.34,25.19 526.41,25.22 526.48,25.26 526.55,25.29 526.63,25.32 526.7,25.36 526.77,25.39 526.84,25.43 526.92,25.47 526.99,25.5 527.06,25.54 527.13,25.58 527.21,25.62 527.28,25.66 527.35,25.7 527.42,25.74 527.5,25.78 527.57,25.82 527.64,25.86 527.71,25.9 527.78,25.94 527.86,25.98 527.93,26.02 528,26.06 528.07,26.1 528.15,26.14 528.22,26.18 528.29,26.22 528.36,26.25 528.44,26.29 528.51,26.33 528.58,26.38 528.65,26.42 528.73,26.46 528.8,26.5 528.87,26.55 528.94,26.6 529.02,26.64 529.09,26.69 529.16,26.74 529.23,26.79 529.31,26.84 529.38,26.89 529.45,26.94 529.52,26.99 529.59,27.05 529.67,27.1 529.74,27.16 529.81,27.21 529.88,27.27 529.96,27.33 530.03,27.39 530.1,27.44 530.17,27.5 530.25,27.56 530.32,27.62 530.39,27.68 530.46,27.75 530.54,27.81 530.61,27.87 530.68,27.94 530.75,28 530.83,28.06 530.9,28.13 530.97,28.19 531.04,28.26 531.12,28.33 531.19,28.39 531.26,28.46 531.33,28.53 531.4,28.59 531.48,28.66 531.55,28.73 531.62,28.8 531.69,28.87 531.77,28.94 531.84,29.01 531.91,29.08 531.98,29.15 532.06,29.22 532.13,29.29 532.2,29.36 532.27,29.44 532.35,29.51 532.42,29.59 532.49,29.66 532.56,29.74 532.64,29.82 532.71,29.9 532.78,29.98 532.85,30.06 532.93,30.15 533,30.23 533.07,30.31 533.14,30.4 533.21,30.48 533.29,30.57 533.36,30.66 533.43,30.75 533.5,30.84 533.58,30.93 533.65,31.02 533.72,31.11 533.79,31.2 533.87,31.29 533.94,31.39 534.01,31.48 534.08,31.57 534.16,31.67 534.23,31.77 534.3,31.86 534.37,31.96 534.45,32.06 534.52,32.16 534.59,32.25 534.66,32.35 534.74,32.45 534.81,32.55 534.88,32.65"/>
<rect class="sp" x="310.6" y="13.5" width="235.35" height="43.9"/>
<path class="tk" d="M321.3 57.4v2.3M357.5 57.4v2.3M393.7 57.4v2.3M429.9 57.4v2.3M466.1 57.4v2.3M502.3 57.4v2.3M538.5 57.4v2.3M310.6 19.2h-2.3M310.6 34.5h-2.3M310.6 50h-2.3"/>
<text class="t" x="321.65" y="66.74" text-anchor="middle">0</text>
<text class="t" x="357.85" y="66.74" text-anchor="middle">500</text>
<text class="t" x="394.05" y="66.74" text-anchor="middle">1000</text>
<text class="t" x="430.25" y="66.74" text-anchor="middle">1500</text>
<text class="t" x="466.45" y="66.74" text-anchor="middle">2000</text>
<text class="t" x="502.65" y="66.74" text-anchor="middle">2500</text>
<text class="t" x="538.85" y="66.74" text-anchor="middle">3000</text>
<text class="t" x="306.3" y="21.57" text-anchor="end">25</text>
<text class="t" x="306.3" y="36.87" text-anchor="end">0</text>
<text class="t" x="306.3" y="52.37" text-anchor="end">−25</text>
<text class="t" text-anchor="middle" transform="translate(288.3 35.45) rotate(-90)">IMF 6</text>
</g>
<g>
<clipPath id="c6"><rect x="310.6" y="83.2" width="235.35" height="43.9"/></clipPath>
<polyline class="ln" clip-path="url(#c6)" points="321.3,84.64 321.66,85.15 322.02,85.82 322.39,86.65 322.75,87.61 323.11,88.7 323.47,89.9 323.83,91.2 324.2,92.59 324.56,94.05 324.92,95.56 325.28,97.13 325.64,98.72 326.01,100.33 326.37,101.95 326.73,103.56 327.09,105.16 327.45,106.73 327.82,108.27 328.18,109.77 328.54,111.22 328.9,112.62 329.26,113.94 329.63,115.2 329.99,116.37 330.35,117.47 330.71,118.49 331.07,119.44 331.44,120.32 331.8,121.12 332.16,121.86 332.52,122.53 332.88,123.13 333.25,123.67 333.61,124.13 333.97,124.52 334.33,124.83 334.69,125.05 335.06,125.18 335.42,125.21 335.78,125.15 336.14,124.98 336.5,124.73 336.87,124.38 337.23,123.95 337.59,123.44 337.95,122.86 338.31,122.21 338.68,121.49 339.04,120.71 339.4,119.88 339.76,119 340.12,118.09 340.49,117.15 340.85,116.19 341.21,115.21 341.57,114.22 341.93,113.23 342.3,112.24 342.66,111.27 343.02,110.32 343.38,109.39 343.74,108.48 344.11,107.59 344.47,106.73 344.83,105.89 345.19,105.08 345.55,104.3 345.92,103.55 346.28,102.84 346.64,102.15 347,101.5 347.36,100.89 347.73,100.31 348.09,99.76 348.45,99.25 348.81,98.77 349.17,98.31 349.54,97.89 349.9,97.5 350.26,97.13 350.62,96.79 350.98,96.48 351.35,96.19 351.71,95.92 352.07,95.68 352.43,95.46 352.79,95.27 353.16,95.09 353.52,94.94 353.88,94.81 354.24,94.7 354.6,94.61 354.97,94.55 355.33,94.5 355.69,94.48 356.05,94.48 356.41,94.49 356.78,94.53 357.14,94.58 357.5,94.65 357.86,94.74 358.22,94.84 358.59,94.95 358.95,95.08 359.31,95.21 359.67,95.36 360.03,95.52 360.4,95.68 360.76,95.86 361.12,96.04 361.48,96.23 361.84,96.42 362.21,96.61 362.57,96.81 362.93,97.02 363.29,97.22 363.65,97.42 364.02,97.63 364.38,97.83 364.74,98.04 365.1,98.24 365.46,98.44 365.83,98.63 366.19,98.82 366.55,99 366.91,99.18 367.27,99.35 367.64,99.51 368,99.67 368.36,99.82 368.72,99.97 369.08,100.12 369.45,100.25 369.81,100.39 370.17,100.52 370.53,100.64 370.89,100.76 371.26,100.88 371.62,101 371.98,101.11 372.34,101.22 372.7,101.33 373.07,101.43 373.43,101.54 373.79,101.64 374.15,101.74 374.51,101.84 374.88,101.94 375.24,102.04 375.6,102.13 375.96,102.23 376.32,102.33 376.69,102.43 377.05,102.52 377.41,102.62 377.77,102.72 378.13,102.82 378.5,102.92 378.86,103.02 379.22,103.11 379.58,103.21 379.94,103.31 380.31,103.42 380.67,103.52 381.03,103.62 381.39,103.72 381.75,103.83 382.12,103.93 382.48,104.04 382.84,104.15 383.2,104.26 383.56,104.37 383.93,104.48 384.29,104.59 384.65,104.71 385.01,104.82 385.37,104.94 385.74,105.06 386.1,105.19 386.46,105.32 386.82,105.45 387.18,105.58 387.55,105.72 387.91,105.87 388.27,106.02 388.63,106.17 388.99,106.33 389.36,106.5 389.72,106.67 390.08,106.84 390.44,107.03 390.8,107.22 391.17,107.42 391.53,107.62 391.89,107.83 392.25,108.04 392.61,108.26 392.98,108.48 393.34,108.7 393.7,108.93 394.06,109.16 394.42,109.38 394.79,109.61 395.15,109.84 395.51,110.07 395.87,110.29 396.23,110.52 396.6,110.74 396.96,110.95 397.32,111.17 397.68,111.37 398.04,111.58 398.41,111.77 398.77,111.97 399.13,112.15 399.49,112.33 399.85,112.51 400.22,112.67 400.58,112.83 400.94,112.98 401.3,113.12 401.66,113.26 402.03,113.38 402.39,113.5 402.75,113.6 403.11,113.7 403.47,113.78 403.84,113.85 404.2,113.91 404.56,113.96 404.92,114 405.28,114.02 405.65,114.03 406.01,114.03 406.37,114.01 406.73,113.98 407.09,113.93 407.46,113.87 407.82,113.8 408.18,113.71 408.54,113.6 408.9,113.49 409.27,113.36 409.63,113.22 409.99,113.06 410.35,112.89 410.71,112.71 411.08,112.51 411.44,112.3 411.8,112.08 412.16,111.85 412.52,111.6 412.89,111.35 413.25,111.09 413.61,110.81 413.97,110.53 414.33,110.23 414.7,109.93 415.06,109.62 415.42,109.3 415.78,108.98 416.14,108.64 416.51,108.3 416.87,107.96 417.23,107.61 417.59,107.25 417.95,106.89 418.32,106.52 418.68,106.15 419.04,105.77 419.4,105.39 419.76,105.01 420.13,104.62 420.49,104.23 420.85,103.84 421.21,103.44 421.57,103.04 421.94,102.64 422.3,102.24 422.66,101.84 423.02,101.44 423.38,101.04 423.75,100.64 424.11,100.25 424.47,99.86 424.83,99.49 425.19,99.13 425.56,98.79 425.92,98.48 426.28,98.2 426.64,97.94 427,97.73 427.37,97.55 427.73,97.42 428.09,97.33 428.45,97.29 428.81,97.31 429.18,97.38 429.54,97.5 429.9,97.68 430.26,97.91 430.62,98.19 430.99,98.52 431.35,98.9 431.71,99.34 432.07,99.82 432.43,100.35 432.8,100.91 433.16,101.52 433.52,102.15 433.88,102.8 434.24,103.47 434.61,104.16 434.97,104.86 435.33,105.55 435.69,106.25 436.05,106.93 436.42,107.6 436.78,108.26 437.14,108.9 437.5,109.52 437.86,110.12 438.23,110.69 438.59,111.24 438.95,111.77 439.31,112.27 439.67,112.74 440.04,113.18 440.4,113.59 440.76,113.96 441.12,114.3 441.48,114.61 441.85,114.88 442.21,115.12 442.57,115.32 442.93,115.49 443.29,115.62 443.66,115.72 444.02,115.79 444.38,115.82 444.74,115.81 445.1,115.78 445.47,115.71 445.83,115.6 446.19,115.47 446.55,115.3 446.91,115.11 447.28,114.88 447.64,114.62 448,114.34 448.36,114.02 448.72,113.68 449.09,113.32 449.45,112.93 449.81,112.53 450.17,112.1 450.53,111.67 450.9,111.22 451.26,110.76 451.62,110.29 451.98,109.82 452.34,109.34 452.71,108.87 453.07,108.39 453.43,107.92 453.79,107.46 454.15,107.01 454.52,106.56 454.88,106.12 455.24,105.7 455.6,105.28 455.96,104.88 456.33,104.48 456.69,104.11 457.05,103.74 457.41,103.39 457.77,103.06 458.14,102.74 458.5,102.44 458.86,102.16 459.22,101.9 459.58,101.66 459.95,101.43 460.31,101.22 460.67,101.02 461.03,100.84 461.39,100.67 461.76,100.51 462.12,100.37 462.48,100.23 462.84,100.09 463.2,99.97 463.57,99.85 463.93,99.73 464.29,99.62 464.65,99.52 465.01,99.42 465.38,99.33 465.74,99.25 466.1,99.18 466.46,99.12 466.82,99.07 467.19,99.03 467.55,99.01 467.91,99 468.27,99 468.63,99.01 469,99.03 469.36,99.07 469.72,99.11 470.08,99.17 470.44,99.23 470.81,99.31 471.17,99.39 471.53,99.47 471.89,99.57 472.25,99.66 472.62,99.77 472.98,99.87 473.34,99.98 473.7,100.1 474.06,100.21 474.43,100.33 474.79,100.45 475.15,100.58 475.51,100.7 475.87,100.82 476.24,100.94 476.6,101.07 476.96,101.19 477.32,101.31 477.68,101.43 478.05,101.55 478.41,101.66 478.77,101.78 479.13,101.89 479.49,101.99 479.86,102.1 480.22,102.2 480.58,102.29 480.94,102.39 481.3,102.48 481.67,102.58 482.03,102.67 482.39,102.77 482.75,102.87 483.11,102.98 483.48,103.09 483.84,103.22 484.2,103.34 484.56,103.48 484.92,103.63 485.29,103.79 485.65,103.96 486.01,104.14 486.37,104.34 486.73,104.55 487.1,104.78 487.46,105.02 487.82,105.28 488.18,105.55 488.54,105.84 488.91,106.14 489.27,106.46 489.63,106.8 489.99,107.15 490.35,107.51 490.72,107.89 491.08,108.29 491.44,108.7 491.8,109.11 492.16,109.53 492.53,109.95 492.89,110.38 493.25,110.79 493.61,111.2 493.97,111.6 494.34,111.99 494.7,112.35 495.06,112.7 495.42,113.03 495.78,113.32 496.15,113.57 496.51,113.79 496.87,113.95 497.23,114.05 497.59,114.1 497.96,114.07 498.32,113.97 498.68,113.8 499.04,113.57 499.4,113.27 499.77,112.91 500.13,112.49 500.49,112 500.85,111.47 501.21,110.87 501.58,110.23 501.94,109.56 502.3,108.85 502.66,108.11 503.02,107.37 503.39,106.61 503.75,105.86 504.11,105.12 504.47,104.39 504.83,103.69 505.2,103.02 505.56,102.38 505.92,101.78 506.28,101.21 506.64,100.68 507.01,100.19 507.37,99.73 507.73,99.31 508.09,98.93 508.45,98.59 508.82,98.31 509.18,98.09 509.54,97.95 509.9,97.89 510.26,97.92 510.63,98.03 510.99,98.22 511.35,98.47 511.71,98.77 512.07,99.12 512.44,99.51 512.8,99.93 513.16,100.38 513.52,100.85 513.88,101.35 514.25,101.87 514.61,102.41 514.97,102.98 515.33,103.56 515.69,104.16 516.06,104.77 516.42,105.39 516.78,106.03 517.14,106.67 517.5,107.32 517.87,107.97 518.23,108.62 518.59,109.25 518.95,109.88 519.31,110.49 519.68,111.09 520.04,111.65 520.4,112.19 520.76,112.7 521.12,113.18 521.49,113.61 521.85,114 522.21,114.36 522.57,114.67 522.93,114.95 523.3,115.19 523.66,115.39 524.02,115.55 524.38,115.67 524.74,115.76 525.11,115.81 525.47,115.82 525.83,115.8 526.19,115.74 526.55,115.64 526.92,115.51 527.28,115.34 527.64,115.13 528,114.88 528.36,114.6 528.73,114.28 529.09,113.92 529.45,113.53 529.81,113.11 530.17,112.68 530.54,112.22 530.9,111.76 531.26,111.29 531.62,110.83 531.98,110.37 532.35,109.92 532.71,109.48 533.07,109.08 533.43,108.69 533.79,108.35 534.16,108.04 534.52,107.77 534.88,107.56"/>
<rect class="sp" x="310.6" y="83.2" width="235.35" height="43.9"/>
<path class="tk" d="M321.3 127.1v2.3M357.5 127.1v2.3M393.7 127.1v2.3M429.9 127.1v2.3M466.1 127.1v2.3M502.3 127.1v2.3M538.5 127.1v2.3M310.6 91.2h-2.3M310.6 106.5h-2.3M310.6 122h-2.3"/>
<text class="t" x="321.65" y="136.44" text-anchor="middle">0</text>
<text class="t" x="357.85" y="136.44" text-anchor="middle">500</text>
<text class="t" x="394.05" y="136.44" text-anchor="middle">1000</text>
<text class="t" x="430.25" y="136.44" text-anchor="middle">1500</text>
<text class="t" x="466.45" y="136.44" text-anchor="middle">2000</text>
<text class="t" x="502.65" y="136.44" text-anchor="middle">2500</text>
<text class="t" x="538.85" y="136.44" text-anchor="middle">3000</text>
<text class="t" x="306.3" y="93.57" text-anchor="end">25</text>
<text class="t" x="306.3" y="108.87" text-anchor="end">0</text>
<text class="t" x="306.3" y="124.37" text-anchor="end">−25</text>
<text class="t" text-anchor="middle" transform="translate(288.3 105.15) rotate(-90)">IMF 7</text>
</g>
<g>
<clipPath id="c7"><rect x="310.6" y="152.9" width="235.35" height="43.9"/></clipPath>
<polyline class="ln" clip-path="url(#c7)" points="321.3,154.52 321.66,154.9 322.02,155.29 322.39,155.7 322.75,156.11 323.11,156.53 323.47,156.96 323.83,157.4 324.2,157.85 324.56,158.31 324.92,158.77 325.28,159.25 325.64,159.73 326.01,160.21 326.37,160.7 326.73,161.2 327.09,161.71 327.45,162.22 327.82,162.73 328.18,163.25 328.54,163.77 328.9,164.3 329.26,164.83 329.63,165.36 329.99,165.9 330.35,166.44 330.71,166.98 331.07,167.52 331.44,168.07 331.8,168.61 332.16,169.16 332.52,169.71 332.88,170.26 333.25,170.8 333.61,171.35 333.97,171.9 334.33,172.44 334.69,172.98 335.06,173.52 335.42,174.06 335.78,174.6 336.14,175.13 336.5,175.66 336.87,176.19 337.23,176.71 337.59,177.23 337.95,177.74 338.31,178.25 338.68,178.75 339.04,179.25 339.4,179.74 339.76,180.22 340.12,180.7 340.49,181.17 340.85,181.63 341.21,182.09 341.57,182.54 341.93,182.97 342.3,183.4 342.66,183.82 343.02,184.23 343.38,184.64 343.74,185.03 344.11,185.41 344.47,185.79 344.83,186.15 345.19,186.51 345.55,186.85 345.92,187.19 346.28,187.52 346.64,187.84 347,188.16 347.36,188.46 347.73,188.76 348.09,189.05 348.45,189.33 348.81,189.6 349.17,189.86 349.54,190.12 349.9,190.37 350.26,190.61 350.62,190.85 350.98,191.07 351.35,191.29 351.71,191.51 352.07,191.71 352.43,191.91 352.79,192.1 353.16,192.29 353.52,192.47 353.88,192.64 354.24,192.8 354.6,192.96 354.97,193.11 355.33,193.26 355.69,193.4 356.05,193.53 356.41,193.66 356.78,193.77 357.14,193.89 357.5,193.99 357.86,194.09 358.22,194.18 358.59,194.27 358.95,194.34 359.31,194.42 359.67,194.48 360.03,194.54 360.4,194.59 360.76,194.63 361.12,194.67 361.48,194.7 361.84,194.72 362.21,194.74 362.57,194.75 362.93,194.75 363.29,194.75 363.65,194.73 364.02,194.71 364.38,194.69 364.74,194.65 365.1,194.61 365.46,194.57 365.83,194.51 366.19,194.45 366.55,194.39 366.91,194.31 367.27,194.23 367.64,194.15 368,194.06 368.36,193.96 368.72,193.85 369.08,193.74 369.45,193.63 369.81,193.51 370.17,193.38 370.53,193.25 370.89,193.11 371.26,192.97 371.62,192.83 371.98,192.68 372.34,192.52 372.7,192.36 373.07,192.19 373.43,192.03 373.79,191.85 374.15,191.67 374.51,191.49 374.88,191.31 375.24,191.12 375.6,190.93 375.96,190.73 376.32,190.53 376.69,190.33 377.05,190.12 377.41,189.91 377.77,189.7 378.13,189.48 378.5,189.26 378.86,189.04 379.22,188.82 379.58,188.59 379.94,188.36 380.31,188.13 380.67,187.89 381.03,187.65 381.39,187.41 381.75,187.17 382.12,186.92 382.48,186.68 382.84,186.43 383.2,186.17 383.56,185.92 383.93,185.66 384.29,185.41 384.65,185.15 385.01,184.88 385.37,184.62 385.74,184.36 386.1,184.09 386.46,183.82 386.82,183.55 387.18,183.28 387.55,183.01 387.91,182.74 388.27,182.47 388.63,182.19 388.99,181.91 389.36,181.64 389.72,181.36 390.08,181.08 390.44,180.8 390.8,180.53 391.17,180.25 391.53,179.97 391.89,179.69 392.25,179.41 392.61,179.13 392.98,178.86 393.34,178.58 393.7,178.3 394.06,178.03 394.42,177.75 394.79,177.48 395.15,177.21 395.51,176.94 395.87,176.67 396.23,176.4 396.6,176.13 396.96,175.87 397.32,175.61 397.68,175.35 398.04,175.09 398.41,174.83 398.77,174.58 399.13,174.33 399.49,174.08 399.85,173.84 400.22,173.6 400.58,173.36 400.94,173.12 401.3,172.89 401.66,172.66 402.03,172.44 402.39,172.22 402.75,172 403.11,171.78 403.47,171.57 403.84,171.37 404.2,171.16 404.56,170.96 404.92,170.77 405.28,170.57 405.65,170.38 406.01,170.19 406.37,170.01 406.73,169.83 407.09,169.65 407.46,169.48 407.82,169.31 408.18,169.14 408.54,168.98 408.9,168.82 409.27,168.66 409.63,168.5 409.99,168.35 410.35,168.2 410.71,168.06 411.08,167.92 411.44,167.78 411.8,167.64 412.16,167.51 412.52,167.38 412.89,167.25 413.25,167.13 413.61,167.01 413.97,166.89 414.33,166.77 414.7,166.66 415.06,166.55 415.42,166.44 415.78,166.34 416.14,166.24 416.51,166.15 416.87,166.06 417.23,165.97 417.59,165.89 417.95,165.82 418.32,165.75 418.68,165.69 419.04,165.63 419.4,165.58 419.76,165.54 420.13,165.5 420.49,165.47 420.85,165.45 421.21,165.44 421.57,165.43 421.94,165.44 422.3,165.45 422.66,165.47 423.02,165.5 423.38,165.54 423.75,165.59 424.11,165.65 424.47,165.71 424.83,165.78 425.19,165.86 425.56,165.95 425.92,166.03 426.28,166.13 426.64,166.23 427,166.33 427.37,166.44 427.73,166.55 428.09,166.67 428.45,166.79 428.81,166.91 429.18,167.04 429.54,167.16 429.9,167.3 430.26,167.43 430.62,167.57 430.99,167.71 431.35,167.86 431.71,168.01 432.07,168.16 432.43,168.31 432.8,168.46 433.16,168.62 433.52,168.78 433.88,168.94 434.24,169.1 434.61,169.26 434.97,169.43 435.33,169.59 435.69,169.76 436.05,169.93 436.42,170.1 436.78,170.27 437.14,170.44 437.5,170.61 437.86,170.78 438.23,170.95 438.59,171.13 438.95,171.3 439.31,171.48 439.67,171.65 440.04,171.83 440.4,172 440.76,172.18 441.12,172.35 441.48,172.53 441.85,172.71 442.21,172.88 442.57,173.06 442.93,173.23 443.29,173.41 443.66,173.59 444.02,173.76 444.38,173.94 444.74,174.11 445.1,174.29 445.47,174.46 445.83,174.63 446.19,174.81 446.55,174.98 446.91,175.15 447.28,175.32 447.64,175.49 448,175.66 448.36,175.83 448.72,175.99 449.09,176.16 449.45,176.32 449.81,176.48 450.17,176.64 450.53,176.8 450.9,176.96 451.26,177.11 451.62,177.26 451.98,177.41 452.34,177.56 452.71,177.7 453.07,177.85 453.43,177.99 453.79,178.12 454.15,178.26 454.52,178.39 454.88,178.52 455.24,178.64 455.6,178.76 455.96,178.88 456.33,179 456.69,179.11 457.05,179.22 457.41,179.32 457.77,179.42 458.14,179.52 458.5,179.62 458.86,179.71 459.22,179.8 459.58,179.88 459.95,179.96 460.31,180.04 460.67,180.11 461.03,180.19 461.39,180.25 461.76,180.32 462.12,180.38 462.48,180.43 462.84,180.49 463.2,180.54 463.57,180.58 463.93,180.62 464.29,180.66 464.65,180.7 465.01,180.73 465.38,180.76 465.74,180.78 466.1,180.8 466.46,180.82 466.82,180.83 467.19,180.84 467.55,180.84 467.91,180.84 468.27,180.84 468.63,180.83 469,180.82 469.36,180.81 469.72,180.79 470.08,180.77 470.44,180.75 470.81,180.72 471.17,180.69 471.53,180.65 471.89,180.61 472.25,180.57 472.62,180.53 472.98,180.48 473.34,180.43 473.7,180.37 474.06,180.31 474.43,180.25 474.79,180.19 475.15,180.12 475.51,180.05 475.87,179.97 476.24,179.89 476.6,179.81 476.96,179.73 477.32,179.64 477.68,179.56 478.05,179.46 478.41,179.37 478.77,179.27 479.13,179.18 479.49,179.08 479.86,178.98 480.22,178.87 480.58,178.77 480.94,178.66 481.3,178.56 481.67,178.45 482.03,178.34 482.39,178.23 482.75,178.13 483.11,178.02 483.48,177.91 483.84,177.8 484.2,177.69 484.56,177.58 484.92,177.47 485.29,177.37 485.65,177.26 486.01,177.16 486.37,177.05 486.73,176.95 487.1,176.85 487.46,176.75 487.82,176.65 488.18,176.56 488.54,176.46 488.91,176.37 489.27,176.28 489.63,176.2 489.99,176.11 490.35,176.03 490.72,175.95 491.08,175.88 491.44,175.8 491.8,175.73 492.16,175.66 492.53,175.59 492.89,175.52 493.25,175.46 493.61,175.4 493.97,175.34 494.34,175.28 494.7,175.23 495.06,175.18 495.42,175.13 495.78,175.08 496.15,175.04 496.51,174.99 496.87,174.96 497.23,174.92 497.59,174.88 497.96,174.85 498.32,174.82 498.68,174.79 499.04,174.77 499.4,174.75 499.77,174.73 500.13,174.71 500.49,174.69 500.85,174.68 501.21,174.67 501.58,174.66 501.94,174.65 502.3,174.65 502.66,174.65 503.02,174.65 503.39,174.65 503.75,174.66 504.11,174.67 504.47,174.68 504.83,174.69 505.2,174.7 505.56,174.72 505.92,174.74 506.28,174.76 506.64,174.78 507.01,174.8 507.37,174.83 507.73,174.85 508.09,174.88 508.45,174.91 508.82,174.95 509.18,174.98 509.54,175.01 509.9,175.05 510.26,175.09 510.63,175.13 510.99,175.17 511.35,175.21 511.71,175.25 512.07,175.29 512.44,175.34 512.8,175.38 513.16,175.43 513.52,175.47 513.88,175.52 514.25,175.57 514.61,175.62 514.97,175.67 515.33,175.72 515.69,175.77 516.06,175.82 516.42,175.87 516.78,175.92 517.14,175.97 517.5,176.02 517.87,176.07 518.23,176.12 518.59,176.17 518.95,176.22 519.31,176.27 519.68,176.32 520.04,176.37 520.4,176.42 520.76,176.47 521.12,176.51 521.49,176.56 521.85,176.61 522.21,176.65 522.57,176.69 522.93,176.73 523.3,176.78 523.66,176.82 524.02,176.85 524.38,176.89 524.74,176.93 525.11,176.96 525.47,176.99 525.83,177.02 526.19,177.05 526.55,177.08 526.92,177.1 527.28,177.13 527.64,177.15 528,177.17 528.36,177.18 528.73,177.2 529.09,177.21 529.45,177.22 529.81,177.22 530.17,177.23 530.54,177.23 530.9,177.23 531.26,177.23 531.62,177.22 531.98,177.21 532.35,177.2 532.71,177.18 533.07,177.16 533.43,177.14 533.79,177.12 534.16,177.09 534.52,177.06 534.88,177.02"/>
<rect class="sp" x="310.6" y="152.9" width="235.35" height="43.9"/>
<path class="tk" d="M321.3 196.8v2.3M357.5 196.8v2.3M393.7 196.8v2.3M429.9 196.8v2.3M466.1 196.8v2.3M502.3 196.8v2.3M538.5 196.8v2.3M310.6 162.6h-2.3M310.6 176.4h-2.3M310.6 190.3h-2.3"/>
<text class="t" x="321.65" y="206.14" text-anchor="middle">0</text>
<text class="t" x="357.85" y="206.14" text-anchor="middle">500</text>
<text class="t" x="394.05" y="206.14" text-anchor="middle">1000</text>
<text class="t" x="430.25" y="206.14" text-anchor="middle">1500</text>
<text class="t" x="466.45" y="206.14" text-anchor="middle">2000</text>
<text class="t" x="502.65" y="206.14" text-anchor="middle">2500</text>
<text class="t" x="538.85" y="206.14" text-anchor="middle">3000</text>
<text class="t" x="306.3" y="164.97" text-anchor="end">10</text>
<text class="t" x="306.3" y="178.77" text-anchor="end">0</text>
<text class="t" x="306.3" y="192.67" text-anchor="end">−10</text>
<text class="t" text-anchor="middle" transform="translate(289 174.85) rotate(-90)">IMF 8</text>
</g>
<g>
<clipPath id="c8"><rect x="310.6" y="222.65" width="235.35" height="43.9"/></clipPath>
<polyline class="ln" clip-path="url(#c8)" points="321.3,223.96 321.66,224.02 322.02,224.07 322.39,224.13 322.75,224.19 323.11,224.25 323.47,224.3 323.83,224.36 324.2,224.42 324.56,224.49 324.92,224.55 325.28,224.61 325.64,224.67 326.01,224.74 326.37,224.8 326.73,224.87 327.09,224.93 327.45,225 327.82,225.06 328.18,225.13 328.54,225.2 328.9,225.27 329.26,225.34 329.63,225.41 329.99,225.48 330.35,225.55 330.71,225.62 331.07,225.69 331.44,225.77 331.8,225.84 332.16,225.91 332.52,225.99 332.88,226.06 333.25,226.14 333.61,226.21 333.97,226.29 334.33,226.37 334.69,226.45 335.06,226.52 335.42,226.6 335.78,226.68 336.14,226.76 336.5,226.84 336.87,226.92 337.23,227.01 337.59,227.09 337.95,227.17 338.31,227.25 338.68,227.34 339.04,227.42 339.4,227.51 339.76,227.59 340.12,227.68 340.49,227.76 340.85,227.85 341.21,227.94 341.57,228.03 341.93,228.11 342.3,228.2 342.66,228.29 343.02,228.38 343.38,228.47 343.74,228.56 344.11,228.65 344.47,228.74 344.83,228.83 345.19,228.93 345.55,229.02 345.92,229.11 346.28,229.21 346.64,229.3 347,229.39 347.36,229.49 347.73,229.58 348.09,229.68 348.45,229.78 348.81,229.87 349.17,229.97 349.54,230.07 349.9,230.16 350.26,230.26 350.62,230.36 350.98,230.46 351.35,230.56 351.71,230.66 352.07,230.75 352.43,230.85 352.79,230.95 353.16,231.06 353.52,231.16 353.88,231.26 354.24,231.36 354.6,231.46 354.97,231.56 355.33,231.67 355.69,231.77 356.05,231.87 356.41,231.98 356.78,232.08 357.14,232.18 357.5,232.29 357.86,232.39 358.22,232.5 358.59,232.6 358.95,232.71 359.31,232.82 359.67,232.92 360.03,233.03 360.4,233.13 360.76,233.24 361.12,233.35 361.48,233.46 361.84,233.56 362.21,233.67 362.57,233.78 362.93,233.89 363.29,234 363.65,234.11 364.02,234.22 364.38,234.33 364.74,234.43 365.1,234.54 365.46,234.65 365.83,234.76 366.19,234.88 366.55,234.99 366.91,235.1 367.27,235.21 367.64,235.32 368,235.43 368.36,235.54 368.72,235.65 369.08,235.77 369.45,235.88 369.81,235.99 370.17,236.1 370.53,236.21 370.89,236.33 371.26,236.44 371.62,236.55 371.98,236.67 372.34,236.78 372.7,236.89 373.07,237.01 373.43,237.12 373.79,237.23 374.15,237.35 374.51,237.46 374.88,237.57 375.24,237.69 375.6,237.8 375.96,237.92 376.32,238.03 376.69,238.15 377.05,238.26 377.41,238.38 377.77,238.49 378.13,238.61 378.5,238.72 378.86,238.83 379.22,238.95 379.58,239.07 379.94,239.18 380.31,239.3 380.67,239.41 381.03,239.53 381.39,239.64 381.75,239.76 382.12,239.87 382.48,239.99 382.84,240.1 383.2,240.22 383.56,240.34 383.93,240.45 384.29,240.57 384.65,240.68 385.01,240.8 385.37,240.92 385.74,241.03 386.1,241.15 386.46,241.26 386.82,241.38 387.18,241.5 387.55,241.61 387.91,241.73 388.27,241.85 388.63,241.96 388.99,242.08 389.36,242.19 389.72,242.31 390.08,242.43 390.44,242.54 390.8,242.66 391.17,242.78 391.53,242.89 391.89,243.01 392.25,243.12 392.61,243.24 392.98,243.36 393.34,243.47 393.7,243.59 394.06,243.71 394.42,243.82 394.79,243.94 395.15,244.05 395.51,244.17 395.87,244.29 396.23,244.4 396.6,244.52 396.96,244.63 397.32,244.75 397.68,244.87 398.04,244.98 398.41,245.1 398.77,245.21 399.13,245.33 399.49,245.44 399.85,245.56 400.22,245.68 400.58,245.79 400.94,245.91 401.3,246.02 401.66,246.14 402.03,246.25 402.39,246.37 402.75,246.48 403.11,246.6 403.47,246.71 403.84,246.83 404.2,246.94 404.56,247.06 404.92,247.17 405.28,247.28 405.65,247.4 406.01,247.51 406.37,247.63 406.73,247.74 407.09,247.86 407.46,247.97 407.82,248.08 408.18,248.2 408.54,248.31 408.9,248.42 409.27,248.54 409.63,248.65 409.99,248.76 410.35,248.88 410.71,248.99 411.08,249.1 411.44,249.21 411.8,249.33 412.16,249.44 412.52,249.55 412.89,249.66 413.25,249.77 413.61,249.89 413.97,250 414.33,250.11 414.7,250.22 415.06,250.33 415.42,250.44 415.78,250.55 416.14,250.66 416.51,250.77 416.87,250.88 417.23,250.99 417.59,251.1 417.95,251.21 418.32,251.32 418.68,251.43 419.04,251.54 419.4,251.65 419.76,251.76 420.13,251.87 420.49,251.98 420.85,252.08 421.21,252.19 421.57,252.3 421.94,252.41 422.3,252.51 422.66,252.62 423.02,252.73 423.38,252.84 423.75,252.94 424.11,253.05 424.47,253.15 424.83,253.26 425.19,253.37 425.56,253.47 425.92,253.58 426.28,253.68 426.64,253.78 427,253.89 427.37,253.99 427.73,254.1 428.09,254.2 428.45,254.3 428.81,254.41 429.18,254.51 429.54,254.61 429.9,254.71 430.26,254.81 430.62,254.91 430.99,255.01 431.35,255.12 431.71,255.22 432.07,255.32 432.43,255.41 432.8,255.51 433.16,255.61 433.52,255.71 433.88,255.81 434.24,255.91 434.61,256 434.97,256.1 435.33,256.2 435.69,256.29 436.05,256.39 436.42,256.49 436.78,256.58 437.14,256.68 437.5,256.77 437.86,256.86 438.23,256.96 438.59,257.05 438.95,257.14 439.31,257.24 439.67,257.33 440.04,257.42 440.4,257.51 440.76,257.6 441.12,257.69 441.48,257.78 441.85,257.87 442.21,257.96 442.57,258.05 442.93,258.13 443.29,258.22 443.66,258.31 444.02,258.39 444.38,258.48 444.74,258.57 445.1,258.65 445.47,258.73 445.83,258.82 446.19,258.9 446.55,258.98 446.91,259.07 447.28,259.15 447.64,259.23 448,259.31 448.36,259.39 448.72,259.47 449.09,259.55 449.45,259.63 449.81,259.71 450.17,259.78 450.53,259.86 450.9,259.94 451.26,260.01 451.62,260.09 451.98,260.16 452.34,260.24 452.71,260.31 453.07,260.38 453.43,260.46 453.79,260.53 454.15,260.6 454.52,260.67 454.88,260.74 455.24,260.81 455.6,260.88 455.96,260.95 456.33,261.01 456.69,261.08 457.05,261.15 457.41,261.21 457.77,261.28 458.14,261.34 458.5,261.4 458.86,261.47 459.22,261.53 459.58,261.59 459.95,261.65 460.31,261.71 460.67,261.77 461.03,261.83 461.39,261.89 461.76,261.95 462.12,262 462.48,262.06 462.84,262.11 463.2,262.17 463.57,262.22 463.93,262.28 464.29,262.33 464.65,262.38 465.01,262.43 465.38,262.48 465.74,262.53 466.1,262.58 466.46,262.63 466.82,262.68 467.19,262.72 467.55,262.77 467.91,262.81 468.27,262.86 468.63,262.9 469,262.94 469.36,262.99 469.72,263.03 470.08,263.07 470.44,263.11 470.81,263.15 471.17,263.19 471.53,263.23 471.89,263.26 472.25,263.3 472.62,263.34 472.98,263.37 473.34,263.41 473.7,263.44 474.06,263.47 474.43,263.51 474.79,263.54 475.15,263.57 475.51,263.6 475.87,263.63 476.24,263.66 476.6,263.69 476.96,263.72 477.32,263.75 477.68,263.78 478.05,263.8 478.41,263.83 478.77,263.85 479.13,263.88 479.49,263.9 479.86,263.93 480.22,263.95 480.58,263.97 480.94,264 481.3,264.02 481.67,264.04 482.03,264.06 482.39,264.08 482.75,264.1 483.11,264.12 483.48,264.14 483.84,264.16 484.2,264.18 484.56,264.19 484.92,264.21 485.29,264.23 485.65,264.24 486.01,264.26 486.37,264.27 486.73,264.29 487.1,264.3 487.46,264.31 487.82,264.33 488.18,264.34 488.54,264.35 488.91,264.36 489.27,264.38 489.63,264.39 489.99,264.4 490.35,264.41 490.72,264.42 491.08,264.43 491.44,264.44 491.8,264.45 492.16,264.45 492.53,264.46 492.89,264.47 493.25,264.48 493.61,264.48 493.97,264.49 494.34,264.5 494.7,264.5 495.06,264.51 495.42,264.51 495.78,264.52 496.15,264.52 496.51,264.53 496.87,264.53 497.23,264.54 497.59,264.54 497.96,264.54 498.32,264.55 498.68,264.55 499.04,264.55 499.4,264.55 499.77,264.55 500.13,264.56 500.49,264.56 500.85,264.56 501.21,264.56 501.58,264.56 501.94,264.56 502.3,264.56 502.66,264.56 503.02,264.56 503.39,264.56 503.75,264.56 504.11,264.56 504.47,264.56 504.83,264.56 505.2,264.55 505.56,264.55 505.92,264.55 506.28,264.55 506.64,264.55 507.01,264.54 507.37,264.54 507.73,264.54 508.09,264.54 508.45,264.53 508.82,264.53 509.18,264.53 509.54,264.52 509.9,264.52 510.26,264.52 510.63,264.51 510.99,264.51 511.35,264.51 511.71,264.5 512.07,264.5 512.44,264.49 512.8,264.49 513.16,264.49 513.52,264.48 513.88,264.48 514.25,264.47 514.61,264.47 514.97,264.47 515.33,264.46 515.69,264.46 516.06,264.45 516.42,264.45 516.78,264.44 517.14,264.44 517.5,264.44 517.87,264.43 518.23,264.43 518.59,264.42 518.95,264.42 519.31,264.41 519.68,264.41 520.04,264.4 520.4,264.4 520.76,264.4 521.12,264.39 521.49,264.39 521.85,264.38 522.21,264.38 522.57,264.38 522.93,264.37 523.3,264.37 523.66,264.37 524.02,264.36 524.38,264.36 524.74,264.36 525.11,264.35 525.47,264.35 525.83,264.35 526.19,264.34 526.55,264.34 526.92,264.34 527.28,264.34 527.64,264.33 528,264.33 528.36,264.33 528.73,264.33 529.09,264.33 529.45,264.33 529.81,264.32 530.17,264.32 530.54,264.32 530.9,264.32 531.26,264.32 531.62,264.32 531.98,264.32 532.35,264.32 532.71,264.32 533.07,264.32 533.43,264.32 533.79,264.32 534.16,264.33 534.52,264.33 534.88,264.33"/>
<rect class="sp" x="310.6" y="222.65" width="235.35" height="43.9"/>
<path class="tk" d="M321.3 266.55v2.3M357.5 266.55v2.3M393.7 266.55v2.3M429.9 266.55v2.3M466.1 266.55v2.3M502.3 266.55v2.3M538.5 266.55v2.3M310.6 236.1h-2.3M310.6 255.4h-2.3"/>
<text class="t" x="321.65" y="275.89" text-anchor="middle">0</text>
<text class="t" x="357.85" y="275.89" text-anchor="middle">500</text>
<text class="t" x="394.05" y="275.89" text-anchor="middle">1000</text>
<text class="t" x="430.25" y="275.89" text-anchor="middle">1500</text>
<text class="t" x="466.45" y="275.89" text-anchor="middle">2000</text>
<text class="t" x="502.65" y="275.89" text-anchor="middle">2500</text>
<text class="t" x="538.85" y="275.89" text-anchor="middle">3000</text>
<text class="t" x="306.3" y="238.47" text-anchor="end">60</text>
<text class="t" x="306.3" y="257.77" text-anchor="end">40</text>
<text class="t" text-anchor="middle" transform="translate(293.75 244.6) rotate(-90)">IMF 9</text>
</g>
<g>
<clipPath id="c9"><rect x="310.6" y="292.4" width="235.35" height="43.9"/></clipPath>
<polyline class="ln" clip-path="url(#c9)" points="321.3,324.27 321.37,317.53 321.44,334.36 321.52,317.53 321.59,324.27 321.66,334.36 321.73,317.53 321.81,320.9 321.88,324.27 321.95,320.9 322.02,320.9 322.1,320.9 322.17,320.9 322.24,324.27 322.31,320.9 322.39,320.9 322.46,317.53 322.53,320.9 322.6,314.17 322.68,320.9 322.75,317.53 322.82,320.9 322.89,324.27 322.97,324.27 323.04,317.53 323.11,324.27 323.18,317.53 323.25,320.9 323.33,320.9 323.4,320.9 323.47,317.53 323.54,324.27 323.62,324.27 323.69,320.9 323.76,324.27 323.83,317.53 323.91,317.53 323.98,324.27 324.05,320.9 324.12,317.53 324.2,317.53 324.27,317.53 324.34,324.27 324.41,334.36 324.49,320.9 324.56,324.27 324.63,317.53 324.7,317.53 324.78,320.9 324.85,324.27 324.92,320.9 324.99,317.53 325.06,317.53 325.14,317.53 325.21,320.9 325.28,320.9 325.35,324.27 325.43,324.27 325.5,320.9 325.57,327.63 325.64,334.36 325.72,317.53 325.79,324.27 325.86,320.9 325.93,324.27 326.01,324.27 326.08,320.9 326.15,320.9 326.22,320.9 326.3,320.9 326.37,317.53 326.44,317.53 326.51,324.27 326.59,324.27 326.66,317.53 326.73,324.27 326.8,327.63 326.87,320.9 326.95,320.9 327.02,317.53 327.09,310.8 327.16,320.9 327.24,324.27 327.31,317.53 327.38,320.9 327.45,317.53 327.53,317.53 327.6,324.27 327.67,317.53 327.74,320.9 327.82,320.9 327.89,320.9 327.96,320.9 328.03,317.53 328.11,317.53 328.18,324.27 328.25,324.27 328.32,317.53 328.4,317.53 328.47,320.9 328.54,320.9 328.61,324.27 328.68,324.27 328.76,317.53 328.83,334.36 328.9,317.53 328.97,324.27 329.05,317.53 329.12,324.27 329.19,324.27 329.26,324.27 329.34,317.53 329.41,324.27 329.48,320.9 329.55,314.17 329.63,324.27 329.7,320.9 329.77,317.53 329.84,324.27 329.92,320.9 329.99,324.27 330.06,324.27 330.13,324.27 330.21,324.27 330.28,314.17 330.35,317.53 330.42,320.9 330.49,320.9 330.57,314.17 330.64,317.53 330.71,317.53 330.78,320.9 330.86,320.9 330.93,320.9 331,324.27 331.07,317.53 331.15,317.53 331.22,317.53 331.29,320.9 331.36,324.27 331.44,324.27 331.51,317.53 331.58,320.9 331.65,317.53 331.73,324.27 331.8,324.27 331.87,317.53 331.94,324.27 332.02,320.9 332.09,324.27 332.16,324.27 332.23,320.9 332.3,320.9 332.38,324.27 332.45,320.9 332.52,324.27 332.59,317.53 332.67,324.27 332.74,317.53 332.81,324.27 332.88,320.9 332.96,320.9 333.03,317.53 333.1,324.27 333.17,317.53 333.25,324.27 333.32,320.9 333.39,324.27 333.46,324.27 333.54,317.53 333.61,320.9 333.68,317.53 333.75,317.53 333.83,320.9 333.9,317.53 333.97,317.53 334.04,317.53 334.11,324.27 334.19,320.9 334.26,320.9 334.33,320.9 334.4,324.27 334.48,324.27 334.55,324.27 334.62,317.53 334.69,317.53 334.77,324.27 334.84,320.9 334.91,320.9 334.98,320.9 335.06,320.9 335.13,324.27 335.2,320.9 335.27,324.27 335.35,324.27 335.42,320.9 335.49,320.9 335.56,320.9 335.64,327.63 335.71,324.27 335.78,320.9 335.85,317.53 335.92,324.27 336,324.27 336.07,320.9 336.14,317.53 336.21,317.53 336.29,320.9 336.36,320.9 336.43,320.9 336.5,320.9 336.58,327.63 336.65,331 336.72,320.9 336.79,320.9 336.87,324.27 336.94,317.53 337.01,317.53 337.08,320.9 337.16,320.9 337.23,324.27 337.3,320.9 337.37,320.9 337.45,320.9 337.52,320.9 337.59,320.9 337.66,320.9 337.73,320.9 337.81,324.27 337.88,320.9 337.95,324.27 338.02,324.27 338.1,324.27 338.17,317.53 338.24,324.27 338.31,320.9 338.39,320.9 338.46,317.53 338.53,317.53 338.6,320.9 338.68,320.9 338.75,320.9 338.82,317.53 338.89,317.53 338.97,324.27 339.04,320.9 339.11,324.27 339.18,320.9 339.26,317.53 339.33,317.53 339.4,317.53 339.47,320.9 339.54,324.27 339.62,317.53 339.69,320.9 339.76,324.27 339.83,324.27 339.91,334.36 339.98,327.63 340.05,324.27 340.12,324.27 340.2,320.9 340.27,317.53 340.34,324.27 340.41,317.53 340.49,327.63 340.56,324.27 340.63,324.27 340.7,320.9 340.78,320.9 340.85,317.53 340.92,324.27 340.99,317.53 341.07,317.53 341.14,334.36 341.21,317.53 341.28,317.53 341.35,317.53 341.43,317.53 341.5,317.53 341.57,320.9 341.64,317.53 341.72,327.63 341.79,324.27 341.86,317.53 341.93,320.9 342.01,320.9 342.08,320.9 342.15,317.53 342.22,320.9 342.3,320.9 342.37,324.27 342.44,317.53 342.51,324.27 342.59,317.53 342.66,320.9 342.73,324.27 342.8,320.9 342.88,324.27 342.95,317.53 343.02,324.27 343.09,324.27 343.16,320.9 343.24,324.27 343.31,324.27 343.38,317.53 343.45,317.53 343.53,317.53 343.6,324.27 343.67,320.9 343.74,317.53 343.82,314.17 343.89,324.27 343.96,317.53 344.03,324.27 344.11,317.53 344.18,317.53 344.25,324.27 344.32,324.27 344.4,320.9 344.47,324.27 344.54,317.53 344.61,317.53 344.69,317.53 344.76,314.17 344.83,320.9 344.9,317.53 344.97,320.9 345.05,324.27 345.12,317.53 345.19,324.27 345.26,314.17 345.34,317.53 345.41,320.9 345.48,324.27 345.55,317.53 345.63,320.9 345.7,331 345.77,324.27 345.84,324.27 345.92,317.53 345.99,317.53 346.06,317.53 346.13,334.36 346.21,317.53 346.28,320.9 346.35,320.9 346.42,320.9 346.5,317.53 346.57,334.36 346.64,317.53 346.71,320.9 346.78,317.53 346.86,320.9 346.93,324.27 347,320.9 347.07,317.53 347.15,324.27 347.22,324.27 347.29,320.9 347.36,324.27 347.44,327.63 347.51,317.53 347.58,317.53 347.65,324.27 347.73,317.53 347.8,314.17 347.87,317.53 347.94,320.9 348.02,320.9 348.09,317.53 348.16,324.27 348.23,317.53 348.31,317.53 348.38,324.27 348.45,324.27 348.52,324.27 348.59,320.9 348.67,317.53 348.74,324.27 348.81,320.9 348.88,317.53 348.96,320.9 349.03,324.27 349.1,324.27 349.17,324.27 349.25,324.27 349.32,324.27 349.39,320.9 349.46,317.53 349.54,324.27 349.61,320.9 349.68,320.9 349.75,320.9 349.83,320.9 349.9,310.8 349.97,324.27 350.04,324.27 350.12,320.9 350.19,314.17 350.26,324.27 350.33,324.27 350.4,324.27 350.48,320.9 350.55,314.17 350.62,317.53 350.69,317.53 350.77,324.27 350.84,314.17 350.91,320.9 350.98,331 351.06,317.53 351.13,320.9 351.2,320.9 351.27,320.9 351.35,317.53 351.42,324.27 351.49,324.27 351.56,327.63 351.64,324.27 351.71,320.9 351.78,324.27 351.85,317.53 351.93,327.63 352,324.27 352.07,320.9 352.14,317.53 352.21,317.53 352.29,320.9 352.36,317.53 352.43,317.53 352.5,320.9 352.58,324.27 352.65,317.53 352.72,320.9 352.79,324.27 352.87,320.9 352.94,320.9 353.01,317.53 353.08,320.9 353.16,320.9 353.23,293.98 353.3,324.27 353.37,320.9 353.45,320.9 353.52,327.63 353.59,320.9 353.66,317.53 353.74,324.27 353.81,320.9 353.88,317.53 353.95,320.9 354.02,317.53 354.1,327.63 354.17,320.9 354.24,317.53 354.31,317.53 354.39,320.9 354.46,317.53 354.53,317.53 354.6,320.9 354.68,320.9 354.75,320.9 354.82,324.27 354.89,331 354.97,317.53 355.04,324.27 355.11,317.53 355.18,324.27 355.26,320.9 355.33,320.9 355.4,320.9 355.47,317.53 355.55,317.53 355.62,320.9 355.69,324.27 355.76,317.53 355.83,320.9 355.91,324.27 355.98,324.27 356.05,320.9 356.12,317.53 356.2,324.27 356.27,320.9 356.34,317.53 356.41,320.9 356.49,324.27 356.56,317.53 356.63,324.27 356.7,317.53 356.78,320.9 356.85,324.27 356.92,317.53 356.99,324.27 357.07,320.9 357.14,331 357.21,317.53 357.28,314.17 357.36,324.27 357.43,320.9 357.5,324.27 357.57,317.53 357.64,324.27 357.72,320.9 357.79,317.53 357.86,320.9 357.93,324.27 358.01,331 358.08,320.9 358.15,320.9 358.22,320.9 358.3,317.53 358.37,320.9 358.44,317.53 358.51,324.27 358.59,324.27 358.66,320.9 358.73,317.53 358.8,317.53 358.88,320.9 358.95,320.9 359.02,317.53 359.09,317.53 359.17,327.63 359.24,324.27 359.31,331 359.38,324.27 359.45,317.53 359.53,317.53 359.6,317.53 359.67,324.27 359.74,320.9 359.82,320.9 359.89,317.53 359.96,320.9 360.03,317.53 360.11,324.27 360.18,331 360.25,324.27 360.32,320.9 360.4,320.9 360.47,320.9 360.54,324.27 360.61,320.9 360.69,317.53 360.76,324.27 360.83,320.9 360.9,317.53 360.98,327.63 361.05,317.53 361.12,320.9 361.19,317.53 361.26,320.9 361.34,324.27 361.41,324.27 361.48,320.9 361.55,317.53 361.63,317.53 361.7,324.27 361.77,317.53 361.84,327.63 361.92,317.53 361.99,317.53 362.06,334.36 362.13,317.53 362.21,324.27 362.28,317.53 362.35,320.9 362.42,320.9 362.5,324.27 362.57,320.9 362.64,317.53 362.71,320.9 362.79,317.53 362.86,320.9 362.93,324.27 363,317.53 363.07,320.9 363.15,320.9 363.22,324.27 363.29,324.27 363.36,320.9 363.44,320.9 363.51,324.27 363.58,320.9 363.65,324.27 363.73,324.27 363.8,320.9 363.87,320.9 363.94,317.53 364.02,324.27 364.09,324.27 364.16,320.9 364.23,317.53 364.31,324.27 364.38,317.53 364.45,327.63 364.52,327.63 364.6,324.27 364.67,324.27 364.74,320.9 364.81,320.9 364.88,317.53 364.96,324.27 365.03,324.27 365.1,317.53 365.17,324.27 365.25,317.53 365.32,320.9 365.39,317.53 365.46,320.9 365.54,317.53 365.61,324.27 365.68,324.27 365.75,314.17 365.83,324.27 365.9,320.9 365.97,324.27 366.04,324.27 366.12,324.27 366.19,324.27 366.26,324.27 366.33,317.53 366.41,320.9 366.48,324.27 366.55,314.17 366.62,317.53 366.69,317.53 366.77,320.9 366.84,320.9 366.91,324.27 366.98,327.63 367.06,320.9 367.13,324.27 367.2,324.27 367.27,317.53 367.35,317.53 367.42,320.9 367.49,324.27 367.56,324.27 367.64,320.9 367.71,320.9 367.78,320.9 367.85,317.53 367.93,324.27 368,324.27 368.07,320.9 368.14,324.27 368.22,320.9 368.29,320.9 368.36,317.53 368.43,317.53 368.5,317.53 368.58,324.27 368.65,320.9 368.72,320.9 368.79,320.9 368.87,320.9 368.94,324.27 369.01,320.9 369.08,324.27 369.16,320.9 369.23,320.9 369.3,320.9 369.37,324.27 369.45,317.53 369.52,317.53 369.59,314.17 369.66,327.63 369.74,327.63 369.81,317.53 369.88,320.9 369.95,320.9 370.03,324.27 370.1,317.53 370.17,314.17 370.24,324.27 370.31,320.9 370.39,324.27 370.46,317.53 370.53,320.9 370.6,317.53 370.68,324.27 370.75,324.27 370.82,317.53 370.89,317.53 370.97,320.9 371.04,317.53 371.11,314.17 371.18,324.27 371.26,324.27 371.33,317.53 371.4,320.9 371.47,324.27 371.55,320.9 371.62,324.27 371.69,320.9 371.76,317.53 371.84,320.9 371.91,324.27 371.98,320.9 372.05,317.53 372.12,324.27 372.2,320.9 372.27,317.53 372.34,320.9 372.41,324.27 372.49,320.9 372.56,320.9 372.63,320.9 372.7,317.53 372.78,317.53 372.85,320.9 372.92,317.53 372.99,324.27 373.07,320.9 373.14,324.27 373.21,331 373.28,324.27 373.36,320.9 373.43,324.27 373.5,324.27 373.57,324.27 373.65,324.27 373.72,317.53 373.79,314.17 373.86,334.36 373.93,317.53 374.01,317.53 374.08,317.53 374.15,320.9 374.22,324.27 374.3,320.9 374.37,324.27 374.44,317.53 374.51,307.44 374.59,317.53 374.66,327.63 374.73,320.9 374.8,324.27 374.88,317.53 374.95,324.27 375.02,324.27 375.09,327.63 375.17,320.9 375.24,324.27 375.31,314.17 375.38,327.63 375.46,317.53 375.53,324.27 375.6,324.27 375.67,317.53 375.74,317.53 375.82,324.27 375.89,320.9 375.96,317.53 376.03,317.53 376.11,324.27 376.18,324.27 376.25,317.53 376.32,324.27 376.4,317.53 376.47,324.27 376.54,317.53 376.61,320.9 376.69,324.27 376.76,317.53 376.83,317.53 376.9,320.9 376.98,320.9 377.05,317.53 377.12,324.27 377.19,320.9 377.27,327.63 377.34,320.9 377.41,324.27 377.48,317.53 377.55,320.9 377.63,317.53 377.7,324.27 377.77,317.53 377.84,320.9 377.92,314.17 377.99,314.17 378.06,320.9 378.13,317.53 378.21,324.27 378.28,317.53 378.35,324.27 378.42,320.9 378.5,317.53 378.57,317.53 378.64,320.9 378.71,317.53 378.79,317.53 378.86,317.53 378.93,317.53 379,327.63 379.08,320.9 379.15,320.9 379.22,317.53 379.29,317.53 379.36,317.53 379.44,317.53 379.51,324.27 379.58,324.27 379.65,317.53 379.73,324.27 379.8,317.53 379.87,320.9 379.94,317.53 380.02,317.53 380.09,317.53 380.16,320.9 380.23,317.53 380.31,317.53 380.38,317.53 380.45,320.9 380.52,324.27 380.6,320.9 380.67,317.53 380.74,324.27 380.81,317.53 380.89,317.53 380.96,324.27 381.03,324.27 381.1,307.44 381.17,317.53 381.25,334.36 381.32,317.53 381.39,317.53 381.46,320.9 381.54,320.9 381.61,317.53 381.68,320.9 381.75,317.53 381.83,317.53 381.9,317.53 381.97,324.27 382.04,317.53 382.12,317.53 382.19,324.27 382.26,314.17 382.33,324.27 382.41,317.53 382.48,320.9 382.55,320.9 382.62,317.53 382.7,317.53 382.77,317.53 382.84,320.9 382.91,324.27 382.98,317.53 383.06,320.9 383.13,319.22 383.2,320.9 383.27,322.58 383.35,319.22 383.42,324.27 383.49,320.9 383.56,320.9 383.64,324.27 383.71,320.9 383.78,322.58 383.85,322.58 383.93,317.53 384,319.22 384.07,324.27 384.14,320.9 384.22,324.27 384.29,320.9 384.36,317.53 384.43,320.9 384.51,322.58 384.58,322.58 384.65,320.9 384.72,317.53 384.79,319.22 384.87,319.22 384.94,322.58 385.01,319.22 385.08,319.22 385.16,320.9 385.23,322.58 385.3,324.27 385.37,317.53 385.45,320.9 385.52,317.53 385.59,322.58 385.66,322.58 385.74,319.22 385.81,320.9 385.88,325.95 385.95,317.53 386.03,319.22 386.1,320.9 386.17,320.9 386.24,319.22 386.32,322.58 386.39,320.9 386.46,322.58 386.53,324.27 386.6,317.53 386.68,324.27 386.75,317.53 386.82,320.9 386.89,324.27 386.97,319.22 387.04,319.22 387.11,319.22 387.18,319.22 387.26,317.53 387.33,320.9 387.4,320.9 387.47,319.22 387.55,317.53 387.62,320.9 387.69,319.22 387.76,319.22 387.84,317.53 387.91,317.53 387.98,320.9 388.05,314.17 388.13,324.27 388.2,320.9 388.27,317.53 388.34,322.58 388.41,319.22 388.49,319.22 388.56,322.58 388.63,319.22 388.7,327.63 388.78,324.27 388.85,322.58 388.92,319.22 388.99,317.53 389.07,320.9 389.14,322.58 389.21,319.22 389.28,320.9 389.36,324.27 389.43,320.9 389.5,322.58 389.57,320.9 389.65,322.58 389.72,320.9 389.79,319.22 389.86,319.22 389.94,324.27 390.01,320.9 390.08,317.53 390.15,325.95 390.22,317.53 390.3,320.9 390.37,319.22 390.44,322.58 390.51,324.27 390.59,322.58 390.66,320.9 390.73,320.9 390.8,320.9 390.88,322.58 390.95,324.27 391.02,324.27 391.09,320.9 391.17,320.9 391.24,322.58 391.31,322.58 391.38,319.22 391.46,319.22 391.53,319.22 391.6,320.9 391.67,317.53 391.75,320.9 391.82,322.58 391.89,320.9 391.96,320.9 392.03,320.9 392.11,320.9 392.18,317.53 392.25,319.22 392.32,324.27 392.4,320.9 392.47,319.22 392.54,317.53 392.61,320.9 392.69,322.58 392.76,319.22 392.83,320.9 392.9,322.58 392.98,319.22 393.05,319.22 393.12,317.53 393.19,320.9 393.27,324.27 393.34,319.22 393.41,324.27 393.48,319.22 393.56,317.53 393.63,319.22 393.7,324.27 393.77,317.53 393.84,320.9 393.92,324.27 393.99,320.9 394.06,320.9 394.13,320.9 394.21,319.22 394.28,317.53 394.35,320.9 394.42,315.85 394.5,320.9 394.57,319.22 394.64,322.58 394.71,319.22 394.79,319.22 394.86,320.9 394.93,319.22 395,322.58 395.08,320.9 395.15,320.9 395.22,320.9 395.29,320.9 395.37,320.9 395.44,320.9 395.51,320.9 395.58,320.9 395.65,322.58 395.73,317.53 395.8,314.17 395.87,317.53 395.94,319.22 396.02,324.27 396.09,317.53 396.16,324.27 396.23,320.9 396.31,317.53 396.38,319.22 396.45,320.9 396.52,324.27 396.6,319.22 396.67,317.53 396.74,324.27 396.81,322.58 396.89,317.53 396.96,320.9 397.03,320.9 397.1,320.9 397.18,320.9 397.25,320.9 397.32,317.53 397.39,319.22 397.46,322.58 397.54,320.9 397.61,317.53 397.68,319.22 397.75,319.22 397.83,320.9 397.9,325.95 397.97,324.27 398.04,320.9 398.12,322.58 398.19,322.58 398.26,319.22 398.33,319.22 398.41,317.53 398.48,322.58 398.55,319.22 398.62,320.9 398.7,322.58 398.77,324.27 398.84,320.9 398.91,319.22 398.99,320.9 399.06,320.9 399.13,319.22 399.2,320.9 399.27,319.22 399.35,320.9 399.42,320.9 399.49,324.27 399.56,319.22 399.64,322.58 399.71,324.27 399.78,324.27 399.85,320.9 399.93,322.58 400,319.22 400.07,322.58 400.14,320.9 400.22,319.22 400.29,320.9 400.36,317.53 400.43,322.58 400.51,319.22 400.58,322.58 400.65,317.53 400.72,320.9 400.8,317.53 400.87,320.9 400.94,319.22 401.01,319.22 401.08,320.9 401.16,319.22 401.23,320.9 401.3,319.22 401.37,319.22 401.45,320.9 401.52,322.58 401.59,320.9 401.66,320.9 401.74,317.53 401.81,320.9 401.88,319.22 401.95,317.53 402.03,319.22 402.1,319.22 402.17,319.22 402.24,324.27 402.32,317.53 402.39,320.9 402.46,322.58 402.53,322.58 402.61,320.9 402.68,319.22 402.75,324.27 402.82,317.53 402.89,320.9 402.97,324.27 403.04,322.58 403.11,324.27 403.18,319.22 403.26,324.27 403.33,319.22 403.4,320.9 403.47,319.22 403.55,322.58 403.62,319.22 403.69,324.27 403.76,320.9 403.84,322.58 403.91,324.27 403.98,324.27 404.05,320.9 404.13,324.27 404.2,320.9 404.27,320.9 404.34,320.9 404.42,320.9 404.49,324.27 404.56,317.53 404.63,319.22 404.7,319.22 404.78,322.58 404.85,320.9 404.92,320.9 404.99,320.9 405.07,324.27 405.14,319.22 405.21,322.58 405.28,317.53 405.36,322.58 405.43,319.22 405.5,320.9 405.57,324.27 405.65,322.58 405.72,320.9 405.79,320.9 405.86,322.58 405.94,322.58 406.01,319.22 406.08,317.53 406.15,317.53 406.23,324.27 406.3,320.9 406.37,324.27 406.44,315.85 406.51,324.27 406.59,334.36 406.66,322.58 406.73,324.27 406.8,319.22 406.88,320.9 406.95,319.22 407.02,317.53 407.09,322.58 407.17,320.9 407.24,317.53 407.31,315.85 407.38,324.27 407.46,317.53 407.53,320.9 407.6,320.9 407.67,322.58 407.75,320.9 407.82,320.9 407.89,317.53 407.96,320.9 408.04,320.9 408.11,322.58 408.18,320.9 408.25,322.58 408.32,325.95 408.4,320.9 408.47,320.9 408.54,317.53 408.61,320.9 408.69,324.27 408.76,319.22 408.83,324.27 408.9,320.9 408.98,317.53 409.05,320.9 409.12,317.53 409.19,320.9 409.27,319.22 409.34,322.58 409.41,322.58 409.48,327.63 409.56,317.53 409.63,320.9 409.7,319.22 409.77,320.9 409.85,324.27 409.92,322.58 409.99,322.58 410.06,320.9 410.13,319.22 410.21,320.9 410.28,324.27 410.35,317.53 410.42,322.58 410.5,317.53 410.57,324.27 410.64,320.9 410.71,324.27 410.79,320.9 410.86,320.9 410.93,320.9 411,322.58 411.08,320.9 411.15,320.9 411.22,322.58 411.29,324.27 411.37,322.58 411.44,324.27 411.51,324.27 411.58,317.53 411.66,320.9 411.73,325.95 411.8,320.9 411.87,324.27 411.94,319.22 412.02,322.58 412.09,317.53 412.16,320.9 412.23,317.53 412.31,317.53 412.38,324.27 412.45,327.63 412.52,319.22 412.6,324.27 412.67,319.22 412.74,319.22 412.81,317.53 412.89,322.58 412.96,319.22 413.03,319.22 413.1,324.27 413.18,324.27 413.25,319.22 413.32,320.9 413.39,319.22 413.47,320.9 413.54,325.95 413.61,324.27 413.68,322.58 413.75,320.9 413.83,322.58 413.9,320.9 413.97,324.27 414.04,319.22 414.12,319.22 414.19,322.58 414.26,322.58 414.33,320.9 414.41,322.58 414.48,322.58 414.55,324.27 414.62,324.27 414.7,319.22 414.77,324.27 414.84,320.9 414.91,324.27 414.99,319.22 415.06,320.9 415.13,320.9 415.2,320.9 415.28,320.9 415.35,320.9 415.42,320.9 415.49,319.22 415.56,322.58 415.64,322.58 415.71,317.53 415.78,319.22 415.85,317.53 415.93,324.27 416,319.22 416.07,324.27 416.14,319.22 416.22,322.58 416.29,320.9 416.36,317.53 416.43,319.22 416.51,319.22 416.58,317.53 416.65,320.9 416.72,320.9 416.8,320.9 416.87,320.9 416.94,322.58 417.01,322.58 417.09,322.58 417.16,324.27 417.23,320.9 417.3,320.9 417.37,322.58 417.45,322.58 417.52,317.53 417.59,320.9 417.66,322.58 417.74,319.22 417.81,327.63 417.88,320.9 417.95,320.9 418.03,320.9 418.1,324.27 418.17,324.27 418.24,319.22 418.32,320.9 418.39,320.9 418.46,320.9 418.53,324.27 418.61,324.27 418.68,320.9 418.75,317.53 418.82,319.22 418.9,320.9 418.97,324.27 419.04,320.9 419.11,320.9 419.18,324.27 419.26,317.53 419.33,317.53 419.4,320.9 419.47,317.53 419.55,319.22 419.62,317.53 419.69,320.9 419.76,319.22 419.84,317.53 419.91,319.22 419.98,320.9 420.05,320.9 420.13,319.22 420.2,320.9 420.27,319.22 420.34,317.53 420.42,320.9 420.49,319.22 420.56,320.9 420.63,324.27 420.71,320.9 420.78,315.85 420.85,322.58 420.92,320.9 420.99,319.22 421.07,320.9 421.14,317.53 421.21,319.22 421.28,320.9 421.36,324.27 421.43,320.9 421.5,317.53 421.57,320.9 421.65,320.9 421.72,320.9 421.79,315.85 421.86,322.58 421.94,320.9 422.01,320.9 422.08,317.53 422.15,322.58 422.23,317.53 422.3,324.27 422.37,320.9 422.44,322.58 422.52,322.58 422.59,322.58 422.66,319.22 422.73,320.9 422.8,317.53 422.88,324.27 422.95,320.9 423.02,319.22 423.09,319.22 423.17,322.58 423.24,324.27 423.31,322.58 423.38,322.58 423.46,322.58 423.53,320.9 423.6,319.22 423.67,319.22 423.75,320.9 423.82,322.58 423.89,322.58 423.96,322.58 424.04,319.22 424.11,319.22 424.18,317.53 424.25,324.27 424.33,322.58 424.4,324.27 424.47,319.22 424.54,320.9 424.61,319.22 424.69,320.9 424.76,319.22 424.83,317.53 424.9,320.9 424.98,319.22 425.05,319.22 425.12,319.22 425.19,320.9 425.27,319.22 425.34,322.58 425.41,320.9 425.48,320.9 425.56,320.9 425.63,322.58 425.7,322.58 425.77,322.58 425.85,320.9 425.92,320.9 425.99,320.9 426.06,324.27 426.14,320.9 426.21,324.27 426.28,317.53 426.35,320.9 426.42,319.22 426.5,317.53 426.57,320.9 426.64,314.17 426.71,324.27 426.79,315.85 426.86,322.58 426.93,322.58 427,324.27 427.08,320.9 427.15,320.9 427.22,320.9 427.29,320.9 427.37,319.22 427.44,319.22 427.51,320.9 427.58,320.9 427.66,320.9 427.73,319.22 427.8,319.22 427.87,322.58 427.95,319.22 428.02,320.9 428.09,314.17 428.16,322.58 428.23,319.22 428.31,324.27 428.38,322.58 428.45,317.53 428.52,322.58 428.6,317.53 428.67,320.9 428.74,324.27 428.81,325.95 428.89,320.9 428.96,319.22 429.03,317.53 429.1,334.36 429.18,317.53 429.25,322.58 429.32,317.53 429.39,320.9 429.47,320.9 429.54,320.9 429.61,319.22 429.68,319.22 429.76,322.58 429.83,320.9 429.9,320.9 429.97,322.58 430.04,319.22 430.12,320.9 430.19,317.53 430.26,307.44 430.33,325.95 430.41,324.27 430.48,320.9 430.55,319.22 430.62,322.58 430.7,319.22 430.77,320.9 430.84,319.22 430.91,320.9 430.99,317.53 431.06,320.9 431.13,322.58 431.2,324.27 431.28,320.9 431.35,320.9 431.42,322.58 431.49,324.27 431.57,334.36 431.64,320.9 431.71,320.9 431.78,320.9 431.85,320.9 431.93,317.53 432,319.22 432.07,322.58 432.14,317.53 432.22,322.58 432.29,324.27 432.36,319.22 432.43,320.9 432.51,317.53 432.58,320.9 432.65,324.27 432.72,317.53 432.8,320.9 432.87,320.9 432.94,320.9 433.01,317.53 433.09,322.58 433.16,319.22 433.23,322.58 433.3,317.53 433.38,324.27 433.45,320.9 433.52,317.53 433.59,317.53 433.66,320.9 433.74,322.58 433.81,319.22 433.88,320.9 433.95,317.53 434.03,327.63 434.1,324.27 434.17,319.22 434.24,317.53 434.32,319.22 434.39,319.22 434.46,317.53 434.53,322.58 434.61,320.9 434.68,320.9 434.75,324.27 434.82,320.9 434.9,320.9 434.97,324.27 435.04,324.27 435.11,320.9 435.19,319.22 435.26,324.27 435.33,320.9 435.4,317.53 435.47,320.9 435.55,322.58 435.62,320.9 435.69,322.58 435.76,320.9 435.84,322.58 435.91,317.53 435.98,317.53 436.05,322.58 436.13,324.27 436.2,317.53 436.27,320.9 436.34,320.9 436.42,324.27 436.49,320.9 436.56,322.58 436.63,319.22 436.71,319.22 436.78,320.9 436.85,320.9 436.92,320.9 437,319.22 437.07,320.9 437.14,320.9 437.21,322.58 437.28,320.9 437.36,320.9 437.43,319.22 437.5,320.9 437.57,317.53 437.65,320.9 437.72,320.9 437.79,319.22 437.86,322.58 437.94,320.9 438.01,319.22 438.08,319.22 438.15,319.22 438.23,322.58 438.3,320.9 438.37,319.22 438.44,319.22 438.52,320.9 438.59,320.9 438.66,320.9 438.73,320.9 438.81,320.9 438.88,319.22 438.95,322.58 439.02,319.22 439.09,320.9 439.17,320.9 439.24,325.95 439.31,319.22 439.38,324.27 439.46,320.9 439.53,317.53 439.6,320.9 439.67,320.9 439.75,319.22 439.82,320.9 439.89,320.9 439.96,320.9 440.04,322.58 440.11,319.22 440.18,320.9 440.25,320.9 440.33,320.9 440.4,320.9 440.47,319.22 440.54,320.9 440.62,320.9 440.69,319.22 440.76,320.9 440.83,325.95 440.9,324.27 440.98,322.58 441.05,319.22 441.12,320.9 441.19,317.53 441.27,320.9 441.34,320.9 441.41,325.95 441.48,319.22 441.56,319.22 441.63,322.58 441.7,322.58 441.77,320.9 441.85,320.9 441.92,319.22 441.99,320.9 442.06,320.9 442.14,319.22 442.21,324.27 442.28,322.58 442.35,322.58 442.43,322.58 442.5,324.27 442.57,320.9 442.64,322.58 442.71,320.9 442.79,320.9 442.86,320.9 442.93,324.27 443,320.9 443.08,320.9 443.15,320.9 443.22,322.58 443.29,322.58 443.37,320.9 443.44,320.9 443.51,320.9 443.58,320.9 443.66,322.58 443.73,320.9 443.8,324.27 443.87,319.22 443.95,324.27 444.02,320.9 444.09,320.9 444.16,319.22 444.24,320.9 444.31,322.58 444.38,320.9 444.45,322.58 444.52,322.58 444.6,324.27 444.67,322.58 444.74,320.9 444.81,322.58 444.89,320.9 444.96,319.22 445.03,320.9 445.1,320.9 445.18,320.9 445.25,319.22 445.32,320.9 445.39,319.22 445.47,317.53 445.54,320.9 445.61,322.58 445.68,320.9 445.76,320.9 445.83,319.22 445.9,320.9 445.97,320.9 446.05,320.9 446.12,322.58 446.19,319.22 446.26,319.22 446.33,322.58 446.41,322.58 446.48,322.58 446.55,319.22 446.62,317.53 446.7,320.9 446.77,322.58 446.84,320.9 446.91,320.9 446.99,322.58 447.06,317.53 447.13,320.9 447.2,325.95 447.28,322.58 447.35,319.22 447.42,322.58 447.49,325.95 447.57,319.22 447.64,319.22 447.71,320.9 447.78,320.9 447.86,324.27 447.93,320.9 448,320.9 448.07,320.9 448.14,317.53 448.22,319.22 448.29,322.58 448.36,320.9 448.43,317.53 448.51,320.9 448.58,320.9 448.65,322.58 448.72,319.22 448.8,317.53 448.87,319.22 448.94,317.53 449.01,324.27 449.09,320.9 449.16,322.58 449.23,320.9 449.3,324.27 449.38,319.22 449.45,320.9 449.52,324.27 449.59,319.22 449.67,320.9 449.74,320.9 449.81,322.58 449.88,317.53 449.95,317.53 450.03,322.58 450.1,319.22 450.17,320.9 450.24,322.58 450.32,320.9 450.39,322.58 450.46,322.58 450.53,324.27 450.61,320.9 450.68,317.53 450.75,320.9 450.82,320.9 450.9,320.9 450.97,320.9 451.04,319.22 451.11,320.9 451.19,319.22 451.26,320.9 451.33,320.9 451.4,320.9 451.48,320.9 451.55,320.9 451.62,319.22 451.69,322.58 451.76,327.63 451.84,319.22 451.91,320.9 451.98,319.22 452.05,322.58 452.13,322.58 452.2,319.22 452.27,320.9 452.34,317.53 452.42,320.9 452.49,320.9 452.56,324.27 452.63,320.9 452.71,319.22 452.78,322.58 452.85,319.22 452.92,320.9 453,322.58 453.07,317.53 453.14,319.22 453.21,320.9 453.29,322.58 453.36,319.22 453.43,325.95 453.5,319.22 453.57,320.9 453.65,319.22 453.72,319.22 453.79,314.17 453.86,320.9 453.94,322.58 454.01,319.22 454.08,320.9 454.15,324.27 454.23,307.44 454.3,320.9 454.37,319.22 454.44,319.22 454.52,322.58 454.59,322.58 454.66,320.9 454.73,322.58 454.81,322.58 454.88,322.58 454.95,320.9 455.02,327.63 455.1,324.27 455.17,320.9 455.24,324.27 455.31,322.58 455.38,322.58 455.46,320.9 455.53,324.27 455.6,320.9 455.67,317.53 455.75,319.22 455.82,322.58 455.89,319.22 455.96,317.53 456.04,320.9 456.11,317.53 456.18,322.58 456.25,307.44 456.33,322.58 456.4,322.58 456.47,319.22 456.54,322.58 456.62,320.9 456.69,334.36 456.76,317.53 456.83,320.9 456.91,320.9 456.98,317.53 457.05,320.9 457.12,320.9 457.19,322.58 457.27,322.58 457.34,324.27 457.41,319.22 457.48,324.27 457.56,319.22 457.63,322.58 457.7,320.9 457.77,319.22 457.85,322.58 457.92,320.9 457.99,322.58 458.06,320.9 458.14,320.9 458.21,322.58 458.28,319.22 458.35,319.22 458.43,322.58 458.5,320.9 458.57,315.85 458.64,322.58 458.72,327.63 458.79,320.9 458.86,324.27 458.93,324.27 459,322.58 459.08,320.9 459.15,322.58 459.22,317.53 459.29,320.9 459.37,319.22 459.44,322.58 459.51,320.9 459.58,320.9 459.66,319.22 459.73,320.9 459.8,320.9 459.87,322.58 459.95,320.9 460.02,322.58 460.09,319.22 460.16,320.9 460.24,319.22 460.31,319.22 460.38,320.9 460.45,320.9 460.53,320.9 460.6,319.22 460.67,319.22 460.74,320.9 460.81,322.58 460.89,319.22 460.96,317.53 461.03,320.9 461.1,320.9 461.18,320.9 461.25,320.9 461.32,320.9 461.39,320.9 461.47,324.27 461.54,317.53 461.61,322.58 461.68,324.27 461.76,324.27 461.83,320.9 461.9,322.58 461.97,319.22 462.05,322.58 462.12,320.9 462.19,322.58 462.26,319.22 462.34,320.9 462.41,319.22 462.48,322.58 462.55,320.9 462.62,319.22 462.7,322.58 462.77,322.58 462.84,319.22 462.91,319.22 462.99,320.9 463.06,320.9 463.13,324.27 463.2,320.9 463.28,320.9 463.35,324.27 463.42,317.53 463.49,322.58 463.57,320.9 463.64,319.22 463.71,324.27 463.78,319.22 463.86,320.9 463.93,320.9 464,320.9 464.07,317.53 464.15,320.9 464.22,324.27 464.29,319.22 464.36,320.9 464.43,320.9 464.51,322.58 464.58,320.9 464.65,315.85 464.72,320.9 464.8,320.9 464.87,322.58 464.94,319.22 465.01,320.9 465.09,320.9 465.16,320.9 465.23,319.22 465.3,324.27 465.38,319.22 465.45,317.53 465.52,324.27 465.59,324.27 465.67,322.58 465.74,319.22 465.81,324.27 465.88,314.17 465.96,320.9 466.03,320.9 466.1,320.9 466.17,322.58 466.24,320.9 466.32,320.9 466.39,324.27 466.46,317.53 466.53,320.9 466.61,320.9 466.68,324.27 466.75,322.58 466.82,320.9 466.9,322.58 466.97,320.9 467.04,319.22 467.11,320.9 467.19,322.58 467.26,319.22 467.33,324.27 467.4,319.22 467.48,320.9 467.55,320.9 467.62,322.58 467.69,320.9 467.77,322.58 467.84,319.22 467.91,320.9 467.98,320.9 468.05,324.27 468.13,317.53 468.2,320.9 468.27,317.53 468.34,320.9 468.42,319.22 468.49,322.58 468.56,322.58 468.63,322.58 468.71,322.58 468.78,324.27 468.85,322.58 468.92,320.9 469,320.9 469.07,319.22 469.14,317.53 469.21,319.22 469.29,320.9 469.36,320.9 469.43,322.58 469.5,320.9 469.58,322.58 469.65,322.58 469.72,319.22 469.79,320.9 469.86,317.53 469.94,320.9 470.01,319.22 470.08,320.9 470.15,320.9 470.23,320.9 470.3,320.9 470.37,322.58 470.44,320.9 470.52,322.58 470.59,327.63 470.66,319.22 470.73,317.53 470.81,319.22 470.88,320.9 470.95,319.22 471.02,322.58 471.1,319.22 471.17,317.53 471.24,320.9 471.31,320.9 471.39,320.9 471.46,320.9 471.53,319.22 471.6,319.22 471.67,317.53 471.75,320.9 471.82,322.58 471.89,319.22 471.96,322.58 472.04,320.9 472.11,320.9 472.18,322.58 472.25,322.58 472.33,320.9 472.4,320.9 472.47,322.58 472.54,317.53 472.62,320.9 472.69,319.22 472.76,320.9 472.83,320.9 472.91,324.27 472.98,320.9 473.05,322.58 473.12,320.9 473.2,324.27 473.27,319.22 473.34,314.17 473.41,320.9 473.48,320.9 473.56,319.22 473.63,324.27 473.7,320.9 473.77,324.27 473.85,317.53 473.92,320.9 473.99,320.9 474.06,320.9 474.14,317.53 474.21,317.53 474.28,317.53 474.35,324.27 474.43,319.22 474.5,317.53 474.57,319.22 474.64,322.58 474.72,319.22 474.79,315.85 474.86,322.58 474.93,320.9 475.01,320.9 475.08,319.22 475.15,324.27 475.22,322.58 475.29,320.9 475.37,320.9 475.44,319.22 475.51,322.58 475.58,322.58 475.66,319.22 475.73,319.22 475.8,320.9 475.87,317.53 475.95,320.9 476.02,322.58 476.09,319.22 476.16,320.9 476.24,320.9 476.31,320.9 476.38,320.9 476.45,319.22 476.53,319.22 476.6,322.58 476.67,320.9 476.74,319.22 476.82,320.9 476.89,320.9 476.96,324.27 477.03,319.22 477.1,324.27 477.18,320.9 477.25,315.85 477.32,320.9 477.39,319.22 477.47,320.9 477.54,320.9 477.61,319.22 477.68,320.9 477.76,319.22 477.83,324.27 477.9,317.53 477.97,319.22 478.05,320.9 478.12,319.22 478.19,319.22 478.26,322.58 478.34,319.22 478.41,314.17 478.48,320.9 478.55,319.22 478.63,319.22 478.7,322.58 478.77,325.95 478.84,322.58 478.91,322.58 478.99,322.58 479.06,320.9 479.13,319.22 479.2,319.22 479.28,325.95 479.35,320.9 479.42,322.58 479.49,319.22 479.57,320.9 479.64,324.27 479.71,324.27 479.78,320.9 479.86,320.9 479.93,322.58 480,320.9 480.07,320.9 480.15,322.58 480.22,320.9 480.29,320.9 480.36,319.22 480.44,320.9 480.51,324.27 480.58,324.27 480.65,319.22 480.72,320.9 480.8,320.9 480.87,320.9 480.94,317.53 481.01,317.53 481.09,320.9 481.16,320.9 481.23,322.58 481.3,317.53 481.38,320.9 481.45,319.22 481.52,322.58 481.59,322.58 481.67,320.9 481.74,320.9 481.81,320.9 481.88,320.9 481.96,324.27 482.03,322.58 482.1,320.9 482.17,320.9 482.25,317.53 482.32,320.9 482.39,320.9 482.46,319.22 482.53,319.22 482.61,320.9 482.68,322.58 482.75,317.53 482.82,322.58 482.9,320.9 482.97,334.36 483.04,320.9 483.11,320.9 483.19,319.22 483.26,317.53 483.33,320.9 483.4,317.53 483.48,319.22 483.55,320.9 483.62,320.9 483.69,319.22 483.77,322.58 483.84,320.9 483.91,319.22 483.98,320.9 484.06,324.27 484.13,320.9 484.2,319.22 484.27,320.9 484.34,322.58 484.42,322.58 484.49,320.9 484.56,322.58 484.63,320.9 484.71,322.58 484.78,322.58 484.85,320.9 484.92,322.58 485,322.58 485.07,322.58 485.14,322.58 485.21,320.9 485.29,319.22 485.36,320.9 485.43,320.9 485.5,324.27 485.58,319.22 485.65,320.9 485.72,317.53 485.79,317.53 485.87,319.22 485.94,322.58 486.01,320.9 486.08,320.9 486.15,320.9 486.23,322.58 486.3,319.22 486.37,320.9 486.44,320.9 486.52,320.9 486.59,324.27 486.66,320.9 486.73,320.9 486.81,320.9 486.88,320.9 486.95,322.58 487.02,319.22 487.1,324.27 487.17,320.9 487.24,322.58 487.31,320.9 487.39,320.9 487.46,322.58 487.53,324.27 487.6,317.53 487.68,320.9 487.75,320.9 487.82,319.22 487.89,322.58 487.96,320.9 488.04,319.22 488.11,322.58 488.18,322.58 488.25,320.9 488.33,320.9 488.4,320.9 488.47,320.9 488.54,319.22 488.62,324.27 488.69,324.27 488.76,322.58 488.83,324.27 488.91,322.58 488.98,319.22 489.05,320.9 489.12,320.9 489.2,320.9 489.27,320.9 489.34,319.22 489.41,320.9 489.49,320.9 489.56,320.9 489.63,322.58 489.7,317.53 489.77,320.9 489.85,320.9 489.92,317.53 489.99,320.9 490.06,322.58 490.14,322.58 490.21,320.9 490.28,320.9 490.35,319.22 490.43,322.58 490.5,320.9 490.57,322.58 490.64,320.9 490.72,320.9 490.79,320.9 490.86,322.58 490.93,320.9 491.01,319.22 491.08,317.53 491.15,319.22 491.22,322.58 491.3,320.9 491.37,320.9 491.44,322.58 491.51,320.9 491.58,320.9 491.66,322.58 491.73,322.58 491.8,319.22 491.87,320.9 491.95,319.22 492.02,322.58 492.09,320.9 492.16,320.9 492.24,320.9 492.31,320.9 492.38,324.27 492.45,320.9 492.53,319.22 492.6,324.27 492.67,319.22 492.74,322.58 492.82,320.9 492.89,322.58 492.96,320.9 493.03,320.9 493.11,320.9 493.18,322.58 493.25,320.9 493.32,320.9 493.39,320.9 493.47,320.9 493.54,315.85 493.61,320.9 493.68,325.95 493.76,322.58 493.83,320.9 493.9,322.58 493.97,317.53 494.05,320.9 494.12,319.22 494.19,319.22 494.26,319.22 494.34,320.9 494.41,320.9 494.48,319.22 494.55,322.58 494.63,322.58 494.7,320.9 494.77,322.58 494.84,319.22 494.92,322.58 494.99,320.9 495.06,319.22 495.13,319.22 495.2,324.27 495.28,322.58 495.35,319.22 495.42,320.9 495.49,320.9 495.57,320.9 495.64,320.9 495.71,320.9 495.78,322.58 495.86,317.53 495.93,319.22 496,319.22 496.07,320.9 496.15,324.27 496.22,320.9 496.29,320.9 496.36,320.9 496.44,317.53 496.51,320.9 496.58,320.9 496.65,320.9 496.73,322.58 496.8,320.9 496.87,320.9 496.94,322.58 497.01,319.22 497.09,322.58 497.16,320.9 497.23,320.9 497.3,320.9 497.38,319.22 497.45,320.9 497.52,320.9 497.59,322.58 497.67,320.9 497.74,319.22 497.81,322.58 497.88,322.58 497.96,319.22 498.03,320.9 498.1,319.22 498.17,320.9 498.25,325.95 498.32,317.53 498.39,317.53 498.46,320.9 498.54,320.9 498.61,319.22 498.68,319.22 498.75,320.9 498.82,322.58 498.9,319.22 498.97,320.9 499.04,320.9 499.11,320.9 499.19,319.22 499.26,319.22 499.33,320.9 499.4,322.58 499.48,320.9 499.55,319.22 499.62,320.9 499.69,322.58 499.77,322.58 499.84,319.22 499.91,320.9 499.98,320.9 500.06,322.58 500.13,319.22 500.2,320.9 500.27,320.9 500.35,320.9 500.42,320.9 500.49,320.9 500.56,320.9 500.63,320.9 500.71,322.58 500.78,319.22 500.85,320.9 500.92,319.22 501,320.9 501.07,319.22 501.14,319.22 501.21,320.9 501.29,322.58 501.36,320.9 501.43,322.58 501.5,320.9 501.58,322.58 501.65,320.9 501.72,319.22 501.79,319.22 501.87,322.58 501.94,319.22 502.01,319.22 502.08,320.9 502.16,322.58 502.23,322.58 502.3,320.9 502.37,319.22 502.44,322.58 502.52,320.9 502.59,320.9 502.66,320.9 502.73,320.9 502.81,320.9 502.88,322.58 502.95,320.9 503.02,320.9 503.1,322.58 503.17,320.9 503.24,322.58 503.31,320.9 503.39,319.22 503.46,320.9 503.53,320.9 503.6,319.22 503.68,320.9 503.75,319.22 503.82,319.22 503.89,322.58 503.97,322.58 504.04,320.9 504.11,320.9 504.18,320.9 504.25,320.9 504.33,320.9 504.4,319.22 504.47,320.9 504.54,320.9 504.62,320.9 504.69,320.9 504.76,320.9 504.83,320.9 504.91,320.9 504.98,320.9 505.05,324.27 505.12,322.58 505.2,322.58 505.27,322.58 505.34,320.9 505.41,319.22 505.49,322.58 505.56,319.22 505.63,322.58 505.7,319.22 505.78,320.9 505.85,320.9 505.92,319.22 505.99,322.58 506.06,320.9 506.14,319.22 506.21,320.9 506.28,319.22 506.35,320.9 506.43,319.22 506.5,322.58 506.57,320.9 506.64,320.9 506.72,322.58 506.79,320.9 506.86,322.58 506.93,320.9 507.01,322.58 507.08,322.58 507.15,320.9 507.22,319.22 507.3,320.9 507.37,322.58 507.44,319.22 507.51,319.22 507.59,322.58 507.66,324.27 507.73,319.22 507.8,320.9 507.87,322.58 507.95,322.58 508.02,322.58 508.09,319.22 508.16,322.58 508.24,320.9 508.31,320.9 508.38,319.22 508.45,322.58 508.53,320.9 508.6,320.9 508.67,320.9 508.74,320.9 508.82,320.9 508.89,322.58 508.96,322.58 509.03,320.9 509.11,320.9 509.18,320.9 509.25,320.9 509.32,324.27 509.4,320.9 509.47,320.9 509.54,320.9 509.61,320.9 509.68,322.58 509.76,320.9 509.83,320.9 509.9,322.58 509.97,320.9 510.05,319.22 510.12,320.9 510.19,320.9 510.26,319.22 510.34,317.53 510.41,320.9 510.48,319.22 510.55,320.9 510.63,322.58 510.7,320.9 510.77,320.9 510.84,320.9 510.92,320.9 510.99,322.58 511.06,320.9 511.13,322.58 511.21,320.9 511.28,320.9 511.35,320.9 511.42,322.58 511.49,322.58 511.57,320.9 511.64,324.27 511.71,319.22 511.78,322.58 511.86,322.58 511.93,319.22 512,320.9 512.07,320.9 512.15,319.22 512.22,319.22 512.29,317.53 512.36,320.9 512.44,322.58 512.51,322.58 512.58,320.9 512.65,322.58 512.73,319.22 512.8,320.9 512.87,320.9 512.94,322.58 513.02,322.58 513.09,320.9 513.16,324.27 513.23,320.9 513.3,319.22 513.38,320.9 513.45,322.58 513.52,322.58 513.59,324.27 513.67,320.9 513.74,319.22 513.81,320.9 513.88,320.9 513.96,319.22 514.03,324.27 514.1,322.58 514.17,320.9 514.25,317.53 514.32,320.9 514.39,320.9 514.46,320.9 514.54,320.9 514.61,322.58 514.68,324.27 514.75,319.22 514.83,319.22 514.9,320.9 514.97,322.58 515.04,320.9 515.11,320.9 515.19,322.58 515.26,320.9 515.33,320.9 515.4,320.9 515.48,322.58 515.55,319.22 515.62,320.9 515.69,320.9 515.77,320.9 515.84,319.22 515.91,320.9 515.98,320.9 516.06,320.9 516.13,320.9 516.2,319.22 516.27,320.9 516.35,320.9 516.42,320.9 516.49,320.9 516.56,320.9 516.64,320.9 516.71,320.9 516.78,317.53 516.85,320.9 516.92,320.9 517,324.27 517.07,322.58 517.14,322.58 517.21,320.9 517.29,320.9 517.36,319.22 517.43,319.22 517.5,319.22 517.58,319.22 517.65,322.58 517.72,322.58 517.79,322.58 517.87,317.53 517.94,322.58 518.01,320.9 518.08,322.58 518.16,320.9 518.23,324.27 518.3,320.9 518.37,320.9 518.45,317.53 518.52,322.58 518.59,319.22 518.66,322.58 518.73,322.58 518.81,320.9 518.88,317.53 518.95,320.9 519.02,320.9 519.1,320.9 519.17,322.58 519.24,319.22 519.31,319.22 519.39,320.9 519.46,322.58 519.53,319.22 519.6,320.9 519.68,322.58 519.75,320.9 519.82,319.22 519.89,320.9 519.97,319.22 520.04,317.53 520.11,320.9 520.18,319.22 520.26,319.22 520.33,322.58 520.4,320.9 520.47,320.9 520.54,320.9 520.62,322.58 520.69,322.58 520.76,322.58 520.83,322.58 520.91,319.22 520.98,319.22 521.05,320.9 521.12,320.9 521.2,319.22 521.27,320.9 521.34,320.9 521.41,320.9 521.49,319.22 521.56,320.9 521.63,319.22 521.7,320.9 521.78,320.9 521.85,320.9 521.92,320.9 521.99,322.58 522.07,319.22 522.14,320.9 522.21,322.58 522.28,322.58 522.35,322.58 522.43,320.9 522.5,319.22 522.57,322.58 522.64,319.22 522.72,322.58 522.79,322.58 522.86,322.58 522.93,319.22 523.01,320.9 523.08,320.9 523.15,319.22 523.22,324.27 523.3,320.9 523.37,320.9 523.44,322.58 523.51,320.9 523.59,320.9 523.66,322.58 523.73,322.58 523.8,320.9 523.88,322.58 523.95,320.9 524.02,319.22 524.09,320.9 524.16,322.58 524.24,322.58 524.31,325.95 524.38,319.22 524.45,322.58 524.53,320.9 524.6,317.53 524.67,320.9 524.74,319.22 524.82,322.58 524.89,320.9 524.96,320.9 525.03,320.9 525.11,320.9 525.18,320.9 525.25,320.9 525.32,319.22 525.4,322.58 525.47,322.58 525.54,322.58 525.61,320.9 525.69,320.9 525.76,320.9 525.83,320.9 525.9,320.9 525.97,320.9 526.05,320.9 526.12,320.9 526.19,317.53 526.26,319.22 526.34,322.58 526.41,317.53 526.48,320.9 526.55,320.9 526.63,320.9 526.7,320.9 526.77,322.58 526.84,320.9 526.92,319.22 526.99,320.9 527.06,319.22 527.13,320.9 527.21,322.58 527.28,320.9 527.35,320.9 527.42,319.22 527.5,322.58 527.57,319.22 527.64,322.58 527.71,320.9 527.78,317.53 527.86,320.9 527.93,322.58 528,320.9 528.07,322.58 528.15,320.9 528.22,320.9 528.29,319.22 528.36,322.58 528.44,320.9 528.51,322.58 528.58,320.9 528.65,320.9 528.73,319.22 528.8,317.53 528.87,320.9 528.94,320.9 529.02,322.58 529.09,320.9 529.16,320.9 529.23,320.9 529.31,320.9 529.38,322.58 529.45,320.9 529.52,317.53 529.59,319.22 529.67,320.9 529.74,320.9 529.81,322.58 529.88,320.9 529.96,320.9 530.03,322.58 530.1,320.9 530.17,322.58 530.25,322.58 530.32,320.9 530.39,320.9 530.46,320.9 530.54,319.22 530.61,319.22 530.68,320.9 530.75,320.9 530.83,320.9 530.9,320.9 530.97,315.85 531.04,324.27 531.12,320.9 531.19,320.9 531.26,319.22 531.33,319.22 531.4,320.9 531.48,320.9 531.55,320.9 531.62,319.22 531.69,320.9 531.77,320.9 531.84,319.22 531.91,320.9 531.98,322.58 532.06,320.9 532.13,317.53 532.2,320.9 532.27,320.9 532.35,319.22 532.42,320.9 532.49,322.58 532.56,322.58 532.64,317.53 532.71,322.58 532.78,322.58 532.85,320.9 532.93,320.9 533,320.9 533.07,320.9 533.14,319.22 533.21,320.9 533.29,322.58 533.36,322.58 533.43,319.22 533.5,319.22 533.58,320.9 533.65,320.9 533.72,320.9 533.79,322.58 533.87,320.9 533.94,324.27 534.01,320.9 534.08,319.22 534.16,314.17 534.23,322.58 534.3,322.58 534.37,319.22 534.45,322.58 534.52,327.63 534.59,320.9 534.66,320.9 534.74,320.9 534.81,319.22 534.88,320.9"/>
<rect class="sp" x="310.6" y="292.4" width="235.35" height="43.9"/>
<path class="tk" d="M321.3 336.3v2.3M357.5 336.3v2.3M393.7 336.3v2.3M429.9 336.3v2.3M466.1 336.3v2.3M502.3 336.3v2.3M538.5 336.3v2.3M310.6 297.2h-2.3M310.6 320.9h-2.3"/>
<text class="t" x="321.65" y="345.64" text-anchor="middle">0</text>
<text class="t" x="357.85" y="345.64" text-anchor="middle">500</text>
<text class="t" x="394.05" y="345.64" text-anchor="middle">1000</text>
<text class="t" x="430.25" y="345.64" text-anchor="middle">1500</text>
<text class="t" x="466.45" y="345.64" text-anchor="middle">2000</text>
<text class="t" x="502.65" y="345.64" text-anchor="middle">2500</text>
<text class="t" x="538.85" y="345.64" text-anchor="middle">3000</text>
<text class="t" x="306.3" y="299.57" text-anchor="end">5</text>
<text class="t" x="306.3" y="323.27" text-anchor="end">0</text>
<text class="t" text-anchor="middle" transform="translate(298.38 314.35) rotate(-90)">Res</text>
<text class="t" x="310.6" y="290">1e−14</text>
</g>
</svg></body></html>
